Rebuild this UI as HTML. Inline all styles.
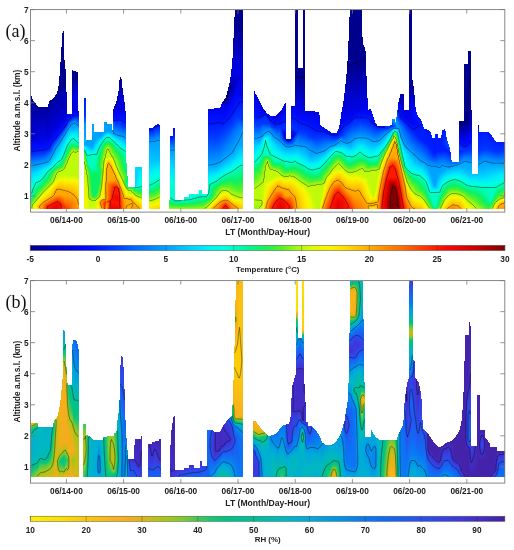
<!DOCTYPE html>
<html><head><meta charset="utf-8"><style>
html,body{margin:0;padding:0;background:#fff}
#w{position:relative;width:514px;height:550px;overflow:hidden;background:#fff}
#w i{position:absolute;width:1px;display:block}
svg{position:absolute;left:0;top:0}
.t{font-family:"Liberation Sans",Arial,sans-serif;font-weight:bold;font-size:8.3px;text-anchor:middle;fill:#222}
.s{font-family:"Liberation Serif","Times New Roman",serif;font-size:18px;fill:#111}
</style></head><body><div id="w">
<i style="left:31px;top:96px;height:113px;background:linear-gradient(#00009c 0.5px,#0002dd 43.5px,#000eff 53.5px,#0031ff 58.5px,#007bff 65.5px,#00bfff 74.5px,#00eef7 86.5px,#00fedf 93.5px,#00fbb1 99.5px,#0ef061 103.5px,#54f027 107.5px,#a1f712 110.5px,#acf80f 112.5px)"></i>
<i style="left:32px;top:99px;height:110px;background:linear-gradient(#00009c 0.5px,#0001da 39.5px,#000fff 50.5px,#0032ff 55.5px,#007dff 62.5px,#00dcff 75.5px,#00ffe6 86.5px,#01f9a0 95.5px,#08f272 98.5px,#26f04c 100.5px,#4ff029 102.5px,#b0f90e 105.5px,#c2fa09 106.5px,#c7fa08 109.5px)"></i>
<i style="left:33px;top:101px;height:108px;background:linear-gradient(#00009c 0.5px,#0001db 37.5px,#0010ff 48.5px,#0034ff 53.5px,#007eff 60.5px,#00e7fb 74.5px,#00fedf 82.5px,#04f691 92.5px,#09f16b 95.5px,#29f049 97.5px,#54f027 99.5px,#b6f90c 102.5px,#cafa08 103.5px,#dafa05 107.5px)"></i>
<i style="left:34px;top:102px;height:107px;background:linear-gradient(#00009c 0.5px,#0001db 36.5px,#0010ff 47.5px,#0036ff 52.5px,#0080ff 59.5px,#00e3fe 72.5px,#00fee1 78.5px,#00fcc0 83.5px,#00fbb9 85.5px,#03f797 88.5px,#0ef060 93.5px,#41f035 96.5px,#9bf714 99.5px,#d0fa07 101.5px,#e4fa03 102.5px,#eafa02 106.5px)"></i>
<i style="left:35px;top:103px;height:106px;background:linear-gradient(#00009b 0.5px,#0002e0 36.5px,#0011ff 46.5px,#0038ff 51.5px,#0082ff 58.5px,#00e5fc 71.5px,#00ffe9 76.5px,#00fcc0 80.5px,#00fbbd 83.5px,#04f68b 86.5px,#0ff05f 90.5px,#48f02f 94.5px,#7ff41b 96.5px,#bffa0a 98.5px,#f6f700 101.5px,#f7f500 105.5px)"></i>
<i style="left:36px;top:105px;height:104px;background:linear-gradient(#00009c 0.5px,#0003e4 35.5px,#0012ff 44.5px,#003aff 49.5px,#0083ff 56.5px,#00e2fe 68.5px,#00fee3 74.5px,#00fcc0 77.5px,#00fcc0 80.5px,#09f16c 85.5px,#25f04d 88.5px,#4ff029 91.5px,#c3fa09 95.5px,#f7f600 98.5px,#fee400 100.5px,#fde700 103.5px)"></i>
<i style="left:37px;top:106px;height:103px;background:linear-gradient(#00009c 0.5px,#0003e5 34.5px,#0012ff 43.5px,#003cff 48.5px,#0085ff 55.5px,#00e0ff 66.5px,#00ffe9 72.5px,#00fcc0 76.5px,#00fcc0 78.5px,#0af067 83.5px,#59f126 89.5px,#c6fa09 93.5px,#f7f500 96.5px,#ffd000 100.5px,#ffdb00 102.5px)"></i>
<i style="left:38px;top:107px;height:102px;background:linear-gradient(#00009d 0.5px,#0004e5 33.5px,#0013ff 42.5px,#003eff 47.5px,#0087ff 54.5px,#00e4fd 65.5px,#00fee4 71.5px,#00fcc1 74.5px,#00fcc0 76.5px,#09f16b 81.5px,#42f034 85.5px,#66f222 87.5px,#dbfa05 92.5px,#f7f400 94.5px,#ffd300 97.5px,#ffb800 99.5px,#ffcb00 101.5px)"></i>
<i style="left:39px;top:107px;height:102px;background:linear-gradient(#00009d 0.5px,#0004e6 33.5px,#0013ff 42.5px,#0040ff 47.5px,#0088ff 54.5px,#00e2fe 64.5px,#00ffea 70.5px,#00fcc0 74.5px,#00fcc0 75.5px,#09f16e 80.5px,#48f02f 84.5px,#9ef713 88.5px,#f0fa01 92.5px,#ffd200 96.5px,#ffaa00 99.5px,#ffb700 101.5px)"></i>
<i style="left:40px;top:107px;height:102px;background:linear-gradient(#00009e 0.5px,#0004e7 33.5px,#0014ff 42.5px,#0042ff 47.5px,#008aff 54.5px,#00e6fc 64.5px,#00fee2 70.5px,#00faaf 75.5px,#11f05e 80.5px,#5ff124 84.5px,#cefa07 89.5px,#f3fa00 91.5px,#ffd200 95.5px,#ffa900 98.5px,#ffa900 101.5px)"></i>
<i style="left:41px;top:107px;height:102px;background:linear-gradient(#00009e 0.5px,#0003e3 32.5px,#0010ff 41.5px,#002cff 45.5px,#0083ff 53.5px,#00e5fd 63.5px,#00fee3 69.5px,#00faad 74.5px,#12f05d 79.5px,#5bf125 83.5px,#c1fa0a 87.5px,#f4fa00 90.5px,#ffd100 94.5px,#ffa700 97.5px,#ff9900 101.5px)"></i>
<i style="left:42px;top:107px;height:102px;background:linear-gradient(#00009e 0.5px,#0004e8 33.5px,#0011ff 41.5px,#002eff 45.5px,#0085ff 53.5px,#00e9fa 63.5px,#00fee1 68.5px,#00faaa 73.5px,#09f16b 77.5px,#5df125 82.5px,#c3fa09 86.5px,#f2fa01 89.5px,#ffd300 93.5px,#ff9900 97.5px,#ff8700 101.5px)"></i>
<i style="left:43px;top:107px;height:102px;background:linear-gradient(#00009e 0.5px,#0004e8 33.5px,#0012ff 41.5px,#002fff 45.5px,#007dff 52.5px,#00b1ff 57.5px,#00e7fb 62.5px,#00fee0 67.5px,#00faa8 72.5px,#09f169 76.5px,#5ef124 81.5px,#c5fa09 85.5px,#f3fa00 88.5px,#ffd600 92.5px,#ff8300 97.5px,#ff7400 101.5px)"></i>
<i style="left:44px;top:107px;height:102px;background:linear-gradient(#00009e 0.5px,#0003e3 31.5px,#0012ff 41.5px,#003eff 46.5px,#0080ff 52.5px,#00b5ff 57.5px,#00e6fc 61.5px,#00ffea 65.5px,#05f587 73.5px,#0af067 75.5px,#5ef124 80.5px,#c5fa09 84.5px,#f3fa00 87.5px,#ffda00 91.5px,#ff6800 98.5px,#ff5b00 101.5px)"></i>
<i style="left:45px;top:107px;height:102px;background:linear-gradient(#00009e 0.5px,#0003e1 30.5px,#000fff 40.5px,#0022ff 43.5px,#0079ff 51.5px,#00b8ff 57.5px,#00ebf8 61.5px,#00fedb 65.5px,#0af066 74.5px,#60f124 79.5px,#c5fa09 83.5px,#f1fa01 86.5px,#ffd000 91.5px,#ff7800 96.5px,#ff4d00 98.5px,#ff3f00 101.5px)"></i>
<i style="left:46px;top:107px;height:102px;background:linear-gradient(#00009e 0.5px,#0000d7 26.5px,#0003e3 30.5px,#0012ff 40.5px,#0019ff 42.5px,#0067ff 48.5px,#00a1ff 55.5px,#00e6fc 60.5px,#00ffe7 63.5px,#0af064 73.5px,#61f223 78.5px,#c5fa09 82.5px,#f7f600 86.5px,#ffd300 90.5px,#ff9500 94.5px,#ff3a00 98.5px,#fd2800 100.5px,#fd2700 101.5px)"></i>
<i style="left:47px;top:107px;height:102px;background:linear-gradient(#00009f 0.5px,#0000d7 26.5px,#0002dd 29.5px,#000dff 38.5px,#001bff 42.5px,#0065ff 47.5px,#00a7ff 55.5px,#00ecf8 60.5px,#00ffeb 62.5px,#04f691 68.5px,#0ef061 72.5px,#62f223 77.5px,#c5fa09 81.5px,#f6f700 85.5px,#ffca00 90.5px,#ff8a00 94.5px,#fc1900 99.5px,#fb1700 101.5px)"></i>
<i style="left:48px;top:104px;height:105px;background:linear-gradient(#00009c 0.5px,#0000d7 29.5px,#0002de 32.5px,#000afe 39.5px,#0020ff 45.5px,#006eff 50.5px,#00adff 58.5px,#00e8fa 62.5px,#00fdec 64.5px,#05f589 70.5px,#0af066 73.5px,#4cf02c 78.5px,#c6fa09 83.5px,#f6f700 87.5px,#ffcd00 92.5px,#ff9200 96.5px,#ff3900 100.5px,#fd2200 101.5px,#fb1300 104.5px)"></i>
<i style="left:49px;top:101px;height:108px;background:linear-gradient(#00009b 0.5px,#0000d7 32.5px,#000dff 42.5px,#0027ff 48.5px,#006dff 52.5px,#00b4ff 61.5px,#00eff6 65.5px,#00fee1 67.5px,#04f68e 71.5px,#13f05c 75.5px,#4df02a 80.5px,#c6fa08 85.5px,#f2fa01 88.5px,#ffd200 94.5px,#ff9a00 98.5px,#fc1800 104.5px,#fa0e00 107.5px)"></i>
<i style="left:50px;top:100px;height:109px;background:linear-gradient(#00009b 0.5px,#0003e4 36.5px,#000dff 42.5px,#0028ff 47.5px,#005aff 51.5px,#0082ff 54.5px,#00cfff 63.5px,#00f5f2 66.5px,#00fdd0 68.5px,#09f169 73.5px,#52f027 80.5px,#d8fa05 86.5px,#f5fa00 88.5px,#ffd400 94.5px,#ffa200 98.5px,#ff5100 102.5px,#fd2200 104.5px,#f90a00 108.5px)"></i>
<i style="left:51px;top:100px;height:109px;background:linear-gradient(#00009d 0.5px,#0003e4 34.5px,#000dff 41.5px,#0031ff 46.5px,#008eff 54.5px,#00e7fb 64.5px,#00fdec 66.5px,#0af064 72.5px,#49f02e 77.5px,#72f31f 80.5px,#eafa02 86.5px,#f8f200 88.5px,#ffbf00 95.5px,#ff9700 98.5px,#fc1800 104.5px,#f70900 108.5px)"></i>
<i style="left:52px;top:99px;height:110px;background:linear-gradient(#00009d 0.5px,#0001dd 31.5px,#000eff 41.5px,#0030ff 45.5px,#0077ff 51.5px,#00eaf9 64.5px,#00fced 66.5px,#04f68e 70.5px,#10f05f 72.5px,#4cf02b 76.5px,#b3f90d 83.5px,#f7f600 87.5px,#ffab00 97.5px,#ff6800 101.5px,#fd2200 104.5px,#fa0a00 107.5px,#f40800 109.5px)"></i>
<i style="left:53px;top:98px;height:111px;background:linear-gradient(#00009d 0.5px,#0001dd 31.5px,#000fff 41.5px,#002aff 44.5px,#006eff 49.5px,#00e5fc 63.5px,#00feec 66.5px,#03f794 70.5px,#11f05e 72.5px,#3df039 74.5px,#47f030 75.5px,#7df41c 78.5px,#d8fa05 85.5px,#f7f600 87.5px,#ffaa00 97.5px,#ff9400 99.5px,#fc1800 105.5px,#f70900 108.5px,#f10700 110.5px)"></i>
<i style="left:54px;top:97px;height:112px;background:linear-gradient(#00009e 0.5px,#0001db 31.5px,#0011ff 41.5px,#002dff 44.5px,#006aff 48.5px,#00a9ff 55.5px,#00c6ff 59.5px,#00f1f5 64.5px,#00ffe6 66.5px,#06f47f 71.5px,#0bf063 72.5px,#42f034 74.5px,#84f51a 77.5px,#bdfa0a 81.5px,#cafa08 83.5px,#f6f700 87.5px,#ffaa00 96.5px,#ffaa00 98.5px,#ff4e00 103.5px,#fb1300 106.5px,#ef0700 110.5px,#ec0600 111.5px)"></i>
<i style="left:55px;top:95px;height:114px;background:linear-gradient(#00009c 0.5px,#0002de 33.5px,#000dff 41.5px,#0023ff 44.5px,#007aff 50.5px,#00a9ff 55.5px,#00ceff 61.5px,#00fbed 66.5px,#00faac 70.5px,#0af067 73.5px,#5df125 76.5px,#88f519 77.5px,#befa0a 80.5px,#c5fa09 84.5px,#f4fa00 87.5px,#ffdf00 91.5px,#ffb700 94.5px,#ffaa00 97.5px,#ffa700 100.5px,#fc1800 107.5px,#f10700 110.5px,#ea0500 113.5px)"></i>
<i style="left:56px;top:94px;height:115px;background:linear-gradient(#00009d 0.5px,#0001dc 33.5px,#000fff 41.5px,#0026ff 44.5px,#007eff 50.5px,#00afff 55.5px,#00e2ff 63.5px,#00feec 66.5px,#00fcc0 69.5px,#00fcbf 70.5px,#0af066 73.5px,#51f028 76.5px,#aaf810 78.5px,#befa0a 79.5px,#c0fa0a 84.5px,#f7f600 88.5px,#ffda00 92.5px,#ffaa00 95.5px,#ffa300 101.5px,#fd2100 107.5px,#f90a00 109.5px,#ea0500 113.5px,#ed0600 114.5px)"></i>
<i style="left:57px;top:91px;height:118px;background:linear-gradient(#000097 0.5px,#0002df 36.5px,#0010ff 43.5px,#0029ff 46.5px,#0076ff 51.5px,#00b4ff 57.5px,#00e8fb 66.5px,#00fee0 69.5px,#00fcc0 71.5px,#00fbb6 73.5px,#11f05e 76.5px,#4ef02a 78.5px,#befa0a 81.5px,#befa0a 86.5px,#f6f800 90.5px,#ffc300 96.5px,#ffaa00 98.5px,#ffaa00 103.5px,#ff8b00 105.5px,#fc1900 110.5px,#ed0600 114.5px,#f10700 117.5px)"></i>
<i style="left:58px;top:86px;height:123px;background:linear-gradient(#00008e 0.5px,#0000aa 13.5px,#0002e0 40.5px,#0011ff 47.5px,#002dff 50.5px,#006fff 54.5px,#00b8ff 61.5px,#00eaf9 70.5px,#00ffe7 73.5px,#00fcc0 75.5px,#00fcc0 77.5px,#04f68f 79.5px,#08f271 80.5px,#39f03c 82.5px,#5cf125 83.5px,#bbfa0b 85.5px,#c5fa09 91.5px,#f4fa00 94.5px,#ffc400 100.5px,#ffaa00 103.5px,#ffaa00 108.5px,#fd2400 115.5px,#f60900 118.5px,#f60900 122.5px)"></i>
<i style="left:59px;top:76px;height:133px;background:linear-gradient(#00008c 0.5px,#000093 13.5px,#0000a8 18.5px,#0001dd 48.5px,#0011ff 56.5px,#0032ff 59.5px,#0074ff 63.5px,#00c4ff 71.5px,#00f3f3 80.5px,#00fdec 82.5px,#00fcc5 84.5px,#00fcc0 87.5px,#0af066 90.5px,#45f031 92.5px,#9ff712 94.5px,#befa0a 95.5px,#c0fa0a 100.5px,#effa01 103.5px,#ffcc00 109.5px,#ffaa00 113.5px,#ffaa00 118.5px,#fc1e00 126.5px,#fa0a00 129.5px,#fa0d00 132.5px)"></i>
<i style="left:60px;top:62px;height:147px;background:linear-gradient(#00008c 0.5px,#000091 26.5px,#0000ad 32.5px,#0000b3 40.5px,#0002de 61.5px,#0013ff 69.5px,#0027ff 71.5px,#006eff 75.5px,#00b8ff 82.5px,#00ebf8 90.5px,#00fedf 96.5px,#00fcc0 98.5px,#00fcc0 99.5px,#03f793 102.5px,#15f05b 104.5px,#53f027 106.5px,#b4f90d 108.5px,#befa0a 110.5px,#befa0a 113.5px,#f6f800 117.5px,#ffce00 123.5px,#ffaa00 127.5px,#ffa900 132.5px,#fc1b00 141.5px,#fb1400 146.5px)"></i>
<i style="left:61px;top:47px;height:162px;background:linear-gradient(#00008c 0.5px,#00008f 40.5px,#0000b2 47.5px,#0000b3 54.5px,#0002e0 75.5px,#0014ff 83.5px,#002cff 85.5px,#0074ff 89.5px,#00bdff 96.5px,#00f1f5 104.5px,#00fedf 109.5px,#01f9a3 114.5px,#0df061 118.5px,#40f035 120.5px,#befa0a 123.5px,#c4fa09 128.5px,#f5f900 132.5px,#ffc700 139.5px,#ffab00 142.5px,#ffaa00 147.5px,#fc1e00 157.5px,#fc1f00 161.5px)"></i>
<i style="left:62px;top:33px;height:176px;background:linear-gradient(#00008c 0.5px,#000091 54.5px,#0000b7 61.5px,#0000b5 68.5px,#0001db 87.5px,#000fff 95.5px,#0020ff 97.5px,#007bff 102.5px,#00baff 108.5px,#00ecf8 115.5px,#00fede 121.5px,#00fbb4 125.5px,#10f05f 130.5px,#4ef02a 134.5px,#adf80f 136.5px,#befa0a 137.5px,#bffa0a 141.5px,#f7f500 147.5px,#ffc000 154.5px,#ffaa00 157.5px,#ffa400 162.5px,#fd2200 172.5px,#ff3300 175.5px)"></i>
<i style="left:63px;top:31px;height:178px;background:linear-gradient(#00008c 0.5px,#000090 55.5px,#0000bc 63.5px,#0000b9 71.5px,#0001db 88.5px,#0011ff 96.5px,#0025ff 98.5px,#0074ff 102.5px,#00afff 107.5px,#00ecf8 115.5px,#00fee2 120.5px,#00fbb5 125.5px,#12f05d 130.5px,#6cf320 135.5px,#9bf714 137.5px,#befa0a 138.5px,#befa0a 143.5px,#f2fa01 148.5px,#ffcc00 155.5px,#ffaa00 159.5px,#ffa900 164.5px,#ff4a00 172.5px,#fd2900 175.5px,#ff4000 177.5px)"></i>
<i style="left:64px;top:60px;height:149px;background:linear-gradient(#00008c 0.5px,#00008e 25.5px,#0000c1 34.5px,#0000bb 42.5px,#0001db 58.5px,#000dff 65.5px,#0018ff 67.5px,#007bff 72.5px,#00b4ff 77.5px,#00edf7 84.5px,#00fedf 89.5px,#00faaf 94.5px,#09f16c 98.5px,#5bf125 103.5px,#bbfa0b 107.5px,#befa0a 114.5px,#f5fa00 119.5px,#ffd700 125.5px,#ffaa00 130.5px,#ffa600 135.5px,#ff8000 140.5px,#fe3100 146.5px,#fe3100 147.5px,#ff3d00 148.5px)"></i>
<i style="left:65px;top:69px;height:140px;background:linear-gradient(#00008c 0.5px,#000092 16.5px,#0000c5 26.5px,#0000be 34.5px,#0001dc 48.5px,#0011ff 55.5px,#001fff 57.5px,#0074ff 61.5px,#00a9ff 65.5px,#00eaf9 73.5px,#00ffe5 77.5px,#00faa7 83.5px,#09f16d 87.5px,#4af02d 91.5px,#befa0a 96.5px,#befa0a 105.5px,#f4fa00 110.5px,#ffda00 116.5px,#ffab00 121.5px,#ffa700 126.5px,#ff6c00 134.5px,#ff3400 138.5px,#ff3a00 139.5px)"></i>
<i style="left:66px;top:92px;height:117px;background:linear-gradient(#0000be 0.5px,#0000ca 3.5px,#0000c2 12.5px,#0002de 24.5px,#000eff 30.5px,#001aff 32.5px,#009cff 39.5px,#00e8fa 48.5px,#00fee4 52.5px,#06f483 60.5px,#0af065 62.5px,#4bf02c 66.5px,#b4f90d 70.5px,#befa0a 72.5px,#befa0a 82.5px,#f7f600 88.5px,#ffc900 95.5px,#ffaa00 99.5px,#ffa100 104.5px,#ff6000 113.5px,#ff3600 116.5px)"></i>
<i style="left:67px;top:114px;height:95px;background:linear-gradient(#0006ed 0.5px,#0004e6 2.5px,#0012ff 7.5px,#0026ff 9.5px,#0086ff 14.5px,#00aaff 17.5px,#00ecf7 25.5px,#00ffe8 28.5px,#09f16e 37.5px,#1df054 39.5px,#65f222 43.5px,#bbfa0b 46.5px,#c4fa09 61.5px,#f6f700 66.5px,#ffc900 73.5px,#ffaa00 77.5px,#ffa200 82.5px,#ff5000 93.5px,#ff4500 94.5px)"></i>
<i style="left:68px;top:114px;height:95px;background:linear-gradient(#000eff 0.5px,#0006ed 2.5px,#0015ff 6.5px,#0048ff 9.5px,#00a1ff 14.5px,#00eaf9 23.5px,#00feec 26.5px,#08f26f 35.5px,#31f043 38.5px,#51f028 40.5px,#bcfa0b 44.5px,#c3fa09 61.5px,#f6f700 66.5px,#ffca00 73.5px,#ffaa00 77.5px,#ffa300 82.5px,#ff4a00 94.5px)"></i>
<i style="left:69px;top:114px;height:95px;background:linear-gradient(#0019ff 0.5px,#0009fb 3.5px,#0024ff 6.5px,#006bff 9.5px,#009cff 12.5px,#00ecf8 22.5px,#00fee4 25.5px,#00faaf 29.5px,#0af065 34.5px,#55f027 38.5px,#bdfa0a 42.5px,#c2fa09 61.5px,#f6f800 66.5px,#ffcb00 73.5px,#ffaa00 78.5px,#ffa400 82.5px,#ff5100 94.5px)"></i>
<i style="left:70px;top:114px;height:95px;background:linear-gradient(#0019ff 0.5px,#0015ff 4.5px,#0035ff 6.5px,#0086ff 9.5px,#00a0ff 11.5px,#00a0ff 13.5px,#00dcff 19.5px,#00fced 23.5px,#00fcc0 26.5px,#00fcc0 28.5px,#04f691 30.5px,#08f275 31.5px,#17f059 33.5px,#48f02f 36.5px,#befa0a 40.5px,#c1fa09 61.5px,#f6f800 66.5px,#ffc300 74.5px,#ffaa00 79.5px,#ffa500 82.5px,#ff6400 92.5px,#ff6100 94.5px)"></i>
<i style="left:71px;top:114px;height:95px;background:linear-gradient(#0019ff 0.5px,#0019ff 3.5px,#0034ff 5.5px,#0094ff 9.5px,#00a0ff 10.5px,#00a0ff 13.5px,#00ecf8 20.5px,#00fee4 23.5px,#00fcc0 25.5px,#00fcc0 28.5px,#04f690 30.5px,#17f058 32.5px,#3ff036 34.5px,#4cf02b 35.5px,#aff90e 38.5px,#befa0a 39.5px,#c0fa0a 61.5px,#f6f900 66.5px,#ffaa00 79.5px,#ff9f00 83.5px,#ff7400 90.5px,#ff6c00 94.5px)"></i>
<i style="left:72px;top:70px;height:139px;background:linear-gradient(#00008c 0.5px,#000092 10.5px,#0003e2 25.5px,#0000d6 39.5px,#000afd 43.5px,#001dff 47.5px,#009dff 53.5px,#00a1ff 57.5px,#00e7fb 63.5px,#00ffe9 66.5px,#00fcc3 68.5px,#00fcc0 72.5px,#08f272 75.5px,#19f057 76.5px,#54f027 78.5px,#b0f90e 81.5px,#befa0a 82.5px,#bffa0a 105.5px,#f5f900 110.5px,#ffac00 123.5px,#ff9900 128.5px,#ff7f00 133.5px,#ff7900 138.5px)"></i>
<i style="left:73px;top:71px;height:138px;background:linear-gradient(#00008c 0.5px,#000091 8.5px,#0003e5 24.5px,#0000d7 38.5px,#000cff 43.5px,#0026ff 46.5px,#0090ff 51.5px,#00a0ff 52.5px,#00a3ff 56.5px,#00e8fa 62.5px,#00fee0 65.5px,#00fcc0 67.5px,#00fcc0 71.5px,#08f271 74.5px,#37f03e 76.5px,#56f126 77.5px,#b0f90e 79.5px,#befa0a 80.5px,#befa0a 104.5px,#f5fa00 109.5px,#ffb700 121.5px,#ff8900 131.5px,#ff8000 137.5px)"></i>
<i style="left:74px;top:71px;height:138px;background:linear-gradient(#00008c 0.5px,#00008f 7.5px,#0004e8 24.5px,#0000d7 38.5px,#0010ff 44.5px,#002bff 46.5px,#0085ff 50.5px,#00a0ff 52.5px,#00a4ff 56.5px,#00eaf9 62.5px,#00fee1 65.5px,#00fcc0 68.5px,#00fcc0 71.5px,#08f270 74.5px,#38f03d 76.5px,#58f126 77.5px,#b8f90c 80.5px,#befa0a 94.5px,#befa0a 104.5px,#f5fa00 109.5px,#ffbc00 121.5px,#ff8b00 133.5px,#ff8500 137.5px)"></i>
<i style="left:75px;top:71px;height:138px;background:linear-gradient(#00008c 0.5px,#000093 7.5px,#0005eb 24.5px,#0000d9 38.5px,#0011ff 44.5px,#002fff 46.5px,#0076ff 49.5px,#00a0ff 52.5px,#00a6ff 56.5px,#00ebf8 62.5px,#00ffe5 66.5px,#00fcc2 69.5px,#00fcc0 71.5px,#09f16e 74.5px,#57f126 78.5px,#abf80f 80.5px,#befa0a 81.5px,#befa0a 104.5px,#f4fa00 109.5px,#ffcd00 119.5px,#ff9a00 130.5px,#ff8a00 137.5px)"></i>
<i style="left:76px;top:72px;height:137px;background:linear-gradient(#00008c 0.5px,#000092 5.5px,#0005ea 22.5px,#0005eb 28.5px,#0002df 35.5px,#0001db 37.5px,#000aff 42.5px,#001fff 44.5px,#0060ff 47.5px,#00a0ff 52.5px,#00a7ff 55.5px,#00dfff 60.5px,#00ffea 66.5px,#00fcc0 69.5px,#00fcc0 70.5px,#09f16a 74.5px,#5df125 77.5px,#b6f90c 79.5px,#befa0a 83.5px,#befa0a 103.5px,#f7f600 109.5px,#ffa900 126.5px,#ff8e00 136.5px)"></i>
<i style="left:77px;top:72px;height:137px;background:linear-gradient(#00008c 0.5px,#000096 5.5px,#0005ec 22.5px,#0006f0 27.5px,#0003e3 34.5px,#0000d8 36.5px,#000cff 42.5px,#003cff 46.5px,#0087ff 51.5px,#00a0ff 53.5px,#00a9ff 55.5px,#00d5ff 60.5px,#00fdec 67.5px,#00fbb8 71.5px,#0af064 74.5px,#67f222 77.5px,#befa0a 79.5px,#befa0a 103.5px,#f6f600 109.5px,#fee300 115.5px,#ffa700 129.5px,#ff9900 135.5px,#ff9200 136.5px)"></i>
<i style="left:78px;top:111px;height:98px;background:linear-gradient(#0006ee 0.5px,#0010ff 3.5px,#0049ff 8.5px,#00a8ff 16.5px,#00ebf9 26.5px,#00fced 29.5px,#00fbb3 32.5px,#10f05e 35.5px,#49f02e 37.5px,#9ff712 39.5px,#befa0a 40.5px,#c3fa09 65.5px,#f6f700 70.5px,#ffc500 85.5px,#ffad00 92.5px,#ff9800 97.5px)"></i>
<i style="left:84px;top:98px;height:111px;background:linear-gradient(#0019ff 0.5px,#002dff 17.5px,#009fff 27.5px,#00a3ff 37.5px,#00caff 42.5px,#00a0ff 45.5px,#00acff 46.5px,#00dfff 48.5px,#00f3f3 49.5px,#00fcc9 51.5px,#00faae 52.5px,#09f16d 53.5px,#48f02f 56.5px,#7cf41c 59.5px,#8ef617 61.5px,#befa0a 63.5px,#befa0a 78.5px,#ddfa04 81.5px,#f8f200 100.5px,#f9f100 108.5px,#f7f400 110.5px)"></i>
<i style="left:85px;top:98px;height:111px;background:linear-gradient(#001fff 0.5px,#003bff 18.5px,#00a0ff 27.5px,#00a0ff 38.5px,#00bcff 42.5px,#00a0ff 44.5px,#00a6ff 46.5px,#00eef6 49.5px,#00ffe8 51.5px,#00fcc3 54.5px,#09f16e 57.5px,#27f04b 59.5px,#48f02f 62.5px,#befa0a 67.5px,#befa0a 78.5px,#d5fa06 81.5px,#f8f200 104.5px,#f4fa00 110.5px)"></i>
<i style="left:86px;top:140px;height:69px;background:linear-gradient(#00a6ff 0.5px,#00a0ff 4.5px,#00e2ff 7.5px,#00ffe8 11.5px,#00fbbc 15.5px,#07f37c 18.5px,#0af065 20.5px,#54f027 25.5px,#a7f810 28.5px,#b9fa0b 29.5px,#befa0a 36.5px,#ccfa07 40.5px,#ecfa02 59.5px,#f5fa00 63.5px,#ecfa02 68.5px)"></i>
<i style="left:87px;top:140px;height:69px;background:linear-gradient(#00a0ff 0.5px,#00a0ff 4.5px,#00dfff 8.5px,#00ffe6 13.5px,#00fcc9 14.5px,#00fcc0 16.5px,#00fab0 19.5px,#0df062 25.5px,#1df054 26.5px,#50f028 28.5px,#76f31e 29.5px,#befa0a 35.5px,#ddfa04 59.5px,#e5fa03 63.5px,#e1fa04 67.5px,#e4fa03 68.5px)"></i>
<i style="left:88px;top:140px;height:69px;background:linear-gradient(#00a0ff 0.5px,#00a7ff 5.5px,#00ddff 9.5px,#00f5f2 12.5px,#00fee4 13.5px,#00fcc7 14.5px,#00fcc0 19.5px,#00fcc0 23.5px,#00faa8 25.5px,#0af065 27.5px,#3bf03a 29.5px,#81f41b 36.5px,#9df713 40.5px,#bffa0a 51.5px,#cefa07 59.5px,#d4fa06 63.5px,#dcfa05 68.5px)"></i>
<i style="left:89px;top:140px;height:69px;background:linear-gradient(#00a0ff 0.5px,#00a0ff 5.5px,#00e9fa 11.5px,#00fee2 13.5px,#00fcc5 14.5px,#00fbbc 26.5px,#0bf063 29.5px,#1ff052 31.5px,#58f126 41.5px,#a8f810 57.5px,#c3fa09 60.5px,#d3fa06 68.5px)"></i>
<i style="left:90px;top:140px;height:69px;background:linear-gradient(#00a0ff 0.5px,#00a1ff 6.5px,#00eaf9 11.5px,#00fedf 13.5px,#00fcc3 14.5px,#00fcbe 27.5px,#05f587 29.5px,#08f275 32.5px,#0af064 33.5px,#18f058 38.5px,#5cf125 53.5px,#64f223 55.5px,#91f616 58.5px,#befa0a 59.5px,#cbfa08 67.5px,#cffa07 68.5px)"></i>
<i style="left:91px;top:140px;height:69px;background:linear-gradient(#00a0ff 0.5px,#00a0ff 6.5px,#00cbff 9.5px,#00f8f0 12.5px,#00fcc1 14.5px,#00fcbf 28.5px,#0af064 33.5px,#11f05e 45.5px,#38f03d 54.5px,#62f223 57.5px,#83f51a 58.5px,#b5f90c 59.5px,#befa0a 62.5px,#d1fa07 68.5px)"></i>
<i style="left:92px;top:124px;height:85px;background:linear-gradient(#00a0ff 0.5px,#00a0ff 20.5px,#00bcff 24.5px,#00ecf8 27.5px,#00fedb 29.5px,#00fcc0 30.5px,#00fbbc 44.5px,#02f89e 46.5px,#0af064 49.5px,#0ef061 68.5px,#1cf055 70.5px,#4af02d 73.5px,#acf80f 75.5px,#befa0a 76.5px,#c7fa08 81.5px,#d4fa06 84.5px)"></i>
<i style="left:93px;top:124px;height:85px;background:linear-gradient(#00a0ff 0.5px,#00a0ff 18.5px,#00dfff 26.5px,#00faee 28.5px,#00fcc0 30.5px,#00fbba 43.5px,#00faae 45.5px,#0af064 49.5px,#0af064 70.5px,#29f049 72.5px,#44f033 73.5px,#a2f712 75.5px,#befa0a 76.5px,#c9fa08 81.5px,#d7fa06 84.5px)"></i>
<i style="left:94px;top:132px;height:77px;background:linear-gradient(#00a0ff 0.5px,#00a6ff 9.5px,#00e6fc 18.5px,#00fbee 20.5px,#00fcc0 22.5px,#00fcbe 33.5px,#02f89e 38.5px,#0af064 41.5px,#0af064 63.5px,#1df054 64.5px,#65f222 66.5px,#98f714 67.5px,#befa0a 68.5px,#d9fa05 76.5px)"></i>
<i style="left:95px;top:132px;height:77px;background:linear-gradient(#00a0ff 0.5px,#00a0ff 7.5px,#00e9fa 16.5px,#00fced 20.5px,#00fcc0 22.5px,#00fbb8 29.5px,#00faaa 35.5px,#03f798 38.5px,#0af064 41.5px,#0af064 62.5px,#25f04d 64.5px,#61f223 66.5px,#befa0a 68.5px,#ddfa04 76.5px)"></i>
<i style="left:96px;top:132px;height:77px;background:linear-gradient(#00a0ff 0.5px,#00a0ff 6.5px,#00e5fd 13.5px,#00fee1 19.5px,#00fcc0 22.5px,#03f792 33.5px,#01f9a1 35.5px,#05f58a 39.5px,#0af064 41.5px,#0af064 60.5px,#43f033 64.5px,#62f223 65.5px,#befa0a 67.5px,#eafa02 69.5px,#d4fa06 71.5px,#e6fa03 76.5px)"></i>
<i style="left:97px;top:132px;height:77px;background:linear-gradient(#00a0ff 0.5px,#00a0ff 5.5px,#00eaf9 12.5px,#00fedc 17.5px,#03f792 26.5px,#07f378 33.5px,#03f792 36.5px,#08f275 40.5px,#0af064 41.5px,#0df061 58.5px,#4af02d 63.5px,#64f223 64.5px,#d9fa05 67.5px,#f4fa00 68.5px,#f9f000 70.5px,#e5fa03 73.5px,#f0fa01 76.5px)"></i>
<i style="left:98px;top:132px;height:77px;background:linear-gradient(#00a0ff 0.5px,#00a2ff 5.5px,#00deff 9.5px,#00fee3 14.5px,#04f68c 23.5px,#0af065 31.5px,#0ff060 34.5px,#06f480 37.5px,#08f275 40.5px,#0af064 41.5px,#0af064 53.5px,#4bf02c 60.5px,#8bf518 64.5px,#f5fa00 67.5px,#ffdb00 70.5px,#f5fa00 75.5px,#f6f800 76.5px)"></i>
<i style="left:99px;top:132px;height:77px;background:linear-gradient(#00a0ff 0.5px,#00a0ff 4.5px,#00beff 6.5px,#00eaf9 9.5px,#00ffe7 12.5px,#03f793 19.5px,#10f05f 26.5px,#2cf047 34.5px,#09f16c 38.5px,#11f05e 49.5px,#63f223 58.5px,#c7fa08 65.5px,#f0fa01 66.5px,#ffcd00 69.5px,#ffc000 70.5px,#faed00 76.5px)"></i>
<i style="left:100px;top:132px;height:77px;background:linear-gradient(#00a0ff 0.5px,#00a0ff 4.5px,#00eaf9 8.5px,#00fede 11.5px,#04f68c 17.5px,#0ff05f 22.5px,#3df038 31.5px,#41f035 35.5px,#16f05a 39.5px,#51f028 51.5px,#c3fa09 61.5px,#d8fa05 65.5px,#f9ef00 66.5px,#ffb200 69.5px,#ffa600 71.5px,#ffd600 76.5px)"></i>
<i style="left:101px;top:132px;height:77px;background:linear-gradient(#00a0ff 0.5px,#00a0ff 3.5px,#00e5fd 7.5px,#00ffe9 9.5px,#07f379 16.5px,#12f05d 19.5px,#48f02f 27.5px,#68f221 35.5px,#3ff037 38.5px,#78f41d 47.5px,#e5fa03 61.5px,#f4fa00 65.5px,#fde700 66.5px,#ffaf00 68.5px,#ff8800 71.5px,#ffad00 75.5px,#ffc300 76.5px)"></i>
<i style="left:102px;top:132px;height:77px;background:linear-gradient(#00a0ff 0.5px,#00a0ff 2.5px,#00e5fc 6.5px,#00ffe8 8.5px,#00fbba 10.5px,#09f16b 15.5px,#3ff037 21.5px,#72f31f 28.5px,#94f615 35.5px,#7cf41c 37.5px,#d2fa06 50.5px,#f6f800 58.5px,#fde700 66.5px,#ffb200 67.5px,#ff9600 68.5px,#ff7000 71.5px,#ff9200 75.5px,#ffa800 76.5px)"></i>
<i style="left:103px;top:132px;height:77px;background:linear-gradient(#00a0ff 0.5px,#00a0ff 1.5px,#00e8fa 5.5px,#00fee2 7.5px,#00fbb3 9.5px,#0cf063 14.5px,#3af03b 17.5px,#74f31e 23.5px,#b1f90d 32.5px,#f6f700 48.5px,#ffe100 66.5px,#ff7e00 68.5px,#ff5100 71.5px,#ff5100 72.5px,#ff6600 75.5px,#ff9000 76.5px)"></i>
<i style="left:104px;top:122px;height:87px;background:linear-gradient(#00a0ff 0.5px,#00a0ff 10.5px,#00c1ff 12.5px,#00f9ef 15.5px,#00faae 18.5px,#09f168 22.5px,#5cf125 27.5px,#b2f90d 35.5px,#f6f800 45.5px,#ffcb00 69.5px,#ffcb00 76.5px,#ffb200 77.5px,#ff4600 79.5px,#fe2c00 82.5px,#fe2c00 85.5px,#fc1900 86.5px)"></i>
<i style="left:105px;top:122px;height:87px;background:linear-gradient(#00a0ff 0.5px,#00a5ff 10.5px,#00e6fc 13.5px,#00f8f0 14.5px,#00fdd1 15.5px,#00fcc0 16.5px,#00fcc0 17.5px,#0cf062 21.5px,#50f028 25.5px,#89f519 27.5px,#befa0a 32.5px,#befa0a 35.5px,#e7fa03 37.5px,#f9ef00 41.5px,#ffcb00 50.5px,#ffac00 66.5px,#ffb200 77.5px,#ff3f00 79.5px,#fd2500 80.5px,#ff4b00 82.5px,#ff6900 86.5px)"></i>
<i style="left:106px;top:122px;height:87px;background:linear-gradient(#00a0ff 0.5px,#00a1ff 9.5px,#00dbff 12.5px,#00ffe9 14.5px,#00fcc0 15.5px,#00fcc0 17.5px,#08f272 20.5px,#17f059 21.5px,#47f030 23.5px,#b0f90e 27.5px,#befa0a 28.5px,#befa0a 35.5px,#f6f700 37.5px,#ffd400 41.5px,#ffaa00 46.5px,#ffaa00 59.5px,#ff9e00 61.5px,#ff9f00 76.5px,#ff9100 78.5px,#ff6400 79.5px,#ff6f00 80.5px,#ff9a00 81.5px,#ffaa00 86.5px)"></i>
<i style="left:107px;top:124px;height:85px;background:linear-gradient(#00a0ff 0.5px,#00a1ff 7.5px,#00e5fc 10.5px,#00f6f1 11.5px,#00fcc0 13.5px,#00fcbf 15.5px,#08f270 18.5px,#34f040 20.5px,#4ff029 21.5px,#9ff713 23.5px,#bafa0b 24.5px,#befa0a 33.5px,#f7f400 35.5px,#ffce00 37.5px,#ffaa00 40.5px,#ffaa00 57.5px,#ff9000 59.5px,#ff8900 74.5px,#ff7e00 75.5px,#ff6400 76.5px,#fe3100 77.5px,#ff7000 79.5px,#ff8200 80.5px,#ff8000 82.5px,#ff5f00 84.5px)"></i>
<i style="left:108px;top:124px;height:85px;background:linear-gradient(#00a0ff 0.5px,#00a0ff 7.5px,#00e9fa 10.5px,#00fced 11.5px,#00fdcc 12.5px,#00fcc0 13.5px,#00fbbd 15.5px,#09f16e 18.5px,#52f028 21.5px,#9bf714 23.5px,#befa0a 25.5px,#c3fa09 33.5px,#e6fa03 34.5px,#f9f100 35.5px,#ffc700 37.5px,#ffad00 38.5px,#ffa600 57.5px,#ff8200 59.5px,#ff7300 74.5px,#ff6800 75.5px,#ff4b00 76.5px,#fc1f00 77.5px,#ff4600 78.5px,#ff5d00 79.5px,#ff5700 83.5px,#ff3b00 84.5px)"></i>
<i style="left:109px;top:124px;height:85px;background:linear-gradient(#00a0ff 0.5px,#00a0ff 7.5px,#00e6fc 10.5px,#00f8f0 11.5px,#00fcc0 13.5px,#00fbbb 15.5px,#09f16c 18.5px,#47f030 21.5px,#b4f90d 26.5px,#befa0a 28.5px,#befa0a 32.5px,#c9fa08 33.5px,#ecfa02 34.5px,#ffdc00 36.5px,#ffaf00 39.5px,#ffaa00 56.5px,#ff9100 58.5px,#ff7200 60.5px,#ff5a00 74.5px,#ff4b00 75.5px,#fc1c00 77.5px,#fe3000 78.5px,#fd2900 84.5px)"></i>
<i style="left:110px;top:124px;height:85px;background:linear-gradient(#00a0ff 0.5px,#00a0ff 7.5px,#00c3ff 9.5px,#00fbee 12.5px,#00fcc0 14.5px,#00fbb9 15.5px,#08f272 18.5px,#0ff060 19.5px,#56f126 23.5px,#b6f90c 28.5px,#befa0a 31.5px,#befa0a 32.5px,#cffa07 33.5px,#f3fa00 34.5px,#ffc400 39.5px,#ffaa00 41.5px,#ffaa00 56.5px,#ff6100 61.5px,#ff3e00 74.5px,#fc1900 76.5px,#f40800 84.5px)"></i>
<i style="left:111px;top:124px;height:85px;background:linear-gradient(#0093ff 0.5px,#00a0ff 3.5px,#00a0ff 8.5px,#00dfff 11.5px,#00fced 13.5px,#00faab 16.5px,#0ff060 20.5px,#61f223 25.5px,#b7f90c 30.5px,#befa0a 32.5px,#edfa01 34.5px,#ffd900 39.5px,#ffad00 42.5px,#ffaa00 56.5px,#ff4e00 61.5px,#fd2500 74.5px,#fc1900 76.5px,#f10800 84.5px)"></i>
<i style="left:112px;top:130px;height:79px;background:linear-gradient(#00a0ff 0.5px,#00a8ff 3.5px,#00f2f4 7.5px,#00feec 8.5px,#03f797 12.5px,#0df061 15.5px,#54f027 20.5px,#c5fa09 27.5px,#f5f900 31.5px,#ffd500 35.5px,#ffae00 38.5px,#ffaa00 50.5px,#ff3a00 56.5px,#fb1000 70.5px,#fc1900 71.5px,#f50800 76.5px,#f00700 78.5px)"></i>
<i style="left:113px;top:109px;height:100px;background:linear-gradient(#0000c4 0.5px,#0003e4 4.5px,#0010ff 10.5px,#0016ff 11.5px,#005dff 13.5px,#00a0ff 23.5px,#00a0ff 24.5px,#00e8fa 28.5px,#00ffe9 30.5px,#05f585 35.5px,#0af065 37.5px,#5df125 43.5px,#b6f90c 49.5px,#f5fa00 54.5px,#ffd800 58.5px,#ffaf00 61.5px,#ffa700 71.5px,#ff4500 76.5px,#fe2f00 77.5px,#fc1900 83.5px,#f70900 90.5px,#fc1900 92.5px,#f30800 97.5px,#ee0700 99.5px)"></i>
<i style="left:114px;top:106px;height:103px;background:linear-gradient(#000099 0.5px,#0000d8 3.5px,#0011ff 13.5px,#0018ff 14.5px,#0039ff 15.5px,#0085ff 24.5px,#00a9ff 28.5px,#00ebf9 32.5px,#00ffe5 34.5px,#07f378 40.5px,#14f05b 42.5px,#60f124 48.5px,#9ef713 52.5px,#d2fa06 57.5px,#f1fa01 59.5px,#ffda00 63.5px,#ffb000 66.5px,#ffa300 74.5px,#ff4100 79.5px,#fc1900 81.5px,#fb1700 88.5px,#f50800 90.5px,#fa0d00 94.5px,#fc1900 95.5px,#ee0700 102.5px)"></i>
<i style="left:115px;top:104px;height:105px;background:linear-gradient(#00009c 0.5px,#0000d7 3.5px,#000cff 14.5px,#0042ff 20.5px,#0088ff 27.5px,#00a1ff 30.5px,#00eff6 35.5px,#00fee4 37.5px,#07f37a 43.5px,#0ef060 45.5px,#59f126 51.5px,#85f51a 54.5px,#cafa08 61.5px,#f6f700 64.5px,#ffc200 69.5px,#ffaa00 71.5px,#ffaa00 75.5px,#ff6a00 79.5px,#fd2300 82.5px,#fc1900 84.5px,#fc1800 90.5px,#f30800 92.5px,#ed0600 94.5px,#fa0b00 96.5px,#fc1900 98.5px,#f20800 103.5px,#ef0700 104.5px)"></i>
<i style="left:116px;top:101px;height:108px;background:linear-gradient(#00009b 0.5px,#0000b3 2.5px,#0000d6 4.5px,#0003e3 10.5px,#000dff 17.5px,#004eff 24.5px,#00abff 34.5px,#00e6fc 38.5px,#00fedf 41.5px,#0cf062 49.5px,#56f126 55.5px,#c4fa09 66.5px,#f5f900 69.5px,#ffc600 74.5px,#ffac00 76.5px,#ffaa00 78.5px,#ff7000 82.5px,#fc1a00 85.5px,#fc1800 93.5px,#f40800 95.5px,#ec0600 97.5px,#fa0a00 99.5px,#fc1900 101.5px,#ee0700 107.5px)"></i>
<i style="left:117px;top:96px;height:113px;background:linear-gradient(#00009d 0.5px,#0000b7 5.5px,#0000d7 7.5px,#0002e1 14.5px,#000fff 22.5px,#0042ff 28.5px,#007cff 34.5px,#00a4ff 39.5px,#00ecf8 44.5px,#00fdec 46.5px,#0af066 55.5px,#4cf02b 61.5px,#befa0a 73.5px,#f3fa00 76.5px,#ffca00 81.5px,#ff8f00 86.5px,#ff5e00 89.5px,#fc1900 91.5px,#fc1900 98.5px,#f40800 100.5px,#f90a00 104.5px,#fc1900 106.5px,#f20800 112.5px)"></i>
<i style="left:118px;top:91px;height:118px;background:linear-gradient(#00009e 0.5px,#0000d7 11.5px,#0002de 18.5px,#000fff 27.5px,#004dff 34.5px,#009fff 44.5px,#00e5fc 49.5px,#00ffeb 52.5px,#0af065 61.5px,#3df039 66.5px,#73f31f 73.5px,#bafa0b 80.5px,#f7f500 84.5px,#ff9300 93.5px,#ff6600 95.5px,#ff3300 96.5px,#fc1900 97.5px,#fc1900 103.5px,#fa0b00 105.5px,#f90a00 109.5px,#fc1900 112.5px,#f80a00 117.5px)"></i>
<i style="left:119px;top:80px;height:129px;background:linear-gradient(#00008e 0.5px,#000095 4.5px,#0000cf 17.5px,#0002df 29.5px,#0010ff 38.5px,#0052ff 46.5px,#00aaff 56.5px,#00e9fa 61.5px,#00ffe9 64.5px,#0af066 73.5px,#32f042 78.5px,#5bf125 84.5px,#9df713 91.5px,#d9fa05 95.5px,#f7f600 97.5px,#ffaa00 105.5px,#ff7200 107.5px,#fe2e00 108.5px,#fc1900 113.5px,#fb1200 128.5px)"></i>
<i style="left:120px;top:77px;height:132px;background:linear-gradient(#00008c 0.5px,#0000d7 24.5px,#0002e0 32.5px,#0011ff 41.5px,#0042ff 48.5px,#00a6ff 59.5px,#00e3fd 64.5px,#00ffea 68.5px,#08f274 76.5px,#1df054 80.5px,#58f126 90.5px,#8cf518 95.5px,#f6f700 102.5px,#ffb000 110.5px,#ff7000 113.5px,#ff4600 117.5px,#fd2900 125.5px,#fd2600 131.5px)"></i>
<i style="left:121px;top:79px;height:130px;background:linear-gradient(#000093 0.5px,#0000d7 22.5px,#0002de 29.5px,#0010ff 39.5px,#0032ff 45.5px,#00b1ff 58.5px,#00ebf9 64.5px,#00ffe8 67.5px,#04f68d 73.5px,#0af067 77.5px,#57f126 91.5px,#d7fa05 100.5px,#f6f900 102.5px,#ffad00 111.5px,#ff7f00 114.5px,#ff5300 120.5px,#ff4000 128.5px,#ff4500 129.5px)"></i>
<i style="left:122px;top:88px;height:121px;background:linear-gradient(#0000ad 0.5px,#0000d7 16.5px,#0006ef 24.5px,#0014ff 31.5px,#002dff 36.5px,#00ebf9 56.5px,#00fee3 59.5px,#00fbb2 62.5px,#07f377 68.5px,#15f05a 73.5px,#42f034 82.5px,#6ff320 86.5px,#f5fa00 95.5px,#ffb200 104.5px,#ff8100 109.5px,#ff5b00 118.5px,#ff6400 120.5px)"></i>
<i style="left:123px;top:95px;height:114px;background:linear-gradient(#0000c1 0.5px,#0000d7 10.5px,#0013ff 24.5px,#0021ff 28.5px,#0043ff 32.5px,#0095ff 40.5px,#00e4fd 49.5px,#00feec 52.5px,#00fcbf 55.5px,#04f68c 60.5px,#14f05b 70.5px,#37f03d 76.5px,#6ff320 81.5px,#93f616 84.5px,#85f51a 85.5px,#9bf713 86.5px,#c4fa09 87.5px,#f2fa01 90.5px,#ffbf00 98.5px,#ff8100 107.5px,#ff7800 112.5px,#ff7c00 113.5px)"></i>
<i style="left:124px;top:102px;height:107px;background:linear-gradient(#0000d6 0.5px,#0005eb 10.5px,#0011ff 18.5px,#0033ff 24.5px,#0077ff 30.5px,#00e8fb 43.5px,#00ffe6 46.5px,#00fcc2 48.5px,#00faac 51.5px,#07f378 60.5px,#0df061 66.5px,#61f223 75.5px,#6af221 76.5px,#46f030 79.5px,#62f223 80.5px,#c4fa09 82.5px,#f7f600 86.5px,#ffb900 95.5px,#ffaa00 96.5px,#ff8f00 105.5px,#ff9400 106.5px)"></i>
<i style="left:125px;top:111px;height:98px;background:linear-gradient(#0004e7 0.5px,#0012ff 10.5px,#0027ff 14.5px,#0084ff 23.5px,#00c2ff 31.5px,#00ebf8 35.5px,#00fedf 38.5px,#00fcc0 40.5px,#0bf063 59.5px,#46f030 66.5px,#22f04f 70.5px,#1ff052 72.5px,#4cf02c 73.5px,#90f617 74.5px,#c3fa09 75.5px,#f6f700 79.5px,#ffd400 85.5px,#ffaa00 87.5px,#ffa400 97.5px)"></i>
<i style="left:126px;top:163px;height:46px;background:linear-gradient(#02f89a 0.5px,#07f376 7.5px,#13f05c 10.5px,#2cf047 13.5px,#08f26f 18.5px,#06f480 20.5px,#06f47d 21.5px,#1ef053 22.5px,#4bf02d 23.5px,#8ef617 24.5px,#c3fa09 25.5px,#f6f800 29.5px,#fbea00 32.5px,#ffaa00 35.5px,#ffb100 45.5px)"></i>
<i style="left:127px;top:176px;height:33px;background:linear-gradient(#0af065 0.5px,#01f9a2 7.5px,#00fbb5 8.5px,#00faaa 9.5px,#06f47e 10.5px,#34f040 11.5px,#6cf320 12.5px,#befa0a 13.5px,#cffa07 15.5px,#f3fa00 18.5px,#ffdd00 20.5px,#ffaa00 22.5px,#ffae00 31.5px,#ffb400 32.5px)"></i>
<i style="left:128px;top:187px;height:22px;background:linear-gradient(#0af067 0.5px,#4af02d 1.5px,#b2f90d 2.5px,#befa0a 3.5px,#c1fa09 5.5px,#cefa07 6.5px,#f9f000 8.5px,#ffc700 10.5px,#ffae00 11.5px,#ffb100 21.5px)"></i>
<i style="left:129px;top:187px;height:22px;background:linear-gradient(#08f273 0.5px,#3ff036 1.5px,#a1f712 2.5px,#befa0a 3.5px,#c4fa09 6.5px,#e5fa03 7.5px,#f8f200 8.5px,#ffcb00 10.5px,#ffb100 11.5px,#ffaa00 16.5px,#ffb200 21.5px)"></i>
<i style="left:130px;top:187px;height:22px;background:linear-gradient(#06f47f 0.5px,#35f03f 1.5px,#91f616 2.5px,#befa0a 3.5px,#c4fa09 6.5px,#e4fa03 7.5px,#f8f300 8.5px,#ffce00 10.5px,#ffb500 11.5px,#ffaa00 13.5px,#ffb000 21.5px)"></i>
<i style="left:131px;top:187px;height:22px;background:linear-gradient(#04f68e 0.5px,#26f04c 1.5px,#77f41d 2.5px,#b8f90c 3.5px,#c4fa09 6.5px,#e4fa03 7.5px,#f8f300 8.5px,#ffac00 12.5px,#ffaa00 21.5px)"></i>
<i style="left:132px;top:187px;height:22px;background:linear-gradient(#02f89d 0.5px,#0ff060 1.5px,#42f034 2.5px,#aef90e 4.5px,#c4fa09 6.5px,#e4fa03 7.5px,#f8f300 8.5px,#ffb000 13.5px,#ffa500 21.5px)"></i>
<i style="left:133px;top:187px;height:22px;background:linear-gradient(#00faae 0.5px,#06f47d 1.5px,#22f050 2.5px,#47f02f 3.5px,#a6f811 5.5px,#f1fa01 8.5px,#ffd100 12.5px,#ffaa00 15.5px,#ff9e00 21.5px)"></i>
<i style="left:134px;top:187px;height:22px;background:linear-gradient(#00fbbb 0.5px,#0af067 2.5px,#4df02b 4.5px,#a3f811 6.5px,#c4fa09 7.5px,#edfa02 9.5px,#ffdf00 12.5px,#ffaa00 16.5px,#ff9b00 21.5px)"></i>
<i style="left:135px;top:167px;height:42px;background:linear-gradient(#00e3fe 0.5px,#00d4ff 6.5px,#00dbff 17.5px,#00ebf9 19.5px,#00fcc7 20.5px,#08f270 22.5px,#1df054 23.5px,#57f126 25.5px,#a7f810 27.5px,#edfa01 30.5px,#ffdd00 33.5px,#ffaa00 37.5px,#ff9900 41.5px)"></i>
<i style="left:136px;top:167px;height:42px;background:linear-gradient(#00d4ff 0.5px,#00dbff 12.5px,#00f0f5 19.5px,#00fcbe 20.5px,#13f05d 23.5px,#65f222 26.5px,#b1f90d 28.5px,#f6f700 31.5px,#ffaa00 38.5px,#ff9c00 41.5px)"></i>
<i style="left:137px;top:167px;height:42px;background:linear-gradient(#00d4ff 0.5px,#00e2fe 10.5px,#00f5f2 19.5px,#00fbba 20.5px,#09f16a 23.5px,#4cf02b 26.5px,#befa0a 29.5px,#eefa01 31.5px,#ffd700 35.5px,#ffa500 40.5px,#ffa100 41.5px)"></i>
<i style="left:138px;top:167px;height:42px;background:linear-gradient(#00d5ff 0.5px,#00feec 19.5px,#00fbb8 20.5px,#08f26f 23.5px,#49f02e 26.5px,#cefa07 30.5px,#f5f900 32.5px,#ffaa00 40.5px,#ffa600 41.5px)"></i>
<i style="left:139px;top:167px;height:42px;background:linear-gradient(#00d7ff 0.5px,#00ffe9 15.5px,#00fed8 19.5px,#02f89e 21.5px,#09f16e 23.5px,#43f033 26.5px,#c5fa09 30.5px,#edfa01 32.5px,#ffdf00 36.5px,#ffaa00 41.5px)"></i>
<i style="left:140px;top:167px;height:42px;background:linear-gradient(#00d7ff 0.5px,#00fee2 14.5px,#00fcc3 19.5px,#08f270 23.5px,#2bf048 25.5px,#5af125 27.5px,#befa0a 30.5px,#f5f900 33.5px,#ffcb00 39.5px,#ffb700 41.5px)"></i>
<i style="left:141px;top:167px;height:42px;background:linear-gradient(#00d7ff 0.5px,#00ffe8 13.5px,#00fcc1 19.5px,#08f270 23.5px,#27f04b 25.5px,#52f028 27.5px,#b3f90d 30.5px,#e8fa02 33.5px,#f8f400 35.5px,#ffc300 41.5px)"></i>
<i style="left:149px;top:128px;height:81px;background:linear-gradient(#000afe 0.5px,#006aff 7.5px,#00a1ff 14.5px,#00d1ff 36.5px,#00feec 49.5px,#00fbb8 58.5px,#09f16a 63.5px,#54f027 68.5px,#b6f90c 72.5px,#f6f700 77.5px,#fde600 80.5px)"></i>
<i style="left:150px;top:128px;height:81px;background:linear-gradient(#0009fb 0.5px,#0041ff 5.5px,#0095ff 12.5px,#00a9ff 17.5px,#00cdff 35.5px,#00ffeb 49.5px,#00fbb8 58.5px,#09f169 63.5px,#57f126 68.5px,#bafa0b 72.5px,#f1fa01 76.5px,#fee400 80.5px)"></i>
<i style="left:151px;top:128px;height:81px;background:linear-gradient(#0009fb 0.5px,#0051ff 6.5px,#00a0ff 13.5px,#00c9ff 34.5px,#00f3f3 44.5px,#00fedd 51.5px,#00fbb8 58.5px,#09f168 63.5px,#5bf125 68.5px,#befa0a 72.5px,#f4fa00 76.5px,#fee300 80.5px)"></i>
<i style="left:152px;top:128px;height:81px;background:linear-gradient(#000fff 0.5px,#0035ff 4.5px,#0082ff 10.5px,#00a0ff 13.5px,#00caff 34.5px,#00f3f3 44.5px,#00feda 51.5px,#00fcc0 57.5px,#0af064 63.5px,#5ff124 68.5px,#c1fa09 72.5px,#f5f900 76.5px,#ffe100 80.5px)"></i>
<i style="left:153px;top:127px;height:82px;background:linear-gradient(#0016ff 0.5px,#0046ff 6.5px,#009aff 13.5px,#00c7ff 34.5px,#00f0f5 44.5px,#00fee1 50.5px,#00fcc0 57.5px,#0ef060 64.5px,#4ff029 68.5px,#b3f90d 72.5px,#f6f800 77.5px,#ffdf00 81.5px)"></i>
<i style="left:154px;top:126px;height:83px;background:linear-gradient(#0011ff 0.5px,#00a0ff 15.5px,#00c3ff 34.5px,#00f1f4 45.5px,#00fede 51.5px,#00fbb4 58.5px,#0af067 64.5px,#57f126 69.5px,#bbfa0b 73.5px,#f6f700 78.5px,#ffdc00 82.5px)"></i>
<i style="left:155px;top:125px;height:84px;background:linear-gradient(#000afe 0.5px,#0072ff 10.5px,#00a0ff 16.5px,#00c4ff 35.5px,#00eef6 45.5px,#00fee1 51.5px,#00fbb4 58.5px,#10f05e 65.5px,#4df02b 69.5px,#c1fa09 74.5px,#f4fa00 78.5px,#ffda00 83.5px)"></i>
<i style="left:156px;top:125px;height:84px;background:linear-gradient(#000dff 0.5px,#0086ff 12.5px,#00a0ff 16.5px,#00c0ff 34.5px,#00eff6 45.5px,#00fee0 51.5px,#00fbb8 57.5px,#10f05e 64.5px,#58f126 69.5px,#bafa0b 73.5px,#f6f900 78.5px,#ffd700 83.5px)"></i>
<i style="left:157px;top:124px;height:85px;background:linear-gradient(#000afd 0.5px,#0059ff 8.5px,#00a0ff 16.5px,#00bcff 34.5px,#00ecf8 45.5px,#00ffe6 51.5px,#00faaf 58.5px,#0ff05f 64.5px,#4ff029 69.5px,#c1fa09 74.5px,#f7f600 79.5px,#ffd500 84.5px)"></i>
<i style="left:158px;top:124px;height:85px;background:linear-gradient(#000bff 0.5px,#005cff 8.5px,#00a0ff 16.5px,#00bdff 34.5px,#00edf7 45.5px,#00fee4 51.5px,#00fbb5 57.5px,#0bf063 63.5px,#62f223 69.5px,#bbfa0b 73.5px,#f7f600 79.5px,#ffd200 84.5px)"></i>
<i style="left:159px;top:125px;height:84px;background:linear-gradient(#0015ff 0.5px,#0093ff 13.5px,#00a0ff 16.5px,#00b9ff 32.5px,#00edf7 44.5px,#00fee3 50.5px,#00faae 56.5px,#12f05d 62.5px,#5bf125 67.5px,#c1fa09 72.5px,#f7f500 78.5px,#ffdd00 82.5px,#ffd100 83.5px)"></i>
<i style="left:169px;top:200px;height:9px;background:linear-gradient(#05f584 0.5px,#10f05f 2.5px,#5ff124 6.5px,#9ff712 8.5px)"></i>
<i style="left:170px;top:136px;height:73px;background:linear-gradient(#000fff 0.5px,#009bff 13.5px,#00dfff 30.5px,#00ffe6 44.5px,#00fdd0 49.5px,#00fcc2 61.5px,#01f9a6 63.5px,#09f16d 66.5px,#28f04a 68.5px,#50f028 70.5px,#98f714 72.5px)"></i>
<i style="left:171px;top:136px;height:73px;background:linear-gradient(#000eff 0.5px,#0092ff 12.5px,#00bcff 20.5px,#00eff6 37.5px,#00fedf 46.5px,#00fdd3 50.5px,#00fcc5 62.5px,#0af065 67.5px,#4cf02b 70.5px,#97f615 72.5px)"></i>
<i style="left:172px;top:136px;height:73px;background:linear-gradient(#0015ff 0.5px,#0045ff 5.5px,#009bff 13.5px,#00ddff 31.5px,#00fee3 46.5px,#00fdd3 50.5px,#00fcc7 61.5px,#00fdd2 62.5px,#09f16d 67.5px,#48f02f 70.5px,#95f615 72.5px)"></i>
<i style="left:173px;top:128px;height:81px;background:linear-gradient(#0008f9 0.5px,#0013ff 5.5px,#0021ff 8.5px,#00a2ff 22.5px,#00ebf8 45.5px,#00fee1 55.5px,#00fdd6 59.5px,#00fdcb 69.5px,#00fdd6 70.5px,#00fbb7 72.5px,#08f275 75.5px,#13f05c 76.5px,#44f033 78.5px,#93f616 80.5px)"></i>
<i style="left:174px;top:128px;height:81px;background:linear-gradient(#0009f9 0.5px,#001eff 6.5px,#00a2ff 22.5px,#00ecf8 46.5px,#00fee0 56.5px,#00fdd6 59.5px,#00fdcf 69.5px,#00feda 70.5px,#00fed8 71.5px,#0df062 76.5px,#68f222 79.5px,#93f616 80.5px)"></i>
<i style="left:175px;top:200px;height:9px;background:linear-gradient(#00fdcc 0.5px,#0df061 4.5px,#68f221 7.5px,#93f616 8.5px)"></i>
<i style="left:176px;top:200px;height:9px;background:linear-gradient(#00fdcb 0.5px,#0ef060 4.5px,#69f221 7.5px,#93f616 8.5px)"></i>
<i style="left:177px;top:200px;height:9px;background:linear-gradient(#00fcc9 0.5px,#0ff05f 4.5px,#45f031 6.5px,#94f616 8.5px)"></i>
<i style="left:178px;top:200px;height:9px;background:linear-gradient(#00fcc8 0.5px,#10f05f 4.5px,#46f031 6.5px,#94f616 8.5px)"></i>
<i style="left:179px;top:200px;height:9px;background:linear-gradient(#00fcc6 0.5px,#11f05e 4.5px,#46f030 6.5px,#94f615 8.5px)"></i>
<i style="left:180px;top:200px;height:9px;background:linear-gradient(#00fcc4 0.5px,#07f376 3.5px,#12f05d 4.5px,#47f030 6.5px,#94f615 8.5px)"></i>
<i style="left:181px;top:200px;height:9px;background:linear-gradient(#00fcc2 0.5px,#08f275 3.5px,#13f05c 4.5px,#48f02f 6.5px,#95f615 8.5px)"></i>
<i style="left:182px;top:200px;height:9px;background:linear-gradient(#00fcc0 0.5px,#08f274 3.5px,#14f05b 4.5px,#48f02f 6.5px,#95f615 8.5px)"></i>
<i style="left:183px;top:200px;height:9px;background:linear-gradient(#00fcbe 0.5px,#08f272 3.5px,#15f05a 4.5px,#49f02e 6.5px,#95f615 8.5px)"></i>
<i style="left:184px;top:197px;height:12px;background:linear-gradient(#00ffeb 0.5px,#00fdd7 2.5px,#08f271 6.5px,#30f044 8.5px,#6df320 10.5px,#96f615 11.5px)"></i>
<i style="left:185px;top:197px;height:12px;background:linear-gradient(#00fedd 0.5px,#00fbbb 3.5px,#08f270 6.5px,#30f043 8.5px,#6ef320 10.5px,#96f615 11.5px)"></i>
<i style="left:186px;top:197px;height:12px;background:linear-gradient(#00fedd 0.5px,#00fbb9 3.5px,#08f26f 6.5px,#31f042 8.5px,#6ff320 10.5px,#96f615 11.5px)"></i>
<i style="left:187px;top:197px;height:12px;background:linear-gradient(#00fedd 0.5px,#00fbb8 3.5px,#09f16e 6.5px,#4bf02c 9.5px,#96f615 11.5px)"></i>
<i style="left:188px;top:197px;height:12px;background:linear-gradient(#00fedd 0.5px,#00fbb6 3.5px,#09f16d 6.5px,#4bf02c 9.5px,#97f615 11.5px)"></i>
<i style="left:189px;top:194px;height:15px;background:linear-gradient(#00ffeb 0.5px,#00fdd1 4.5px,#00fbb5 6.5px,#09f16c 9.5px,#4cf02b 12.5px,#97f615 14.5px)"></i>
<i style="left:190px;top:194px;height:15px;background:linear-gradient(#00ffea 0.5px,#00fcc3 5.5px,#09f16b 9.5px,#4cf02b 12.5px,#97f615 14.5px)"></i>
<i style="left:191px;top:194px;height:15px;background:linear-gradient(#00fee4 0.5px,#00fcc0 5.5px,#09f168 9.5px,#4ef02a 12.5px,#98f714 14.5px)"></i>
<i style="left:192px;top:194px;height:15px;background:linear-gradient(#00fee2 0.5px,#00fbbb 5.5px,#0af064 9.5px,#4ff029 12.5px,#99f714 14.5px)"></i>
<i style="left:193px;top:194px;height:15px;background:linear-gradient(#00fee1 0.5px,#00fbb5 5.5px,#0ef060 9.5px,#53f027 12.5px,#9af714 14.5px)"></i>
<i style="left:194px;top:194px;height:15px;background:linear-gradient(#00fee1 0.5px,#00fcc1 4.5px,#08f271 8.5px,#27f04b 10.5px,#55f027 12.5px,#9bf714 14.5px)"></i>
<i style="left:195px;top:194px;height:15px;background:linear-gradient(#00fee0 0.5px,#00fbbd 4.5px,#09f16d 8.5px,#40f035 11.5px,#9cf713 14.5px)"></i>
<i style="left:196px;top:194px;height:15px;background:linear-gradient(#00fedf 0.5px,#00fbb7 4.5px,#09f169 8.5px,#5bf125 12.5px,#9df713 14.5px)"></i>
<i style="left:197px;top:194px;height:15px;background:linear-gradient(#00fede 0.5px,#00fbb3 4.5px,#0af066 8.5px,#5ef124 12.5px,#9ef713 14.5px)"></i>
<i style="left:198px;top:194px;height:15px;background:linear-gradient(#00fedc 0.5px,#00faad 4.5px,#0cf062 8.5px,#60f124 12.5px,#9ff713 14.5px)"></i>
<i style="left:199px;top:190px;height:19px;background:linear-gradient(#00ffeb 0.5px,#00ffe8 3.5px,#00faa9 8.5px,#0ff060 12.5px,#63f223 16.5px,#9ff712 18.5px)"></i>
<i style="left:200px;top:190px;height:19px;background:linear-gradient(#00ffeb 0.5px,#00ffe8 3.5px,#01f9a6 8.5px,#13f05c 12.5px,#65f222 16.5px,#a0f712 18.5px)"></i>
<i style="left:201px;top:190px;height:19px;background:linear-gradient(#00ffeb 0.5px,#00ffe8 3.5px,#01f9a5 8.5px,#13f05c 12.5px,#4bf02c 15.5px,#a1f712 18.5px)"></i>
<i style="left:202px;top:194px;height:15px;background:linear-gradient(#00fedc 0.5px,#00fbb3 3.5px,#09f16b 7.5px,#4cf02b 11.5px,#a1f712 14.5px)"></i>
<i style="left:203px;top:194px;height:15px;background:linear-gradient(#00fedc 0.5px,#00fbb3 3.5px,#08f271 6.5px,#21f050 8.5px,#5cf125 11.5px,#b2f90d 14.5px)"></i>
<i style="left:204px;top:194px;height:15px;background:linear-gradient(#00fedc 0.5px,#00fbb3 3.5px,#0af066 6.5px,#53f027 10.5px,#befa0a 14.5px)"></i>
<i style="left:205px;top:194px;height:15px;background:linear-gradient(#00fedc 0.5px,#00fbb2 3.5px,#0af066 6.5px,#4bf02c 9.5px,#bbfa0b 13.5px,#befa0a 14.5px)"></i>
<i style="left:206px;top:194px;height:15px;background:linear-gradient(#00fedc 0.5px,#00fbb1 3.5px,#0ff060 6.5px,#5bf125 9.5px,#b1f90d 12.5px,#befa0a 13.5px,#befa0a 14.5px)"></i>
<i style="left:207px;top:194px;height:15px;background:linear-gradient(#00fcca 0.5px,#00faaa 3.5px,#08f274 5.5px,#49f02e 8.5px,#a7f810 11.5px,#befa0a 12.5px,#c9fa08 14.5px)"></i>
<i style="left:208px;top:109px;height:100px;background:linear-gradient(#0006ee 0.5px,#0015ff 13.5px,#0043ff 29.5px,#0091ff 51.5px,#00b0ff 58.5px,#00edf7 68.5px,#00fede 73.5px,#00fcc1 76.5px,#00fdd4 79.5px,#00fcc1 84.5px,#03f793 88.5px,#0af064 90.5px,#38f03c 92.5px,#5af125 93.5px,#befa0a 96.5px,#eafa02 99.5px)"></i>
<i style="left:209px;top:109px;height:100px;background:linear-gradient(#0006ee 0.5px,#0015ff 13.5px,#0041ff 29.5px,#0091ff 51.5px,#00b1ff 58.5px,#00eaf9 67.5px,#00fee3 72.5px,#00fcc3 75.5px,#00fcbe 79.5px,#00faab 84.5px,#07f37c 88.5px,#0af065 89.5px,#50f028 92.5px,#bdfa0a 95.5px,#ecfa02 97.5px,#f9f000 99.5px)"></i>
<i style="left:210px;top:109px;height:100px;background:linear-gradient(#0006ef 0.5px,#0015ff 13.5px,#0040ff 29.5px,#0097ff 53.5px,#00b8ff 59.5px,#00ecf7 67.5px,#00fede 72.5px,#00fab0 77.5px,#03f794 84.5px,#0af064 88.5px,#4ff029 91.5px,#bdfa0a 94.5px,#f0fa01 96.5px,#ffdf00 99.5px)"></i>
<i style="left:211px;top:109px;height:100px;background:linear-gradient(#0006ef 0.5px,#0015ff 13.5px,#003fff 29.5px,#0094ff 52.5px,#00b2ff 58.5px,#00eef6 67.5px,#00fee3 71.5px,#02f89a 77.5px,#08f273 85.5px,#0bf063 86.5px,#38f03d 89.5px,#4ff029 90.5px,#bcfa0a 93.5px,#effa01 95.5px,#ffd500 98.5px,#ffc300 99.5px)"></i>
<i style="left:212px;top:109px;height:100px;background:linear-gradient(#0006ef 0.5px,#0015ff 13.5px,#0043ff 30.5px,#00abff 57.5px,#00eaf9 66.5px,#00fedf 71.5px,#00faad 75.5px,#06f47f 78.5px,#11f05e 85.5px,#4ff029 89.5px,#bcfa0b 92.5px,#eefa01 94.5px,#ffd600 97.5px,#ffaf00 99.5px)"></i>
<i style="left:213px;top:109px;height:100px;background:linear-gradient(#0006ef 0.5px,#0014ff 12.5px,#0042ff 30.5px,#00abff 57.5px,#00ecf8 66.5px,#00ffe5 70.5px,#01f9a4 75.5px,#0af065 79.5px,#26f04c 85.5px,#5bf125 88.5px,#72f31f 89.5px,#bcfa0b 91.5px,#edfa02 93.5px,#ffd800 96.5px,#ffa400 99.5px)"></i>
<i style="left:214px;top:108px;height:101px;background:linear-gradient(#0005ec 0.5px,#0014ff 13.5px,#0041ff 31.5px,#0090ff 51.5px,#00acff 58.5px,#00eef6 67.5px,#00fee1 71.5px,#00faac 75.5px,#09f16a 79.5px,#2af048 82.5px,#3bf03a 86.5px,#61f223 88.5px,#96f615 90.5px,#bbfa0b 91.5px,#ecfa02 93.5px,#ffda00 96.5px,#ffa500 99.5px,#ff9b00 100.5px)"></i>
<i style="left:215px;top:108px;height:101px;background:linear-gradient(#0005ec 0.5px,#0012ff 12.5px,#0037ff 29.5px,#007cff 45.5px,#00acff 58.5px,#00ecf8 66.5px,#00ffe6 70.5px,#00fbb4 74.5px,#10f05f 79.5px,#46f031 83.5px,#53f027 86.5px,#ebfa02 92.5px,#fce900 94.5px,#ff9c00 99.5px,#ff9200 100.5px)"></i>
<i style="left:216px;top:108px;height:101px;background:linear-gradient(#0005ec 0.5px,#0013ff 12.5px,#003cff 30.5px,#007aff 44.5px,#00adff 58.5px,#00eef6 66.5px,#00fee0 70.5px,#00faaa 74.5px,#0df062 78.5px,#55f027 83.5px,#71f31f 85.5px,#77f41d 86.5px,#eafa02 91.5px,#fce900 93.5px,#ff9d00 98.5px,#ff8800 100.5px)"></i>
<i style="left:217px;top:108px;height:101px;background:linear-gradient(#0005ec 0.5px,#0014ff 12.5px,#003fff 30.5px,#0089ff 48.5px,#00aaff 57.5px,#00eaf9 65.5px,#00fee4 69.5px,#00fab0 73.5px,#0af067 77.5px,#58f126 82.5px,#c3fa09 88.5px,#f7f500 91.5px,#ffcc00 94.5px,#ff9e00 97.5px,#ff7f00 100.5px)"></i>
<i style="left:218px;top:108px;height:101px;background:linear-gradient(#0005ec 0.5px,#0014ff 12.5px,#0042ff 30.5px,#009fff 54.5px,#00d0ff 61.5px,#00faee 67.5px,#00fcc4 71.5px,#09f16c 76.5px,#58f126 81.5px,#ebfa02 89.5px,#fbea00 91.5px,#ff9f00 96.5px,#ff7500 100.5px)"></i>
<i style="left:219px;top:108px;height:101px;background:linear-gradient(#0005ec 0.5px,#0012ff 12.5px,#003dff 28.5px,#0099ff 52.5px,#00bdff 58.5px,#00f1f5 65.5px,#00fee1 68.5px,#03f795 73.5px,#10f05f 76.5px,#56f126 80.5px,#befa0a 85.5px,#f7f600 89.5px,#ffce00 92.5px,#ff8d00 96.5px,#ff6b00 100.5px)"></i>
<i style="left:220px;top:107px;height:102px;background:linear-gradient(#0005ec 0.5px,#0011ff 13.5px,#003dff 28.5px,#0091ff 50.5px,#00abff 56.5px,#00e9fa 64.5px,#00ffe5 68.5px,#02f89a 73.5px,#0cf063 76.5px,#59f126 80.5px,#c2fa09 85.5px,#f6f700 89.5px,#ffd700 92.5px,#ff7100 98.5px,#ff5a00 101.5px)"></i>
<i style="left:221px;top:104px;height:105px;background:linear-gradient(#0005ec 0.5px,#0007f5 10.5px,#0019ff 19.5px,#0041ff 31.5px,#00a9ff 58.5px,#00e7fb 66.5px,#00ffe9 70.5px,#04f68f 76.5px,#0af067 78.5px,#51f028 82.5px,#a2f712 85.5px,#b7f90c 86.5px,#c8fa08 88.5px,#edfa01 90.5px,#ffdd00 94.5px,#ff4f00 102.5px,#ff3d00 104.5px)"></i>
<i style="left:222px;top:102px;height:107px;background:linear-gradient(#0000a6 0.5px,#0002de 1.5px,#0005ec 2.5px,#0007f4 12.5px,#001bff 22.5px,#004aff 34.5px,#00a7ff 59.5px,#00ebf8 68.5px,#00ffeb 71.5px,#07f377 79.5px,#0bf064 80.5px,#58f126 84.5px,#bafa0b 87.5px,#befa0a 89.5px,#f5fa00 92.5px,#ffd500 96.5px,#ffa000 99.5px,#ff3b00 104.5px,#fd2300 106.5px)"></i>
<i style="left:223px;top:101px;height:108px;background:linear-gradient(#00008c 0.5px,#00008f 1.5px,#0000ca 2.5px,#0005ec 3.5px,#0008f5 14.5px,#001fff 24.5px,#0077ff 46.5px,#00adff 60.5px,#00e9fa 68.5px,#00fee3 72.5px,#0df062 81.5px,#54f027 85.5px,#b0f90e 88.5px,#befa0a 89.5px,#c0fa0a 90.5px,#f6f700 93.5px,#ffbf00 98.5px,#ff9600 100.5px,#ff3700 104.5px,#fc1a00 106.5px,#fc1e00 107.5px)"></i>
<i style="left:224px;top:99px;height:110px;background:linear-gradient(#00008c 0.5px,#00008d 2.5px,#000098 3.5px,#0000b4 4.5px,#0004e8 5.5px,#0009fa 17.5px,#003eff 33.5px,#0070ff 45.5px,#00abff 61.5px,#00e6fc 69.5px,#00ffe9 73.5px,#09f169 82.5px,#43f033 86.5px,#8af518 89.5px,#befa0a 91.5px,#dafa05 93.5px,#f7f500 95.5px,#ffc600 99.5px,#ffa900 101.5px,#ff3a00 105.5px,#fb1700 107.5px,#fb1400 109.5px)"></i>
<i style="left:225px;top:98px;height:111px;background:linear-gradient(#00008c 0.5px,#000093 2.5px,#0000b4 5.5px,#0000d8 6.5px,#0005ec 7.5px,#0009fa 17.5px,#003dff 33.5px,#0071ff 45.5px,#00a9ff 61.5px,#00eaf9 70.5px,#00fee1 74.5px,#0af064 83.5px,#53f027 88.5px,#bbfa0b 92.5px,#f3fa00 95.5px,#ffd100 99.5px,#ffa500 102.5px,#ff4900 105.5px,#fd2600 106.5px,#fa0a00 109.5px,#fa0b00 110.5px)"></i>
<i style="left:226px;top:95px;height:114px;background:linear-gradient(#00008c 0.5px,#00008e 3.5px,#0000d0 9.5px,#0005ec 10.5px,#0011ff 23.5px,#0048ff 37.5px,#0075ff 48.5px,#00a7ff 63.5px,#00e8fb 72.5px,#00ffe8 76.5px,#09f16e 85.5px,#29f049 88.5px,#6ff320 92.5px,#f3fa00 98.5px,#ffce00 102.5px,#ffaf00 104.5px,#ffaa00 105.5px,#ff3a00 109.5px,#fc1800 111.5px,#fb1600 113.5px)"></i>
<i style="left:227px;top:91px;height:118px;background:linear-gradient(#00008c 0.5px,#00008d 5.5px,#0004e6 14.5px,#0014ff 27.5px,#0043ff 39.5px,#0078ff 52.5px,#00a5ff 66.5px,#00ebf8 76.5px,#00fee0 80.5px,#09f16b 89.5px,#56f126 95.5px,#eafa02 102.5px,#faed00 104.5px,#ffab00 109.5px,#fe2b00 115.5px,#fc1b00 116.5px,#fc1a00 117.5px)"></i>
<i style="left:228px;top:87px;height:122px;background:linear-gradient(#0000a1 0.5px,#00008c 5.5px,#000097 8.5px,#0005eb 17.5px,#0014ff 30.5px,#0044ff 42.5px,#0076ff 54.5px,#00aaff 70.5px,#00e9fa 79.5px,#00ffe7 83.5px,#0af066 93.5px,#58f126 99.5px,#f2fa01 107.5px,#ffd500 111.5px,#ff9000 115.5px,#fe3000 120.5px,#fd2600 121.5px)"></i>
<i style="left:229px;top:83px;height:126px;background:linear-gradient(#0000b6 0.5px,#00008d 8.5px,#0005ed 20.5px,#0015ff 33.5px,#003eff 44.5px,#0073ff 56.5px,#00a9ff 73.5px,#00ecf7 83.5px,#00feec 86.5px,#09f16c 96.5px,#4ef029 102.5px,#f2fa01 112.5px,#ffd300 116.5px,#ff5800 123.5px,#ff4500 125.5px)"></i>
<i style="left:230px;top:77px;height:132px;background:linear-gradient(#0000d6 0.5px,#000098 13.5px,#0006ee 25.5px,#0013ff 37.5px,#003fff 49.5px,#0071ff 60.5px,#00a7ff 78.5px,#00ebf8 88.5px,#00ffe6 92.5px,#0af066 102.5px,#62f223 110.5px,#e0fa04 118.5px,#f2fa00 119.5px,#ffd000 123.5px,#ff7b00 128.5px,#ff6500 131.5px)"></i>
<i style="left:231px;top:69px;height:140px;background:linear-gradient(#0002e0 0.5px,#0003e1 5.5px,#00009e 19.5px,#0006ed 31.5px,#0015ff 44.5px,#0039ff 55.5px,#0070ff 66.5px,#00acff 86.5px,#00e9f9 95.5px,#00ffea 99.5px,#09f168 110.5px,#56f126 118.5px,#e0fa04 127.5px,#f4fa00 128.5px,#ffcd00 132.5px,#ff9b00 135.5px,#ff7400 139.5px)"></i>
<i style="left:232px;top:58px;height:151px;background:linear-gradient(#0000ce 0.5px,#0003e2 16.5px,#0000a7 29.5px,#0006ed 40.5px,#0013ff 53.5px,#0039ff 65.5px,#006dff 75.5px,#00aaff 96.5px,#00eef7 106.5px,#00fee2 110.5px,#0af064 122.5px,#60f124 130.5px,#befa0a 136.5px,#befa0a 137.5px,#f5fa00 140.5px,#ffc900 144.5px,#ff9200 148.5px,#ff7d00 150.5px)"></i>
<i style="left:233px;top:38px;height:171px;background:linear-gradient(#0000a7 0.5px,#0004e6 35.5px,#0000af 47.5px,#0006ee 58.5px,#0014ff 72.5px,#003fff 85.5px,#006fff 94.5px,#00afff 116.5px,#00ecf8 125.5px,#00ffe5 129.5px,#00fbba 133.5px,#09f168 142.5px,#59f125 150.5px,#b8f90c 156.5px,#befa0a 158.5px,#f5f900 161.5px,#ffd300 164.5px,#ff9000 169.5px,#ff8600 170.5px)"></i>
<i style="left:234px;top:17px;height:192px;background:linear-gradient(#00008c 0.5px,#000096 12.5px,#0004e6 56.5px,#0000b6 67.5px,#0006ee 77.5px,#0013ff 91.5px,#003bff 104.5px,#0074ff 115.5px,#00b2ff 136.5px,#00ebf8 145.5px,#00ffe7 149.5px,#00fbb5 154.5px,#07f377 162.5px,#16f05a 165.5px,#63f223 172.5px,#befa0a 178.5px,#befa0a 180.5px,#edfa01 182.5px,#ffdc00 185.5px,#ff9800 190.5px,#ff8e00 191.5px)"></i>
<i style="left:235px;top:10px;height:199px;background:linear-gradient(#00008c 0.5px,#000093 17.5px,#0004e7 62.5px,#0000c0 73.5px,#0005ec 81.5px,#0014ff 97.5px,#003cff 110.5px,#0075ff 121.5px,#00b9ff 143.5px,#00e9f9 151.5px,#00ffea 155.5px,#00fbb7 160.5px,#0af067 171.5px,#5cf125 179.5px,#bbfa0b 185.5px,#befa0a 187.5px,#f7f500 190.5px,#ffb800 195.5px,#ff9700 198.5px)"></i>
<i style="left:236px;top:10px;height:199px;background:linear-gradient(#00008c 0.5px,#000093 17.5px,#0004e7 62.5px,#0000c5 71.5px,#0005ec 79.5px,#0007f1 84.5px,#0013ff 95.5px,#003eff 109.5px,#007aff 121.5px,#00afff 139.5px,#00e8fa 150.5px,#00fee2 155.5px,#00fbb8 159.5px,#0ff05f 172.5px,#56f126 179.5px,#befa0a 186.5px,#befa0a 187.5px,#f6f700 190.5px,#ff9f00 198.5px)"></i>
<i style="left:237px;top:10px;height:199px;background:linear-gradient(#00008c 0.5px,#000092 16.5px,#0004e8 62.5px,#0000cf 70.5px,#0005eb 77.5px,#0006f0 84.5px,#000dff 90.5px,#0035ff 107.5px,#0079ff 119.5px,#00b7ff 140.5px,#00ecf8 150.5px,#00fee4 154.5px,#00fbba 158.5px,#0bf063 171.5px,#50f028 179.5px,#befa0a 186.5px,#befa0a 187.5px,#f5f900 190.5px,#ffbc00 196.5px,#ffa700 198.5px)"></i>
<i style="left:238px;top:10px;height:199px;background:linear-gradient(#00008c 0.5px,#000092 16.5px,#0004e9 62.5px,#0001d9 69.5px,#0005eb 75.5px,#0006ef 84.5px,#0012ff 90.5px,#0032ff 107.5px,#0064ff 113.5px,#009fff 130.5px,#00adff 136.5px,#00c6ff 142.5px,#00eff6 150.5px,#00fedc 154.5px,#00faaf 159.5px,#11f05e 171.5px,#59f126 180.5px,#b8f90c 186.5px,#ccfa07 188.5px,#f3fa00 190.5px,#ffc200 196.5px,#ffae00 198.5px)"></i>
<i style="left:239px;top:10px;height:199px;background:linear-gradient(#00008c 0.5px,#000092 16.5px,#0004e8 61.5px,#0002e1 68.5px,#0005eb 73.5px,#0006ee 84.5px,#0013ff 90.5px,#0032ff 106.5px,#0042ff 109.5px,#0072ff 115.5px,#00a0ff 129.5px,#00a4ff 134.5px,#00d5ff 144.5px,#00feec 152.5px,#00fcc0 156.5px,#0ff060 170.5px,#59f126 180.5px,#effa01 190.5px,#ffd500 195.5px,#ffb600 198.5px)"></i>
<i style="left:240px;top:10px;height:199px;background:linear-gradient(#00008c 0.5px,#000092 16.5px,#0004e7 60.5px,#0004e8 67.5px,#0005ec 84.5px,#0016ff 91.5px,#0032ff 104.5px,#0036ff 108.5px,#007aff 116.5px,#00a0ff 127.5px,#00a6ff 134.5px,#00ddff 145.5px,#00ffe9 152.5px,#00fcc0 155.5px,#0df061 169.5px,#5df124 180.5px,#cbfa08 188.5px,#f6f700 191.5px,#ffc800 197.5px,#ffbe00 198.5px)"></i>
<i style="left:241px;top:10px;height:199px;background:linear-gradient(#00008c 0.5px,#000092 16.5px,#0004e8 60.5px,#0005eb 84.5px,#0015ff 91.5px,#0031ff 100.5px,#0032ff 108.5px,#007fff 117.5px,#009fff 124.5px,#00a2ff 133.5px,#00eaf9 147.5px,#00fee4 152.5px,#00fbb9 156.5px,#0cf063 168.5px,#5bf125 179.5px,#c7fa08 188.5px,#f7f600 192.5px,#ffc600 198.5px)"></i>
<i style="left:242px;top:10px;height:199px;background:linear-gradient(#00008c 0.5px,#000093 17.5px,#0005eb 62.5px,#0005ea 84.5px,#0013ff 91.5px,#0032ff 99.5px,#0032ff 108.5px,#008aff 119.5px,#00a0ff 123.5px,#00a4ff 133.5px,#00ebf9 147.5px,#00ffe9 151.5px,#03f793 160.5px,#11f05e 168.5px,#63f223 179.5px,#f6f800 192.5px,#ffcc00 198.5px)"></i>
<i style="left:254px;top:91px;height:118px;background:linear-gradient(#0000d9 0.5px,#0012ff 22.5px,#0038ff 32.5px,#0085ff 43.5px,#00dfff 58.5px,#00ffe9 66.5px,#02f89e 74.5px,#0af066 78.5px,#2ef045 81.5px,#3bf03a 84.5px,#6ff320 90.5px,#befa0a 98.5px,#b9fa0b 109.5px,#9ff712 116.5px,#7ef41b 117.5px)"></i>
<i style="left:255px;top:94px;height:115px;background:linear-gradient(#0001d9 0.5px,#0011ff 20.5px,#0028ff 26.5px,#004eff 32.5px,#00acff 46.5px,#00d4ff 52.5px,#00ffe9 62.5px,#00fcc0 67.5px,#00fcbe 68.5px,#02f899 70.5px,#06f480 73.5px,#0af064 75.5px,#3af03b 79.5px,#48f02f 82.5px,#befa0a 94.5px,#b9fa0b 106.5px,#a3f811 112.5px,#85f51a 113.5px,#8cf518 114.5px)"></i>
<i style="left:256px;top:95px;height:114px;background:linear-gradient(#0000d8 0.5px,#0010ff 20.5px,#002bff 25.5px,#003bff 29.5px,#00a0ff 43.5px,#00aaff 45.5px,#00d4ff 50.5px,#00ffe8 60.5px,#00fcc0 65.5px,#00fbb7 67.5px,#06f483 70.5px,#06f47d 72.5px,#0df062 74.5px,#44f032 78.5px,#4df02b 81.5px,#befa0a 92.5px,#bafa0b 105.5px,#a8f810 110.5px,#8cf518 111.5px,#9cf713 113.5px)"></i>
<i style="left:257px;top:97px;height:112px;background:linear-gradient(#0000d8 0.5px,#000eff 19.5px,#0032ff 24.5px,#0038ff 27.5px,#00a0ff 41.5px,#00a6ff 43.5px,#00e0ff 49.5px,#00ffe8 57.5px,#00fcc0 62.5px,#00fcc0 64.5px,#07f378 68.5px,#0ff060 72.5px,#50f028 77.5px,#5ff124 80.5px,#bdfa0a 89.5px,#bafa0b 103.5px,#acf80f 107.5px,#94f615 108.5px,#abf80f 111.5px)"></i>
<i style="left:258px;top:99px;height:110px;background:linear-gradient(#0000d8 0.5px,#000fff 17.5px,#0032ff 22.5px,#003dff 26.5px,#0099ff 37.5px,#00a1ff 41.5px,#00dcff 46.5px,#00ffe7 54.5px,#00fcc0 59.5px,#00fbbd 62.5px,#09f16b 66.5px,#19f057 69.5px,#1ff052 71.5px,#5bf125 75.5px,#67f222 78.5px,#bafa0b 86.5px,#bbfa0b 101.5px,#b0f90e 104.5px,#9df713 105.5px,#bbfa0b 109.5px)"></i>
<i style="left:259px;top:101px;height:108px;background:linear-gradient(#0000d8 0.5px,#000aff 14.5px,#0032ff 19.5px,#0035ff 23.5px,#0085ff 32.5px,#00a0ff 36.5px,#00a1ff 39.5px,#00dfff 44.5px,#00ffe7 51.5px,#00fcc0 56.5px,#00fcc0 59.5px,#00fbb2 60.5px,#08f271 63.5px,#2af049 66.5px,#34f040 70.5px,#5ff124 73.5px,#73f31e 74.5px,#7bf41c 77.5px,#befa0a 84.5px,#b7f90c 100.5px,#a5f811 102.5px,#c3fa09 107.5px)"></i>
<i style="left:260px;top:103px;height:106px;background:linear-gradient(#0000d8 0.5px,#0007f3 10.5px,#001dff 14.5px,#0032ff 17.5px,#0037ff 20.5px,#00a0ff 34.5px,#00a6ff 36.5px,#00eaf9 43.5px,#00fee2 48.5px,#00fcc0 53.5px,#00faad 56.5px,#05f589 59.5px,#0cf062 61.5px,#3ff036 65.5px,#4ef02a 70.5px,#86f519 73.5px,#98f714 77.5px,#befa0a 81.5px,#b8f90c 98.5px,#adf80f 99.5px,#c9fa08 105.5px)"></i>
<i style="left:261px;top:105px;height:104px;background:linear-gradient(#0000d8 0.5px,#0006ef 7.5px,#0018ff 11.5px,#0032ff 15.5px,#0038ff 18.5px,#0063ff 22.5px,#00a0ff 31.5px,#00a0ff 32.5px,#00d4ff 36.5px,#00f2f4 41.5px,#00fedb 45.5px,#04f690 54.5px,#0ff060 58.5px,#4ff029 63.5px,#6cf320 69.5px,#92f616 71.5px,#a8f810 76.5px,#befa0a 78.5px,#bcfa0b 95.5px,#b8f90c 98.5px,#c9fa08 103.5px)"></i>
<i style="left:262px;top:107px;height:102px;background:linear-gradient(#0000d9 0.5px,#0008f8 6.5px,#0032ff 13.5px,#0037ff 16.5px,#0061ff 19.5px,#00a1ff 29.5px,#00ddff 33.5px,#00ffe5 40.5px,#00fcc0 44.5px,#00fcc0 47.5px,#04f691 49.5px,#11f05e 54.5px,#5bf125 60.5px,#7bf41c 63.5px,#96f615 69.5px,#a8f810 70.5px,#befa0a 78.5px,#c4fa09 99.5px,#cdfa07 101.5px)"></i>
<i style="left:263px;top:109px;height:100px;background:linear-gradient(#0002de 0.5px,#000dff 5.5px,#0032ff 10.5px,#0035ff 14.5px,#0067ff 17.5px,#00a7ff 26.5px,#00eaf9 30.5px,#00ffe7 34.5px,#00fcc0 39.5px,#00fcc0 45.5px,#00faa9 46.5px,#09f16a 48.5px,#2ef045 52.5px,#60f124 56.5px,#91f616 60.5px,#befa0a 71.5px,#dafa05 90.5px,#f6f700 98.5px,#f9ef00 99.5px)"></i>
<i style="left:264px;top:110px;height:99px;background:linear-gradient(#0002de 0.5px,#0010ff 4.5px,#0032ff 7.5px,#0034ff 13.5px,#0072ff 17.5px,#00acff 24.5px,#00e1ff 27.5px,#00fced 29.5px,#00fcc2 33.5px,#00fcc0 44.5px,#06f483 46.5px,#0ef060 47.5px,#2af049 48.5px,#5bf125 52.5px,#86f519 54.5px,#b7f90c 60.5px,#befa0a 72.5px,#d2fa06 75.5px,#ecfa02 86.5px,#ffdd00 97.5px,#ffd200 98.5px)"></i>
<i style="left:265px;top:111px;height:98px;background:linear-gradient(#0001dd 0.5px,#0013ff 3.5px,#0032ff 5.5px,#0033ff 12.5px,#007dff 17.5px,#00a0ff 21.5px,#00acff 23.5px,#00eaf9 26.5px,#00faee 27.5px,#00fcc0 29.5px,#00fcc0 43.5px,#11f05e 46.5px,#50f028 48.5px,#b3f90d 53.5px,#befa0a 55.5px,#c3fa09 71.5px,#dffa04 73.5px,#f8f300 85.5px,#ffc700 94.5px,#ffac00 97.5px)"></i>
<i style="left:266px;top:113px;height:96px;background:linear-gradient(#0005e9 0.5px,#0014ff 2.5px,#0032ff 5.5px,#0032ff 10.5px,#007cff 15.5px,#00a0ff 19.5px,#00acff 21.5px,#00eaf9 24.5px,#00faee 25.5px,#00fdd6 27.5px,#00fcc0 31.5px,#00fcc0 41.5px,#06f47e 43.5px,#14f05c 44.5px,#61f223 46.5px,#8cf518 47.5px,#b4f90d 49.5px,#befa0a 51.5px,#befa0a 68.5px,#ebfa02 71.5px,#fce700 83.5px,#ffcf00 87.5px,#ff9f00 94.5px,#ff9b00 95.5px)"></i>
<i style="left:267px;top:114px;height:95px;background:linear-gradient(#0005ec 0.5px,#0010ff 2.5px,#0032ff 6.5px,#0032ff 9.5px,#007bff 14.5px,#00a0ff 17.5px,#00a0ff 19.5px,#00c1ff 21.5px,#00f5f2 24.5px,#00fede 28.5px,#00fcc0 33.5px,#00fcc0 40.5px,#07f37b 42.5px,#17f059 43.5px,#65f222 45.5px,#9df713 46.5px,#befa0a 47.5px,#befa0a 66.5px,#f5fa00 70.5px,#ffdc00 82.5px,#ff9f00 89.5px,#ff8a00 94.5px)"></i>
<i style="left:268px;top:114px;height:95px;background:linear-gradient(#0002df 0.5px,#000dff 3.5px,#0032ff 7.5px,#0032ff 9.5px,#0098ff 16.5px,#00a0ff 19.5px,#00c1ff 21.5px,#00e5fc 23.5px,#00fee0 30.5px,#00fcc0 36.5px,#00fbbd 40.5px,#07f378 42.5px,#19f057 43.5px,#3df038 44.5px,#4ff029 45.5px,#8af518 47.5px,#befa0a 50.5px,#c0fa0a 66.5px,#f7f600 70.5px,#ffd800 80.5px,#ff7a00 92.5px,#ff7900 94.5px)"></i>
<i style="left:269px;top:115px;height:94px;background:linear-gradient(#0002e1 0.5px,#000aff 3.5px,#003fff 9.5px,#009eff 15.5px,#00a0ff 18.5px,#00d9ff 22.5px,#00fee4 31.5px,#00fcc0 37.5px,#00fbbb 39.5px,#07f378 41.5px,#16f059 43.5px,#53f027 46.5px,#a0f712 50.5px,#befa0a 52.5px,#befa0a 64.5px,#f5f900 68.5px,#fee400 73.5px,#ffbb00 81.5px,#ff6500 91.5px,#ff6300 93.5px)"></i>
<i style="left:270px;top:116px;height:93px;background:linear-gradient(#0003e4 0.5px,#000eff 3.5px,#003cff 9.5px,#008fff 14.5px,#00acff 18.5px,#00cdff 21.5px,#00f7f0 29.5px,#00fcca 36.5px,#00fcc0 38.5px,#07f37a 42.5px,#24f04d 44.5px,#55f027 47.5px,#94f615 51.5px,#b4f90d 52.5px,#befa0a 54.5px,#c3fa09 63.5px,#f1fa01 66.5px,#ffd700 73.5px,#ffa200 81.5px,#ff4600 91.5px,#ff4700 92.5px)"></i>
<i style="left:271px;top:116px;height:93px;background:linear-gradient(#0003e3 0.5px,#000afe 3.5px,#0032ff 10.5px,#0067ff 12.5px,#009fff 17.5px,#00e6fc 26.5px,#00fee2 34.5px,#00fcc0 39.5px,#00fcc0 40.5px,#00fbb3 41.5px,#09f16c 44.5px,#40f036 48.5px,#58f126 50.5px,#a6f811 52.5px,#befa0a 53.5px,#befa0a 62.5px,#f6f700 66.5px,#ffbb00 76.5px,#ff6100 86.5px,#fd2500 92.5px)"></i>
<i style="left:272px;top:116px;height:93px;background:linear-gradient(#0003e2 0.5px,#000aff 4.5px,#0032ff 10.5px,#0078ff 14.5px,#00e2fe 27.5px,#00fee3 36.5px,#00fcc0 39.5px,#00fcc0 41.5px,#00fbb3 42.5px,#10f05f 46.5px,#34f040 49.5px,#4df02b 50.5px,#befa0a 53.5px,#befa0a 61.5px,#f5fa00 65.5px,#ffc800 72.5px,#ff8e00 80.5px,#fc1a00 91.5px,#fc2000 92.5px)"></i>
<i style="left:273px;top:116px;height:93px;background:linear-gradient(#0002e1 0.5px,#0012ff 6.5px,#003aff 11.5px,#006eff 14.5px,#00e1ff 28.5px,#00feeb 36.5px,#00fcc0 40.5px,#00fcc0 42.5px,#01f9a0 44.5px,#12f05d 48.5px,#63f223 51.5px,#b1f90e 53.5px,#befa0a 54.5px,#c0fa0a 61.5px,#f7f600 65.5px,#ffb800 73.5px,#ff6b00 82.5px,#fc1900 89.5px,#fc1a00 92.5px)"></i>
<i style="left:274px;top:116px;height:93px;background:linear-gradient(#0002dd 0.5px,#000eff 6.5px,#0032ff 11.5px,#0071ff 15.5px,#00dbff 28.5px,#00ffe6 37.5px,#00fcc0 40.5px,#00fcc0 43.5px,#03f796 46.5px,#0af065 48.5px,#56f126 51.5px,#a3f811 53.5px,#befa0a 54.5px,#befa0a 60.5px,#f6f800 64.5px,#ffce00 69.5px,#ff6800 81.5px,#fc1a00 87.5px,#fb1300 92.5px)"></i>
<i style="left:275px;top:116px;height:93px;background:linear-gradient(#0002de 0.5px,#0014ff 7.5px,#0030ff 11.5px,#0069ff 15.5px,#00daff 29.5px,#00feec 37.5px,#00fcc0 41.5px,#00fcc0 44.5px,#00fbb6 45.5px,#09f16d 48.5px,#4bf02d 51.5px,#bcfa0b 54.5px,#bffa0a 60.5px,#f6f800 63.5px,#ffc700 69.5px,#ffab00 72.5px,#ffa600 74.5px,#ff8100 77.5px,#ff4a00 82.5px,#fb1600 86.5px,#fa0b00 91.5px,#fa0b00 92.5px)"></i>
<i style="left:276px;top:115px;height:94px;background:linear-gradient(#0001db 0.5px,#0014ff 8.5px,#0038ff 13.5px,#007bff 19.5px,#00d2ff 30.5px,#00f5f2 37.5px,#00feda 40.5px,#00fcc0 42.5px,#00fcc0 45.5px,#08f271 49.5px,#12f05d 50.5px,#61f223 53.5px,#aef90e 55.5px,#befa0a 56.5px,#c2fa09 61.5px,#f6f700 64.5px,#ffaa00 72.5px,#ffa600 75.5px,#ff7400 78.5px,#fe2c00 84.5px,#fa0e00 87.5px,#f50900 93.5px)"></i>
<i style="left:277px;top:114px;height:95px;background:linear-gradient(#0001da 0.5px,#000dff 8.5px,#003fff 15.5px,#0082ff 21.5px,#00d0ff 32.5px,#00f2f4 38.5px,#00fee1 41.5px,#00fcc0 44.5px,#00fcbe 46.5px,#09f16a 50.5px,#60f124 54.5px,#befa0a 57.5px,#c5fa09 62.5px,#f7f500 65.5px,#ffc800 69.5px,#ffab00 71.5px,#ffa600 76.5px,#ff5100 81.5px,#fb1400 86.5px,#ee0700 91.5px,#ef0700 94.5px)"></i>
<i style="left:278px;top:113px;height:96px;background:linear-gradient(#0001da 0.5px,#000eff 9.5px,#0043ff 16.5px,#007fff 22.5px,#00cfff 34.5px,#00f4f2 40.5px,#00feda 43.5px,#00fcc0 45.5px,#00fcbe 47.5px,#09f16a 51.5px,#60f124 55.5px,#aef90e 58.5px,#befa0a 59.5px,#befa0a 62.5px,#f0fa01 65.5px,#ffd400 69.5px,#ffaa00 73.5px,#ffa600 77.5px,#ff3600 83.5px,#fb1100 87.5px,#e90500 94.5px,#e90500 95.5px)"></i>
<i style="left:279px;top:112px;height:97px;background:linear-gradient(#0001d9 0.5px,#0010ff 10.5px,#003aff 16.5px,#006bff 21.5px,#0089ff 27.5px,#00a6ff 29.5px,#00ebf8 40.5px,#00fee1 44.5px,#00fcc0 47.5px,#00fcbe 48.5px,#09f16a 52.5px,#54f027 56.5px,#befa0a 61.5px,#befa0a 63.5px,#f3fa00 66.5px,#ffc000 72.5px,#ffaa00 74.5px,#ffa600 78.5px,#ff3300 84.5px,#fc1f00 85.5px,#ed0600 91.5px,#e30300 96.5px)"></i>
<i style="left:280px;top:111px;height:98px;background:linear-gradient(#0000d9 0.5px,#0013ff 11.5px,#0078ff 28.5px,#009eff 30.5px,#00e8fa 41.5px,#00ffe9 45.5px,#00fcc0 48.5px,#00fcbe 49.5px,#09f16a 53.5px,#54f027 58.5px,#befa0a 63.5px,#befa0a 64.5px,#f5fa00 67.5px,#ffc600 73.5px,#ffaa00 76.5px,#ffa600 79.5px,#fc1900 87.5px,#e70500 93.5px,#e20300 97.5px)"></i>
<i style="left:281px;top:110px;height:99px;background:linear-gradient(#0000d8 0.5px,#0011ff 11.5px,#0032ff 17.5px,#0026ff 19.5px,#0069ff 29.5px,#009eff 32.5px,#00eaf9 43.5px,#00fee4 47.5px,#00faaa 51.5px,#0bf063 55.5px,#54f027 60.5px,#bffa0a 65.5px,#f7f600 69.5px,#ffcc00 74.5px,#ffaa00 77.5px,#ffa600 80.5px,#ff6800 84.5px,#ff4e00 86.5px,#fc1f00 88.5px,#f70900 91.5px,#e60400 98.5px)"></i>
<i style="left:282px;top:108px;height:101px;background:linear-gradient(#0000d8 0.5px,#000fff 12.5px,#0032ff 19.5px,#001fff 23.5px,#0048ff 30.5px,#009eff 35.5px,#00ecf8 46.5px,#00ffea 49.5px,#0bf063 58.5px,#54f027 63.5px,#c9fa08 68.5px,#f5fa00 71.5px,#ffc600 77.5px,#ffaa00 80.5px,#ffa600 82.5px,#ff7b00 86.5px,#ff6000 88.5px,#fb1700 91.5px,#f10800 95.5px,#eb0600 100.5px)"></i>
<i style="left:283px;top:106px;height:103px;background:linear-gradient(#0000d8 0.5px,#0007f2 10.5px,#0016ff 15.5px,#0032ff 21.5px,#0012ff 26.5px,#0031ff 32.5px,#009eff 38.5px,#00e8fa 48.5px,#00fee3 52.5px,#0bf063 61.5px,#58f126 66.5px,#c1fa09 70.5px,#f6f600 74.5px,#ffd600 78.5px,#ffaa00 82.5px,#ffa800 85.5px,#ff7300 90.5px,#ff5e00 91.5px,#fc1f00 93.5px,#f80a00 96.5px,#f00700 102.5px)"></i>
<i style="left:284px;top:104px;height:105px;background:linear-gradient(#0000d8 0.5px,#0005ea 9.5px,#0012ff 16.5px,#0032ff 23.5px,#000afe 29.5px,#001fff 34.5px,#00a0ff 41.5px,#00e6fc 50.5px,#00ffe7 54.5px,#0bf063 64.5px,#4af02d 68.5px,#abf80f 71.5px,#f5fa00 76.5px,#ffcd00 81.5px,#ffaa00 84.5px,#ffa800 89.5px,#ff8500 92.5px,#fc1b00 96.5px,#f80900 100.5px,#f40800 104.5px)"></i>
<i style="left:285px;top:103px;height:106px;background:linear-gradient(#0000d8 0.5px,#0004e6 8.5px,#000eff 16.5px,#0032ff 23.5px,#0020ff 27.5px,#0008f9 31.5px,#000dff 35.5px,#005aff 39.5px,#0098ff 42.5px,#00ecf8 52.5px,#00ffe8 55.5px,#00fcc0 58.5px,#00fbb8 60.5px,#0df062 66.5px,#49f02e 69.5px,#abf80f 72.5px,#befa0a 73.5px,#c1fa09 74.5px,#f1fa01 77.5px,#ffd000 82.5px,#ffac00 85.5px,#ffa800 92.5px,#ff4f00 96.5px,#fc1b00 98.5px,#f90a00 104.5px,#f80a00 105.5px)"></i>
<i style="left:286px;top:139px;height:70px;background:linear-gradient(#000bff 0.5px,#0030ff 2.5px,#007bff 5.5px,#00a0ff 7.5px,#00ebf8 16.5px,#00ffea 19.5px,#00fcc0 22.5px,#00fbb8 25.5px,#07f37a 29.5px,#0af065 30.5px,#49f02e 33.5px,#abf80f 36.5px,#befa0a 37.5px,#f6f600 42.5px,#ffc800 47.5px,#ffaa00 50.5px,#ffaa00 56.5px,#ff4700 61.5px,#fc1a00 63.5px,#fa0e00 69.5px)"></i>
<i style="left:287px;top:139px;height:70px;background:linear-gradient(#0007f4 0.5px,#0028ff 2.5px,#0087ff 6.5px,#00a6ff 8.5px,#00eaf9 16.5px,#00ffeb 19.5px,#00fcc0 22.5px,#00fbb8 26.5px,#0af065 30.5px,#49f02e 33.5px,#abf80f 36.5px,#f3fa00 41.5px,#ffd700 46.5px,#ffaa00 50.5px,#ffaa00 56.5px,#fe2f00 62.5px,#fb1700 65.5px,#fb1300 69.5px)"></i>
<i style="left:288px;top:139px;height:70px;background:linear-gradient(#0007f3 0.5px,#0026ff 2.5px,#0086ff 6.5px,#00a6ff 8.5px,#00eaf9 16.5px,#00feec 19.5px,#00fcc2 22.5px,#00fcc0 25.5px,#0ef061 30.5px,#4cf02b 33.5px,#acf80f 36.5px,#f4fa00 41.5px,#ffcb00 47.5px,#ffaa00 50.5px,#ffa900 56.5px,#ff4600 61.5px,#fc1800 66.5px,#fc1900 69.5px)"></i>
<i style="left:289px;top:139px;height:70px;background:linear-gradient(#0007f3 0.5px,#0026ff 2.5px,#0086ff 6.5px,#00a6ff 8.5px,#00e9fa 16.5px,#00fee1 20.5px,#00fcc4 22.5px,#00fbbb 25.5px,#09f16c 29.5px,#5bf125 33.5px,#bcfa0a 36.5px,#cbfa08 38.5px,#f5fa00 41.5px,#ffca00 47.5px,#ffaa00 51.5px,#ffa700 56.5px,#ff5200 61.5px,#fc1900 67.5px,#fc1e00 69.5px)"></i>
<i style="left:290px;top:139px;height:70px;background:linear-gradient(#0009fa 0.5px,#002aff 2.5px,#0087ff 6.5px,#00a6ff 8.5px,#00e8fa 16.5px,#00fee3 20.5px,#00fcc0 23.5px,#00fcc0 24.5px,#09f168 29.5px,#57f126 33.5px,#b9fa0b 36.5px,#dafa05 39.5px,#f5f900 41.5px,#ffb200 51.5px,#ffa500 56.5px,#ff7200 59.5px,#fd2500 67.5px,#fc1a00 68.5px,#fc2000 69.5px)"></i>
<i style="left:291px;top:106px;height:103px;background:linear-gradient(#0003e3 0.5px,#0013ff 10.5px,#0032ff 20.5px,#0029ff 23.5px,#0009fa 28.5px,#0007f4 31.5px,#0015ff 33.5px,#0033ff 35.5px,#008dff 39.5px,#00a0ff 40.5px,#00e8fa 49.5px,#00fee4 53.5px,#00fcc0 56.5px,#00fcc0 57.5px,#0af066 62.5px,#53f027 66.5px,#adf80f 69.5px,#f5fa00 74.5px,#ffae00 86.5px,#ffa400 89.5px,#ff7c00 92.5px,#ff4f00 98.5px,#fc2000 102.5px)"></i>
<i style="left:292px;top:106px;height:103px;background:linear-gradient(#0004e6 0.5px,#0012ff 10.5px,#0032ff 21.5px,#0008f8 29.5px,#000fff 31.5px,#0045ff 35.5px,#00a0ff 40.5px,#00eaf9 49.5px,#00ffe5 53.5px,#00fcc0 56.5px,#00fcc0 57.5px,#0af065 62.5px,#56f126 66.5px,#bffa0a 70.5px,#f7f600 75.5px,#ffa200 89.5px,#ff5c00 99.5px,#ff4100 101.5px,#ff4800 102.5px)"></i>
<i style="left:293px;top:106px;height:103px;background:linear-gradient(#0004e6 0.5px,#0011ff 10.5px,#0030ff 22.5px,#0009fd 29.5px,#004cff 34.5px,#009cff 39.5px,#00ecf8 49.5px,#00ffeb 52.5px,#00fcc0 56.5px,#00fcbe 57.5px,#0bf063 62.5px,#53f027 66.5px,#b6f90c 70.5px,#f5f900 75.5px,#ffb000 88.5px,#ff6700 100.5px,#ff5b00 101.5px,#ff6e00 102.5px)"></i>
<i style="left:294px;top:106px;height:103px;background:linear-gradient(#0003e4 0.5px,#0013ff 11.5px,#0030ff 22.5px,#000eff 28.5px,#0054ff 33.5px,#00a0ff 39.5px,#00b2ff 42.5px,#00ecf7 49.5px,#00ffe7 52.5px,#00fcc0 55.5px,#00fbbc 57.5px,#0df061 62.5px,#63f223 67.5px,#c1fa09 71.5px,#f6f800 76.5px,#ffa000 92.5px,#ff7d00 101.5px,#ff8d00 102.5px)"></i>
<i style="left:295px;top:10px;height:199px;background:linear-gradient(#00008c 0.5px,#000090 68.5px,#0009fc 104.5px,#0030ff 119.5px,#0017ff 123.5px,#004aff 127.5px,#0097ff 133.5px,#00aaff 137.5px,#00e6fb 144.5px,#00ffe5 148.5px,#00fcc0 151.5px,#00fbba 153.5px,#0af066 158.5px,#5af125 163.5px,#b8f90c 167.5px,#f6f700 173.5px,#ffbc00 184.5px,#ff9100 196.5px,#ff9e00 198.5px)"></i>
<i style="left:296px;top:10px;height:199px;background:linear-gradient(#00008c 0.5px,#000091 68.5px,#000afe 105.5px,#0032ff 119.5px,#0020ff 122.5px,#0031ff 124.5px,#007bff 129.5px,#00b4ff 138.5px,#00e7fb 144.5px,#00fedd 149.5px,#00faab 154.5px,#12f05d 159.5px,#51f028 163.5px,#befa0a 168.5px,#f3fa00 173.5px,#ffc900 183.5px,#ffb400 188.5px,#ffa700 198.5px)"></i>
<i style="left:297px;top:10px;height:199px;background:linear-gradient(#00008c 0.5px,#000092 68.5px,#0009fd 105.5px,#002fff 120.5px,#002aff 122.5px,#0067ff 126.5px,#00b5ff 138.5px,#00edf7 145.5px,#00ffe6 149.5px,#00fab0 154.5px,#0cf062 159.5px,#5df125 164.5px,#c1fa0a 169.5px,#f4fa00 174.5px,#ffbd00 187.5px,#ffae00 198.5px)"></i>
<i style="left:298px;top:68px;height:141px;background:linear-gradient(#00008c 0.5px,#000092 10.5px,#0009fc 47.5px,#002fff 63.5px,#005dff 67.5px,#00c6ff 82.5px,#00f4f2 89.5px,#00fee3 92.5px,#03f797 98.5px,#0af067 101.5px,#63f223 107.5px,#c3fa09 112.5px,#f5fa00 117.5px,#ffc500 129.5px,#ffb500 140.5px)"></i>
<i style="left:299px;top:68px;height:141px;background:linear-gradient(#00008c 0.5px,#000091 10.5px,#000afe 48.5px,#0038ff 63.5px,#0082ff 73.5px,#00ecf8 88.5px,#00ffeb 92.5px,#04f68c 99.5px,#10f05f 102.5px,#68f221 108.5px,#c6fa09 113.5px,#f5f900 118.5px,#ffca00 130.5px,#ffbc00 140.5px)"></i>
<i style="left:300px;top:68px;height:141px;background:linear-gradient(#00008c 0.5px,#000093 11.5px,#000afe 49.5px,#0035ff 63.5px,#008eff 75.5px,#00ecf8 89.5px,#00ffe7 93.5px,#0af067 102.5px,#59f125 108.5px,#befa0a 113.5px,#f6f800 119.5px,#ffce00 132.5px,#ffc300 140.5px)"></i>
<i style="left:301px;top:68px;height:141px;background:linear-gradient(#00008c 0.5px,#000092 11.5px,#000afe 50.5px,#003aff 64.5px,#0086ff 74.5px,#00e8fa 89.5px,#00fee3 94.5px,#0bf063 103.5px,#5ff124 109.5px,#c2fa09 114.5px,#f6f700 120.5px,#ffd100 135.5px,#ffca00 140.5px)"></i>
<i style="left:302px;top:68px;height:141px;background:linear-gradient(#00008c 0.5px,#000091 11.5px,#000aff 51.5px,#0037ff 64.5px,#007dff 73.5px,#00e9f9 90.5px,#00ffea 94.5px,#09f16c 103.5px,#51f028 109.5px,#b8f90c 114.5px,#f4fa00 120.5px,#ffd500 137.5px,#ffd100 140.5px)"></i>
<i style="left:303px;top:10px;height:199px;background:linear-gradient(#00008c 0.5px,#000090 69.5px,#000afe 109.5px,#0034ff 122.5px,#00a0ff 136.5px,#00eaf9 149.5px,#00fee1 153.5px,#09f168 162.5px,#57f126 168.5px,#bffa0a 173.5px,#f5fa00 179.5px,#ffdb00 196.5px,#ffd800 198.5px)"></i>
<i style="left:304px;top:10px;height:199px;background:linear-gradient(#00008c 0.5px,#000090 69.5px,#0009fd 109.5px,#0039ff 123.5px,#009fff 136.5px,#00b7ff 141.5px,#00ecf8 150.5px,#00ffe9 153.5px,#0af064 163.5px,#5ff124 169.5px,#c2fa09 174.5px,#f6f800 181.5px,#ffdf00 198.5px)"></i>
<i style="left:305px;top:111px;height:98px;background:linear-gradient(#0004e7 0.5px,#0011ff 11.5px,#003dff 23.5px,#009eff 35.5px,#00acff 39.5px,#00e7fb 49.5px,#00fee4 53.5px,#0ef060 63.5px,#54f027 68.5px,#bafa0b 73.5px,#f6f900 81.5px,#fee400 97.5px)"></i>
<i style="left:306px;top:111px;height:98px;background:linear-gradient(#0004e5 0.5px,#0010ff 11.5px,#0037ff 23.5px,#00a0ff 36.5px,#00a7ff 39.5px,#00ebf9 50.5px,#00feec 53.5px,#09f168 63.5px,#5ef124 69.5px,#befa0a 74.5px,#f6f800 83.5px,#fce900 97.5px)"></i>
<i style="left:307px;top:111px;height:98px;background:linear-gradient(#0004e5 0.5px,#0010ff 11.5px,#003bff 24.5px,#0098ff 35.5px,#00b8ff 43.5px,#00edf7 51.5px,#00ffe8 54.5px,#09f16d 63.5px,#38f03d 67.5px,#67f222 70.5px,#b0f90e 74.5px,#d2fa06 78.5px,#f6f800 85.5px,#faed00 97.5px)"></i>
<i style="left:308px;top:111px;height:98px;background:linear-gradient(#0004e5 0.5px,#0011ff 12.5px,#0035ff 24.5px,#008dff 34.5px,#00c1ff 46.5px,#00eff6 52.5px,#00fee2 55.5px,#0af065 64.5px,#5df125 70.5px,#95f615 73.5px,#b1f90e 74.5px,#befa0a 75.5px,#dcfa05 81.5px,#f5f900 88.5px,#f8f200 97.5px)"></i>
<i style="left:309px;top:111px;height:98px;background:linear-gradient(#0004e5 0.5px,#0012ff 13.5px,#0038ff 25.5px,#007dff 32.5px,#00a0ff 39.5px,#00adff 44.5px,#00ecf8 52.5px,#00ffe8 55.5px,#09f16a 64.5px,#57f126 70.5px,#65f222 71.5px,#b6f90c 74.5px,#cdfa07 80.5px,#eefa01 88.5px,#f6f600 97.5px)"></i>
<i style="left:310px;top:111px;height:98px;background:linear-gradient(#0003e5 0.5px,#0013ff 14.5px,#0032ff 25.5px,#0071ff 31.5px,#00a0ff 40.5px,#00a5ff 44.5px,#00e9fa 52.5px,#00fee0 56.5px,#0bf063 65.5px,#4df02a 70.5px,#bafa0b 74.5px,#c4fa09 80.5px,#e4fa03 88.5px,#f3fa00 97.5px)"></i>
<i style="left:311px;top:111px;height:98px;background:linear-gradient(#0003e3 0.5px,#0011ff 14.5px,#003aff 26.5px,#0067ff 30.5px,#00a0ff 40.5px,#00a6ff 44.5px,#00e9fa 52.5px,#00fee2 56.5px,#0af066 65.5px,#3ff037 69.5px,#6cf320 71.5px,#befa0a 74.5px,#c1fa09 81.5px,#e2fa04 91.5px,#e9fa02 97.5px)"></i>
<i style="left:312px;top:111px;height:98px;background:linear-gradient(#0003e3 0.5px,#0013ff 15.5px,#0038ff 26.5px,#0070ff 32.5px,#00a0ff 41.5px,#00a8ff 44.5px,#00e9fa 52.5px,#00fee2 56.5px,#09f16a 65.5px,#30f043 68.5px,#55f027 70.5px,#befa0a 74.5px,#c3fa09 83.5px,#e0fa04 96.5px,#dffa04 97.5px)"></i>
<i style="left:313px;top:111px;height:98px;background:linear-gradient(#0003e3 0.5px,#0014ff 16.5px,#0036ff 26.5px,#006dff 32.5px,#00a0ff 41.5px,#00aaff 44.5px,#00ebf8 52.5px,#00feeb 55.5px,#00fcc2 58.5px,#00fbb2 60.5px,#10f05f 66.5px,#5af125 70.5px,#acf80f 73.5px,#befa0a 74.5px,#c4fa09 86.5px,#d7fa05 97.5px)"></i>
<i style="left:314px;top:111px;height:98px;background:linear-gradient(#0003e3 0.5px,#0012ff 16.5px,#0034ff 26.5px,#0076ff 34.5px,#00a0ff 42.5px,#00e6fc 51.5px,#00ffe9 55.5px,#00fcc0 58.5px,#00fbb5 60.5px,#09f16d 65.5px,#47f02f 69.5px,#b1f90e 73.5px,#befa0a 74.5px,#c4fa09 89.5px,#d0fa07 97.5px)"></i>
<i style="left:315px;top:112px;height:97px;background:linear-gradient(#0003e4 0.5px,#0013ff 16.5px,#0032ff 25.5px,#0079ff 34.5px,#00b8ff 44.5px,#00e8fa 50.5px,#00ffe5 54.5px,#00fcc0 57.5px,#00fbb9 59.5px,#09f16a 64.5px,#4af02d 68.5px,#b5f90c 72.5px,#befa0a 75.5px,#c6fa09 93.5px,#c9fa08 96.5px)"></i>
<i style="left:316px;top:112px;height:97px;background:linear-gradient(#0003e3 0.5px,#0011ff 16.5px,#0039ff 26.5px,#0082ff 36.5px,#00b2ff 43.5px,#00eaf9 50.5px,#00fee1 54.5px,#00fcc0 57.5px,#00fbbc 59.5px,#0af067 64.5px,#4df02a 68.5px,#bafa0b 72.5px,#c3fa09 96.5px)"></i>
<i style="left:317px;top:112px;height:97px;background:linear-gradient(#0003e3 0.5px,#0012ff 17.5px,#003aff 26.5px,#0083ff 36.5px,#00b5ff 43.5px,#00ebf8 50.5px,#00ffeb 53.5px,#00fcc1 56.5px,#00fcc0 58.5px,#02f899 61.5px,#0af064 64.5px,#50f028 68.5px,#befa0a 72.5px,#bffa0a 96.5px)"></i>
<i style="left:318px;top:112px;height:97px;background:linear-gradient(#0003e3 0.5px,#0011ff 17.5px,#003cff 26.5px,#007eff 35.5px,#00afff 42.5px,#00eff5 50.5px,#00ffe7 53.5px,#00fcc0 56.5px,#00fcc0 57.5px,#08f273 63.5px,#0df062 64.5px,#55f027 68.5px,#befa0a 72.5px,#c0fa0a 96.5px)"></i>
<i style="left:319px;top:115px;height:94px;background:linear-gradient(#0004e7 0.5px,#0010ff 14.5px,#003eff 23.5px,#0086ff 33.5px,#00b2ff 39.5px,#00e7fb 45.5px,#00fee0 50.5px,#08f275 59.5px,#10f05f 61.5px,#59f125 65.5px,#acf80f 68.5px,#befa0a 69.5px,#bffa0a 93.5px)"></i>
<i style="left:320px;top:125px;height:84px;background:linear-gradient(#0008f8 0.5px,#0022ff 8.5px,#0041ff 13.5px,#008eff 24.5px,#00acff 28.5px,#00ebf8 35.5px,#00fee2 39.5px,#07f379 47.5px,#14f05c 50.5px,#24f04d 52.5px,#5ef124 55.5px,#b1f90e 58.5px,#befa0a 59.5px,#c3fa09 78.5px,#f6f700 83.5px)"></i>
<i style="left:321px;top:126px;height:83px;background:linear-gradient(#0009fa 0.5px,#0031ff 10.5px,#0071ff 18.5px,#00a5ff 26.5px,#00eaf9 33.5px,#00fee4 37.5px,#09f16a 46.5px,#29f04a 49.5px,#3bf03a 52.5px,#63f223 54.5px,#b5f90c 57.5px,#befa0a 60.5px,#c2fa09 71.5px,#f6f800 77.5px,#ffd100 82.5px)"></i>
<i style="left:322px;top:127px;height:82px;background:linear-gradient(#0009fb 0.5px,#0032ff 9.5px,#006fff 16.5px,#00aaff 25.5px,#00e8fb 31.5px,#00ffe5 35.5px,#09f169 44.5px,#44f032 49.5px,#67f222 53.5px,#bafa0b 56.5px,#c6fa08 65.5px,#f7f500 72.5px,#ffd300 77.5px,#ffa400 81.5px)"></i>
<i style="left:323px;top:127px;height:82px;background:linear-gradient(#0008f9 0.5px,#0034ff 9.5px,#0078ff 17.5px,#00a1ff 24.5px,#00e6fc 30.5px,#00ffe8 34.5px,#09f168 43.5px,#5ef124 49.5px,#8ff617 54.5px,#befa0a 56.5px,#c8fa08 60.5px,#f7f500 68.5px,#ffcd00 74.5px,#ffa400 78.5px,#ff9200 81.5px)"></i>
<i style="left:324px;top:128px;height:81px;background:linear-gradient(#0009fb 0.5px,#0034ff 8.5px,#006eff 14.5px,#00a6ff 23.5px,#00e4fd 28.5px,#00ffe8 32.5px,#0af067 41.5px,#4ff029 46.5px,#88f519 49.5px,#f1fa01 61.5px,#ffdd00 68.5px,#ffa500 74.5px,#ff7f00 80.5px)"></i>
<i style="left:325px;top:129px;height:80px;background:linear-gradient(#000afd 0.5px,#003fff 8.5px,#0071ff 13.5px,#00a0ff 21.5px,#00eaf9 27.5px,#00fed9 31.5px,#0af065 39.5px,#51f028 44.5px,#a7f810 48.5px,#f5fa00 57.5px,#ffd400 65.5px,#ff9900 72.5px,#ff6f00 79.5px)"></i>
<i style="left:326px;top:129px;height:80px;background:linear-gradient(#0009fa 0.5px,#0033ff 7.5px,#007bff 14.5px,#00abff 21.5px,#00e8fa 26.5px,#00ffe7 29.5px,#0cf062 38.5px,#53f027 43.5px,#bffa0a 48.5px,#f6f700 55.5px,#ffcd00 63.5px,#ff8e00 71.5px,#ff5e00 79.5px)"></i>
<i style="left:327px;top:130px;height:79px;background:linear-gradient(#0009fb 0.5px,#003cff 7.5px,#0084ff 14.5px,#00a9ff 19.5px,#00e6fc 24.5px,#00ffe9 27.5px,#08f26f 35.5px,#1df054 37.5px,#56f126 41.5px,#c2fa09 46.5px,#eefa01 50.5px,#ffd500 58.5px,#ff7300 72.5px,#ff4900 78.5px)"></i>
<i style="left:328px;top:131px;height:78px;background:linear-gradient(#000afe 0.5px,#0039ff 6.5px,#0074ff 11.5px,#00b4ff 18.5px,#00eff6 23.5px,#00ffe7 25.5px,#09f16a 33.5px,#5df124 39.5px,#c4fa09 44.5px,#f6f800 48.5px,#ffd900 54.5px,#ff6000 71.5px,#ff3800 77.5px)"></i>
<i style="left:329px;top:131px;height:78px;background:linear-gradient(#0009fa 0.5px,#0035ff 6.5px,#0080ff 12.5px,#00bfff 18.5px,#00eef6 22.5px,#00ffe7 24.5px,#0af066 32.5px,#63f223 38.5px,#c6fa08 43.5px,#f1fa01 46.5px,#ffd200 53.5px,#ff7b00 64.5px,#fe2a00 76.5px,#fe2c00 77.5px)"></i>
<i style="left:330px;top:132px;height:77px;background:linear-gradient(#0009fc 0.5px,#0040ff 6.5px,#008aff 12.5px,#00e4fd 19.5px,#00ffe8 22.5px,#01f9a2 26.5px,#0af064 30.5px,#55f027 35.5px,#bdfa0a 40.5px,#f2fa01 44.5px,#ffcc00 51.5px,#ff6200 64.5px,#fc1900 75.5px,#fc1b00 76.5px)"></i>
<i style="left:331px;top:133px;height:76px;background:linear-gradient(#000bff 0.5px,#003dff 5.5px,#0081ff 10.5px,#00b6ff 14.5px,#00edf7 18.5px,#00ffe8 20.5px,#04f690 25.5px,#0cf063 28.5px,#5ff124 33.5px,#c2fa09 38.5px,#f7f500 43.5px,#ff9000 55.5px,#fd2900 68.5px,#fb1700 73.5px,#fc1900 75.5px)"></i>
<i style="left:332px;top:133px;height:76px;background:linear-gradient(#000bff 0.5px,#003aff 5.5px,#0077ff 9.5px,#00aaff 13.5px,#00ebf8 17.5px,#00ffe9 19.5px,#04f690 24.5px,#0ef061 27.5px,#4df02a 31.5px,#bcfa0a 36.5px,#f7f600 42.5px,#ff9d00 52.5px,#ff6100 59.5px,#ff3500 63.5px,#fb1100 70.5px,#fb1400 75.5px)"></i>
<i style="left:333px;top:133px;height:76px;background:linear-gradient(#000aff 0.5px,#0038ff 5.5px,#0086ff 10.5px,#00b2ff 13.5px,#00e8fa 16.5px,#00feeb 18.5px,#00fab0 21.5px,#0ff060 26.5px,#4ff029 30.5px,#b2f90d 34.5px,#f5fa00 40.5px,#ffd700 45.5px,#ffaa00 49.5px,#ffa900 50.5px,#ff4200 60.5px,#fc2000 63.5px,#f80900 71.5px,#fa0b00 75.5px)"></i>
<i style="left:334px;top:133px;height:76px;background:linear-gradient(#000aff 0.5px,#0036ff 5.5px,#0088ff 10.5px,#00b9ff 13.5px,#00eff6 16.5px,#00fdec 17.5px,#00fcc0 19.5px,#00fbbc 20.5px,#0ff05f 25.5px,#50f028 29.5px,#b6f90c 33.5px,#c6fa08 36.5px,#f6f800 39.5px,#ffdb00 44.5px,#ffaa00 48.5px,#ffa600 50.5px,#ff7500 54.5px,#fc1900 62.5px,#f50800 69.5px,#f50900 75.5px)"></i>
<i style="left:335px;top:133px;height:76px;background:linear-gradient(#000aff 0.5px,#0035ff 5.5px,#0065ff 7.5px,#00abff 12.5px,#00e8fa 15.5px,#00feda 17.5px,#00fcc0 18.5px,#00fbb7 20.5px,#0df061 24.5px,#51f028 28.5px,#b7f90c 32.5px,#befa0a 35.5px,#f6f700 39.5px,#ffd200 44.5px,#ffae00 47.5px,#ffa400 50.5px,#ff3a00 58.5px,#fc1900 61.5px,#fb1100 64.5px,#ee0600 71.5px,#f00700 75.5px)"></i>
<i style="left:336px;top:133px;height:76px;background:linear-gradient(#000bff 0.5px,#0032ff 5.5px,#006dff 7.5px,#00c1ff 13.5px,#00faee 16.5px,#00fcc0 18.5px,#00fcc0 19.5px,#08f271 23.5px,#29f04a 25.5px,#52f028 27.5px,#b8f90c 31.5px,#befa0a 35.5px,#f7f600 39.5px,#ffaa00 47.5px,#ffa100 50.5px,#ff3a00 57.5px,#fc1900 60.5px,#fb0f00 64.5px,#e80500 71.5px,#ea0500 75.5px)"></i>
<i style="left:337px;top:131px;height:78px;background:linear-gradient(#0009fa 0.5px,#0025ff 5.5px,#0032ff 7.5px,#005bff 8.5px,#0098ff 11.5px,#00d9ff 16.5px,#00f4f2 18.5px,#00fedf 19.5px,#00fcc0 20.5px,#00fcc0 21.5px,#09f16b 25.5px,#44f032 28.5px,#b9fa0b 32.5px,#befa0a 37.5px,#effa01 40.5px,#ffd000 45.5px,#ffad00 48.5px,#ffaa00 51.5px,#ff5100 57.5px,#fd2100 60.5px,#fc1900 63.5px,#f20800 68.5px,#e30300 73.5px,#e30300 77.5px)"></i>
<i style="left:338px;top:129px;height:80px;background:linear-gradient(#0009fa 0.5px,#0021ff 6.5px,#003bff 9.5px,#0062ff 10.5px,#009aff 12.5px,#00a2ff 14.5px,#00e9fa 19.5px,#00ffe6 21.5px,#00fcc7 22.5px,#00faa7 24.5px,#0af066 27.5px,#67f222 31.5px,#befa0a 34.5px,#bffa0a 39.5px,#f1fa01 42.5px,#ffce00 47.5px,#ffad00 50.5px,#ffaa00 53.5px,#fc2000 62.5px,#fb1300 67.5px,#e30300 73.5px,#e20300 79.5px)"></i>
<i style="left:339px;top:125px;height:84px;background:linear-gradient(#0007f3 0.5px,#001bff 8.5px,#003bff 12.5px,#0065ff 13.5px,#009eff 15.5px,#00a3ff 18.5px,#00eaf9 23.5px,#00ffe6 25.5px,#09f168 31.5px,#57f126 35.5px,#befa0a 39.5px,#c1fa09 43.5px,#f3fa00 46.5px,#ffbd00 53.5px,#ffaa00 56.5px,#ffa800 57.5px,#fc2000 67.5px,#fb1100 71.5px,#e60400 79.5px,#e60400 83.5px)"></i>
<i style="left:340px;top:119px;height:90px;background:linear-gradient(#0005eb 0.5px,#0012ff 10.5px,#002dff 16.5px,#0038ff 17.5px,#0092ff 20.5px,#00a0ff 21.5px,#00a5ff 24.5px,#00ecf8 29.5px,#00ffe6 31.5px,#08f271 37.5px,#23f04f 39.5px,#57f126 42.5px,#befa0a 46.5px,#c3fa09 49.5px,#f5fa00 52.5px,#ffac00 62.5px,#ff4a00 71.5px,#fc1900 75.5px,#f20800 80.5px,#eb0600 89.5px)"></i>
<i style="left:341px;top:112px;height:97px;background:linear-gradient(#0004e8 0.5px,#0008f6 11.5px,#0020ff 19.5px,#0037ff 23.5px,#0078ff 26.5px,#009cff 28.5px,#00a6ff 31.5px,#00ecf8 36.5px,#00feeb 38.5px,#09f16c 45.5px,#57f126 50.5px,#befa0a 54.5px,#c5fa09 56.5px,#f5f900 59.5px,#ffce00 66.5px,#ff5b00 78.5px,#fb1600 83.5px,#f10700 89.5px,#ef0700 96.5px)"></i>
<i style="left:342px;top:107px;height:102px;background:linear-gradient(#0002e0 0.5px,#0007f4 14.5px,#001aff 21.5px,#0035ff 27.5px,#00a0ff 34.5px,#00a8ff 36.5px,#00e9fa 41.5px,#00fedf 44.5px,#09f16c 51.5px,#57f126 56.5px,#befa0a 60.5px,#f5f900 65.5px,#ffcd00 72.5px,#ff6b00 83.5px,#fb1700 89.5px,#f20800 95.5px,#f30800 101.5px)"></i>
<i style="left:343px;top:101px;height:108px;background:linear-gradient(#0000d5 0.5px,#0006f1 19.5px,#0014ff 24.5px,#003dff 33.5px,#00a0ff 41.5px,#00e6fb 47.5px,#00ffe8 50.5px,#09f16c 58.5px,#57f126 63.5px,#befa0a 67.5px,#f5f900 72.5px,#ffa900 84.5px,#ff5f00 91.5px,#fd2500 95.5px,#f90a00 100.5px,#f70900 107.5px)"></i>
<i style="left:344px;top:93px;height:116px;background:linear-gradient(#0000c4 0.5px,#0005eb 23.5px,#0008f8 28.5px,#0046ff 41.5px,#0092ff 48.5px,#00edf7 56.5px,#00ffe5 59.5px,#09f16c 67.5px,#57f126 72.5px,#befa0a 76.5px,#f6f800 81.5px,#ffa500 94.5px,#ff6e00 99.5px,#fc1f00 105.5px,#fa0a00 110.5px,#fa0c00 115.5px)"></i>
<i style="left:345px;top:84px;height:125px;background:linear-gradient(#0000b2 0.5px,#0005ea 31.5px,#0007f4 36.5px,#0017ff 40.5px,#005eff 52.5px,#00b3ff 60.5px,#00e8fb 65.5px,#00fee3 69.5px,#07f37c 76.5px,#13f05d 78.5px,#57f126 82.5px,#befa0a 86.5px,#f6f700 91.5px,#ffa900 104.5px,#fd2300 115.5px,#fb1100 119.5px,#fb1300 124.5px)"></i>
<i style="left:346px;top:74px;height:135px;background:linear-gradient(#00009d 0.5px,#0005ea 40.5px,#0008f6 46.5px,#0020ff 51.5px,#007dff 65.5px,#00ebf8 76.5px,#00ffe9 79.5px,#00fcc7 81.5px,#00fbbd 83.5px,#09f16c 88.5px,#44f032 92.5px,#bffa0a 97.5px,#f4fa00 101.5px,#ffc900 110.5px,#ffaa00 114.5px,#ff9f00 116.5px,#fd2700 126.5px,#fb1700 129.5px,#fc1800 134.5px)"></i>
<i style="left:347px;top:61px;height:148px;background:linear-gradient(#00008c 0.5px,#00009e 13.5px,#0005ea 53.5px,#0007f2 58.5px,#001cff 63.5px,#008aff 79.5px,#00e7fb 89.5px,#00ffeb 92.5px,#00fcc0 95.5px,#00fbbd 97.5px,#09f16b 102.5px,#49f02e 106.5px,#b4f90d 110.5px,#f6f800 115.5px,#ffd400 122.5px,#ffaa00 127.5px,#ffa900 129.5px,#ff3400 139.5px,#fc1800 143.5px,#fc1d00 147.5px)"></i>
<i style="left:348px;top:41px;height:168px;background:linear-gradient(#00008c 0.5px,#000092 27.5px,#0005ea 72.5px,#0007f5 78.5px,#0018ff 82.5px,#006cff 94.5px,#0096ff 100.5px,#00b6ff 104.5px,#00eef7 110.5px,#00fdec 112.5px,#00fcc0 115.5px,#00fbb9 118.5px,#0ff060 123.5px,#5bf125 127.5px,#b0f90e 130.5px,#effa01 135.5px,#ffd700 142.5px,#ffaa00 148.5px,#ffa400 150.5px,#ff3b00 160.5px,#fc1a00 165.5px,#fd2200 167.5px)"></i>
<i style="left:349px;top:17px;height:192px;background:linear-gradient(#00008c 0.5px,#000090 50.5px,#0005ea 96.5px,#0006ef 101.5px,#0012ff 104.5px,#0041ff 111.5px,#006eff 117.5px,#0099ff 124.5px,#00a9ff 127.5px,#00edf7 134.5px,#00fee0 137.5px,#00fcc0 139.5px,#00fcc0 141.5px,#0ef060 147.5px,#5bf125 151.5px,#b0f90e 154.5px,#f6f700 161.5px,#ffc900 168.5px,#ffaa00 172.5px,#ffaa00 174.5px,#ff4a00 184.5px,#fc1900 190.5px,#fc1f00 191.5px)"></i>
<i style="left:350px;top:10px;height:199px;background:linear-gradient(#00008c 0.5px,#000091 57.5px,#0005eb 103.5px,#0007f3 108.5px,#001dff 112.5px,#0046ff 118.5px,#0074ff 124.5px,#00a7ff 134.5px,#00ebf8 141.5px,#00fee3 144.5px,#00fcc1 146.5px,#00fbba 148.5px,#0ef060 154.5px,#5af125 158.5px,#b0f90e 161.5px,#f6f800 168.5px,#ffc300 176.5px,#ffaa00 179.5px,#ffa900 182.5px,#ff7900 187.5px,#fd2300 198.5px)"></i>
<i style="left:351px;top:10px;height:199px;background:linear-gradient(#00008c 0.5px,#000092 57.5px,#0005eb 102.5px,#0007f1 107.5px,#0015ff 110.5px,#0054ff 119.5px,#0088ff 127.5px,#00bdff 136.5px,#00eaf9 141.5px,#00ffe5 144.5px,#00fcc3 146.5px,#00fbb3 148.5px,#09f168 153.5px,#44f032 157.5px,#b0f90e 161.5px,#f5fa00 168.5px,#ffcf00 175.5px,#ffaa00 180.5px,#ffa500 183.5px,#ff3400 198.5px)"></i>
<i style="left:352px;top:10px;height:199px;background:linear-gradient(#00008c 0.5px,#000090 56.5px,#0005eb 102.5px,#0006ef 106.5px,#0015ff 109.5px,#0060ff 120.5px,#0098ff 129.5px,#00ecf8 141.5px,#00ffe8 144.5px,#0df062 153.5px,#5ef124 158.5px,#aff90e 161.5px,#f5f900 168.5px,#ffd200 175.5px,#ffaa00 180.5px,#ffa600 184.5px,#ff4400 198.5px)"></i>
<i style="left:353px;top:10px;height:199px;background:linear-gradient(#00008c 0.5px,#000091 56.5px,#0005eb 102.5px,#0006ed 105.5px,#0015ff 108.5px,#0032ff 112.5px,#003bff 115.5px,#0095ff 127.5px,#00d3ff 137.5px,#00fdec 143.5px,#09f16a 152.5px,#50f028 157.5px,#c2fa09 162.5px,#f6f800 168.5px,#ffcc00 176.5px,#ffaa00 180.5px,#ff9f00 186.5px,#ff4f00 198.5px)"></i>
<i style="left:354px;top:10px;height:199px;background:linear-gradient(#00008c 0.5px,#000092 56.5px,#0005eb 102.5px,#0007f4 105.5px,#001eff 108.5px,#0032ff 111.5px,#003eff 115.5px,#009fff 128.5px,#00b7ff 132.5px,#00e8fb 139.5px,#00ffe7 143.5px,#0bf063 152.5px,#5bf125 157.5px,#bbfa0b 161.5px,#f6f600 168.5px,#ffcc00 176.5px,#ffaa00 181.5px,#ffa000 186.5px,#ff6600 197.5px,#ff5d00 198.5px)"></i>
<i style="left:355px;top:10px;height:199px;background:linear-gradient(#00008c 0.5px,#000090 55.5px,#0005eb 101.5px,#0008f8 105.5px,#0032ff 110.5px,#0038ff 114.5px,#0084ff 124.5px,#00a0ff 128.5px,#00bcff 132.5px,#00edf7 139.5px,#00ffea 142.5px,#09f16b 151.5px,#4ef029 156.5px,#befa0a 161.5px,#f5f900 167.5px,#ffca00 176.5px,#ffaa00 181.5px,#ffa100 186.5px,#ff6b00 198.5px)"></i>
<i style="left:356px;top:10px;height:199px;background:linear-gradient(#00008c 0.5px,#000091 55.5px,#0005eb 101.5px,#000dff 106.5px,#0032ff 110.5px,#0032ff 113.5px,#0080ff 123.5px,#00c9ff 133.5px,#00f8f0 140.5px,#00fdd1 143.5px,#00faae 146.5px,#0af064 151.5px,#58f126 156.5px,#b8f90c 160.5px,#cbfa08 163.5px,#f5f900 167.5px,#ffc800 176.5px,#ffaa00 181.5px,#ff9e00 187.5px,#ff6e00 198.5px)"></i>
<i style="left:357px;top:10px;height:199px;background:linear-gradient(#00008c 0.5px,#000092 55.5px,#0005eb 101.5px,#000fff 106.5px,#0032ff 111.5px,#003eff 114.5px,#008eff 125.5px,#00e6fc 136.5px,#00fee2 141.5px,#00fcc0 144.5px,#00fcc0 145.5px,#11f05e 151.5px,#63f223 156.5px,#befa0a 160.5px,#c6fa09 163.5px,#f7f600 168.5px,#ffaa00 181.5px,#ff9f00 187.5px,#ff7400 198.5px)"></i>
<i style="left:358px;top:10px;height:199px;background:linear-gradient(#00008c 0.5px,#000090 54.5px,#0005ea 100.5px,#0013ff 106.5px,#0032ff 111.5px,#004aff 115.5px,#00c8ff 132.5px,#00f0f5 137.5px,#00fee4 140.5px,#00fcc0 143.5px,#00fcc0 145.5px,#0af064 150.5px,#56f126 155.5px,#b5f90c 159.5px,#c1fa0a 163.5px,#f6f900 168.5px,#ffc500 176.5px,#ffaa00 180.5px,#ffa500 186.5px,#ff7d00 196.5px,#ff7a00 198.5px)"></i>
<i style="left:359px;top:10px;height:199px;background:linear-gradient(#00008c 0.5px,#000091 54.5px,#0004e9 99.5px,#0013ff 106.5px,#0044ff 114.5px,#008bff 124.5px,#00caff 132.5px,#00faef 138.5px,#00fcc0 142.5px,#00fcc0 145.5px,#0af064 150.5px,#61f223 155.5px,#befa0a 159.5px,#befa0a 163.5px,#f7f600 169.5px,#ffc900 176.5px,#ffaa00 181.5px,#ffa200 187.5px,#ff8300 196.5px,#ff7e00 198.5px)"></i>
<i style="left:360px;top:10px;height:199px;background:linear-gradient(#00008c 0.5px,#000092 54.5px,#0007f2 102.5px,#0018ff 107.5px,#004fff 115.5px,#00b7ff 130.5px,#00ecf8 136.5px,#00ffe6 139.5px,#00fcc0 142.5px,#00fcc0 145.5px,#0af064 150.5px,#55f027 154.5px,#b3f90d 158.5px,#befa0a 160.5px,#c1fa09 164.5px,#f6f800 169.5px,#ffaa00 182.5px,#ff9f00 188.5px,#ff8100 198.5px)"></i>
<i style="left:361px;top:10px;height:199px;background:linear-gradient(#00008c 0.5px,#000090 53.5px,#0005ea 99.5px,#0012ff 106.5px,#0056ff 116.5px,#00b7ff 130.5px,#00ecf8 136.5px,#00fedd 140.5px,#00fcc0 143.5px,#00fcc0 145.5px,#0af064 150.5px,#57f126 154.5px,#befa0a 158.5px,#befa0a 164.5px,#f4fa00 169.5px,#ffc500 179.5px,#ffaa00 185.5px,#ff8500 198.5px)"></i>
<i style="left:362px;top:37px;height:172px;background:linear-gradient(#00008c 0.5px,#000091 26.5px,#0005ea 72.5px,#0012ff 79.5px,#004cff 88.5px,#00b7ff 103.5px,#00eaf9 109.5px,#00ffe5 113.5px,#00fcc0 117.5px,#00fcc0 118.5px,#0af064 123.5px,#57f126 127.5px,#aff90e 130.5px,#befa0a 131.5px,#c2fa09 138.5px,#f6f800 143.5px,#ffb400 157.5px,#ff8800 171.5px)"></i>
<i style="left:363px;top:45px;height:164px;background:linear-gradient(#00008c 0.5px,#000092 18.5px,#0008f9 68.5px,#0039ff 78.5px,#0083ff 88.5px,#00d9ff 99.5px,#00fee3 106.5px,#00fcc0 110.5px,#0af064 115.5px,#50f028 119.5px,#9ef713 122.5px,#befa0a 124.5px,#befa0a 130.5px,#f4fa00 135.5px,#ffc500 148.5px,#ffa500 154.5px,#ff8c00 163.5px)"></i>
<i style="left:364px;top:47px;height:162px;background:linear-gradient(#00008c 0.5px,#000093 16.5px,#0005eb 60.5px,#0009f9 66.5px,#0040ff 77.5px,#0090ff 88.5px,#00ebf9 100.5px,#00fee1 105.5px,#01f9a1 110.5px,#12f05d 114.5px,#5ef124 118.5px,#b6f90c 123.5px,#befa0a 127.5px,#cefa07 130.5px,#f6f800 134.5px,#ffd500 145.5px,#ffa400 154.5px,#ff9000 161.5px)"></i>
<i style="left:365px;top:51px;height:158px;background:linear-gradient(#00008c 0.5px,#000096 12.5px,#0005eb 55.5px,#0008f5 61.5px,#0025ff 69.5px,#0058ff 76.5px,#00c4ff 91.5px,#00f1f4 98.5px,#00fede 102.5px,#00faab 106.5px,#0af065 110.5px,#4cf02c 114.5px,#9ff712 119.5px,#befa0a 120.5px,#befa0a 125.5px,#f2fa01 130.5px,#ffd600 143.5px,#ffa600 151.5px,#ff9400 157.5px)"></i>
<i style="left:366px;top:76px;height:133px;background:linear-gradient(#0000b5 0.5px,#0007f1 33.5px,#0008f9 37.5px,#003bff 48.5px,#009cff 61.5px,#00e8fa 72.5px,#00ffe6 77.5px,#01f9a2 82.5px,#12f05d 86.5px,#58f126 91.5px,#82f51a 93.5px,#befa0a 95.5px,#c3fa09 101.5px,#dffa04 104.5px,#f7f500 111.5px,#ffd600 120.5px,#ffa800 127.5px,#ff9800 132.5px)"></i>
<i style="left:367px;top:98px;height:111px;background:linear-gradient(#0003e3 0.5px,#0008f8 15.5px,#0038ff 26.5px,#00a0ff 40.5px,#00e9f9 51.5px,#00fee1 56.5px,#02f89a 61.5px,#0af065 64.5px,#49f02e 69.5px,#aaf810 72.5px,#befa0a 73.5px,#befa0a 79.5px,#f6f700 91.5px,#ffd700 100.5px,#ffaa00 106.5px,#ff9f00 110.5px)"></i>
<i style="left:368px;top:110px;height:99px;background:linear-gradient(#0006f1 0.5px,#0015ff 7.5px,#003cff 15.5px,#0090ff 26.5px,#00ebf8 40.5px,#00ffe7 44.5px,#04f691 50.5px,#0af064 53.5px,#4af02d 57.5px,#aff90e 60.5px,#befa0a 61.5px,#c2fa09 70.5px,#f7f600 82.5px,#ffd400 90.5px,#ffbd00 92.5px,#ffaa00 93.5px,#ffac00 97.5px,#ffa800 98.5px)"></i>
<i style="left:369px;top:109px;height:100px;background:linear-gradient(#0007f5 0.5px,#0009fb 5.5px,#0037ff 16.5px,#007fff 25.5px,#00e8fa 41.5px,#00ffeb 45.5px,#00fcc0 48.5px,#00fbbc 49.5px,#0ff060 55.5px,#4ef02a 58.5px,#b4f90d 61.5px,#befa0a 63.5px,#c2fa09 74.5px,#f7f500 86.5px,#ffe100 91.5px,#ffaa00 94.5px,#ffb200 97.5px,#ffc200 98.5px,#ffbf00 99.5px)"></i>
<i style="left:370px;top:109px;height:100px;background:linear-gradient(#0008f7 0.5px,#0009fa 5.5px,#002cff 15.5px,#0089ff 27.5px,#00e5fc 41.5px,#00ffe8 45.5px,#00fcc0 48.5px,#00fcc0 49.5px,#0ff060 55.5px,#52f028 58.5px,#b9fa0b 61.5px,#c5fa09 78.5px,#f6f600 88.5px,#ffe000 91.5px,#ffaa00 94.5px,#ffaa00 96.5px,#ffd300 99.5px)"></i>
<i style="left:371px;top:111px;height:98px;background:linear-gradient(#0008f6 0.5px,#0016ff 10.5px,#0048ff 17.5px,#008bff 26.5px,#00e7fb 39.5px,#00ffe5 43.5px,#00fcc0 46.5px,#00fbb9 48.5px,#08f272 52.5px,#28f04a 54.5px,#57f126 56.5px,#befa0a 59.5px,#c3fa09 79.5px,#ecfa02 86.5px,#fbeb00 88.5px,#ffaa00 92.5px,#ffaa00 94.5px,#ffe000 97.5px)"></i>
<i style="left:372px;top:114px;height:95px;background:linear-gradient(#0008f8 0.5px,#0013ff 7.5px,#0039ff 13.5px,#007bff 21.5px,#00c7ff 32.5px,#00eff6 37.5px,#00fee2 40.5px,#00fcc5 42.5px,#00fbbd 45.5px,#09f16e 49.5px,#42f034 52.5px,#befa0a 56.5px,#c0fa0a 79.5px,#d1fa07 82.5px,#f7f600 84.5px,#ffc600 87.5px,#ffb100 88.5px,#ffaa00 91.5px,#ffe200 94.5px)"></i>
<i style="left:373px;top:117px;height:92px;background:linear-gradient(#0008f9 0.5px,#0014ff 6.5px,#0078ff 18.5px,#00c8ff 29.5px,#00f0f5 34.5px,#00fedf 37.5px,#00fcc2 39.5px,#00fcc0 42.5px,#09f16b 46.5px,#45f031 49.5px,#a7f810 52.5px,#befa0a 53.5px,#bffa0a 78.5px,#ccfa07 79.5px,#f7f400 81.5px,#ffc300 84.5px,#ffae00 85.5px,#ffaa00 88.5px,#fee400 91.5px)"></i>
<i style="left:374px;top:120px;height:89px;background:linear-gradient(#0009fa 0.5px,#0015ff 4.5px,#007dff 16.5px,#00ebf9 30.5px,#00ffeb 33.5px,#00fcc0 36.5px,#00fcc0 39.5px,#09f168 43.5px,#48f02e 46.5px,#acf80f 49.5px,#befa0a 50.5px,#befa0a 72.5px,#ebfa02 77.5px,#fde600 79.5px,#ffac00 82.5px,#ffad00 85.5px,#ffe000 88.5px)"></i>
<i style="left:375px;top:123px;height:86px;background:linear-gradient(#000afd 0.5px,#007cff 13.5px,#00b4ff 20.5px,#00ecf8 27.5px,#00ffe8 30.5px,#00fcc0 33.5px,#00fcc0 36.5px,#00fbb1 37.5px,#0af064 40.5px,#4cf02c 43.5px,#b1f90d 46.5px,#befa0a 47.5px,#bffa0a 66.5px,#f5fa00 71.5px,#fee400 76.5px,#ffaa00 79.5px,#ffb000 82.5px,#ffcf00 84.5px,#ffd000 85.5px)"></i>
<i style="left:376px;top:124px;height:85px;background:linear-gradient(#0009fd 0.5px,#0074ff 11.5px,#00b7ff 19.5px,#00e3fe 24.5px,#00ffe6 29.5px,#00fcc0 32.5px,#00fcc0 34.5px,#10f05f 39.5px,#4ff029 42.5px,#b6f90c 45.5px,#befa0a 49.5px,#c1fa0a 59.5px,#f6f600 67.5px,#ffdb00 75.5px,#ffaa00 78.5px,#ffaa00 80.5px,#ffbf00 83.5px,#ffbd00 84.5px)"></i>
<i style="left:377px;top:126px;height:83px;background:linear-gradient(#0016ff 0.5px,#0065ff 7.5px,#00afff 16.5px,#00e8fb 22.5px,#00fee3 27.5px,#00fcc0 30.5px,#00fbbd 31.5px,#09f169 35.5px,#19f057 37.5px,#54f027 40.5px,#bcfa0b 43.5px,#c2fa09 51.5px,#f7f600 60.5px,#ffb700 75.5px,#ffaa00 76.5px,#ffa900 82.5px)"></i>
<i style="left:378px;top:126px;height:83px;background:linear-gradient(#0012ff 0.5px,#0067ff 7.5px,#00b2ff 16.5px,#00ebf8 22.5px,#00ffe5 26.5px,#00fbb6 30.5px,#11f05e 34.5px,#3ef038 37.5px,#50f028 39.5px,#7bf41c 41.5px,#befa0a 43.5px,#c2fa09 47.5px,#f5fa00 53.5px,#ffce00 64.5px,#ff9000 81.5px,#ff9000 82.5px)"></i>
<i style="left:379px;top:126px;height:83px;background:linear-gradient(#0010ff 0.5px,#006bff 7.5px,#00b5ff 16.5px,#00eaf9 21.5px,#00fee3 25.5px,#00fcc3 28.5px,#0cf063 32.5px,#54f027 36.5px,#b6f90c 42.5px,#f6f700 49.5px,#ffc600 60.5px,#ff9900 69.5px,#ff6f00 81.5px,#ff7200 82.5px)"></i>
<i style="left:380px;top:126px;height:83px;background:linear-gradient(#000eff 0.5px,#0067ff 6.5px,#00bcff 16.5px,#00f0f5 21.5px,#00fee3 24.5px,#00fcc0 27.5px,#09f16d 30.5px,#54f027 34.5px,#b0f90e 38.5px,#f4fa00 44.5px,#ffb400 58.5px,#ff7d00 68.5px,#ff4600 81.5px,#ff4a00 82.5px)"></i>
<i style="left:381px;top:126px;height:83px;background:linear-gradient(#000dff 0.5px,#006dff 6.5px,#00dbff 18.5px,#00fdec 22.5px,#00fbb5 26.5px,#10f05f 29.5px,#58f126 32.5px,#bbfa0b 36.5px,#f0fa01 40.5px,#ffcc00 49.5px,#ff5000 70.5px,#fc1d00 82.5px)"></i>
<i style="left:382px;top:126px;height:83px;background:linear-gradient(#000bff 0.5px,#0071ff 6.5px,#00e6fc 18.5px,#00fee0 22.5px,#00fcc4 24.5px,#0af067 27.5px,#59f126 30.5px,#aff90e 33.5px,#effa01 37.5px,#ffcf00 44.5px,#ff5000 63.5px,#fd2900 70.5px,#fb1000 78.5px,#fc1a00 82.5px)"></i>
<i style="left:383px;top:126px;height:83px;background:linear-gradient(#000afe 0.5px,#0069ff 5.5px,#00e8fa 17.5px,#00feec 20.5px,#00fcbf 23.5px,#08f275 25.5px,#3af03b 27.5px,#7ef41b 29.5px,#bdfa0a 31.5px,#f6f900 35.5px,#ffbb00 43.5px,#ff4200 60.5px,#fb1700 66.5px,#f20800 78.5px,#fb0f00 82.5px)"></i>
<i style="left:384px;top:126px;height:83px;background:linear-gradient(#000cff 0.5px,#0046ff 3.5px,#007dff 6.5px,#00ebf9 16.5px,#00ffe8 19.5px,#00fcca 21.5px,#00fbb1 22.5px,#0cf063 24.5px,#50f028 26.5px,#a9f810 28.5px,#c6fa09 29.5px,#f3fa00 32.5px,#ffce00 38.5px,#ff7b00 48.5px,#fb1300 62.5px,#f00700 70.5px,#e90500 79.5px,#f60900 82.5px)"></i>
<i style="left:385px;top:126px;height:83px;background:linear-gradient(#002dff 0.5px,#0030ff 2.5px,#0064ff 4.5px,#00d0ff 12.5px,#00fced 17.5px,#00fcc4 20.5px,#08f274 22.5px,#47f030 24.5px,#a6f811 26.5px,#c7fa08 27.5px,#f6f700 30.5px,#ffa900 39.5px,#fc1900 56.5px,#f10700 63.5px,#dd0200 79.5px,#ed0600 82.5px)"></i>
<i style="left:386px;top:126px;height:83px;background:linear-gradient(#0032ff 0.5px,#0032ff 2.5px,#0069ff 4.5px,#00c7ff 10.5px,#00f7f0 15.5px,#00fedb 17.5px,#00fbb7 19.5px,#11f05e 21.5px,#6af221 23.5px,#a1f712 24.5px,#c7fa08 25.5px,#eefa01 27.5px,#ffd100 32.5px,#fb1600 52.5px,#f00700 59.5px,#cd0000 79.5px,#e10300 82.5px)"></i>
<i style="left:387px;top:126px;height:83px;background:linear-gradient(#0032ff 0.5px,#0032ff 2.5px,#0057ff 3.5px,#00a9ff 7.5px,#00e2fe 11.5px,#00ffe5 15.5px,#00fcc5 17.5px,#09f16a 19.5px,#62f223 21.5px,#9bf713 22.5px,#c7fa08 23.5px,#effa01 25.5px,#ffcb00 30.5px,#ffa300 34.5px,#fc1900 48.5px,#fc1900 51.5px,#f10700 54.5px,#b90000 76.5px,#b50000 79.5px,#d50000 82.5px)"></i>
<i style="left:388px;top:126px;height:83px;background:linear-gradient(#0032ff 0.5px,#003eff 2.5px,#007bff 4.5px,#00daff 9.5px,#00feec 13.5px,#00fbb6 16.5px,#06f47d 17.5px,#26f04c 18.5px,#58f126 19.5px,#9af714 20.5px,#c7fa08 21.5px,#f1fa01 23.5px,#ffc700 28.5px,#ff9800 33.5px,#ff6c00 38.5px,#ff3a00 41.5px,#fc1900 45.5px,#fc1900 51.5px,#f20800 53.5px,#e40400 55.5px,#c70000 63.5px,#ad0000 70.5px,#9e0000 79.5px,#bc0000 82.5px)"></i>
<i style="left:389px;top:126px;height:83px;background:linear-gradient(#0032ff 0.5px,#0032ff 1.5px,#00a3ff 5.5px,#00dcff 8.5px,#00fee3 12.5px,#00fcc5 14.5px,#03f795 15.5px,#16f05a 16.5px,#4df02b 17.5px,#98f714 18.5px,#c9fa08 19.5px,#f4fa00 21.5px,#ffb500 27.5px,#ffaa00 29.5px,#ffaa00 31.5px,#ff7900 35.5px,#ff5800 38.5px,#fc1900 41.5px,#fc1900 51.5px,#f20800 53.5px,#d50000 56.5px,#990000 68.5px,#8a0000 81.5px,#8c0000 82.5px)"></i>
<i style="left:390px;top:125px;height:84px;background:linear-gradient(#0032ff 0.5px,#0032ff 2.5px,#005fff 3.5px,#00b7ff 6.5px,#00ebf8 9.5px,#00ffe9 11.5px,#00fcc7 13.5px,#01f9a1 14.5px,#0af067 15.5px,#40f036 16.5px,#93f616 17.5px,#cbfa08 18.5px,#f6f800 20.5px,#ffaf00 26.5px,#ffaa00 32.5px,#ff5e00 37.5px,#ff4600 39.5px,#fc1c00 41.5px,#fc1900 52.5px,#f20800 54.5px,#ba0000 58.5px,#810000 69.5px,#860000 82.5px,#900000 83.5px)"></i>
<i style="left:391px;top:125px;height:84px;background:linear-gradient(#0032ff 0.5px,#0032ff 1.5px,#0042ff 2.5px,#0070ff 3.5px,#00ceff 6.5px,#00fbed 9.5px,#00fcc8 11.5px,#02f89f 12.5px,#09f16a 13.5px,#3ef038 14.5px,#8df617 15.5px,#cbfa08 16.5px,#f7f500 18.5px,#ffaa00 24.5px,#ffaa00 32.5px,#ff6a00 36.5px,#ff3f00 38.5px,#fc1900 41.5px,#fc1900 52.5px,#f20800 54.5px,#c60000 57.5px,#9f0000 59.5px,#800000 66.5px,#830000 82.5px,#8e0000 83.5px)"></i>
<i style="left:392px;top:119px;height:90px;background:linear-gradient(#0093ff 0.5px,#0032ff 6.5px,#0032ff 7.5px,#00ceff 11.5px,#00f7f0 13.5px,#00fcca 15.5px,#04f68e 16.5px,#2df046 17.5px,#62f223 18.5px,#8ff617 19.5px,#cbfa08 20.5px,#e8fa02 21.5px,#fce700 23.5px,#ffad00 27.5px,#ffaa00 38.5px,#ff7d00 41.5px,#fc1900 46.5px,#fc1900 58.5px,#f20800 60.5px,#c60000 63.5px,#840000 66.5px,#840000 89.5px)"></i>
<i style="left:393px;top:119px;height:90px;background:linear-gradient(#0094ff 0.5px,#0069ff 4.5px,#0032ff 7.5px,#006dff 8.5px,#00ceff 10.5px,#00eef6 11.5px,#00fee4 12.5px,#00fcc4 13.5px,#05f58a 14.5px,#83f51a 15.5px,#befa0a 16.5px,#befa0a 19.5px,#f8f200 20.5px,#ffb100 24.5px,#ffaa00 29.5px,#ffaa00 38.5px,#ff9000 40.5px,#fe2b00 45.5px,#fc1900 47.5px,#fc1900 58.5px,#f20800 60.5px,#c60000 63.5px,#9a0000 65.5px,#800000 67.5px,#850000 89.5px)"></i>
<i style="left:394px;top:119px;height:90px;background:linear-gradient(#00a0ff 0.5px,#0088ff 3.5px,#004eff 7.5px,#0070ff 8.5px,#00d6ff 10.5px,#00fcc9 11.5px,#00faad 13.5px,#17f059 14.5px,#73f31f 15.5px,#b1f90e 16.5px,#befa0a 17.5px,#befa0a 19.5px,#f8f200 20.5px,#ffb800 21.5px,#ffaa00 22.5px,#ffaa00 38.5px,#ff9100 40.5px,#ff4400 44.5px,#fc1a00 48.5px,#fc1900 58.5px,#f20800 60.5px,#b80000 64.5px,#b20000 65.5px,#870000 67.5px,#800000 74.5px,#870000 89.5px)"></i>
<i style="left:395px;top:122px;height:87px;background:linear-gradient(#009bff 0.5px,#006dff 4.5px,#0070ff 5.5px,#00d6ff 7.5px,#00ffe5 8.5px,#03f794 10.5px,#17f059 11.5px,#67f222 13.5px,#aef90e 14.5px,#befa0a 15.5px,#befa0a 16.5px,#f6f700 17.5px,#faed00 18.5px,#ffd400 19.5px,#ffaa00 20.5px,#ffa400 36.5px,#ff5d00 40.5px,#ff3900 44.5px,#fc1900 47.5px,#fc1900 55.5px,#f20800 57.5px,#d70000 60.5px,#b50000 63.5px,#800000 65.5px,#860000 83.5px,#930000 86.5px)"></i>
<i style="left:396px;top:117px;height:92px;background:linear-gradient(#0076ff 0.5px,#009dff 7.5px,#007aff 10.5px,#00a0ff 11.5px,#00d6ff 12.5px,#00f1f4 13.5px,#00fed9 14.5px,#01f9a6 15.5px,#09f169 17.5px,#41f035 19.5px,#b0f90e 24.5px,#ccfa07 25.5px,#f9f100 26.5px,#ffaa00 27.5px,#ffa500 41.5px,#ff7400 44.5px,#ff5b00 48.5px,#fe2c00 52.5px,#fc1900 56.5px,#fc1900 60.5px,#ea0500 63.5px,#d80000 67.5px,#a20000 70.5px,#800000 74.5px,#830000 88.5px,#900000 91.5px)"></i>
<i style="left:397px;top:110px;height:99px;background:linear-gradient(#0026ff 0.5px,#0041ff 4.5px,#005bff 6.5px,#007eff 11.5px,#009eff 16.5px,#0093ff 17.5px,#00a0ff 18.5px,#00c8ff 19.5px,#00eff6 21.5px,#00fcc8 22.5px,#10f05f 28.5px,#64f223 33.5px,#bdfa0a 37.5px,#ffdb00 38.5px,#ffaa00 39.5px,#ffa600 48.5px,#ff8800 50.5px,#ff6600 56.5px,#ff3a00 61.5px,#f60900 70.5px,#dd0200 75.5px,#800000 86.5px,#840000 96.5px,#950000 98.5px)"></i>
<i style="left:398px;top:102px;height:107px;background:linear-gradient(#0003e2 0.5px,#0010ff 7.5px,#0053ff 17.5px,#0078ff 20.5px,#00b5ff 28.5px,#00dfff 30.5px,#00ffe8 33.5px,#02f89d 37.5px,#10f05f 41.5px,#5ef124 46.5px,#b4f90d 50.5px,#f6f700 51.5px,#ffc700 52.5px,#ffaa00 53.5px,#ffa700 56.5px,#ff5100 70.5px,#f90a00 81.5px,#cb0000 90.5px,#970000 97.5px,#810000 104.5px,#8b0000 106.5px)"></i>
<i style="left:399px;top:98px;height:111px;background:linear-gradient(#0000b7 0.5px,#000aff 13.5px,#0030ff 20.5px,#0062ff 23.5px,#009aff 32.5px,#00a0ff 34.5px,#00e7fb 39.5px,#00feec 41.5px,#09f16d 49.5px,#39f03b 53.5px,#5df124 55.5px,#c0fa0a 58.5px,#f6f800 59.5px,#ffc200 61.5px,#ffa900 62.5px,#ff5200 78.5px,#fa0b00 89.5px,#c60000 100.5px,#9e0000 109.5px,#b20000 110.5px)"></i>
<i style="left:400px;top:94px;height:115px;background:linear-gradient(#0000aa 0.5px,#0000c1 7.5px,#000eff 21.5px,#0020ff 24.5px,#0058ff 28.5px,#0088ff 34.5px,#00a0ff 42.5px,#00e5fc 46.5px,#00ffeb 49.5px,#08f26f 58.5px,#21f050 60.5px,#48f02f 62.5px,#adf80f 65.5px,#f7f400 67.5px,#ffa800 71.5px,#ff5300 86.5px,#f40800 100.5px,#c50000 113.5px,#da0100 114.5px)"></i>
<i style="left:401px;top:94px;height:115px;background:linear-gradient(#0000aa 0.5px,#000afe 22.5px,#0022ff 25.5px,#0071ff 32.5px,#009eff 44.5px,#00ecf8 50.5px,#00ffeb 53.5px,#00faa8 59.5px,#0cf063 63.5px,#4bf02c 66.5px,#e7fa03 70.5px,#fee400 72.5px,#ffb000 75.5px,#f90a00 104.5px,#e20300 113.5px,#ed0600 114.5px)"></i>
<i style="left:402px;top:94px;height:115px;background:linear-gradient(#0000aa 0.5px,#0005eb 19.5px,#000eff 24.5px,#006dff 33.5px,#00a4ff 47.5px,#00e3fe 52.5px,#00fee3 57.5px,#00fbb4 63.5px,#0af067 67.5px,#4ff029 70.5px,#d2fa06 73.5px,#effa01 74.5px,#ffd800 77.5px,#ffa900 80.5px,#f80a00 110.5px,#f60900 113.5px,#fa0c00 114.5px)"></i>
<i style="left:403px;top:94px;height:115px;background:linear-gradient(#0000ac 0.5px,#0004e8 18.5px,#0008f5 23.5px,#0017ff 26.5px,#0063ff 33.5px,#00a0ff 49.5px,#00e9f9 55.5px,#00fee4 60.5px,#00fcc0 67.5px,#09f16e 71.5px,#19f057 72.5px,#37f03d 73.5px,#70f31f 74.5px,#a0f712 75.5px,#f5fa00 78.5px,#ffa600 85.5px,#ff4b00 104.5px,#fc1a00 112.5px,#fc1900 114.5px)"></i>
<i style="left:404px;top:110px;height:99px;background:linear-gradient(#0003e4 0.5px,#0007f3 8.5px,#0022ff 12.5px,#0064ff 19.5px,#00a0ff 35.5px,#00d7ff 39.5px,#00f8f0 44.5px,#00fcc1 55.5px,#00fcc0 56.5px,#01f9a2 57.5px,#0bf063 58.5px,#59f126 60.5px,#9ef713 62.5px,#f6f700 66.5px,#ffa300 74.5px,#ff6300 89.5px,#fe3000 96.5px,#fe2f00 98.5px)"></i>
<i style="left:405px;top:110px;height:99px;background:linear-gradient(#0003e3 0.5px,#0006ee 8.5px,#0011ff 11.5px,#0065ff 21.5px,#009fff 36.5px,#00dcff 41.5px,#00ffeb 49.5px,#00fcc1 57.5px,#01f9a6 58.5px,#07f378 59.5px,#1ff052 60.5px,#4ef02a 62.5px,#87f519 64.5px,#ecfa02 69.5px,#fee300 72.5px,#ffb700 76.5px,#ff7c00 89.5px,#ff4800 96.5px,#ff4300 98.5px)"></i>
<i style="left:406px;top:110px;height:99px;background:linear-gradient(#0003e3 0.5px,#0006f0 9.5px,#0011ff 12.5px,#0065ff 23.5px,#009eff 37.5px,#00dfff 43.5px,#00ffe6 53.5px,#00fcc6 58.5px,#00faae 59.5px,#0af065 61.5px,#4ef02a 64.5px,#adf80f 69.5px,#ccfa07 71.5px,#f7f500 73.5px,#ffc100 80.5px,#ff9d00 88.5px,#ff6000 96.5px,#ff5b00 98.5px)"></i>
<i style="left:407px;top:110px;height:99px;background:linear-gradient(#0003e3 0.5px,#0007f3 10.5px,#0012ff 13.5px,#0067ff 25.5px,#009fff 38.5px,#00d9ff 44.5px,#00ffe7 55.5px,#00fcc6 59.5px,#00fbb1 60.5px,#08f270 62.5px,#12f05d 63.5px,#60f124 67.5px,#c8fa08 73.5px,#f5fa00 75.5px,#ffbb00 86.5px,#ff7600 96.5px,#ff7000 98.5px)"></i>
<i style="left:408px;top:110px;height:99px;background:linear-gradient(#0003e3 0.5px,#0006ee 10.5px,#0012ff 14.5px,#006dff 28.5px,#009fff 39.5px,#00d4ff 45.5px,#00feec 56.5px,#00fcc6 60.5px,#03f796 62.5px,#0af064 64.5px,#2ef045 66.5px,#4ff028 68.5px,#ecfa02 77.5px,#faed00 80.5px,#ff9800 93.5px,#ff7b00 98.5px)"></i>
<i style="left:409px;top:10px;height:199px;background:linear-gradient(#00008c 0.5px,#000093 55.5px,#0000a6 81.5px,#0002de 92.5px,#0006f0 111.5px,#0018ff 116.5px,#006cff 129.5px,#00a9ff 141.5px,#00e2fe 149.5px,#00fee3 158.5px,#00fbb5 162.5px,#09f16c 165.5px,#2df046 167.5px,#68f221 171.5px,#f1fa01 180.5px,#ffca00 188.5px,#ff8600 198.5px)"></i>
<i style="left:410px;top:10px;height:199px;background:linear-gradient(#00008c 0.5px,#000094 56.5px,#0000a8 81.5px,#0003e4 93.5px,#0007f1 109.5px,#0007f2 112.5px,#0018ff 117.5px,#006dff 131.5px,#00a9ff 142.5px,#00e0ff 150.5px,#00fee4 159.5px,#00fbb7 163.5px,#0af066 166.5px,#62f223 172.5px,#adf80f 177.5px,#c3fa09 179.5px,#f6f700 182.5px,#ffa200 196.5px,#ff9000 198.5px)"></i>
<i style="left:411px;top:10px;height:199px;background:linear-gradient(#00008c 0.5px,#000094 57.5px,#0000a4 80.5px,#0005ea 94.5px,#0007f3 109.5px,#0007f4 113.5px,#001fff 119.5px,#0086ff 137.5px,#00b2ff 144.5px,#00e4fd 153.5px,#00fee2 160.5px,#00fcc0 163.5px,#04f68c 165.5px,#09f16a 167.5px,#49f02e 172.5px,#53f027 173.5px,#83f51a 175.5px,#c0fa0a 180.5px,#f2fa01 183.5px,#ffc900 192.5px,#ff9a00 198.5px)"></i>
<i style="left:412px;top:80px;height:129px;background:linear-gradient(#00009b 0.5px,#0000a6 10.5px,#0006ef 25.5px,#0008f8 38.5px,#0007f2 43.5px,#0018ff 49.5px,#0096ff 71.5px,#00d9ff 82.5px,#00ffeb 90.5px,#00fcc6 93.5px,#0af066 98.5px,#4af02d 103.5px,#7af41c 106.5px,#c0fa0a 111.5px,#ebfa02 114.5px,#faee00 117.5px,#ffbd00 125.5px,#ffa400 128.5px)"></i>
<i style="left:413px;top:86px;height:123px;background:linear-gradient(#00009f 0.5px,#0000ad 5.5px,#0007f4 20.5px,#0009fc 31.5px,#0007f4 37.5px,#0019ff 43.5px,#0055ff 54.5px,#00e2fe 79.5px,#00ffe7 85.5px,#01f9a6 89.5px,#0bf063 93.5px,#50f028 98.5px,#aff90e 105.5px,#f5fa00 110.5px,#ffd600 117.5px,#ffaa00 122.5px)"></i>
<i style="left:414px;top:95px;height:114px;background:linear-gradient(#0000c5 0.5px,#000bff 15.5px,#0008f7 28.5px,#001eff 37.5px,#00e7fb 72.5px,#00ffeb 76.5px,#02f89c 81.5px,#0df061 85.5px,#44f032 89.5px,#72f31f 93.5px,#e7fa03 101.5px,#f6f700 103.5px,#ffd200 109.5px,#ffaa00 113.5px)"></i>
<i style="left:415px;top:107px;height:102px;background:linear-gradient(#0009fa 0.5px,#0011ff 8.5px,#0009f9 16.5px,#0019ff 23.5px,#0023ff 27.5px,#00c0ff 54.5px,#00e9fa 61.5px,#00fee2 65.5px,#09f168 73.5px,#37f03d 77.5px,#62f223 81.5px,#dafa05 89.5px,#f8f200 93.5px,#ffcc00 98.5px,#ffad00 101.5px)"></i>
<i style="left:416px;top:112px;height:97px;background:linear-gradient(#0018ff 0.5px,#0009fc 11.5px,#0019ff 17.5px,#001eff 22.5px,#00aaff 46.5px,#00e7fb 56.5px,#00ffe6 60.5px,#08f26f 68.5px,#24f04e 71.5px,#5cf125 77.5px,#8bf518 80.5px,#befa0a 82.5px,#cafa08 84.5px,#f4fa00 87.5px,#ffcf00 93.5px,#ffb000 96.5px)"></i>
<i style="left:417px;top:115px;height:94px;background:linear-gradient(#0016ff 0.5px,#000aff 8.5px,#0019ff 14.5px,#001dff 20.5px,#0095ff 40.5px,#00d5ff 51.5px,#00ffe9 57.5px,#0af067 66.5px,#5af125 75.5px,#7ff41b 77.5px,#b8f90c 79.5px,#f6f700 85.5px,#ffc900 91.5px,#ffb400 93.5px)"></i>
<i style="left:418px;top:117px;height:92px;background:linear-gradient(#0015ff 0.5px,#000dff 6.5px,#0019ff 11.5px,#001eff 19.5px,#0090ff 38.5px,#00c1ff 47.5px,#00f1f4 53.5px,#00ffeb 55.5px,#00fcc0 58.5px,#00faac 60.5px,#08f272 64.5px,#16f05a 67.5px,#58f126 74.5px,#adf80f 77.5px,#befa0a 78.5px,#dcfa05 81.5px,#f5fa00 83.5px,#ffcc00 89.5px,#ffb600 91.5px)"></i>
<i style="left:419px;top:118px;height:91px;background:linear-gradient(#0016ff 0.5px,#0014ff 6.5px,#001eff 19.5px,#0087ff 36.5px,#00adff 44.5px,#00e9fa 51.5px,#00feec 54.5px,#00fcc0 57.5px,#00fcc0 58.5px,#06f47e 63.5px,#15f05b 67.5px,#3df038 72.5px,#69f221 74.5px,#befa0a 77.5px,#c9fa08 79.5px,#f7f600 83.5px,#ffcf00 88.5px,#ffb700 90.5px)"></i>
<i style="left:420px;top:119px;height:90px;background:linear-gradient(#0018ff 0.5px,#0019ff 18.5px,#0081ff 35.5px,#00abff 43.5px,#00e8fa 50.5px,#00feec 53.5px,#00fcc0 57.5px,#00faab 59.5px,#0af065 66.5px,#35f03f 71.5px,#7bf41c 74.5px,#befa0a 77.5px,#f6f800 82.5px,#ffd200 87.5px,#ffbc00 89.5px)"></i>
<i style="left:421px;top:121px;height:88px;background:linear-gradient(#0018ff 0.5px,#001eff 18.5px,#0078ff 32.5px,#00a8ff 41.5px,#00edf7 49.5px,#00fee2 53.5px,#03f794 60.5px,#13f05c 67.5px,#40f035 70.5px,#70f31f 72.5px,#cbfa08 77.5px,#f7f600 81.5px,#ffc500 87.5px)"></i>
<i style="left:422px;top:124px;height:85px;background:linear-gradient(#0019ff 0.5px,#0020ff 16.5px,#006eff 28.5px,#009eff 37.5px,#00e7fb 46.5px,#00fee2 51.5px,#00faa8 56.5px,#09f169 64.5px,#49f02e 68.5px,#60f124 70.5px,#c1fa09 74.5px,#f5fa00 78.5px,#ffd000 84.5px)"></i>
<i style="left:423px;top:127px;height:82px;background:linear-gradient(#0019ff 0.5px,#001bff 13.5px,#006cff 26.5px,#00b2ff 37.5px,#00ebf9 45.5px,#00ffe6 49.5px,#00fbb1 53.5px,#08f271 61.5px,#2df046 64.5px,#49f02e 67.5px,#8df617 70.5px,#c1fa09 72.5px,#f7f500 77.5px,#ffdb00 81.5px)"></i>
<i style="left:424px;top:129px;height:80px;background:linear-gradient(#0019ff 0.5px,#001dff 12.5px,#00aaff 35.5px,#00e8fa 44.5px,#00ffea 48.5px,#00fbba 51.5px,#05f58a 58.5px,#0af066 60.5px,#34f040 65.5px,#6af221 68.5px,#bffa0a 71.5px,#f6f700 76.5px,#fee400 79.5px)"></i>
<i style="left:425px;top:129px;height:80px;background:linear-gradient(#0019ff 0.5px,#001eff 13.5px,#0093ff 32.5px,#00ebf9 46.5px,#00ffeb 49.5px,#00fcbf 52.5px,#01f9a0 57.5px,#07f37b 60.5px,#0af064 63.5px,#4cf02b 68.5px,#c5fa09 73.5px,#f6f900 77.5px,#fbec00 79.5px)"></i>
<i style="left:426px;top:129px;height:80px;background:linear-gradient(#0019ff 0.5px,#0020ff 14.5px,#0080ff 30.5px,#00a0ff 35.5px,#00e7fb 47.5px,#00fced 50.5px,#00fcc2 53.5px,#00faaa 57.5px,#0df062 65.5px,#52f027 70.5px,#befa0a 74.5px,#f5fa00 78.5px,#f8f300 79.5px)"></i>
<i style="left:427px;top:130px;height:79px;background:linear-gradient(#0019ff 0.5px,#001bff 13.5px,#0057ff 24.5px,#0095ff 33.5px,#00ebf8 48.5px,#00ffea 51.5px,#00faad 58.5px,#07f378 64.5px,#0ff060 66.5px,#57f126 71.5px,#c5fa09 75.5px,#f4fa00 78.5px)"></i>
<i style="left:428px;top:130px;height:79px;background:linear-gradient(#0019ff 0.5px,#001cff 14.5px,#0047ff 23.5px,#00a0ff 35.5px,#00aeff 40.5px,#00e7fb 49.5px,#00fedf 55.5px,#09f16e 67.5px,#18f058 69.5px,#59f126 73.5px,#befa0a 76.5px,#dffa04 78.5px)"></i>
<i style="left:429px;top:131px;height:78px;background:linear-gradient(#0019ff 0.5px,#001fff 15.5px,#0041ff 22.5px,#0096ff 33.5px,#00a0ff 35.5px,#00a8ff 40.5px,#00e8fa 51.5px,#00ffe6 56.5px,#08f274 68.5px,#15f05a 70.5px,#45f031 73.5px,#5ff124 74.5px,#acf80f 76.5px,#c9fa08 77.5px)"></i>
<i style="left:430px;top:132px;height:77px;background:linear-gradient(#0019ff 0.5px,#001eff 15.5px,#0040ff 22.5px,#009eff 33.5px,#00a5ff 41.5px,#00eaf9 53.5px,#00ffe6 58.5px,#00feda 59.5px,#00fcc0 60.5px,#00fbb9 63.5px,#09f16e 70.5px,#22f050 72.5px,#4df02b 74.5px,#71f31f 75.5px,#a8f810 76.5px)"></i>
<i style="left:431px;top:135px;height:74px;background:linear-gradient(#0019ff 0.5px,#001eff 14.5px,#0046ff 21.5px,#00a0ff 31.5px,#00a4ff 41.5px,#00ecf8 53.5px,#00f8f0 55.5px,#00fcc0 57.5px,#00fbbc 63.5px,#08f274 69.5px,#10f05f 70.5px,#40f036 72.5px,#7ef41c 73.5px)"></i>
<i style="left:432px;top:138px;height:71px;background:linear-gradient(#0019ff 0.5px,#001fff 13.5px,#003bff 18.5px,#007fff 24.5px,#00a0ff 28.5px,#00a2ff 41.5px,#00e9f9 51.5px,#00feda 53.5px,#00fcc0 54.5px,#00fcc0 63.5px,#02f89a 66.5px,#09f16e 68.5px,#25f04d 69.5px,#53f027 70.5px)"></i>
<i style="left:433px;top:138px;height:71px;background:linear-gradient(#0019ff 0.5px,#001cff 14.5px,#0039ff 18.5px,#0087ff 25.5px,#00a0ff 28.5px,#00a4ff 44.5px,#00c9ff 49.5px,#00f8f0 52.5px,#00fcc0 54.5px,#00fcbf 66.5px,#03f792 68.5px,#0af065 69.5px,#2ff044 70.5px)"></i>
<i style="left:434px;top:138px;height:71px;background:linear-gradient(#0019ff 0.5px,#001aff 15.5px,#0099ff 27.5px,#00a0ff 32.5px,#00a4ff 46.5px,#00b3ff 48.5px,#00eaf9 51.5px,#00feda 53.5px,#00fcc0 54.5px,#00fbbc 68.5px,#08f273 70.5px)"></i>
<i style="left:435px;top:134px;height:75px;background:linear-gradient(#0019ff 0.5px,#0019ff 18.5px,#0042ff 23.5px,#0097ff 31.5px,#00a0ff 34.5px,#00a4ff 51.5px,#00eaf9 55.5px,#00feda 57.5px,#00fcc0 58.5px,#00fcc0 72.5px,#00fbb5 73.5px,#05f584 74.5px)"></i>
<i style="left:436px;top:134px;height:75px;background:linear-gradient(#0019ff 0.5px,#001fff 18.5px,#005bff 25.5px,#009fff 32.5px,#00a5ff 46.5px,#00c6ff 53.5px,#00f8ef 56.5px,#00fcc0 58.5px,#00fbbb 69.5px,#00faa9 71.5px,#07f376 73.5px,#1ff052 74.5px)"></i>
<i style="left:437px;top:134px;height:75px;background:linear-gradient(#0019ff 0.5px,#001cff 17.5px,#00a0ff 33.5px,#00a9ff 43.5px,#00d7ff 53.5px,#00f8ef 56.5px,#00fcc0 58.5px,#00fbbb 65.5px,#08f273 72.5px,#49f02e 74.5px)"></i>
<i style="left:438px;top:138px;height:71px;background:linear-gradient(#0019ff 0.5px,#001dff 13.5px,#0072ff 23.5px,#00a0ff 29.5px,#00a7ff 35.5px,#00e7fb 49.5px,#00f9ef 52.5px,#00fcc0 54.5px,#00fbbc 57.5px,#0af066 66.5px,#21f050 68.5px,#44f032 69.5px,#81f41b 70.5px)"></i>
<i style="left:439px;top:138px;height:71px;background:linear-gradient(#0019ff 0.5px,#001dff 13.5px,#006bff 21.5px,#00a0ff 29.5px,#00a4ff 34.5px,#00bcff 38.5px,#00f0f5 48.5px,#00fedb 52.5px,#07f379 61.5px,#16f05a 64.5px,#49f02e 68.5px,#6cf320 69.5px,#b0f90e 70.5px)"></i>
<i style="left:440px;top:138px;height:71px;background:linear-gradient(#0019ff 0.5px,#001dff 13.5px,#0077ff 22.5px,#00a0ff 29.5px,#00a0ff 33.5px,#00c5ff 38.5px,#00e7fb 44.5px,#00fee1 49.5px,#05f586 57.5px,#0bf063 60.5px,#55f027 66.5px,#9cf713 69.5px,#c1fa09 70.5px)"></i>
<i style="left:441px;top:135px;height:74px;background:linear-gradient(#0019ff 0.5px,#001eff 16.5px,#0089ff 27.5px,#00a0ff 32.5px,#00a6ff 36.5px,#00d9ff 43.5px,#00f8f0 48.5px,#00fdcf 51.5px,#07f37b 59.5px,#11f05e 61.5px,#4ff029 66.5px,#e6fa03 73.5px)"></i>
<i style="left:442px;top:130px;height:79px;background:linear-gradient(#0019ff 0.5px,#0021ff 11.5px,#0019ff 20.5px,#0052ff 26.5px,#00a0ff 35.5px,#00a2ff 40.5px,#00e1ff 48.5px,#00ffe9 53.5px,#00fcc0 55.5px,#0af065 64.5px,#4df02b 68.5px,#d0fa07 75.5px,#f3fa00 77.5px,#f8f300 78.5px)"></i>
<i style="left:443px;top:130px;height:79px;background:linear-gradient(#0019ff 0.5px,#0028ff 11.5px,#0019ff 20.5px,#0053ff 26.5px,#00a0ff 35.5px,#00a8ff 40.5px,#00e7fb 48.5px,#00ffeb 52.5px,#00faac 56.5px,#09f168 62.5px,#40f036 66.5px,#a0f712 70.5px,#cffa07 73.5px,#f6f700 76.5px,#fde500 78.5px)"></i>
<i style="left:444px;top:129px;height:80px;background:linear-gradient(#001aff 0.5px,#002eff 13.5px,#001dff 19.5px,#001fff 22.5px,#006fff 30.5px,#00a0ff 37.5px,#00a4ff 40.5px,#00e8fa 48.5px,#00feeb 52.5px,#06f480 59.5px,#10f05f 62.5px,#45f031 66.5px,#96f615 69.5px,#b7f90c 70.5px,#f4fa00 75.5px,#ffd500 79.5px)"></i>
<i style="left:445px;top:131px;height:78px;background:linear-gradient(#0020ff 0.5px,#0037ff 11.5px,#0023ff 17.5px,#0019ff 19.5px,#0099ff 34.5px,#00aaff 38.5px,#00ecf8 46.5px,#00fee0 50.5px,#0cf063 58.5px,#4bf02c 63.5px,#97f615 66.5px,#b7f90c 67.5px,#f6f700 72.5px,#ffd500 76.5px,#ffc300 77.5px)"></i>
<i style="left:446px;top:137px;height:72px;background:linear-gradient(#0034ff 0.5px,#0040ff 6.5px,#0023ff 12.5px,#001aff 13.5px,#0054ff 20.5px,#00a0ff 29.5px,#00b8ff 33.5px,#00e9f9 39.5px,#00fee3 43.5px,#08f270 50.5px,#4ef02a 56.5px,#b8f90c 60.5px,#f4fa00 64.5px,#ffd300 69.5px,#ffb400 71.5px)"></i>
<i style="left:447px;top:141px;height:68px;background:linear-gradient(#0045ff 0.5px,#0048ff 3.5px,#001aff 10.5px,#00e7fb 34.5px,#00ffe6 38.5px,#0af065 46.5px,#55f027 51.5px,#b8f90c 55.5px,#f4fa00 59.5px,#ffd400 64.5px,#ffa900 67.5px)"></i>
<i style="left:448px;top:144px;height:65px;background:linear-gradient(#0051ff 0.5px,#003aff 4.5px,#001dff 7.5px,#002cff 10.5px,#00e9fa 31.5px,#00feec 34.5px,#09f16d 42.5px,#5cf125 47.5px,#c9fa08 52.5px,#f2fa00 55.5px,#ffc900 61.5px,#ffa400 64.5px)"></i>
<i style="left:449px;top:147px;height:62px;background:linear-gradient(#004eff 0.5px,#0019ff 5.5px,#008fff 18.5px,#00ebf8 28.5px,#00ffe8 31.5px,#0af064 39.5px,#55f027 43.5px,#b9fa0b 47.5px,#f2fa00 51.5px,#ffd500 56.5px,#ff9e00 61.5px)"></i>
<i style="left:450px;top:152px;height:57px;background:linear-gradient(#001dff 0.5px,#0031ff 4.5px,#008eff 13.5px,#00e7fb 22.5px,#00fee3 26.5px,#08f26f 33.5px,#22f050 35.5px,#5df124 38.5px,#b8f90c 41.5px,#cefa07 43.5px,#f7f500 46.5px,#ffcc00 51.5px,#ff9900 56.5px)"></i>
<i style="left:451px;top:160px;height:49px;background:linear-gradient(#0052ff 0.5px,#00b3ff 8.5px,#00e9fa 14.5px,#00feeb 17.5px,#09f16c 25.5px,#49f02e 29.5px,#b8f90c 33.5px,#f5fa00 37.5px,#ffb800 44.5px,#ff9600 47.5px,#ff9100 48.5px)"></i>
<i style="left:452px;top:162px;height:47px;background:linear-gradient(#0068ff 0.5px,#00acff 5.5px,#00ebf8 12.5px,#00ffe8 15.5px,#09f168 23.5px,#4bf02c 27.5px,#b8f90c 31.5px,#f6f700 35.5px,#ffc800 40.5px,#ff8800 45.5px,#ff8600 46.5px)"></i>
<i style="left:453px;top:162px;height:47px;background:linear-gradient(#0067ff 0.5px,#00a5ff 4.5px,#00e6fc 11.5px,#00fee3 15.5px,#0af065 23.5px,#4df02b 27.5px,#b8f90c 31.5px,#f6f700 35.5px,#ffc900 40.5px,#ff8700 45.5px,#ff8500 46.5px)"></i>
<i style="left:454px;top:162px;height:47px;background:linear-gradient(#0068ff 0.5px,#00a7ff 4.5px,#00e8fb 11.5px,#00feec 14.5px,#00fcc0 17.5px,#00faa9 19.5px,#0af065 23.5px,#4ef02a 27.5px,#b9fa0b 31.5px,#f6f700 35.5px,#ffca00 40.5px,#ff9400 45.5px,#ff8f00 46.5px)"></i>
<i style="left:455px;top:162px;height:47px;background:linear-gradient(#0068ff 0.5px,#00a0ff 3.5px,#00e8fa 11.5px,#00fee1 15.5px,#05f587 21.5px,#0af065 23.5px,#4df02b 27.5px,#b8f90c 31.5px,#f6f800 35.5px,#ffcc00 40.5px,#ffa300 44.5px,#ff9600 46.5px)"></i>
<i style="left:456px;top:162px;height:47px;background:linear-gradient(#006aff 0.5px,#00a2ff 3.5px,#00e7fb 11.5px,#00ffe5 15.5px,#0af067 23.5px,#4bf02c 27.5px,#b8f90c 31.5px,#f6f900 35.5px,#ffce00 40.5px,#ffa400 44.5px,#ff9900 46.5px)"></i>
<i style="left:457px;top:162px;height:47px;background:linear-gradient(#006eff 0.5px,#009aff 2.5px,#00ecf8 12.5px,#00ffea 15.5px,#09f16b 23.5px,#49f02e 27.5px,#c6fa09 32.5px,#f4fa00 35.5px,#ffc500 41.5px,#ffa700 44.5px,#ff9e00 46.5px)"></i>
<i style="left:458px;top:162px;height:47px;background:linear-gradient(#0077ff 0.5px,#00a2ff 2.5px,#00ecf8 12.5px,#00ffeb 15.5px,#06f481 22.5px,#10f05f 24.5px,#52f028 28.5px,#c1fa09 32.5px,#f0fa01 35.5px,#ffd300 40.5px,#ffa800 44.5px,#ffa100 46.5px)"></i>
<i style="left:459px;top:121px;height:88px;background:linear-gradient(#00008c 0.5px,#000093 3.5px,#0004e7 15.5px,#0013ff 21.5px,#003bff 27.5px,#001fff 30.5px,#0045ff 35.5px,#0070ff 40.5px,#009aff 42.5px,#00ebf8 53.5px,#00fee1 57.5px,#0af066 65.5px,#4bf02c 69.5px,#bafa0b 73.5px,#f6f700 77.5px,#ffca00 82.5px,#ffa800 86.5px,#ffa500 87.5px)"></i>
<i style="left:460px;top:121px;height:88px;background:linear-gradient(#00008c 0.5px,#000096 4.5px,#0004e9 16.5px,#000fff 21.5px,#0036ff 28.5px,#0022ff 30.5px,#004cff 34.5px,#007eff 40.5px,#00a0ff 42.5px,#00b4ff 46.5px,#00eff6 54.5px,#00ffe6 57.5px,#08f271 65.5px,#20f051 67.5px,#58f126 70.5px,#c7fa08 74.5px,#f5f900 77.5px,#ffaa00 87.5px)"></i>
<i style="left:461px;top:121px;height:88px;background:linear-gradient(#00008c 0.5px,#000091 4.5px,#0005eb 17.5px,#0011ff 22.5px,#0039ff 28.5px,#0024ff 30.5px,#007dff 38.5px,#00a1ff 42.5px,#00b1ff 46.5px,#00edf7 54.5px,#00ffeb 57.5px,#05f58a 64.5px,#09f168 66.5px,#4ef02a 70.5px,#c1fa09 74.5px,#f7f600 78.5px,#ffb800 87.5px)"></i>
<i style="left:462px;top:121px;height:88px;background:linear-gradient(#00008c 0.5px,#000095 5.5px,#0005ed 18.5px,#0013ff 23.5px,#0033ff 28.5px,#0028ff 30.5px,#008eff 39.5px,#00a2ff 42.5px,#00aeff 46.5px,#00eaf9 54.5px,#00fee4 58.5px,#01f9a4 63.5px,#0ef060 67.5px,#5df124 71.5px,#bbfa0b 74.5px,#f3fa00 78.5px,#ffc600 87.5px)"></i>
<i style="left:463px;top:121px;height:88px;background:linear-gradient(#00008c 0.5px,#000096 5.5px,#0007f4 20.5px,#0016ff 24.5px,#0033ff 29.5px,#002eff 30.5px,#0080ff 37.5px,#00a0ff 41.5px,#00b3ff 47.5px,#00eef7 55.5px,#00fede 59.5px,#00faae 63.5px,#09f169 67.5px,#51f028 71.5px,#a9f810 74.5px,#ccfa07 76.5px,#f3fa00 79.5px,#ffd200 87.5px)"></i>
<i style="left:464px;top:64px;height:145px;background:linear-gradient(#00008c 0.5px,#000091 60.5px,#0009fc 79.5px,#0035ff 87.5px,#0085ff 94.5px,#00a0ff 97.5px,#00b0ff 104.5px,#00ebf8 112.5px,#00ffe5 116.5px,#00faa8 121.5px,#0ef061 125.5px,#63f223 129.5px,#bffa0a 133.5px,#f3fa00 137.5px,#ffdf00 144.5px)"></i>
<i style="left:465px;top:64px;height:145px;background:linear-gradient(#00008c 0.5px,#000092 59.5px,#0009fd 79.5px,#003aff 87.5px,#007dff 93.5px,#00a0ff 97.5px,#00b4ff 105.5px,#00eff6 113.5px,#00fee1 117.5px,#00fbb2 121.5px,#0af067 125.5px,#50f028 129.5px,#bffa0a 134.5px,#f5f900 139.5px,#fde700 144.5px)"></i>
<i style="left:466px;top:64px;height:145px;background:linear-gradient(#00008c 0.5px,#00008c 58.5px,#0000bc 65.5px,#000afe 79.5px,#003bff 87.5px,#0086ff 94.5px,#00a1ff 98.5px,#00b9ff 106.5px,#00ecf7 113.5px,#00fede 118.5px,#00faab 122.5px,#13f05d 126.5px,#55f027 130.5px,#bffa0a 135.5px,#f0fa01 140.5px,#fbec00 144.5px)"></i>
<i style="left:467px;top:64px;height:145px;background:linear-gradient(#00008c 0.5px,#000091 58.5px,#0000bd 64.5px,#000aff 78.5px,#0032ff 86.5px,#007cff 93.5px,#00a2ff 98.5px,#00b6ff 106.5px,#00eef6 114.5px,#00ffe5 118.5px,#00faaf 122.5px,#0af065 126.5px,#57f126 131.5px,#bffa0a 136.5px,#f5f900 142.5px,#f9f100 144.5px)"></i>
<i style="left:468px;top:51px;height:158px;background:linear-gradient(#00008c 0.5px,#000094 63.5px,#00009c 72.5px,#0000b3 74.5px,#0008f7 88.5px,#0028ff 96.5px,#0033ff 99.5px,#007cff 106.5px,#00a4ff 112.5px,#00baff 120.5px,#00ebf8 127.5px,#00ffe9 131.5px,#00fbb4 135.5px,#11f05e 140.5px,#57f126 145.5px,#a1f712 148.5px,#d2fa06 152.5px,#f7f500 157.5px)"></i>
<i style="left:469px;top:51px;height:158px;background:linear-gradient(#00008c 0.5px,#000095 51.5px,#0000a0 72.5px,#0000c0 75.5px,#000cff 89.5px,#0035ff 99.5px,#007bff 106.5px,#00a3ff 112.5px,#00bfff 121.5px,#00edf7 128.5px,#00fee1 132.5px,#03f796 137.5px,#11f05e 141.5px,#54f027 145.5px,#92f616 148.5px,#cafa08 152.5px,#f5fa00 157.5px)"></i>
<i style="left:470px;top:51px;height:158px;background:linear-gradient(#00008c 0.5px,#000095 37.5px,#0000a7 72.5px,#0000cd 76.5px,#0011ff 89.5px,#0030ff 97.5px,#0041ff 100.5px,#008aff 108.5px,#00a5ff 113.5px,#00bcff 121.5px,#00ebf8 128.5px,#00fee4 132.5px,#08f26f 140.5px,#20f051 142.5px,#53f027 145.5px,#c2fa09 152.5px,#ebfa02 157.5px)"></i>
<i style="left:471px;top:110px;height:99px;background:linear-gradient(#0000a7 0.5px,#0000ae 14.5px,#0000ce 16.5px,#000eff 28.5px,#002dff 36.5px,#0036ff 40.5px,#0080ff 48.5px,#00a2ff 53.5px,#00c1ff 63.5px,#00eff5 70.5px,#00ffe6 73.5px,#06f480 80.5px,#0ff060 82.5px,#49f02e 86.5px,#c3fa09 94.5px,#e2fa04 98.5px)"></i>
<i style="left:472px;top:174px;height:35px;background:linear-gradient(#00c5ff 0.5px,#00eff6 6.5px,#00feda 10.5px,#0ef061 18.5px,#4af02d 23.5px,#bcfa0b 30.5px,#d8fa05 34.5px)"></i>
<i style="left:473px;top:174px;height:35px;background:linear-gradient(#00c5ff 0.5px,#00eff6 6.5px,#00ffe8 9.5px,#06f483 16.5px,#18f058 19.5px,#5df124 25.5px,#befa0a 31.5px,#cefa07 34.5px)"></i>
<i style="left:474px;top:174px;height:35px;background:linear-gradient(#00c5ff 0.5px,#00eef6 6.5px,#00ffe9 9.5px,#05f584 16.5px,#0ff060 19.5px,#65f222 26.5px,#bcfa0a 32.5px,#c2fa09 34.5px)"></i>
<i style="left:475px;top:174px;height:35px;background:linear-gradient(#00c4ff 0.5px,#00eef6 6.5px,#00ffea 9.5px,#08f272 18.5px,#1ff052 21.5px,#5bf125 26.5px,#b6f90c 32.5px,#c1fa0a 34.5px)"></i>
<i style="left:476px;top:174px;height:35px;background:linear-gradient(#00c4ff 0.5px,#00eef7 6.5px,#00ffeb 9.5px,#09f16b 19.5px,#5df124 27.5px,#96f615 31.5px,#b7f90c 33.5px,#bdfa0a 34.5px)"></i>
<i style="left:477px;top:174px;height:35px;background:linear-gradient(#00c4ff 0.5px,#00edf7 6.5px,#00ffeb 9.5px,#0af065 20.5px,#5af125 28.5px,#88f519 31.5px,#b7f90c 34.5px)"></i>
<i style="left:478px;top:125px;height:84px;background:linear-gradient(#0002dd 0.5px,#0002df 2.5px,#0010ff 5.5px,#0026ff 15.5px,#0032ff 26.5px,#009dff 38.5px,#00cbff 50.5px,#00f2f3 56.5px,#00fee0 59.5px,#0ff060 70.5px,#56f126 78.5px,#aff90e 83.5px)"></i>
<i style="left:479px;top:132px;height:77px;background:linear-gradient(#001bff 0.5px,#0038ff 19.5px,#0085ff 28.5px,#00a9ff 34.5px,#00cbff 43.5px,#00f2f4 49.5px,#00fee2 52.5px,#0af065 63.5px,#4bf02c 71.5px,#a3f811 76.5px)"></i>
<i style="left:480px;top:132px;height:77px;background:linear-gradient(#001bff 0.5px,#0035ff 18.5px,#0083ff 27.5px,#00a6ff 33.5px,#00ccff 43.5px,#00f1f4 49.5px,#00fee4 52.5px,#0af065 64.5px,#4ef02a 72.5px,#95f615 76.5px)"></i>
<i style="left:481px;top:132px;height:77px;background:linear-gradient(#001bff 0.5px,#0032ff 17.5px,#0080ff 26.5px,#00a4ff 32.5px,#00c9ff 42.5px,#00ecf8 48.5px,#00ffe5 52.5px,#00fcc0 55.5px,#00faa8 58.5px,#12f05e 66.5px,#2ff045 70.5px,#64f223 74.5px,#88f519 76.5px)"></i>
<i style="left:482px;top:132px;height:77px;background:linear-gradient(#001bff 0.5px,#0034ff 17.5px,#0077ff 24.5px,#00a1ff 31.5px,#00c0ff 40.5px,#00ecf8 48.5px,#00ffe5 52.5px,#00fcc1 55.5px,#00faad 58.5px,#0df061 67.5px,#3df038 72.5px,#6af221 75.5px,#7ef41b 76.5px)"></i>
<i style="left:483px;top:132px;height:77px;background:linear-gradient(#001bff 0.5px,#0035ff 17.5px,#007bff 24.5px,#00a0ff 30.5px,#00bdff 39.5px,#00ecf8 48.5px,#00ffe5 52.5px,#00fcc1 55.5px,#00fbb3 58.5px,#09f16c 67.5px,#12f05d 69.5px,#5ef124 75.5px,#72f31f 76.5px)"></i>
<i style="left:484px;top:132px;height:77px;background:linear-gradient(#001bff 0.5px,#0037ff 17.5px,#007cff 24.5px,#00a0ff 29.5px,#00b9ff 38.5px,#00ecf8 48.5px,#00ffe5 52.5px,#00fcc1 55.5px,#00fbb3 59.5px,#0af065 69.5px,#50f028 75.5px,#68f222 76.5px)"></i>
<i style="left:485px;top:132px;height:77px;background:linear-gradient(#001aff 0.5px,#0038ff 17.5px,#007dff 24.5px,#00a0ff 29.5px,#00b6ff 37.5px,#00ecf8 48.5px,#00ffe5 52.5px,#00fcc1 55.5px,#00fbbb 59.5px,#07f379 68.5px,#0cf062 70.5px,#48f02f 75.5px,#5cf125 76.5px)"></i>
<i style="left:486px;top:132px;height:77px;background:linear-gradient(#001aff 0.5px,#0039ff 17.5px,#0074ff 23.5px,#00a0ff 30.5px,#00c2ff 39.5px,#00ecf8 48.5px,#00ffe5 52.5px,#00fcc1 55.5px,#00fbbb 60.5px,#06f482 68.5px,#15f05a 72.5px,#52f027 76.5px)"></i>
<i style="left:487px;top:132px;height:77px;background:linear-gradient(#0019ff 0.5px,#0032ff 16.5px,#0087ff 26.5px,#00a3ff 31.5px,#00c8ff 40.5px,#00f1f4 49.5px,#00ffe5 52.5px,#00fcc1 55.5px,#00fbbc 61.5px,#03f796 67.5px,#0af065 72.5px,#49f02e 76.5px)"></i>
<i style="left:488px;top:132px;height:77px;background:linear-gradient(#0019ff 0.5px,#0037ff 17.5px,#008dff 27.5px,#00a5ff 32.5px,#00ebf9 47.5px,#00ffe5 52.5px,#00fcc1 55.5px,#00fbba 63.5px,#04f690 69.5px,#0ff060 73.5px,#40f036 76.5px)"></i>
<i style="left:489px;top:133px;height:76px;background:linear-gradient(#0019ff 0.5px,#0033ff 16.5px,#0083ff 25.5px,#00a2ff 30.5px,#00ecf8 46.5px,#00ffe5 51.5px,#00fcc1 54.5px,#00fbbb 64.5px,#03f797 69.5px,#09f168 72.5px,#18f058 73.5px,#50f028 75.5px)"></i>
<i style="left:490px;top:134px;height:75px;background:linear-gradient(#0019ff 0.5px,#0031ff 15.5px,#0089ff 25.5px,#00a2ff 29.5px,#00e9fa 44.5px,#00ffe5 50.5px,#00fcc1 53.5px,#00fbb9 66.5px,#01f9a3 68.5px,#09f16d 70.5px,#38f03c 72.5px,#56f126 73.5px,#79f41d 74.5px)"></i>
<i style="left:491px;top:135px;height:74px;background:linear-gradient(#001aff 0.5px,#0036ff 15.5px,#0087ff 24.5px,#00b5ff 32.5px,#00eef6 44.5px,#00ffe5 49.5px,#00fcc1 52.5px,#00fcbf 64.5px,#05f585 67.5px,#09f169 68.5px,#5df124 71.5px,#89f519 72.5px,#92f616 73.5px)"></i>
<i style="left:492px;top:137px;height:72px;background:linear-gradient(#001aff 0.5px,#0033ff 13.5px,#0085ff 22.5px,#00cbff 34.5px,#00f7f0 44.5px,#00fee2 47.5px,#00fcc1 50.5px,#00fcbf 59.5px,#05f584 63.5px,#17f059 65.5px,#63f223 68.5px,#aff90e 70.5px,#bbfa0b 71.5px)"></i>
<i style="left:493px;top:138px;height:71px;background:linear-gradient(#001aff 0.5px,#0031ff 12.5px,#008bff 22.5px,#00e1ff 37.5px,#00ffe8 45.5px,#00fcc1 49.5px,#00fcc0 55.5px,#05f584 60.5px,#16f05a 62.5px,#45f031 64.5px,#acf80f 67.5px,#c5fa09 68.5px,#cdfa07 70.5px)"></i>
<i style="left:494px;top:140px;height:69px;background:linear-gradient(#001bff 0.5px,#0037ff 11.5px,#0092ff 21.5px,#00e6fb 36.5px,#00ffe5 43.5px,#00fcc1 47.5px,#00fbb8 51.5px,#05f586 56.5px,#0bf063 58.5px,#56f126 61.5px,#acf80f 63.5px,#ebfa02 66.5px,#f1fa01 67.5px,#e9fa02 68.5px)"></i>
<i style="left:495px;top:141px;height:68px;background:linear-gradient(#001bff 0.5px,#0033ff 10.5px,#0092ff 20.5px,#00e8fb 35.5px,#00fee2 42.5px,#00fcc0 47.5px,#09f16b 55.5px,#3cf039 58.5px,#57f126 59.5px,#b8f90c 61.5px,#eafa02 63.5px,#faee00 65.5px,#fce800 67.5px)"></i>
<i style="left:496px;top:142px;height:67px;background:linear-gradient(#001cff 0.5px,#003bff 10.5px,#009aff 20.5px,#00eaf9 34.5px,#00ffe6 40.5px,#00faac 47.5px,#09f16b 52.5px,#2df046 55.5px,#57f126 57.5px,#d5fa06 60.5px,#f2fa01 61.5px,#ffc900 66.5px)"></i>
<i style="left:497px;top:142px;height:67px;background:linear-gradient(#001cff 0.5px,#0037ff 10.5px,#0080ff 17.5px,#00c6ff 27.5px,#00f4f3 36.5px,#00fee2 40.5px,#00faa8 46.5px,#0af066 51.5px,#42f034 55.5px,#5af125 56.5px,#f2fa01 60.5px,#ffd200 63.5px,#ffaa00 66.5px)"></i>
<i style="left:498px;top:142px;height:67px;background:linear-gradient(#001cff 0.5px,#0039ff 10.5px,#009aff 20.5px,#00ecf8 34.5px,#00ffe6 39.5px,#00fbb8 44.5px,#0af066 50.5px,#49f02e 54.5px,#7ef41c 56.5px,#eefa01 59.5px,#ffde00 61.5px,#ffaa00 64.5px,#ffa800 66.5px)"></i>
<i style="left:499px;top:142px;height:67px;background:linear-gradient(#001cff 0.5px,#0032ff 9.5px,#0091ff 19.5px,#00e9fa 33.5px,#00fee3 39.5px,#00fbb1 44.5px,#0cf062 49.5px,#42f034 53.5px,#58f126 54.5px,#e1fa04 58.5px,#f8f200 59.5px,#ffb000 62.5px,#ffa700 66.5px)"></i>
<i style="left:500px;top:142px;height:67px;background:linear-gradient(#001cff 0.5px,#0036ff 9.5px,#009aff 20.5px,#00ebf9 33.5px,#00fedf 39.5px,#00faa9 44.5px,#09f169 48.5px,#4ff029 53.5px,#89f519 55.5px,#f4fa00 58.5px,#ffd600 60.5px,#ffb600 61.5px,#ffa800 63.5px,#ffa500 66.5px)"></i>
<i style="left:501px;top:142px;height:67px;background:linear-gradient(#001cff 0.5px,#0039ff 9.5px,#008aff 18.5px,#00ecf8 33.5px,#00fee4 38.5px,#00fab0 43.5px,#0cf062 48.5px,#4df02a 52.5px,#95f615 55.5px,#defa04 57.5px,#f8f400 58.5px,#ffca00 60.5px,#ffae00 61.5px,#ffa300 66.5px)"></i>
<i style="left:502px;top:142px;height:67px;background:linear-gradient(#001cff 0.5px,#0033ff 8.5px,#008bff 18.5px,#00e8fa 32.5px,#00fee0 38.5px,#00faa8 43.5px,#09f16a 47.5px,#54f027 52.5px,#c3fa09 56.5px,#e7fa02 57.5px,#f9f000 58.5px,#ffaa00 61.5px,#ffa200 66.5px)"></i>
<i style="left:503px;top:142px;height:67px;background:linear-gradient(#001cff 0.5px,#0036ff 8.5px,#0084ff 17.5px,#00e8fa 32.5px,#00ffe7 37.5px,#00faaf 42.5px,#0df062 47.5px,#61f223 52.5px,#ccfa07 56.5px,#f0fa01 57.5px,#ffd700 59.5px,#ffa900 61.5px,#ffa000 66.5px)"></i>
<i style="left:504px;top:142px;height:67px;background:linear-gradient(#0019ff 0.5px,#0019ff 3.5px,#0032ff 4.5px,#0032ff 14.5px,#00a0ff 15.5px,#00a0ff 30.5px,#00fcc0 31.5px,#00fcc0 48.5px,#befa0a 49.5px,#befa0a 58.5px,#ffaa00 59.5px,#ffaa00 63.5px,#ff9f00 65.5px,#ff9f00 66.5px)"></i>
<i style="left:31px;top:423px;height:54px;background:linear-gradient(#f6ae1d 0.5px,#ddb515 1.5px,#b7c214 2.5px,#9ac621 3.5px,#68c83f 4.5px,#23c868 5.5px,#05c47e 6.5px,#00bab3 13.5px,#00b0d0 17.5px,#00b5c5 37.5px,#00c08c 44.5px,#08c57c 47.5px,#20c86a 50.5px,#45c855 52.5px,#4ec850 53.5px)"></i>
<i style="left:32px;top:423px;height:54px;background:linear-gradient(#f4ac1e 0.5px,#cdbb14 1.5px,#8ec827 3.5px,#47c855 4.5px,#10c675 5.5px,#00c286 6.5px,#00b0d0 17.5px,#00b6c3 37.5px,#00c08e 43.5px,#07c47d 46.5px,#21c86a 49.5px,#56c84b 52.5px,#5dc846 53.5px)"></i>
<i style="left:33px;top:423px;height:54px;background:linear-gradient(#e8b119 0.5px,#bec014 1.5px,#9ec61f 2.5px,#6ec83b 3.5px,#26c867 4.5px,#04c47f 5.5px,#00bbaf 11.5px,#00b0d0 17.5px,#00b7c1 37.5px,#00bf91 42.5px,#03c47f 45.5px,#43c856 50.5px,#65c841 52.5px,#6dc83c 53.5px)"></i>
<i style="left:34px;top:423px;height:54px;background:linear-gradient(#d2b914 0.5px,#8dc827 2.5px,#47c854 3.5px,#10c675 4.5px,#00c287 5.5px,#00bca6 8.5px,#00b1cf 17.5px,#00b9bf 37.5px,#00c08e 42.5px,#00c383 44.5px,#37c85d 48.5px,#80c830 53.5px)"></i>
<i style="left:35px;top:423px;height:54px;background:linear-gradient(#b3c314 0.5px,#95c724 1.5px,#1dc86c 3.5px,#00c382 4.5px,#00bbad 7.5px,#00b2cd 18.5px,#00b9bc 37.5px,#00c08c 42.5px,#03c480 44.5px,#8dc828 52.5px,#91c726 53.5px)"></i>
<i style="left:36px;top:423px;height:54px;background:linear-gradient(#9cc620 0.5px,#6fc83a 1.5px,#2ec863 2.5px,#09c57b 3.5px,#00be96 5.5px,#00baba 7.5px,#00b1ce 23.5px,#00bab9 37.5px,#00c090 41.5px,#08c57c 44.5px,#14c772 45.5px,#5ac848 48.5px,#8ec827 51.5px,#9bc621 53.5px)"></i>
<i style="left:37px;top:423px;height:54px;background:linear-gradient(#7fc830 0.5px,#36c85e 1.5px,#0cc578 2.5px,#00bf93 4.5px,#00b8bf 7.5px,#00b2cc 24.5px,#00bab7 36.5px,#00c18a 41.5px,#06c47d 43.5px,#21c869 45.5px,#5bc848 47.5px,#8fc826 50.5px,#a3c51c 53.5px)"></i>
<i style="left:38px;top:427px;height:50px;background:linear-gradient(#00bca4 0.5px,#00bca7 1.5px,#00b9bd 2.5px,#00b3c9 19.5px,#00b8bf 28.5px,#04c47f 37.5px,#16c770 39.5px,#41c858 41.5px,#73c838 43.5px,#97c722 46.5px,#aac419 49.5px)"></i>
<i style="left:39px;top:427px;height:50px;background:linear-gradient(#00bab6 0.5px,#00b6c5 7.5px,#00b7c3 23.5px,#00b9bb 28.5px,#00c08e 33.5px,#00c382 35.5px,#19c86e 37.5px,#34c85f 38.5px,#8bc828 43.5px,#b1c316 49.5px)"></i>
<i style="left:40px;top:427px;height:50px;background:linear-gradient(#00b8bf 0.5px,#00b5c6 18.5px,#00bab8 28.5px,#00c090 32.5px,#00c384 34.5px,#16c770 36.5px,#4ec850 38.5px,#92c725 43.5px,#b5c314 49.5px)"></i>
<i style="left:41px;top:427px;height:50px;background:linear-gradient(#00b7c2 0.5px,#00b5c6 19.5px,#00bab9 28.5px,#07c47c 35.5px,#15c771 36.5px,#4ec850 38.5px,#8cc828 42.5px,#b8c214 49.5px)"></i>
<i style="left:42px;top:427px;height:50px;background:linear-gradient(#00b6c4 0.5px,#00b6c5 21.5px,#00bab9 28.5px,#06c47d 35.5px,#14c772 36.5px,#4ec850 38.5px,#8dc828 42.5px,#bbc114 49.5px)"></i>
<i style="left:43px;top:427px;height:50px;background:linear-gradient(#00b5c6 0.5px,#00b7c3 24.5px,#00bab7 29.5px,#04c47e 35.5px,#13c773 36.5px,#4ec850 38.5px,#8ec827 42.5px,#bdc014 49.5px)"></i>
<i style="left:44px;top:427px;height:50px;background:linear-gradient(#00b4c9 0.5px,#00b7c1 26.5px,#00bab4 30.5px,#00c08f 33.5px,#03c47f 35.5px,#12c773 36.5px,#4ec850 38.5px,#8ec827 42.5px,#c0bf14 49.5px)"></i>
<i style="left:45px;top:427px;height:50px;background:linear-gradient(#00b3ca 0.5px,#00b8c0 24.5px,#00bbaf 30.5px,#00c08d 33.5px,#07c47c 35.5px,#15c771 36.5px,#53c84c 38.5px,#91c726 42.5px,#c4be14 49.5px)"></i>
<i style="left:46px;top:427px;height:50px;background:linear-gradient(#00b3ca 0.5px,#00b7c1 20.5px,#00bda1 30.5px,#01c381 34.5px,#1dc86c 36.5px,#47c854 37.5px,#8ec827 41.5px,#c5be14 48.5px,#c9bc14 49.5px)"></i>
<i style="left:47px;top:427px;height:50px;background:linear-gradient(#00b3ca 0.5px,#00b6c4 17.5px,#00bbad 25.5px,#02c380 33.5px,#2cc864 36.5px,#57c84a 37.5px,#92c725 41.5px,#cabc14 48.5px,#cfba14 49.5px)"></i>
<i style="left:48px;top:427px;height:50px;background:linear-gradient(#00b3ca 0.5px,#00b7c2 16.5px,#00bca2 25.5px,#00c382 32.5px,#15c771 34.5px,#40c858 36.5px,#61c844 37.5px,#8fc827 40.5px,#c6bd14 47.5px,#d4b914 49.5px)"></i>
<i style="left:49px;top:427px;height:50px;background:linear-gradient(#00b3ca 0.5px,#00b6c3 15.5px,#00bd9e 24.5px,#06c47e 31.5px,#18c86f 33.5px,#8cc828 39.5px,#cbbc14 47.5px,#d9b714 49.5px)"></i>
<i style="left:50px;top:427px;height:50px;background:linear-gradient(#00b6c3 0.5px,#00bab4 14.5px,#00c382 28.5px,#15c771 31.5px,#8dc828 38.5px,#c6bd14 46.5px,#dcb614 49.5px)"></i>
<i style="left:51px;top:427px;height:50px;background:linear-gradient(#00bab2 0.5px,#00c08d 17.5px,#07c47d 25.5px,#22c869 29.5px,#37c85d 30.5px,#41c858 31.5px,#81c82f 35.5px,#a3c51c 40.5px,#dcb614 49.5px)"></i>
<i style="left:52px;top:427px;height:50px;background:linear-gradient(#00bd9f 0.5px,#06c47d 13.5px,#22c869 22.5px,#61c843 29.5px,#8dc827 33.5px,#ccbb14 46.5px,#dcb614 49.5px)"></i>
<i style="left:53px;top:423px;height:54px;background:linear-gradient(#08c57c 0.5px,#00c18a 4.5px,#06c47e 9.5px,#23c869 14.5px,#40c858 17.5px,#94c724 33.5px,#cdbb14 48.5px,#e0b416 53.5px)"></i>
<i style="left:54px;top:420px;height:57px;background:linear-gradient(#95c724 0.5px,#4dc851 1.5px,#36c85e 3.5px,#16c770 4.5px,#1bc86d 7.5px,#8ac829 19.5px,#bfbf14 43.5px,#e9b119 56.5px)"></i>
<i style="left:55px;top:419px;height:58px;background:linear-gradient(#a4c51c 0.5px,#90c726 1.5px,#8cc828 5.5px,#c2be14 34.5px,#f1ae1c 57.5px)"></i>
<i style="left:56px;top:418px;height:59px;background:linear-gradient(#abc419 0.5px,#ceba14 31.5px,#cebb14 41.5px,#c3be14 42.5px,#f2ad1d 58.5px)"></i>
<i style="left:57px;top:416px;height:61px;background:linear-gradient(#bdc014 0.5px,#dab714 29.5px,#bcc014 41.5px,#afc417 43.5px,#9ec61f 44.5px,#afc416 51.5px,#b9c214 53.5px,#dcb614 57.5px,#ecb01a 60.5px)"></i>
<i style="left:58px;top:412px;height:65px;background:linear-gradient(#e1b416 0.5px,#d5b814 2.5px,#e5b218 29.5px,#e4b317 33.5px,#b2c315 44.5px,#91c725 47.5px,#55c84b 49.5px,#8cc828 53.5px,#abc418 58.5px,#cebb14 61.5px,#cfba14 62.5px,#e5b218 64.5px)"></i>
<i style="left:59px;top:407px;height:70px;background:linear-gradient(#f4ad1d 0.5px,#eeaf1b 9.5px,#f1ae1c 36.5px,#dfb515 40.5px,#a2c51d 49.5px,#7bc833 51.5px,#2fc862 53.5px,#13c773 54.5px,#1ec86b 56.5px,#a2c51d 64.5px,#d6b814 68.5px,#dfb515 69.5px)"></i>
<i style="left:60px;top:400px;height:77px;background:linear-gradient(#f6ad1d 0.5px,#efaf1b 45.5px,#c0bf14 51.5px,#8ec827 56.5px,#20c86a 59.5px,#00c382 61.5px,#26c867 65.5px,#8fc827 70.5px,#c1bf14 74.5px,#dcb614 76.5px)"></i>
<i style="left:61px;top:390px;height:87px;background:linear-gradient(#f6ad1d 0.5px,#efaf1b 51.5px,#dab714 59.5px,#d3b914 60.5px,#99c622 64.5px,#86c82c 65.5px,#1dc86c 68.5px,#00c382 70.5px,#17c86f 73.5px,#8fc826 79.5px,#c7bd14 84.5px,#dcb614 86.5px)"></i>
<i style="left:62px;top:379px;height:98px;background:linear-gradient(#eeaf1b 0.5px,#f7af1c 17.5px,#efaf1b 62.5px,#e8b119 66.5px,#c4be14 71.5px,#7ec831 75.5px,#19c86e 78.5px,#00c382 80.5px,#1ac86d 85.5px,#8ec827 90.5px,#c9bc14 95.5px,#dcb614 97.5px)"></i>
<i style="left:63px;top:330px;height:147px;background:linear-gradient(#00a1e2 0.5px,#00bab7 16.5px,#00bf91 20.5px,#02c381 23.5px,#18c86f 25.5px,#8ec827 29.5px,#b0c416 33.5px,#e4b317 41.5px,#f8b01b 49.5px,#f2ad1d 114.5px,#d2b914 117.5px,#a9c419 120.5px,#8ec827 122.5px,#17c86f 126.5px,#00c382 128.5px,#0fc676 135.5px,#1bc86d 136.5px,#8dc827 140.5px,#c4be14 144.5px,#dcb614 146.5px)"></i>
<i style="left:64px;top:331px;height:146px;background:linear-gradient(#00a1e2 0.5px,#00b0cf 9.5px,#00bab6 12.5px,#00bca3 15.5px,#04c47f 21.5px,#17c870 23.5px,#3bc85b 25.5px,#8dc828 28.5px,#c5be14 37.5px,#f5ad1e 45.5px,#f6ad1d 108.5px,#efae1c 113.5px,#b6c214 117.5px,#80c830 121.5px,#17c86f 125.5px,#06c47d 128.5px,#14c772 134.5px,#93c724 139.5px,#cbbc14 143.5px,#ddb614 144.5px,#e2b416 145.5px)"></i>
<i style="left:65px;top:344px;height:133px;background:linear-gradient(#00be96 0.5px,#00c382 7.5px,#25c867 12.5px,#74c837 17.5px,#91c726 20.5px,#ccbb14 31.5px,#f5ac1e 42.5px,#f3ad1d 97.5px,#d6b814 101.5px,#98c722 107.5px,#7dc832 109.5px,#2ac865 113.5px,#13c773 115.5px,#2cc863 118.5px,#5dc846 121.5px,#8cc828 123.5px,#c4be14 128.5px,#efaf1b 132.5px)"></i>
<i style="left:66px;top:367px;height:110px;background:linear-gradient(#6fc83a 0.5px,#92c725 4.5px,#bbc114 16.5px,#acc418 17.5px,#dbb614 32.5px,#f3ad1d 45.5px,#f0ae1c 75.5px,#b2c315 83.5px,#87c82b 87.5px,#52c84d 90.5px,#32c860 91.5px,#21c869 92.5px,#1dc86c 93.5px,#89c82a 99.5px,#ccbb14 105.5px,#f5ac1e 109.5px)"></i>
<i style="left:67px;top:383px;height:94px;background:linear-gradient(#88c82b 0.5px,#8dc828 1.5px,#2ac865 2.5px,#8ec827 14.5px,#c7bd14 31.5px,#f5ad1e 47.5px,#efae1c 62.5px,#dcb614 67.5px,#9dc61f 71.5px,#82c82e 73.5px,#21c869 76.5px,#1dc86c 77.5px,#24c868 78.5px,#38c85d 79.5px,#63c842 83.5px,#92c725 85.5px,#c3be14 89.5px,#f5ac1e 93.5px)"></i>
<i style="left:68px;top:385px;height:92px;background:linear-gradient(#0ec677 0.5px,#00c284 1.5px,#21c869 11.5px,#92c725 24.5px,#c9bc14 37.5px,#efae1c 45.5px,#f5ac1e 65.5px,#bfc014 69.5px,#92c725 72.5px,#92c725 73.5px,#79c834 74.5px,#6dc83c 75.5px,#98c622 82.5px,#c7bd14 86.5px,#dfb515 88.5px,#dfb515 89.5px,#f5ac1e 91.5px)"></i>
<i style="left:69px;top:385px;height:92px;background:linear-gradient(#00c285 0.5px,#06c47d 9.5px,#1ec86b 16.5px,#94c724 30.5px,#cdbb14 41.5px,#e4b317 46.5px,#f5ac1e 66.5px,#e4b317 70.5px,#d1b914 71.5px,#cfba14 80.5px,#cfba14 82.5px,#deb515 83.5px,#edaf1b 89.5px,#f5ac1e 91.5px)"></i>
<i style="left:70px;top:385px;height:92px;background:linear-gradient(#00bf94 0.5px,#06c47e 13.5px,#21c86a 21.5px,#59c849 27.5px,#91c726 32.5px,#cabc14 42.5px,#dfb515 47.5px,#f3ad1d 66.5px,#e2b416 78.5px,#f5ac1e 91.5px)"></i>
<i style="left:71px;top:385px;height:92px;background:linear-gradient(#00bd9b 0.5px,#06c47e 16.5px,#21c86a 24.5px,#8fc826 33.5px,#c9bc14 42.5px,#e0b416 47.5px,#f6ad1d 64.5px,#dbb614 69.5px,#b4c314 75.5px,#f2ad1d 90.5px,#f5ac1e 91.5px)"></i>
<i style="left:72px;top:344px;height:133px;background:linear-gradient(#038aee 0.5px,#00b1cf 26.5px,#00bab8 37.5px,#00b9bd 39.5px,#00bca3 42.5px,#06c47e 62.5px,#1cc86c 68.5px,#91c725 77.5px,#cebb14 86.5px,#f6ad1d 104.5px,#efae1c 107.5px,#b4c314 113.5px,#a2c51d 116.5px,#dcb614 127.5px,#f5ac1e 132.5px)"></i>
<i style="left:73px;top:340px;height:137px;background:linear-gradient(#0d72f5 0.5px,#00abd9 35.5px,#00b9bd 47.5px,#00bf91 60.5px,#08c57c 73.5px,#1cc86d 77.5px,#8fc826 85.5px,#b8c214 93.5px,#f5ac1e 109.5px,#c5be14 115.5px,#a2c51d 120.5px,#dcb614 131.5px,#f5ac1e 136.5px)"></i>
<i style="left:74px;top:340px;height:137px;background:linear-gradient(#0f6ef5 0.5px,#00a7de 37.5px,#00bab6 52.5px,#00bf92 62.5px,#04c47f 75.5px,#19c86e 79.5px,#8dc828 87.5px,#c2be14 99.5px,#e8b119 110.5px,#aac419 119.5px,#c7bd14 127.5px,#f1ae1c 136.5px)"></i>
<i style="left:75px;top:340px;height:137px;background:linear-gradient(#116af5 0.5px,#009be6 32.5px,#00b6c5 48.5px,#00bf92 62.5px,#06c47d 75.5px,#18c86f 79.5px,#8bc828 88.5px,#c3be14 101.5px,#d6b814 110.5px,#b5c314 120.5px,#e9b119 136.5px)"></i>
<i style="left:76px;top:341px;height:136px;background:linear-gradient(#1367f5 0.5px,#0192ec 28.5px,#00b2cb 45.5px,#00bf92 61.5px,#05c47e 73.5px,#20c86a 79.5px,#8dc827 89.5px,#bbc114 101.5px,#c5bd14 112.5px,#cebb14 125.5px,#e0b416 135.5px)"></i>
<i style="left:77px;top:344px;height:133px;background:linear-gradient(#1267f5 0.5px,#028fed 25.5px,#00b2cd 42.5px,#00bf91 59.5px,#07c47d 70.5px,#1ec86b 76.5px,#91c725 88.5px,#b4c314 97.5px,#d2b914 132.5px)"></i>
<i style="left:78px;top:349px;height:128px;background:linear-gradient(#106cf5 0.5px,#028fed 21.5px,#00b2cd 38.5px,#00bf92 54.5px,#07c47d 65.5px,#1ec86b 71.5px,#90c826 83.5px,#b2c315 93.5px,#c6bd14 114.5px,#bfbf14 127.5px)"></i>
<i style="left:83px;top:424px;height:53px;background:linear-gradient(#41c858 0.5px,#8fc827 10.5px,#a6c51b 20.5px,#b3c314 36.5px,#8ac82a 46.5px,#57c84a 52.5px)"></i>
<i style="left:84px;top:424px;height:53px;background:linear-gradient(#3dc85a 0.5px,#56c84b 3.5px,#75c837 5.5px,#93c725 10.5px,#adc417 24.5px,#a8c51a 36.5px,#83c82e 43.5px,#2ac865 52.5px)"></i>
<i style="left:85px;top:424px;height:53px;background:linear-gradient(#34c85f 0.5px,#46c855 1.5px,#4ac852 3.5px,#8fc827 7.5px,#afc417 19.5px,#b7c214 26.5px,#87c82b 38.5px,#19c86e 48.5px,#0ac57a 52.5px)"></i>
<i style="left:86px;top:435px;height:42px;background:linear-gradient(#71c83a 0.5px,#91c726 10.5px,#91c726 16.5px,#50c84f 23.5px,#19c86e 29.5px,#00c286 38.5px,#00c18a 41.5px)"></i>
<i style="left:87px;top:435px;height:42px;background:linear-gradient(#18c86f 0.5px,#01c381 1.5px,#07c47c 16.5px,#00be96 37.5px,#00bd9e 41.5px)"></i>
<i style="left:88px;top:436px;height:41px;background:linear-gradient(#00c189 0.5px,#00bca3 1.5px,#00bbae 25.5px,#00b9be 40.5px)"></i>
<i style="left:89px;top:436px;height:41px;background:linear-gradient(#00c285 0.5px,#00b8c0 2.5px,#00b3cb 40.5px)"></i>
<i style="left:90px;top:437px;height:40px;background:linear-gradient(#00be9a 0.5px,#00b7c3 1.5px,#00b2cc 39.5px)"></i>
<i style="left:91px;top:438px;height:39px;background:linear-gradient(#00b8bf 0.5px,#00b3ca 2.5px,#00b1ce 38.5px)"></i>
<i style="left:92px;top:439px;height:38px;background:linear-gradient(#00b2cc 0.5px,#00b0cf 37.5px)"></i>
<i style="left:93px;top:440px;height:37px;background:linear-gradient(#00b0d0 0.5px,#00b0d0 36.5px)"></i>
<i style="left:94px;top:440px;height:37px;background:linear-gradient(#00b0d0 0.5px,#00aed4 30.5px,#00b0d0 36.5px)"></i>
<i style="left:95px;top:440px;height:37px;background:linear-gradient(#00b0d0 0.5px,#00abda 28.5px,#00b0d0 36.5px)"></i>
<i style="left:96px;top:440px;height:37px;background:linear-gradient(#00b0d0 0.5px,#00a8dd 28.5px,#00b0d0 36.5px)"></i>
<i style="left:97px;top:440px;height:37px;background:linear-gradient(#00afd2 0.5px,#009be6 28.5px,#00aed3 36.5px)"></i>
<i style="left:98px;top:440px;height:37px;background:linear-gradient(#00afd2 0.5px,#077ff2 25.5px,#077ff2 30.5px,#00abd9 36.5px)"></i>
<i style="left:99px;top:440px;height:37px;background:linear-gradient(#00b1cf 0.5px,#0585f0 21.5px,#0781f2 30.5px,#00abdb 35.5px,#00abd9 36.5px)"></i>
<i style="left:100px;top:440px;height:37px;background:linear-gradient(#00b3ca 0.5px,#009be6 23.5px,#009be6 30.5px,#00aed3 36.5px)"></i>
<i style="left:101px;top:440px;height:37px;background:linear-gradient(#00b5c6 0.5px,#00aed5 33.5px,#00b2cd 36.5px)"></i>
<i style="left:102px;top:440px;height:37px;background:linear-gradient(#00bab8 0.5px,#00b6c5 36.5px)"></i>
<i style="left:103px;top:437px;height:40px;background:linear-gradient(#00c18b 0.5px,#00be9a 1.5px,#00baba 39.5px)"></i>
<i style="left:104px;top:437px;height:40px;background:linear-gradient(#00c189 0.5px,#00bbad 39.5px)"></i>
<i style="left:105px;top:437px;height:40px;background:linear-gradient(#09c57b 0.5px,#00c18b 21.5px,#00bd9d 39.5px)"></i>
<i style="left:106px;top:437px;height:40px;background:linear-gradient(#24c868 0.5px,#00c286 30.5px,#00c090 39.5px)"></i>
<i style="left:107px;top:436px;height:41px;background:linear-gradient(#59c849 0.5px,#49c853 15.5px,#16c771 28.5px,#00c287 40.5px)"></i>
<i style="left:108px;top:436px;height:41px;background:linear-gradient(#81c82f 0.5px,#80c830 15.5px,#51c84e 26.5px,#10c675 36.5px,#00c382 40.5px)"></i>
<i style="left:109px;top:436px;height:41px;background:linear-gradient(#92c725 0.5px,#92c725 23.5px,#74c837 27.5px,#58c84a 29.5px,#48c854 31.5px,#18c86f 35.5px,#00c382 40.5px)"></i>
<i style="left:110px;top:436px;height:41px;background:linear-gradient(#9cc620 0.5px,#a5c51c 24.5px,#88c82b 28.5px,#1ec86b 35.5px,#00c382 40.5px)"></i>
<i style="left:111px;top:436px;height:41px;background:linear-gradient(#9dc61f 0.5px,#b2c315 24.5px,#8cc828 30.5px,#3ac85c 35.5px,#1dc86c 36.5px,#00c382 39.5px,#00c284 40.5px)"></i>
<i style="left:112px;top:436px;height:41px;background:linear-gradient(#97c723 0.5px,#b8c214 21.5px,#acc418 26.5px,#8dc827 33.5px,#7dc831 34.5px,#17c870 37.5px,#03c47f 38.5px,#00c288 40.5px)"></i>
<i style="left:113px;top:436px;height:41px;background:linear-gradient(#8fc826 0.5px,#bcc014 20.5px,#a2c51d 33.5px,#99c622 34.5px,#49c853 36.5px,#17c86f 37.5px,#04c47f 38.5px,#00c08c 40.5px)"></i>
<i style="left:114px;top:433px;height:44px;background:linear-gradient(#54c84c 0.5px,#90c826 10.5px,#adc417 23.5px,#98c722 36.5px,#90c826 37.5px,#29c865 39.5px,#0bc579 40.5px,#00c08d 42.5px,#00c08f 43.5px)"></i>
<i style="left:115px;top:433px;height:44px;background:linear-gradient(#15c771 0.5px,#91c726 22.5px,#8dc828 28.5px,#3cc85a 37.5px,#1bc86d 38.5px,#06c47d 39.5px,#00bf92 43.5px)"></i>
<i style="left:116px;top:431px;height:46px;background:linear-gradient(#00c287 0.5px,#10c676 10.5px,#27c866 17.5px,#61c844 28.5px,#4fc84f 30.5px,#17c86f 35.5px,#00c18a 41.5px,#00be95 45.5px)"></i>
<i style="left:117px;top:420px;height:57px;background:linear-gradient(#00bab4 0.5px,#00bca2 5.5px,#00c383 31.5px,#0ac57a 40.5px,#00c188 45.5px,#00bda0 54.5px,#00bca6 56.5px)"></i>
<i style="left:118px;top:413px;height:64px;background:linear-gradient(#00b0d0 0.5px,#00bbae 25.5px,#00bca2 48.5px,#00b6c4 63.5px)"></i>
<i style="left:119px;top:400px;height:77px;background:linear-gradient(#009be6 0.5px,#00b3ca 42.5px,#00b2cc 66.5px,#00add6 76.5px)"></i>
<i style="left:120px;top:365px;height:112px;background:linear-gradient(#3245e8 0.5px,#1e5af2 25.5px,#0f6ff5 30.5px,#00a8dd 65.5px,#00abd9 100.5px,#00a6df 111.5px)"></i>
<i style="left:121px;top:356px;height:121px;background:linear-gradient(#393ce1 0.5px,#1e5af2 36.5px,#028fed 67.5px,#009ee4 91.5px,#0098e8 120.5px)"></i>
<i style="left:122px;top:357px;height:120px;background:linear-gradient(#3c38db 0.5px,#2058f2 36.5px,#087ff3 66.5px,#038bee 91.5px,#0683f1 119.5px)"></i>
<i style="left:123px;top:367px;height:110px;background:linear-gradient(#3b39dd 0.5px,#2058f2 31.5px,#0c73f5 56.5px,#0780f2 85.5px,#087ff3 109.5px)"></i>
<i style="left:124px;top:389px;height:88px;background:linear-gradient(#3343e7 0.5px,#0f6ff5 38.5px,#028dee 87.5px)"></i>
<i style="left:125px;top:420px;height:57px;background:linear-gradient(#1761f4 0.5px,#0c74f5 21.5px,#0488ef 23.5px,#009ee4 56.5px)"></i>
<i style="left:126px;top:438px;height:39px;background:linear-gradient(#116af5 0.5px,#116af5 4.5px,#0097e9 6.5px,#00a2e1 8.5px,#00b0d0 38.5px)"></i>
<i style="left:127px;top:450px;height:27px;background:linear-gradient(#0192ec 0.5px,#0093eb 5.5px,#087df3 6.5px,#0099e7 25.5px,#009ae7 26.5px)"></i>
<i style="left:128px;top:459px;height:18px;background:linear-gradient(#1b5df3 0.5px,#0d73f5 9.5px,#097bf4 17.5px)"></i>
<i style="left:129px;top:459px;height:18px;background:linear-gradient(#373ee3 0.5px,#2058f2 8.5px,#1563f5 17.5px)"></i>
<i style="left:130px;top:459px;height:18px;background:linear-gradient(#4130ce 0.5px,#2e48eb 6.5px,#2058f2 17.5px)"></i>
<i style="left:131px;top:459px;height:18px;background:linear-gradient(#412fcc 0.5px,#3046ea 6.5px,#2058f2 17.5px)"></i>
<i style="left:132px;top:459px;height:18px;background:linear-gradient(#422fca 0.5px,#3146e9 7.5px,#2058f2 17.5px)"></i>
<i style="left:133px;top:459px;height:18px;background:linear-gradient(#422fca 0.5px,#2f48ea 8.5px,#2058f2 17.5px)"></i>
<i style="left:134px;top:445px;height:32px;background:linear-gradient(#4329bb 0.5px,#4130cc 15.5px,#294eef 25.5px,#2256f2 31.5px)"></i>
<i style="left:135px;top:439px;height:38px;background:linear-gradient(#4132d3 0.5px,#4327b7 4.5px,#422ec7 21.5px,#2d4aec 31.5px,#2553f1 37.5px)"></i>
<i style="left:136px;top:439px;height:38px;background:linear-gradient(#422ec7 0.5px,#4326b4 3.5px,#422cc2 21.5px,#3046ea 32.5px,#2850f0 37.5px)"></i>
<i style="left:137px;top:439px;height:38px;background:linear-gradient(#4329bb 0.5px,#4325b3 4.5px,#422cc4 23.5px,#2f48eb 34.5px,#2a4dee 37.5px)"></i>
<i style="left:138px;top:439px;height:38px;background:linear-gradient(#4324af 0.5px,#422dc4 26.5px,#3145e9 34.5px,#2d4aec 37.5px)"></i>
<i style="left:139px;top:439px;height:38px;background:linear-gradient(#4324b0 0.5px,#422dc5 26.5px,#3146e9 35.5px,#3047ea 37.5px)"></i>
<i style="left:140px;top:439px;height:38px;background:linear-gradient(#4327b7 0.5px,#3f34d6 28.5px,#3343e8 37.5px)"></i>
<i style="left:141px;top:436px;height:41px;background:linear-gradient(#4328b9 0.5px,#3640e5 40.5px)"></i>
<i style="left:148px;top:444px;height:33px;background:linear-gradient(#412fcb 0.5px,#3145e8 22.5px,#1860f4 31.5px,#1761f4 32.5px)"></i>
<i style="left:149px;top:444px;height:33px;background:linear-gradient(#422ec9 0.5px,#3540e6 21.5px,#1860f4 30.5px,#1563f5 32.5px)"></i>
<i style="left:150px;top:444px;height:33px;background:linear-gradient(#422cc4 0.5px,#383ce2 20.5px,#1a5ef4 30.5px,#1662f4 32.5px)"></i>
<i style="left:151px;top:444px;height:33px;background:linear-gradient(#422abf 0.5px,#3e35d7 17.5px,#2058f2 28.5px,#1761f4 32.5px)"></i>
<i style="left:152px;top:442px;height:35px;background:linear-gradient(#4229bc 0.5px,#3e36d8 19.5px,#1e5af2 31.5px,#1860f4 34.5px)"></i>
<i style="left:153px;top:442px;height:35px;background:linear-gradient(#4229bc 0.5px,#383ce2 20.5px,#1860f4 34.5px)"></i>
<i style="left:154px;top:442px;height:35px;background:linear-gradient(#4229bc 0.5px,#3441e6 20.5px,#1860f4 34.5px)"></i>
<i style="left:155px;top:441px;height:36px;background:linear-gradient(#4328b9 0.5px,#3540e5 20.5px,#1860f4 35.5px)"></i>
<i style="left:156px;top:441px;height:36px;background:linear-gradient(#4327b7 0.5px,#383de3 20.5px,#1b5df3 33.5px,#1860f4 35.5px)"></i>
<i style="left:157px;top:441px;height:36px;background:linear-gradient(#4326b4 0.5px,#3a3adf 20.5px,#2454f1 28.5px,#1860f4 35.5px)"></i>
<i style="left:158px;top:441px;height:36px;background:linear-gradient(#4325b1 0.5px,#4033d3 19.5px,#2850f0 25.5px,#1860f4 35.5px)"></i>
<i style="left:159px;top:439px;height:38px;background:linear-gradient(#4324ae 0.5px,#4131d0 21.5px,#294fef 27.5px,#1a5ef3 37.5px)"></i>
<i style="left:160px;top:439px;height:38px;background:linear-gradient(#4324af 0.5px,#4131d0 21.5px,#2c4ced 27.5px,#1f59f2 37.5px)"></i>
<i style="left:170px;top:445px;height:32px;background:linear-gradient(#422abd 0.5px,#4131cf 31.5px)"></i>
<i style="left:171px;top:430px;height:47px;background:linear-gradient(#4422a9 0.5px,#4324af 6.5px,#422cc2 29.5px,#4132d2 46.5px)"></i>
<i style="left:172px;top:423px;height:54px;background:linear-gradient(#4422ab 0.5px,#4423ac 12.5px,#4130ce 48.5px,#3c38db 53.5px)"></i>
<i style="left:173px;top:417px;height:60px;background:linear-gradient(#4423ac 0.5px,#4422ab 27.5px,#4130ce 53.5px,#373ee4 59.5px)"></i>
<i style="left:174px;top:416px;height:61px;background:linear-gradient(#4325b1 0.5px,#422fca 53.5px,#373ee4 60.5px)"></i>
<i style="left:175px;top:470px;height:7px;background:linear-gradient(#4131cf 0.5px,#3541e6 6.5px)"></i>
<i style="left:176px;top:470px;height:7px;background:linear-gradient(#4132d2 0.5px,#3146e9 6.5px)"></i>
<i style="left:177px;top:470px;height:7px;background:linear-gradient(#4132d2 0.5px,#2c4bec 6.5px)"></i>
<i style="left:178px;top:470px;height:7px;background:linear-gradient(#4132d2 0.5px,#2850f0 6.5px)"></i>
<i style="left:179px;top:470px;height:7px;background:linear-gradient(#4132d2 0.5px,#2652f1 5.5px,#2355f1 6.5px)"></i>
<i style="left:180px;top:470px;height:7px;background:linear-gradient(#4033d3 0.5px,#2454f1 5.5px,#2058f2 6.5px)"></i>
<i style="left:181px;top:470px;height:7px;background:linear-gradient(#3f34d6 0.5px,#2355f1 5.5px,#1f59f2 6.5px)"></i>
<i style="left:182px;top:470px;height:7px;background:linear-gradient(#3e36d8 0.5px,#1e5af2 6.5px)"></i>
<i style="left:183px;top:470px;height:7px;background:linear-gradient(#3c38da 0.5px,#1d5bf3 6.5px)"></i>
<i style="left:184px;top:468px;height:9px;background:linear-gradient(#4130ce 0.5px,#2751f0 6.5px,#1c5cf3 8.5px)"></i>
<i style="left:185px;top:468px;height:9px;background:linear-gradient(#4132d2 0.5px,#2652f0 6.5px,#1c5cf3 8.5px)"></i>
<i style="left:186px;top:468px;height:9px;background:linear-gradient(#4034d5 0.5px,#1f59f2 7.5px,#1b5df3 8.5px)"></i>
<i style="left:187px;top:468px;height:9px;background:linear-gradient(#3e35d7 0.5px,#1e5af2 7.5px,#1a5ef4 8.5px)"></i>
<i style="left:188px;top:468px;height:9px;background:linear-gradient(#3d37da 0.5px,#1d5bf3 7.5px,#195ff4 8.5px)"></i>
<i style="left:189px;top:465px;height:12px;background:linear-gradient(#422fca 0.5px,#2652f0 8.5px,#1860f4 11.5px)"></i>
<i style="left:190px;top:465px;height:12px;background:linear-gradient(#422fca 0.5px,#2a4eee 7.5px,#1860f4 11.5px)"></i>
<i style="left:191px;top:465px;height:12px;background:linear-gradient(#4130cc 0.5px,#2a4eef 7.5px,#1860f4 11.5px)"></i>
<i style="left:192px;top:465px;height:12px;background:linear-gradient(#4131d0 0.5px,#2553f1 8.5px,#1860f4 11.5px)"></i>
<i style="left:193px;top:465px;height:12px;background:linear-gradient(#4132d3 0.5px,#1f59f2 9.5px,#1860f4 11.5px)"></i>
<i style="left:194px;top:468px;height:9px;background:linear-gradient(#373ee4 0.5px,#1860f4 8.5px)"></i>
<i style="left:195px;top:468px;height:9px;background:linear-gradient(#363fe5 0.5px,#1860f4 8.5px)"></i>
<i style="left:196px;top:468px;height:9px;background:linear-gradient(#3540e6 0.5px,#1860f4 8.5px)"></i>
<i style="left:197px;top:468px;height:9px;background:linear-gradient(#3442e6 0.5px,#1860f4 8.5px)"></i>
<i style="left:198px;top:468px;height:9px;background:linear-gradient(#3343e7 0.5px,#1860f4 8.5px)"></i>
<i style="left:199px;top:468px;height:9px;background:linear-gradient(#3244e8 0.5px,#1860f4 8.5px)"></i>
<i style="left:200px;top:461px;height:16px;background:linear-gradient(#4033d4 0.5px,#1761f4 15.5px)"></i>
<i style="left:201px;top:461px;height:16px;background:linear-gradient(#3b39dc 0.5px,#3146e9 7.5px,#1464f5 15.5px)"></i>
<i style="left:202px;top:466px;height:11px;background:linear-gradient(#363fe4 0.5px,#1367f5 10.5px)"></i>
<i style="left:203px;top:466px;height:11px;background:linear-gradient(#363fe5 0.5px,#1169f5 10.5px)"></i>
<i style="left:204px;top:466px;height:11px;background:linear-gradient(#363fe5 0.5px,#106cf5 10.5px)"></i>
<i style="left:205px;top:466px;height:11px;background:linear-gradient(#3540e5 0.5px,#0f6ff5 10.5px)"></i>
<i style="left:206px;top:466px;height:11px;background:linear-gradient(#2f47ea 0.5px,#116af5 9.5px,#1268f5 10.5px)"></i>
<i style="left:207px;top:430px;height:47px;background:linear-gradient(#0f6ff5 0.5px,#1365f5 31.5px,#1b5df3 39.5px,#2058f2 46.5px)"></i>
<i style="left:208px;top:430px;height:47px;background:linear-gradient(#106cf5 0.5px,#1464f5 42.5px,#1e5af2 46.5px)"></i>
<i style="left:209px;top:430px;height:47px;background:linear-gradient(#1464f5 0.5px,#1f59f2 17.5px,#0e70f5 43.5px,#0f6ef5 46.5px)"></i>
<i style="left:210px;top:430px;height:47px;background:linear-gradient(#1d5bf3 0.5px,#2e49eb 16.5px,#0b75f5 38.5px,#0586f0 46.5px)"></i>
<i style="left:211px;top:430px;height:47px;background:linear-gradient(#2652f0 0.5px,#363fe5 16.5px,#0a77f5 37.5px,#0096ea 46.5px)"></i>
<i style="left:212px;top:430px;height:47px;background:linear-gradient(#2d4aec 0.5px,#393be0 17.5px,#294ff0 27.5px,#0c75f5 36.5px,#0099e8 46.5px)"></i>
<i style="left:213px;top:431px;height:46px;background:linear-gradient(#393ce1 0.5px,#3d37d9 17.5px,#3244e8 25.5px,#0d72f5 34.5px,#009ce5 45.5px)"></i>
<i style="left:214px;top:432px;height:45px;background:linear-gradient(#4033d4 0.5px,#4033d4 22.5px,#1860f4 30.5px,#0096ea 41.5px,#00a0e3 44.5px)"></i>
<i style="left:215px;top:432px;height:45px;background:linear-gradient(#422ec9 0.5px,#4131cf 22.5px,#2553f1 28.5px,#0a79f5 34.5px,#00a7de 44.5px)"></i>
<i style="left:216px;top:432px;height:45px;background:linear-gradient(#422dc5 0.5px,#422dc5 18.5px,#363fe5 24.5px,#0b76f5 32.5px,#00a7de 41.5px,#00afd2 44.5px)"></i>
<i style="left:217px;top:432px;height:45px;background:linear-gradient(#422bc1 0.5px,#422cc4 18.5px,#3c38db 21.5px,#1267f5 29.5px,#00a0e3 37.5px,#00b7c3 44.5px)"></i>
<i style="left:218px;top:432px;height:45px;background:linear-gradient(#422abd 0.5px,#422cc3 18.5px,#3145e9 23.5px,#0c75f5 30.5px,#00aed4 38.5px,#00bbb0 44.5px)"></i>
<i style="left:219px;top:432px;height:45px;background:linear-gradient(#4229bd 0.5px,#422cc2 17.5px,#2b4cee 23.5px,#087cf3 30.5px,#00afd3 37.5px,#00bca4 44.5px)"></i>
<i style="left:220px;top:431px;height:46px;background:linear-gradient(#422abf 0.5px,#4229bc 14.5px,#393be0 20.5px,#1268f5 27.5px,#00a2e2 35.5px,#00bbac 43.5px,#00bda0 45.5px)"></i>
<i style="left:221px;top:429px;height:48px;background:linear-gradient(#422cc4 0.5px,#422abe 16.5px,#3e36d8 19.5px,#1464f5 27.5px,#0097e9 34.5px,#00b9be 42.5px,#00bd9c 47.5px)"></i>
<i style="left:222px;top:427px;height:50px;background:linear-gradient(#422ec8 0.5px,#422bc1 18.5px,#3244e8 23.5px,#0d72f5 30.5px,#00acd8 39.5px,#00be98 49.5px)"></i>
<i style="left:223px;top:425px;height:52px;background:linear-gradient(#4130ce 0.5px,#422bc0 19.5px,#2e49eb 25.5px,#0c75f5 32.5px,#00abdb 40.5px,#00be98 51.5px)"></i>
<i style="left:224px;top:424px;height:53px;background:linear-gradient(#4033d3 0.5px,#422abe 16.5px,#4131ce 21.5px,#294fef 27.5px,#0781f2 35.5px,#00acd8 42.5px,#00bd9c 52.5px)"></i>
<i style="left:225px;top:423px;height:54px;background:linear-gradient(#3e35d7 0.5px,#422abe 17.5px,#3442e6 25.5px,#0b77f5 35.5px,#00aadb 43.5px,#00bda0 53.5px)"></i>
<i style="left:226px;top:421px;height:56px;background:linear-gradient(#3b39dc 0.5px,#422abf 19.5px,#2e48eb 28.5px,#097bf4 38.5px,#00acd9 46.5px,#00bca4 55.5px)"></i>
<i style="left:227px;top:420px;height:57px;background:linear-gradient(#3640e5 0.5px,#422bc1 20.5px,#3046ea 28.5px,#097af4 39.5px,#00aadc 47.5px,#00bbac 56.5px)"></i>
<i style="left:228px;top:419px;height:58px;background:linear-gradient(#2652f1 0.5px,#3b39dc 7.5px,#422dc5 21.5px,#2f48eb 29.5px,#097af4 40.5px,#00abdb 49.5px,#00bab8 57.5px)"></i>
<i style="left:229px;top:418px;height:59px;background:linear-gradient(#116af5 0.5px,#383de2 7.5px,#422ec9 22.5px,#2d4aec 30.5px,#0780f2 42.5px,#00aed4 52.5px,#00b7c3 58.5px)"></i>
<i style="left:230px;top:417px;height:60px;background:linear-gradient(#0586f0 0.5px,#2553f1 5.5px,#373ee4 9.5px,#4130cd 23.5px,#2850f0 32.5px,#087ff3 43.5px,#00add6 54.5px,#00b2cc 59.5px)"></i>
<i style="left:231px;top:416px;height:61px;background:linear-gradient(#00aed4 0.5px,#087ef3 4.5px,#2d4bec 9.5px,#3f34d6 24.5px,#1f59f2 35.5px,#038bee 47.5px,#00abda 57.5px,#00add5 60.5px)"></i>
<i style="left:232px;top:405px;height:72px;background:linear-gradient(#63c842 0.5px,#18c86f 1.5px,#0bc579 4.5px,#00c18c 6.5px,#00be94 11.5px,#00a7de 15.5px,#028eed 17.5px,#0a78f5 18.5px,#195ff4 20.5px,#1a5ef3 21.5px,#2850f0 22.5px,#393ce1 35.5px,#1267f5 50.5px,#00a1e2 67.5px,#00a7de 71.5px)"></i>
<i style="left:233px;top:380px;height:97px;background:linear-gradient(#fab618 0.5px,#f9b21a 21.5px,#edaf1b 22.5px,#b5c314 23.5px,#a4c51c 25.5px,#98c622 27.5px,#7dc832 28.5px,#36c85e 36.5px,#11c674 37.5px,#00c287 38.5px,#00bca8 40.5px,#00aed3 42.5px,#028fed 44.5px,#0b77f5 45.5px,#0d72f5 46.5px,#1860f4 47.5px,#3244e8 60.5px,#0a78f5 82.5px,#009fe4 95.5px,#00a0e3 96.5px)"></i>
<i style="left:234px;top:346px;height:131px;background:linear-gradient(#fac10f 0.5px,#facd08 16.5px,#fabb14 43.5px,#fab915 54.5px,#f7ae1c 57.5px,#e0b416 63.5px,#c0bf14 70.5px,#a9c41a 71.5px,#80c830 72.5px,#35c85e 73.5px,#08c57c 74.5px,#00bd9e 76.5px,#00acd9 78.5px,#0e71f5 81.5px,#2b4dee 94.5px,#0585f0 122.5px,#0098e8 130.5px)"></i>
<i style="left:235px;top:300px;height:177px;background:linear-gradient(#fabd12 0.5px,#f0ae1c 8.5px,#b4c314 14.5px,#8bc829 19.5px,#a5c51b 22.5px,#dcb614 25.5px,#f5ad1e 27.5px,#fad007 62.5px,#fabf11 90.5px,#f6ad1d 116.5px,#dfb515 117.5px,#b3c315 118.5px,#91c725 119.5px,#10c675 121.5px,#00c18a 122.5px,#00a8dd 125.5px,#097cf4 127.5px,#2454f1 140.5px,#0781f2 169.5px,#0190ec 176.5px)"></i>
<i style="left:236px;top:281px;height:196px;background:linear-gradient(#fab518 0.5px,#fabb14 21.5px,#f3ad1d 31.5px,#c1bf14 38.5px,#d4b814 41.5px,#f5ac1e 43.5px,#fac010 57.5px,#facf07 82.5px,#f7af1c 134.5px,#f6ad1d 135.5px,#dcb614 136.5px,#b2c315 137.5px,#92c725 138.5px,#13c773 140.5px,#00c188 141.5px,#00abda 144.5px,#0684f1 146.5px,#195ff4 156.5px,#1464f5 172.5px,#048aef 195.5px)"></i>
<i style="left:237px;top:281px;height:196px;background:linear-gradient(#fab916 0.5px,#fabc13 22.5px,#f8b01b 42.5px,#fac30e 53.5px,#face07 84.5px,#f7b01c 134.5px,#f5ac1e 135.5px,#b2c315 137.5px,#93c725 138.5px,#60c844 139.5px,#16c770 140.5px,#00c288 141.5px,#00bd9b 142.5px,#00add5 144.5px,#0191ec 146.5px,#1268f5 154.5px,#1465f5 172.5px,#0682f1 195.5px)"></i>
<i style="left:238px;top:281px;height:196px;background:linear-gradient(#fabc13 0.5px,#fabd12 36.5px,#facf07 84.5px,#f8b01c 134.5px,#efae1c 135.5px,#afc416 137.5px,#93c724 138.5px,#62c843 139.5px,#18c86f 140.5px,#00c286 141.5px,#00be98 142.5px,#00afd2 144.5px,#00a2e2 145.5px,#0f6df5 154.5px,#1367f5 173.5px,#097cf4 195.5px)"></i>
<i style="left:239px;top:281px;height:196px;background:linear-gradient(#fabe11 0.5px,#facc08 88.5px,#f8b01c 134.5px,#efae1c 135.5px,#aec417 137.5px,#95c724 138.5px,#66c840 139.5px,#21c86a 140.5px,#00c285 141.5px,#00be94 142.5px,#00b2cd 144.5px,#00a8de 145.5px,#0d72f5 154.5px,#116af5 174.5px,#0a78f5 195.5px)"></i>
<i style="left:240px;top:281px;height:196px;background:linear-gradient(#fabe11 0.5px,#fac90a 90.5px,#f8b11b 134.5px,#f5ac1e 135.5px,#b2c315 137.5px,#98c722 138.5px,#6dc83c 139.5px,#30c862 140.5px,#00c382 141.5px,#00bca9 143.5px,#00acd8 145.5px,#097bf4 153.5px,#106cf5 165.5px,#0a78f5 195.5px)"></i>
<i style="left:241px;top:281px;height:196px;background:linear-gradient(#fabe11 0.5px,#fac50c 95.5px,#f8b11b 134.5px,#f6ad1d 135.5px,#b6c214 137.5px,#9bc620 138.5px,#72c839 139.5px,#34c85f 140.5px,#07c47c 141.5px,#00bd9f 143.5px,#00a5df 146.5px,#0e71f5 158.5px,#0a78f5 195.5px)"></i>
<i style="left:242px;top:281px;height:196px;background:linear-gradient(#fabe11 0.5px,#fac010 99.5px,#f9b21a 130.5px,#f7af1c 135.5px,#e4b317 136.5px,#a3c51c 138.5px,#84c82d 139.5px,#12c773 141.5px,#00c286 142.5px,#00bbaa 144.5px,#00add6 146.5px,#038dee 153.5px,#0c73f5 160.5px,#0b76f5 195.5px)"></i>
<i style="left:253px;top:421px;height:56px;background:linear-gradient(#f8b11b 0.5px,#f2ad1d 4.5px,#cdbb14 8.5px,#a0c61e 10.5px,#80c830 11.5px,#17c870 13.5px,#02c380 14.5px,#00bab6 18.5px,#00a1e2 22.5px,#0e70f5 26.5px,#3640e5 31.5px,#3a3ade 47.5px,#3540e6 55.5px)"></i>
<i style="left:254px;top:421px;height:56px;background:linear-gradient(#f8b11b 0.5px,#f3ad1d 6.5px,#e3b317 8.5px,#afc417 10.5px,#99c621 11.5px,#12c773 14.5px,#00c384 15.5px,#00bbaa 18.5px,#00a5df 22.5px,#0b76f5 26.5px,#3145e9 31.5px,#3c38db 46.5px,#373ee4 55.5px)"></i>
<i style="left:255px;top:421px;height:56px;background:linear-gradient(#f8b01b 0.5px,#f0ae1c 7.5px,#d4b914 9.5px,#b3c314 10.5px,#8bc828 12.5px,#6ac83e 13.5px,#31c861 14.5px,#0ac57a 15.5px,#00bf92 17.5px,#00afd1 21.5px,#028fed 25.5px,#1c5cf3 30.5px,#3b39dd 42.5px,#373ee4 55.5px)"></i>
<i style="left:256px;top:422px;height:55px;background:linear-gradient(#fab319 0.5px,#f5ac1e 6.5px,#dab714 8.5px,#bfc014 9.5px,#8fc827 12.5px,#5bc848 13.5px,#1ac86e 14.5px,#03c47f 15.5px,#00bcaa 18.5px,#00b3cb 20.5px,#0095ea 25.5px,#116af5 30.5px,#393be0 40.5px,#373ee4 54.5px)"></i>
<i style="left:257px;top:424px;height:53px;background:linear-gradient(#fab915 0.5px,#edaf1b 5.5px,#aac419 9.5px,#9ec61f 10.5px,#84c82d 11.5px,#42c857 12.5px,#11c674 13.5px,#00c285 14.5px,#00bda0 16.5px,#00b6c4 18.5px,#0096e9 25.5px,#1662f4 32.5px,#383de3 38.5px,#373ee4 52.5px)"></i>
<i style="left:258px;top:425px;height:52px;background:linear-gradient(#fab717 0.5px,#f3ad1d 4.5px,#b0c416 8.5px,#8ec827 10.5px,#16c770 12.5px,#00c383 13.5px,#00be9a 15.5px,#00b9bc 17.5px,#00a2e2 24.5px,#0682f1 29.5px,#2e49eb 37.5px,#3047ea 51.5px)"></i>
<i style="left:259px;top:426px;height:51px;background:linear-gradient(#fab518 0.5px,#f6ad1d 3.5px,#c0bf14 6.5px,#9fc61f 8.5px,#80c830 9.5px,#3ec859 10.5px,#13c773 11.5px,#00c284 12.5px,#00be96 14.5px,#00bbb1 16.5px,#00a5df 24.5px,#0684f1 30.5px,#1860f4 36.5px,#1e5af2 50.5px)"></i>
<i style="left:260px;top:428px;height:49px;background:linear-gradient(#f8b11b 0.5px,#ebb01a 2.5px,#bcc014 4.5px,#96c723 6.5px,#70c83a 7.5px,#30c861 8.5px,#0fc676 9.5px,#00c286 10.5px,#00afd2 20.5px,#0094eb 29.5px,#0a78f5 34.5px,#0f6ef5 48.5px)"></i>
<i style="left:261px;top:429px;height:48px;background:linear-gradient(#f7af1c 0.5px,#efae1c 1.5px,#b9c114 3.5px,#8ec827 5.5px,#26c867 7.5px,#0bc579 8.5px,#00c189 10.5px,#00b3ca 19.5px,#0095ea 36.5px,#0586f0 47.5px)"></i>
<i style="left:262px;top:430px;height:47px;background:linear-gradient(#efae1c 0.5px,#b5c314 2.5px,#84c82d 4.5px,#1ec86b 6.5px,#08c57b 7.5px,#00c08e 10.5px,#00b5c7 18.5px,#009ee4 41.5px,#0099e8 46.5px)"></i>
<i style="left:263px;top:431px;height:46px;background:linear-gradient(#cfba14 0.5px,#9cc620 2.5px,#7fc831 3.5px,#1ac86d 5.5px,#07c47c 6.5px,#00bbac 13.5px,#00b2cc 18.5px,#00a3e1 45.5px)"></i>
<i style="left:264px;top:432px;height:45px;background:linear-gradient(#afc416 0.5px,#79c834 2.5px,#18c86f 4.5px,#05c47e 5.5px,#00b0d0 17.5px,#00acd8 44.5px)"></i>
<i style="left:265px;top:433px;height:44px;background:linear-gradient(#97c723 0.5px,#73c838 1.5px,#16c771 3.5px,#04c47f 4.5px,#00afd2 16.5px,#00b0d0 35.5px,#00b3cb 43.5px)"></i>
<i style="left:266px;top:434px;height:43px;background:linear-gradient(#2cc864 0.5px,#0ec677 1.5px,#00c384 2.5px,#00bab9 9.5px,#00add5 16.5px,#00b5c6 42.5px)"></i>
<i style="left:267px;top:435px;height:42px;background:linear-gradient(#00bf93 0.5px,#00b9bf 4.5px,#00aed4 16.5px,#00b4c8 41.5px)"></i>
<i style="left:268px;top:436px;height:41px;background:linear-gradient(#00b2cb 0.5px,#00b0d0 10.5px,#00b2cc 40.5px)"></i>
<i style="left:269px;top:436px;height:41px;background:linear-gradient(#00a0e3 0.5px,#00b5c6 28.5px,#00b1ce 40.5px)"></i>
<i style="left:270px;top:436px;height:41px;background:linear-gradient(#0191ec 0.5px,#00b1ce 17.5px,#00b5c6 32.5px,#00b1ce 40.5px)"></i>
<i style="left:271px;top:435px;height:42px;background:linear-gradient(#0489ef 0.5px,#00b0cf 18.5px,#00b7c2 33.5px,#00b3c9 41.5px)"></i>
<i style="left:272px;top:435px;height:42px;background:linear-gradient(#097cf4 0.5px,#00add5 16.5px,#00b9be 31.5px,#00b6c5 41.5px)"></i>
<i style="left:273px;top:435px;height:42px;background:linear-gradient(#0c75f5 0.5px,#00acd7 16.5px,#00bab9 31.5px,#00b8c0 41.5px)"></i>
<i style="left:274px;top:434px;height:43px;background:linear-gradient(#0e70f5 0.5px,#00abdb 17.5px,#00bab5 33.5px,#00bab4 42.5px)"></i>
<i style="left:275px;top:434px;height:43px;background:linear-gradient(#0d71f5 0.5px,#00aadc 18.5px,#00bbaf 33.5px,#00bda0 42.5px)"></i>
<i style="left:276px;top:433px;height:44px;background:linear-gradient(#0d72f5 0.5px,#009ae7 15.5px,#00bab3 31.5px,#00bf91 43.5px)"></i>
<i style="left:277px;top:432px;height:45px;background:linear-gradient(#0d72f5 0.5px,#038dee 14.5px,#00b3cb 26.5px,#00c287 44.5px)"></i>
<i style="left:278px;top:431px;height:46px;background:linear-gradient(#0c74f5 0.5px,#0192ec 16.5px,#00b2cb 27.5px,#02c380 44.5px,#05c47e 45.5px)"></i>
<i style="left:279px;top:429px;height:48px;background:linear-gradient(#0b75f5 0.5px,#00a4e0 22.5px,#00bbb2 36.5px,#00bf91 40.5px,#07c47c 45.5px,#10c676 47.5px)"></i>
<i style="left:280px;top:428px;height:49px;background:linear-gradient(#0a78f5 0.5px,#00add7 26.5px,#00bab4 37.5px,#00c08e 41.5px,#13c773 46.5px,#1cc86c 48.5px)"></i>
<i style="left:281px;top:427px;height:50px;background:linear-gradient(#097bf4 0.5px,#00b0d0 28.5px,#00bab6 38.5px,#00c18a 42.5px,#00c383 43.5px,#38c85d 49.5px)"></i>
<i style="left:282px;top:426px;height:51px;background:linear-gradient(#097af4 0.5px,#00aed4 28.5px,#00b9bc 38.5px,#00c08f 42.5px,#03c480 44.5px,#12c773 45.5px,#26c867 48.5px,#33c85f 50.5px)"></i>
<i style="left:283px;top:425px;height:52px;background:linear-gradient(#0b76f5 0.5px,#00abd9 29.5px,#00b8c1 37.5px,#00bbab 40.5px,#05c47e 45.5px,#15c771 51.5px)"></i>
<i style="left:284px;top:425px;height:52px;background:linear-gradient(#0c74f5 0.5px,#009ee4 24.5px,#00b2cc 35.5px,#00c18a 43.5px,#04c47f 47.5px,#07c47c 51.5px)"></i>
<i style="left:285px;top:425px;height:52px;background:linear-gradient(#1169f5 0.5px,#077ff2 18.5px,#00b0d0 34.5px,#00bbac 39.5px,#00c18a 45.5px,#00c18b 51.5px)"></i>
<i style="left:286px;top:424px;height:53px;background:linear-gradient(#2454f1 0.5px,#1662f4 15.5px,#0b77f5 23.5px,#00afd2 34.5px,#00bda0 46.5px,#00bca2 52.5px)"></i>
<i style="left:287px;top:424px;height:53px;background:linear-gradient(#3442e6 0.5px,#3145e9 10.5px,#1563f5 22.5px,#0191ec 29.5px,#00b5c6 36.5px,#00b7c2 50.5px,#00b6c3 52.5px)"></i>
<i style="left:288px;top:424px;height:53px;background:linear-gradient(#3b39dd 0.5px,#3a3bdf 9.5px,#2256f2 21.5px,#0488ef 28.5px,#00afd2 34.5px,#00b5c6 37.5px,#00b2cc 52.5px)"></i>
<i style="left:289px;top:422px;height:55px;background:linear-gradient(#3b39dc 0.5px,#363fe5 15.5px,#1c5cf3 23.5px,#0489ef 29.5px,#00aadc 34.5px,#00b5c7 38.5px,#00b6c4 54.5px)"></i>
<i style="left:290px;top:417px;height:60px;background:linear-gradient(#3d37d9 0.5px,#3442e7 23.5px,#0b76f5 31.5px,#00aed4 38.5px,#00b9bb 59.5px)"></i>
<i style="left:291px;top:398px;height:79px;background:linear-gradient(#3e36d8 0.5px,#3e36d8 8.5px,#3c38dc 22.5px,#2e49eb 42.5px,#0780f2 50.5px,#00b1cf 57.5px,#00b9bb 78.5px)"></i>
<i style="left:292px;top:385px;height:92px;background:linear-gradient(#4132d2 0.5px,#4131cf 20.5px,#4034d4 29.5px,#2652f0 50.5px,#1366f5 57.5px,#009ee4 66.5px,#00b4c8 72.5px,#00b7c3 84.5px,#00b6c4 91.5px)"></i>
<i style="left:293px;top:382px;height:95px;background:linear-gradient(#4130cd 0.5px,#422fc9 29.5px,#2f48ea 41.5px,#097cf4 61.5px,#00afd2 72.5px,#00b9ba 78.5px,#00b2cc 94.5px)"></i>
<i style="left:294px;top:378px;height:99px;background:linear-gradient(#4130cc 0.5px,#422cc3 13.5px,#422dc6 32.5px,#2f48eb 44.5px,#087ff3 63.5px,#00afd2 76.5px,#00bab7 82.5px,#00b0d0 98.5px)"></i>
<i style="left:295px;top:375px;height:102px;background:linear-gradient(#422fc9 0.5px,#422cc3 34.5px,#2f48eb 47.5px,#087ff3 66.5px,#00afd2 79.5px,#00bab7 85.5px,#00b0d0 101.5px)"></i>
<i style="left:296px;top:281px;height:196px;background:linear-gradient(#fae100 0.5px,#fae100 28.5px,#f8b11b 32.5px,#efae1c 33.5px,#c8bc14 34.5px,#a5c51c 35.5px,#80c830 36.5px,#3bc85b 37.5px,#0cc578 38.5px,#00c383 39.5px,#00bca6 49.5px,#00a8de 59.5px,#0f6ef5 71.5px,#383de3 83.5px,#422cc3 90.5px,#422dc6 129.5px,#2f48eb 141.5px,#087ff3 160.5px,#00afd2 173.5px,#00bab7 179.5px,#00b0d0 195.5px)"></i>
<i style="left:297px;top:281px;height:196px;background:linear-gradient(#fae100 0.5px,#fadc02 29.5px,#fab419 32.5px,#f8b01c 33.5px,#cfba14 35.5px,#aac419 36.5px,#96c723 37.5px,#5dc846 38.5px,#3ac85c 39.5px,#12c774 43.5px,#00c285 48.5px,#00bf93 51.5px,#00b8c0 55.5px,#00a2e2 57.5px,#1169f5 70.5px,#373ee4 82.5px,#422cc3 90.5px,#422ec8 129.5px,#3047ea 138.5px,#0d73f5 152.5px,#00abda 171.5px,#00b8c0 180.5px,#00b0d0 195.5px)"></i>
<i style="left:298px;top:338px;height:139px;background:linear-gradient(#0098e8 0.5px,#0b76f5 6.5px,#3541e6 23.5px,#422cc3 33.5px,#422ec8 72.5px,#2b4dee 81.5px,#087cf3 93.5px,#00abda 111.5px,#00b4c7 124.5px,#00b0d0 138.5px)"></i>
<i style="left:299px;top:338px;height:139px;background:linear-gradient(#0099e8 0.5px,#097cf4 1.5px,#3343e7 21.5px,#422cc3 34.5px,#422ec8 72.5px,#2d4aec 79.5px,#077ff2 90.5px,#009be6 98.5px,#00aed3 112.5px,#00b0d0 138.5px)"></i>
<i style="left:300px;top:338px;height:139px;background:linear-gradient(#009ae7 0.5px,#087df3 1.5px,#3146e9 20.5px,#422cc3 34.5px,#422cc4 72.5px,#383de2 77.5px,#1563f5 85.5px,#0683f1 89.5px,#009ae7 91.5px,#00b2cc 100.5px,#00b2cc 138.5px)"></i>
<i style="left:301px;top:338px;height:139px;background:linear-gradient(#009ce6 0.5px,#106cf5 10.5px,#393ce1 25.5px,#422cc3 33.5px,#422dc6 73.5px,#4132d2 76.5px,#3442e6 82.5px,#0b77f5 87.5px,#028eed 89.5px,#00abda 91.5px,#00bab9 95.5px,#00bf94 98.5px,#00be97 100.5px,#00bab6 103.5px,#00b1ce 125.5px,#00b5c5 138.5px)"></i>
<i style="left:302px;top:281px;height:196px;background:linear-gradient(#fae100 0.5px,#fad206 48.5px,#f8b01b 50.5px,#cdbb14 51.5px,#92c725 52.5px,#21c869 53.5px,#00c18a 54.5px,#00b2cc 56.5px,#00a8dd 57.5px,#106cf5 70.5px,#393ce1 83.5px,#422cc3 90.5px,#422cc3 138.5px,#2e49eb 141.5px,#0c73f5 144.5px,#00a8dd 147.5px,#00bca4 150.5px,#00c383 153.5px,#0fc676 154.5px,#2ec862 155.5px,#30c862 156.5px,#11c675 157.5px,#00c382 158.5px,#00bca2 164.5px,#00b0cf 179.5px,#00b9be 195.5px)"></i>
<i style="left:303px;top:281px;height:196px;background:linear-gradient(#fadd02 0.5px,#face08 48.5px,#f7ae1c 50.5px,#c3be14 51.5px,#89c82a 52.5px,#17c870 53.5px,#00c08c 54.5px,#00b1cf 56.5px,#00a6df 57.5px,#0f6ef5 69.5px,#383de2 83.5px,#422ec7 90.5px,#422ec8 125.5px,#422ec9 139.5px,#2a4dee 142.5px,#0a78f5 145.5px,#038cee 146.5px,#0190ec 147.5px,#00b1cf 150.5px,#00bf91 155.5px,#00be9a 157.5px,#00b8c1 160.5px,#00b2cc 182.5px,#00b9bc 195.5px)"></i>
<i style="left:304px;top:384px;height:93px;background:linear-gradient(#4130cd 0.5px,#422fca 22.5px,#3f34d6 28.5px,#4131cf 37.5px,#2652f0 40.5px,#0a78f5 43.5px,#0587f0 45.5px,#00afd3 51.5px,#00b6c4 53.5px,#00a7de 57.5px,#00b2cb 72.5px,#00b6c5 84.5px,#00b9ba 92.5px)"></i>
<i style="left:305px;top:402px;height:75px;background:linear-gradient(#412fcb 0.5px,#3e36d7 7.5px,#3e36d8 18.5px,#3f34d5 20.5px,#2157f2 23.5px,#1269f5 25.5px,#0099e8 35.5px,#0290ed 39.5px,#00add6 51.5px,#00bab9 74.5px)"></i>
<i style="left:306px;top:422px;height:55px;background:linear-gradient(#3e36d7 0.5px,#2058f2 4.5px,#0a77f5 20.5px,#00aed4 33.5px,#00bab7 54.5px)"></i>
<i style="left:307px;top:422px;height:55px;background:linear-gradient(#393be0 0.5px,#3c38db 1.5px,#294fef 5.5px,#0e70f5 20.5px,#00abda 32.5px,#00b9bb 54.5px)"></i>
<i style="left:308px;top:426px;height:51px;background:linear-gradient(#2f48ea 0.5px,#1268f5 14.5px,#00a5e0 26.5px,#00b5c5 41.5px,#00b6c4 50.5px)"></i>
<i style="left:309px;top:426px;height:51px;background:linear-gradient(#3442e7 0.5px,#1c5cf3 11.5px,#038cee 20.5px,#00a7de 27.5px,#00b5c6 41.5px,#00b2cc 50.5px)"></i>
<i style="left:310px;top:426px;height:51px;background:linear-gradient(#3343e8 0.5px,#1a5ef4 11.5px,#0094eb 21.5px,#00acd7 30.5px,#00b6c5 41.5px,#00b0d0 50.5px)"></i>
<i style="left:311px;top:426px;height:51px;background:linear-gradient(#2b4ced 0.5px,#0f6df5 14.5px,#00a3e1 25.5px,#00b8c1 41.5px,#00b0d0 50.5px)"></i>
<i style="left:312px;top:427px;height:50px;background:linear-gradient(#2157f2 0.5px,#0c73f5 14.5px,#00a8de 25.5px,#00b9be 41.5px,#00b0d0 49.5px)"></i>
<i style="left:313px;top:428px;height:49px;background:linear-gradient(#1662f4 0.5px,#0a79f5 14.5px,#00aed4 26.5px,#00b9ba 40.5px,#00b0d0 48.5px)"></i>
<i style="left:314px;top:429px;height:48px;background:linear-gradient(#1268f5 0.5px,#097af4 13.5px,#00b0d0 26.5px,#00b9bb 39.5px,#00b0d0 47.5px)"></i>
<i style="left:315px;top:430px;height:47px;background:linear-gradient(#116bf5 0.5px,#097bf4 12.5px,#00b0d1 26.5px,#00b9be 37.5px,#00b0d0 46.5px)"></i>
<i style="left:316px;top:431px;height:46px;background:linear-gradient(#0f6df5 0.5px,#0683f1 13.5px,#00b1ce 26.5px,#00b6c3 34.5px,#00b0d0 45.5px)"></i>
<i style="left:317px;top:433px;height:44px;background:linear-gradient(#0e71f5 0.5px,#038bee 13.5px,#00b2cb 25.5px,#00b5c7 33.5px,#00b0d0 43.5px)"></i>
<i style="left:318px;top:434px;height:43px;background:linear-gradient(#0c74f5 0.5px,#0190ec 13.5px,#00b2cc 24.5px,#00b4c7 33.5px,#00b3ca 42.5px)"></i>
<i style="left:319px;top:436px;height:41px;background:linear-gradient(#097af4 0.5px,#00aadc 18.5px,#00b6c5 26.5px,#00b9be 40.5px)"></i>
<i style="left:320px;top:438px;height:39px;background:linear-gradient(#0782f2 0.5px,#00aed4 18.5px,#00bbae 38.5px)"></i>
<i style="left:321px;top:441px;height:36px;background:linear-gradient(#038bee 0.5px,#00b5c6 20.5px,#00bd9e 35.5px)"></i>
<i style="left:322px;top:443px;height:34px;background:linear-gradient(#0093eb 0.5px,#00b9bc 21.5px,#00bf94 33.5px)"></i>
<i style="left:323px;top:443px;height:34px;background:linear-gradient(#0094eb 0.5px,#00b7c2 17.5px,#00c090 32.5px,#00c08e 33.5px)"></i>
<i style="left:324px;top:444px;height:33px;background:linear-gradient(#0097e9 0.5px,#00b6c4 14.5px,#00bf90 28.5px,#00c18a 32.5px)"></i>
<i style="left:325px;top:445px;height:32px;background:linear-gradient(#009ae7 0.5px,#00b8c0 13.5px,#00c08f 25.5px,#00c284 31.5px)"></i>
<i style="left:326px;top:445px;height:32px;background:linear-gradient(#009de5 0.5px,#00b9bd 13.5px,#00c08d 24.5px,#07c47c 31.5px)"></i>
<i style="left:327px;top:445px;height:32px;background:linear-gradient(#00a2e1 0.5px,#00bbb2 15.5px,#00c08f 22.5px,#04c47f 27.5px,#16c770 31.5px)"></i>
<i style="left:328px;top:445px;height:32px;background:linear-gradient(#00a7de 0.5px,#00bbb2 15.5px,#00c08f 21.5px,#08c57b 26.5px,#1dc86c 29.5px,#38c85d 31.5px)"></i>
<i style="left:329px;top:445px;height:32px;background:linear-gradient(#00abd9 0.5px,#00bbb2 15.5px,#00c18b 21.5px,#07c47d 24.5px,#1fc86b 27.5px,#56c84b 30.5px,#60c844 31.5px)"></i>
<i style="left:330px;top:445px;height:32px;background:linear-gradient(#00acd7 0.5px,#00bab8 14.5px,#00c18a 20.5px,#0fc676 23.5px,#26c867 25.5px,#8ec827 30.5px,#92c725 31.5px)"></i>
<i style="left:331px;top:445px;height:32px;background:linear-gradient(#00abd9 0.5px,#00bab5 14.5px,#00be94 17.5px,#00c384 20.5px,#17c86f 22.5px,#52c84d 24.5px,#96c723 27.5px,#b3c315 31.5px)"></i>
<i style="left:332px;top:444px;height:33px;background:linear-gradient(#00a8dd 0.5px,#00b9bc 14.5px,#00be95 17.5px,#00c383 20.5px,#1fc86a 22.5px,#8fc826 25.5px,#c3be14 29.5px,#deb515 32.5px)"></i>
<i style="left:333px;top:444px;height:33px;background:linear-gradient(#00a7de 0.5px,#00bab9 14.5px,#00bf91 17.5px,#00c384 19.5px,#1dc86c 21.5px,#77c836 23.5px,#a9c41a 25.5px,#e5b218 28.5px,#f6ae1d 31.5px,#f7af1c 32.5px)"></i>
<i style="left:334px;top:443px;height:34px;background:linear-gradient(#00a5df 0.5px,#00b8bf 14.5px,#00c189 19.5px,#01c382 20.5px,#28c866 22.5px,#4bc852 23.5px,#79c834 24.5px,#b9c114 27.5px,#e3b317 29.5px,#f6ae1d 32.5px,#f6ae1d 33.5px)"></i>
<i style="left:335px;top:442px;height:35px;background:linear-gradient(#00a4e0 0.5px,#00b8bf 15.5px,#00c18b 20.5px,#08c57b 22.5px,#27c866 24.5px,#54c84c 25.5px,#66c841 26.5px,#8fc826 27.5px,#bec014 31.5px,#d4b914 34.5px)"></i>
<i style="left:336px;top:441px;height:36px;background:linear-gradient(#00a3e1 0.5px,#00b3ca 14.5px,#00bab4 17.5px,#00c08d 21.5px,#03c480 23.5px,#14c772 25.5px,#30c861 26.5px,#3ac85c 27.5px,#5ac848 28.5px,#6ac83e 29.5px,#86c82c 30.5px,#a6c51b 35.5px)"></i>
<i style="left:337px;top:439px;height:38px;background:linear-gradient(#009fe3 0.5px,#00b2cb 16.5px,#00c189 24.5px,#15c771 29.5px,#72c839 37.5px)"></i>
<i style="left:338px;top:438px;height:39px;background:linear-gradient(#009de5 0.5px,#00b1ce 17.5px,#00c18b 26.5px,#0ac57a 33.5px,#1cc86c 38.5px)"></i>
<i style="left:339px;top:436px;height:41px;background:linear-gradient(#0098e8 0.5px,#00afd1 19.5px,#00bf93 30.5px,#00c284 40.5px)"></i>
<i style="left:340px;top:434px;height:43px;background:linear-gradient(#0192ec 0.5px,#00afd3 20.5px,#00bf94 42.5px)"></i>
<i style="left:341px;top:431px;height:46px;background:linear-gradient(#0488ef 0.5px,#00aed5 21.5px,#00bab5 42.5px,#00bbaf 45.5px)"></i>
<i style="left:342px;top:428px;height:49px;background:linear-gradient(#0a78f5 0.5px,#00a7de 24.5px,#00b2cd 42.5px,#00b7c2 48.5px)"></i>
<i style="left:343px;top:424px;height:53px;background:linear-gradient(#1662f4 0.5px,#0b76f5 11.5px,#0098e9 28.5px,#00add6 47.5px,#00b3c9 52.5px)"></i>
<i style="left:344px;top:421px;height:56px;background:linear-gradient(#2751f0 0.5px,#2256f1 3.5px,#2454f1 7.5px,#0a78f5 21.5px,#0095ea 43.5px,#00b0d1 55.5px)"></i>
<i style="left:345px;top:414px;height:63px;background:linear-gradient(#2553f1 0.5px,#2f47ea 5.5px,#363fe5 12.5px,#116bf5 27.5px,#0780f2 48.5px,#00acd8 62.5px)"></i>
<i style="left:346px;top:408px;height:69px;background:linear-gradient(#1366f5 0.5px,#3a3ade 17.5px,#1465f5 32.5px,#0a78f5 54.5px,#00aadc 68.5px)"></i>
<i style="left:347px;top:402px;height:75px;background:linear-gradient(#0c75f5 0.5px,#3442e7 23.5px,#1267f5 40.5px,#0a78f5 60.5px,#00aadc 74.5px)"></i>
<i style="left:348px;top:383px;height:94px;background:linear-gradient(#00add6 0.5px,#0b77f5 19.5px,#2a4eee 39.5px,#2256f1 48.5px,#116af5 62.5px,#087df3 82.5px,#00aadc 93.5px)"></i>
<i style="left:349px;top:333px;height:144px;background:linear-gradient(#0b76f5 0.5px,#2454f1 6.5px,#4132d2 17.5px,#2355f1 25.5px,#0488ef 35.5px,#00b1cd 45.5px,#00b3ca 48.5px,#0191ec 61.5px,#1860f4 80.5px,#2157f2 94.5px,#0f6ef5 116.5px,#087ff3 133.5px,#00aadc 143.5px)"></i>
<i style="left:350px;top:281px;height:196px;background:linear-gradient(#00bbb0 0.5px,#00c08e 2.5px,#00c383 3.5px,#15c771 4.5px,#8bc829 6.5px,#c6bd14 8.5px,#e9b119 9.5px,#f7b01c 10.5px,#faba15 29.5px,#f3ad1d 32.5px,#c5be14 34.5px,#8ac829 37.5px,#32c860 39.5px,#0fc676 40.5px,#00c284 41.5px,#00be97 43.5px,#00acd8 47.5px,#0c73f5 52.5px,#294fef 59.5px,#4131d1 69.5px,#2850f0 76.5px,#077ff2 85.5px,#00b1cf 96.5px,#00b7c2 99.5px,#0097e9 112.5px,#1563f5 129.5px,#1365f5 154.5px,#087cf4 185.5px,#00aadc 195.5px)"></i>
<i style="left:351px;top:281px;height:196px;background:linear-gradient(#00bbae 0.5px,#00c08d 2.5px,#01c382 3.5px,#17c86f 4.5px,#8ec827 6.5px,#cabc14 8.5px,#ecb01a 9.5px,#f9b31a 11.5px,#fab716 29.5px,#f1ae1c 32.5px,#adc417 35.5px,#7dc831 37.5px,#1ec86b 39.5px,#07c47c 40.5px,#00bca2 43.5px,#00a7de 47.5px,#0e70f5 52.5px,#2c4bec 59.5px,#4132d2 69.5px,#1d5bf3 78.5px,#028eed 87.5px,#00b2cc 96.5px,#00b8c1 99.5px,#009de5 113.5px,#1268f5 128.5px,#0f6ef5 165.5px,#0a79f4 185.5px,#00aadc 195.5px)"></i>
<i style="left:352px;top:281px;height:196px;background:linear-gradient(#00bca4 0.5px,#00c188 2.5px,#09c57b 3.5px,#2cc863 4.5px,#6bc83d 5.5px,#98c722 6.5px,#b3c315 7.5px,#f5ac1e 9.5px,#fab518 15.5px,#f7af1c 31.5px,#e9b119 33.5px,#d2b914 34.5px,#aec417 35.5px,#9cc620 36.5px,#11c675 39.5px,#00c383 40.5px,#00bd9b 42.5px,#00b0d0 45.5px,#087ff3 50.5px,#2751f0 56.5px,#3d37d9 66.5px,#3f35d6 69.5px,#1e5af3 78.5px,#028ded 86.5px,#00afd1 95.5px,#00b7c2 99.5px,#00b2cc 104.5px,#00b9bf 108.5px,#0095ea 118.5px,#106bf5 130.5px,#0c74f5 180.5px,#087cf3 186.5px,#00aadc 195.5px)"></i>
<i style="left:353px;top:281px;height:196px;background:linear-gradient(#00bd9a 0.5px,#00c383 2.5px,#12c773 3.5px,#44c856 4.5px,#82c82e 5.5px,#bfbf14 7.5px,#e1b416 8.5px,#f6ae1d 9.5px,#fab816 12.5px,#f3ad1d 32.5px,#f0ae1c 33.5px,#d9b714 34.5px,#b0c316 35.5px,#9bc621 36.5px,#32c860 38.5px,#07c47c 39.5px,#00bca8 42.5px,#00b0d0 44.5px,#0a77f5 50.5px,#3541e6 58.5px,#3d37d9 69.5px,#2a4eef 76.5px,#0682f1 84.5px,#00a6df 90.5px,#00b5c6 100.5px,#00b4c8 104.5px,#00bd9d 108.5px,#00a9dd 116.5px,#0e70f5 129.5px,#0d73f5 184.5px,#00aadc 195.5px)"></i>
<i style="left:354px;top:281px;height:196px;background:linear-gradient(#00bf93 0.5px,#07c47d 2.5px,#21c86a 3.5px,#91c725 5.5px,#cabc14 7.5px,#ebb01a 8.5px,#fab618 10.5px,#fab916 14.5px,#f4ac1e 33.5px,#dfb515 34.5px,#b4c314 35.5px,#98c722 36.5px,#1bc86d 38.5px,#00c382 39.5px,#00bab8 42.5px,#00aadc 44.5px,#0d72f5 50.5px,#3541e6 57.5px,#3c38db 61.5px,#3442e6 74.5px,#0c74f5 82.5px,#00a9dd 89.5px,#00b9bd 104.5px,#00c08c 108.5px,#00bd9a 111.5px,#00a8dd 118.5px,#0b75f5 129.5px,#0e71f5 184.5px,#00aadc 195.5px)"></i>
<i style="left:355px;top:281px;height:196px;background:linear-gradient(#00bf93 0.5px,#01c381 2.5px,#17c870 3.5px,#79c834 5.5px,#9dc61f 6.5px,#b1c316 7.5px,#ebb01a 9.5px,#f9b21a 11.5px,#efae1c 25.5px,#d4b914 33.5px,#bdc014 34.5px,#9bc621 35.5px,#6dc83c 36.5px,#23c868 37.5px,#06c47e 38.5px,#00be99 40.5px,#00abd9 43.5px,#0c74f5 49.5px,#373fe4 57.5px,#3d37d9 61.5px,#3145e9 74.5px,#0a77f5 82.5px,#00abd9 89.5px,#00bab3 104.5px,#00c08e 107.5px,#00c286 109.5px,#00bbb1 115.5px,#00abda 120.5px,#0682f2 130.5px,#0c75f5 180.5px,#087ef3 186.5px,#00abdb 195.5px)"></i>
<i style="left:356px;top:281px;height:196px;background:linear-gradient(#00be95 0.5px,#02c380 3.5px,#26c867 5.5px,#60c844 6.5px,#71c839 7.5px,#9ac621 8.5px,#a1c51d 9.5px,#bdc014 10.5px,#cbbc14 11.5px,#b9c114 21.5px,#95c724 33.5px,#78c835 34.5px,#37c85d 35.5px,#11c675 36.5px,#00c286 37.5px,#00bbb1 40.5px,#00a3e1 43.5px,#0f6ef5 49.5px,#3441e6 57.5px,#3d37da 64.5px,#2553f1 75.5px,#0586f0 83.5px,#00add5 89.5px,#00bbad 104.5px,#00be97 106.5px,#00c188 109.5px,#00bca7 116.5px,#00b6c3 120.5px,#0099e8 128.5px,#0682f1 180.5px,#038bee 186.5px,#00acd8 195.5px)"></i>
<i style="left:357px;top:281px;height:196px;background:linear-gradient(#00be95 0.5px,#02c381 5.5px,#14c772 6.5px,#16c771 7.5px,#3dc85a 8.5px,#47c855 9.5px,#6dc83c 10.5px,#7fc830 11.5px,#8bc828 18.5px,#22c869 33.5px,#00c384 35.5px,#00bca6 38.5px,#00a7de 42.5px,#0e70f5 48.5px,#373fe4 58.5px,#3d36d9 64.5px,#1d5bf3 75.5px,#028dee 83.5px,#00b1ce 90.5px,#00bab4 96.5px,#00bca7 104.5px,#00be99 105.5px,#00c08e 110.5px,#00bf94 116.5px,#00bbaf 121.5px,#00a7de 129.5px,#0093eb 182.5px,#00aed4 195.5px)"></i>
<i style="left:358px;top:281px;height:196px;background:linear-gradient(#00be95 0.5px,#05c47e 10.5px,#14c772 19.5px,#00c286 30.5px,#00c090 34.5px,#00acd9 40.5px,#0a78f5 46.5px,#3046ea 57.5px,#3d37d9 64.5px,#1563f5 75.5px,#0093eb 83.5px,#00b4c8 90.5px,#00bbaa 95.5px,#00c18a 118.5px,#00bda1 123.5px,#00b3c9 129.5px,#00add6 147.5px,#009ee4 181.5px,#00afd2 195.5px)"></i>
<i style="left:359px;top:281px;height:196px;background:linear-gradient(#00bd9c 0.5px,#00c08c 21.5px,#00bca5 33.5px,#00a3e1 40.5px,#0f6ef5 47.5px,#383de2 61.5px,#3c38db 64.5px,#1563f5 74.5px,#0095ea 83.5px,#00b3c9 90.5px,#00bbac 95.5px,#01c381 114.5px,#1bc86d 118.5px,#00c285 123.5px,#00bda0 133.5px,#00a8dd 164.5px,#00aadb 186.5px,#00b0d0 195.5px)"></i>
<i style="left:360px;top:281px;height:196px;background:linear-gradient(#00bcaa 0.5px,#00be98 19.5px,#00b4c7 34.5px,#009fe3 39.5px,#116af5 48.5px,#383de3 62.5px,#3046ea 67.5px,#097bf4 79.5px,#00acd8 89.5px,#00bbae 99.5px,#00bd9e 104.5px,#01c381 110.5px,#15c771 112.5px,#92c725 117.5px,#9ec61f 118.5px,#8ac82a 122.5px,#63c842 124.5px,#4dc851 126.5px,#28c866 128.5px,#00c384 136.5px,#00bab4 150.5px,#00a9dd 164.5px,#00aed4 191.5px,#00b0d0 195.5px)"></i>
<i style="left:361px;top:281px;height:196px;background:linear-gradient(#00bab7 0.5px,#00bab3 19.5px,#009de5 37.5px,#1169f5 49.5px,#373ee4 64.5px,#0d72f5 77.5px,#00a4e0 88.5px,#00bca6 103.5px,#00c382 108.5px,#1cc86c 110.5px,#8dc828 113.5px,#c2bf14 116.5px,#ebb01a 118.5px,#cbbc14 126.5px,#a4c51c 131.5px,#7ec831 134.5px,#27c866 138.5px,#0ec677 140.5px,#00c288 143.5px,#00bcaa 152.5px,#00aadc 164.5px,#00b0d0 195.5px)"></i>
<i style="left:362px;top:281px;height:196px;background:linear-gradient(#00b8c0 0.5px,#00b6c4 20.5px,#0098e8 37.5px,#1563f5 52.5px,#3441e6 64.5px,#0b76f5 78.5px,#00a1e2 88.5px,#00b9bc 100.5px,#00bca4 104.5px,#04c47f 108.5px,#13c773 109.5px,#5ac848 111.5px,#84c82d 112.5px,#c2be14 115.5px,#f0ae1c 117.5px,#f7af1c 119.5px,#f2ad1d 120.5px,#dcb614 121.5px,#bbc114 129.5px,#80c830 134.5px,#26c867 138.5px,#0dc677 140.5px,#00c288 143.5px,#00bbab 152.5px,#00a8dd 164.5px,#00b0d0 195.5px)"></i>
<i style="left:363px;top:319px;height:158px;background:linear-gradient(#0097e9 0.5px,#1563f5 15.5px,#3244e8 26.5px,#0a77f5 40.5px,#009ee4 49.5px,#00b0d1 58.5px,#00bbae 66.5px,#00c285 70.5px,#17c86f 72.5px,#8ec827 75.5px,#c8bc14 78.5px,#f5ac1e 80.5px,#f5ac1e 81.5px,#b3c314 84.5px,#91c726 86.5px,#46c855 88.5px,#24c868 92.5px,#0bc579 95.5px,#00c287 99.5px,#00bab8 112.5px,#00a4e0 126.5px,#00b0d0 157.5px)"></i>
<i style="left:364px;top:382px;height:95px;background:linear-gradient(#00b7c2 0.5px,#00bab7 3.5px,#00c18a 7.5px,#00c383 8.5px,#21c869 10.5px,#74c838 12.5px,#94c724 13.5px,#cdbb14 16.5px,#e4b317 17.5px,#e6b218 18.5px,#b8c214 20.5px,#95c724 22.5px,#4fc84f 24.5px,#28c866 25.5px,#02c381 27.5px,#00bca6 41.5px,#00a5e0 60.5px,#00a5df 74.5px,#00b0d0 94.5px)"></i>
<i style="left:365px;top:437px;height:40px;background:linear-gradient(#00add7 0.5px,#0096ea 13.5px,#00aed4 35.5px,#00b0d0 39.5px)"></i>
<i style="left:366px;top:437px;height:40px;background:linear-gradient(#00abda 0.5px,#038bee 13.5px,#00a8dd 27.5px,#00b0d0 39.5px)"></i>
<i style="left:367px;top:437px;height:40px;background:linear-gradient(#00aadc 0.5px,#0780f2 13.5px,#00a5e0 25.5px,#00b0d0 39.5px)"></i>
<i style="left:368px;top:437px;height:40px;background:linear-gradient(#00a9dd 0.5px,#087ef3 13.5px,#00a3e1 27.5px,#00afd2 39.5px)"></i>
<i style="left:369px;top:437px;height:40px;background:linear-gradient(#00aadc 0.5px,#038bee 14.5px,#00add6 39.5px)"></i>
<i style="left:370px;top:437px;height:40px;background:linear-gradient(#00aadc 0.5px,#048aef 23.5px,#00abda 39.5px)"></i>
<i style="left:371px;top:430px;height:47px;background:linear-gradient(#00b1ce 0.5px,#0684f1 30.5px,#00aadc 46.5px)"></i>
<i style="left:372px;top:432px;height:45px;background:linear-gradient(#00b0d0 0.5px,#0586f0 25.5px,#028ded 33.5px,#00aadc 44.5px)"></i>
<i style="left:373px;top:434px;height:43px;background:linear-gradient(#00afd1 0.5px,#0489ef 19.5px,#0487f0 30.5px,#00aadc 42.5px)"></i>
<i style="left:374px;top:435px;height:42px;background:linear-gradient(#00b0d0 0.5px,#0586f0 16.5px,#038bee 31.5px,#00aadc 41.5px)"></i>
<i style="left:375px;top:437px;height:40px;background:linear-gradient(#00aed4 0.5px,#038bee 14.5px,#0192ec 29.5px,#00acd8 39.5px)"></i>
<i style="left:376px;top:438px;height:39px;background:linear-gradient(#00aed4 0.5px,#009be7 14.5px,#00a5df 31.5px,#00b0d1 38.5px)"></i>
<i style="left:377px;top:438px;height:39px;background:linear-gradient(#00b0d0 0.5px,#00a7de 12.5px,#00aed4 31.5px,#00b3c9 38.5px)"></i>
<i style="left:378px;top:439px;height:38px;background:linear-gradient(#00b0d0 0.5px,#00b7c2 37.5px)"></i>
<i style="left:379px;top:440px;height:37px;background:linear-gradient(#00b3c9 0.5px,#00bab2 29.5px,#00bbb1 36.5px)"></i>
<i style="left:380px;top:440px;height:37px;background:linear-gradient(#00b9bd 0.5px,#00bd9a 29.5px,#00be97 36.5px)"></i>
<i style="left:381px;top:440px;height:37px;background:linear-gradient(#00bbad 0.5px,#00c08f 23.5px,#00c18a 36.5px)"></i>
<i style="left:382px;top:440px;height:37px;background:linear-gradient(#00bd9d 0.5px,#07c47d 32.5px,#0bc579 36.5px)"></i>
<i style="left:383px;top:440px;height:37px;background:linear-gradient(#00bf92 0.5px,#07c47c 19.5px,#26c867 34.5px,#2dc863 36.5px)"></i>
<i style="left:384px;top:440px;height:37px;background:linear-gradient(#00c18a 0.5px,#0ac57a 12.5px,#28c866 23.5px,#55c84c 36.5px)"></i>
<i style="left:385px;top:440px;height:37px;background:linear-gradient(#01c381 0.5px,#1fc86b 12.5px,#79c834 32.5px,#7dc831 36.5px)"></i>
<i style="left:386px;top:440px;height:37px;background:linear-gradient(#12c774 0.5px,#2fc862 7.5px,#8ac82a 24.5px,#97c722 36.5px)"></i>
<i style="left:387px;top:440px;height:37px;background:linear-gradient(#29c865 0.5px,#8dc827 15.5px,#afc416 34.5px,#b0c316 36.5px)"></i>
<i style="left:388px;top:440px;height:37px;background:linear-gradient(#41c858 0.5px,#90c826 10.5px,#c7bd14 28.5px,#dab714 36.5px)"></i>
<i style="left:389px;top:440px;height:37px;background:linear-gradient(#58c84a 0.5px,#8cc828 5.5px,#c1bf14 18.5px,#f6ad1d 33.5px,#f6ae1d 36.5px)"></i>
<i style="left:390px;top:440px;height:37px;background:linear-gradient(#6fc83b 0.5px,#94c724 4.5px,#ccbb14 14.5px,#f6ad1d 26.5px,#fab618 36.5px)"></i>
<i style="left:391px;top:440px;height:37px;background:linear-gradient(#75c837 0.5px,#92c725 3.5px,#cebb14 13.5px,#f5ac1e 22.5px,#fabc13 36.5px)"></i>
<i style="left:392px;top:440px;height:37px;background:linear-gradient(#69c83e 0.5px,#93c725 4.5px,#ceba14 14.5px,#f6ad1d 24.5px,#fab816 36.5px)"></i>
<i style="left:393px;top:440px;height:37px;background:linear-gradient(#5ec846 0.5px,#93c725 5.5px,#c8bd14 14.5px,#f6ad1d 26.5px,#fab519 36.5px)"></i>
<i style="left:394px;top:440px;height:37px;background:linear-gradient(#52c84d 0.5px,#8ec827 5.5px,#c7bd14 15.5px,#f6ad1d 27.5px,#f9b31a 36.5px)"></i>
<i style="left:395px;top:440px;height:37px;background:linear-gradient(#17c870 0.5px,#90c726 12.5px,#c9bc14 28.5px,#e6b218 36.5px)"></i>
<i style="left:396px;top:440px;height:37px;background:linear-gradient(#00c18b 0.5px,#06c47d 9.5px,#29c865 19.5px,#80c830 36.5px)"></i>
<i style="left:397px;top:437px;height:40px;background:linear-gradient(#00bca9 0.5px,#00c189 32.5px,#00c285 39.5px)"></i>
<i style="left:398px;top:434px;height:43px;background:linear-gradient(#00b1cf 0.5px,#00bbae 42.5px)"></i>
<i style="left:399px;top:432px;height:45px;background:linear-gradient(#009fe4 0.5px,#00add6 44.5px)"></i>
<i style="left:400px;top:430px;height:47px;background:linear-gradient(#0585f0 0.5px,#0684f1 26.5px,#0094eb 46.5px)"></i>
<i style="left:401px;top:428px;height:49px;background:linear-gradient(#0b76f5 0.5px,#0b76f5 32.5px,#0682f2 48.5px)"></i>
<i style="left:402px;top:426px;height:51px;background:linear-gradient(#0d71f5 0.5px,#0a79f5 41.5px,#087ff3 50.5px)"></i>
<i style="left:403px;top:420px;height:57px;background:linear-gradient(#1366f5 0.5px,#087cf4 56.5px)"></i>
<i style="left:404px;top:403px;height:74px;background:linear-gradient(#3145e8 0.5px,#1268f5 22.5px,#0a79f4 73.5px)"></i>
<i style="left:405px;top:394px;height:83px;background:linear-gradient(#4033d3 0.5px,#1f59f2 28.5px,#097bf4 82.5px)"></i>
<i style="left:406px;top:387px;height:90px;background:linear-gradient(#4130ce 0.5px,#422fc9 13.5px,#2751f0 47.5px,#0e70f5 73.5px,#0780f2 89.5px)"></i>
<i style="left:407px;top:382px;height:95px;background:linear-gradient(#393be0 0.5px,#4131d0 2.5px,#4033d4 24.5px,#3046ea 48.5px,#0d73f5 78.5px,#048aee 94.5px)"></i>
<i style="left:408px;top:379px;height:98px;background:linear-gradient(#2b4ced 0.5px,#3e35d7 4.5px,#3441e6 30.5px,#3244e8 45.5px,#097bf4 81.5px,#0097e9 97.5px)"></i>
<i style="left:409px;top:281px;height:196px;background:linear-gradient(#3342e7 0.5px,#0a77f5 20.5px,#00aed3 33.5px,#00c18a 40.5px,#00c383 41.5px,#1fc86b 43.5px,#8fc827 47.5px,#c2bf14 51.5px,#bfbf14 52.5px,#89c82a 55.5px,#18c86e 58.5px,#00c383 60.5px,#00bbb1 68.5px,#00add7 75.5px,#028fed 89.5px,#195ff4 95.5px,#3b3add 101.5px,#2454f1 124.5px,#2f48eb 141.5px,#097cf4 176.5px,#009fe4 192.5px,#00a2e1 195.5px)"></i>
<i style="left:410px;top:281px;height:196px;background:linear-gradient(#3540e6 0.5px,#097bf4 21.5px,#00afd3 33.5px,#00c08f 39.5px,#02c380 41.5px,#11c674 42.5px,#86c82c 46.5px,#bdc014 50.5px,#cebb14 51.5px,#cbbc14 52.5px,#93c724 55.5px,#50c84f 57.5px,#2ac865 58.5px,#04c47f 60.5px,#00bca4 67.5px,#00add5 75.5px,#028fed 89.5px,#1e5af3 95.5px,#383de2 99.5px,#1464f5 121.5px,#2652f0 135.5px,#2454f1 145.5px,#097af4 173.5px,#00a3e1 188.5px,#00acd8 195.5px)"></i>
<i style="left:411px;top:281px;height:196px;background:linear-gradient(#373ee4 0.5px,#0a78f5 21.5px,#00add5 33.5px,#00bf90 39.5px,#00c383 41.5px,#22c869 43.5px,#80c830 46.5px,#bbc114 50.5px,#cbbb14 51.5px,#cabc14 52.5px,#92c725 55.5px,#28c866 58.5px,#03c480 60.5px,#00bca5 67.5px,#00add6 72.5px,#028eed 84.5px,#0780f2 89.5px,#2b4cee 96.5px,#373de3 99.5px,#1269f5 122.5px,#2454f1 141.5px,#097af4 172.5px,#00a8dd 188.5px,#00b0d0 195.5px)"></i>
<i style="left:412px;top:281px;height:196px;background:linear-gradient(#373ee4 0.5px,#0a79f5 22.5px,#00afd2 34.5px,#00bf94 39.5px,#02c380 42.5px,#29c865 44.5px,#80c830 47.5px,#bac114 51.5px,#bbc114 52.5px,#81c82f 55.5px,#16c771 58.5px,#00c285 60.5px,#00bbac 67.5px,#00aed5 71.5px,#0683f1 76.5px,#195ff4 91.5px,#3a3bdf 99.5px,#1860f4 124.5px,#2355f1 141.5px,#097af4 172.5px,#00a8dd 188.5px,#00b0d0 195.5px)"></i>
<i style="left:413px;top:360px;height:117px;background:linear-gradient(#1860f4 0.5px,#3442e7 16.5px,#3a3ade 22.5px,#2355f1 49.5px,#1563f5 75.5px,#097af4 93.5px,#00a8dd 109.5px,#00b0d0 116.5px)"></i>
<i style="left:414px;top:361px;height:116px;background:linear-gradient(#2850f0 0.5px,#373ee4 4.5px,#3c38db 26.5px,#1e5af2 62.5px,#0b77f5 91.5px,#00a8dd 108.5px,#00b0d0 115.5px)"></i>
<i style="left:415px;top:378px;height:99px;background:linear-gradient(#4033d3 0.5px,#3a3ade 19.5px,#1761f4 57.5px,#0a78f5 75.5px,#00a6df 91.5px,#00afd2 98.5px)"></i>
<i style="left:416px;top:379px;height:98px;background:linear-gradient(#422fca 0.5px,#3a3ade 24.5px,#1169f5 68.5px,#009be6 87.5px,#00add6 97.5px)"></i>
<i style="left:417px;top:381px;height:96px;background:linear-gradient(#422cc4 0.5px,#4131d0 18.5px,#2454f1 54.5px,#0781f2 78.5px,#00abda 95.5px)"></i>
<i style="left:418px;top:382px;height:95px;background:linear-gradient(#422bc1 0.5px,#422cc3 4.5px,#2a4eef 49.5px,#097bf4 76.5px,#00aadc 94.5px)"></i>
<i style="left:419px;top:386px;height:91px;background:linear-gradient(#422dc5 0.5px,#4034d4 5.5px,#1f59f2 50.5px,#0e70f5 68.5px,#00a5e0 87.5px,#00aadc 90.5px)"></i>
<i style="left:420px;top:391px;height:86px;background:linear-gradient(#3e36d8 0.5px,#2058f2 42.5px,#0f6df5 62.5px,#00a2e1 81.5px,#00a9dd 85.5px)"></i>
<i style="left:421px;top:399px;height:78px;background:linear-gradient(#393be0 0.5px,#106df5 54.5px,#00a4e0 75.5px,#00a7de 77.5px)"></i>
<i style="left:422px;top:420px;height:57px;background:linear-gradient(#2d4aec 0.5px,#0f6ef5 34.5px,#00a6df 56.5px)"></i>
<i style="left:423px;top:429px;height:48px;background:linear-gradient(#2b4cee 0.5px,#0b76f5 29.5px,#00a4e0 47.5px)"></i>
<i style="left:424px;top:430px;height:47px;background:linear-gradient(#2c4bec 0.5px,#087ef3 32.5px,#00a2e1 46.5px)"></i>
<i style="left:425px;top:431px;height:46px;background:linear-gradient(#3244e8 0.5px,#116bf5 26.5px,#009de5 45.5px)"></i>
<i style="left:426px;top:432px;height:45px;background:linear-gradient(#3b3add 0.5px,#2850f0 21.5px,#0d73f5 32.5px,#0094eb 44.5px)"></i>
<i style="left:427px;top:433px;height:44px;background:linear-gradient(#4130cd 0.5px,#3b39dd 17.5px,#1365f5 29.5px,#0489ef 43.5px)"></i>
<i style="left:428px;top:434px;height:43px;background:linear-gradient(#4326b5 0.5px,#422bc0 16.5px,#3244e8 23.5px,#116af5 32.5px,#087ef3 42.5px)"></i>
<i style="left:429px;top:436px;height:41px;background:linear-gradient(#4422a9 0.5px,#4323ad 14.5px,#383de2 21.5px,#1367f5 31.5px,#0a77f5 40.5px)"></i>
<i style="left:430px;top:437px;height:40px;background:linear-gradient(#4422a9 0.5px,#4423ac 13.5px,#383de2 21.5px,#1365f5 31.5px,#0b76f5 39.5px)"></i>
<i style="left:431px;top:439px;height:38px;background:linear-gradient(#4422a9 0.5px,#4422aa 11.5px,#383de2 20.5px,#1464f5 30.5px,#0c74f5 37.5px)"></i>
<i style="left:432px;top:440px;height:37px;background:linear-gradient(#4422a9 0.5px,#4324af 12.5px,#422dc6 16.5px,#3145e9 22.5px,#106cf5 33.5px,#0d72f5 36.5px)"></i>
<i style="left:433px;top:442px;height:35px;background:linear-gradient(#4422a9 0.5px,#4325b2 13.5px,#383ce1 19.5px,#1464f5 29.5px,#0e71f5 34.5px)"></i>
<i style="left:434px;top:443px;height:34px;background:linear-gradient(#4422a9 0.5px,#4323ad 12.5px,#3541e6 20.5px,#106bf5 31.5px,#0e70f5 33.5px)"></i>
<i style="left:435px;top:444px;height:33px;background:linear-gradient(#4422a9 0.5px,#4423ac 11.5px,#383de3 19.5px,#1465f5 28.5px,#0e70f5 32.5px)"></i>
<i style="left:436px;top:445px;height:32px;background:linear-gradient(#4422a9 0.5px,#4422aa 10.5px,#422dc5 15.5px,#3244e8 20.5px,#0f6ef5 30.5px,#0e70f5 31.5px)"></i>
<i style="left:437px;top:446px;height:31px;background:linear-gradient(#4422a9 0.5px,#4324af 11.5px,#4229bc 14.5px,#3541e6 19.5px,#116af5 28.5px,#0e70f5 30.5px)"></i>
<i style="left:438px;top:447px;height:30px;background:linear-gradient(#4422a9 0.5px,#4323ad 12.5px,#373ee4 18.5px,#1366f5 26.5px,#0e70f5 29.5px)"></i>
<i style="left:439px;top:447px;height:30px;background:linear-gradient(#4423ab 0.5px,#4328b8 13.5px,#3a3bdf 17.5px,#1860f4 24.5px,#0c74f5 29.5px)"></i>
<i style="left:440px;top:447px;height:30px;background:linear-gradient(#4325b1 0.5px,#412fcc 13.5px,#3541e6 17.5px,#0e6ff5 26.5px,#087ef3 29.5px)"></i>
<i style="left:441px;top:446px;height:31px;background:linear-gradient(#4324af 0.5px,#393ce1 15.5px,#1366f5 24.5px,#0489ef 30.5px)"></i>
<i style="left:442px;top:446px;height:31px;background:linear-gradient(#4326b3 0.5px,#3a3bdf 11.5px,#116bf5 24.5px,#0094eb 30.5px)"></i>
<i style="left:443px;top:445px;height:32px;background:linear-gradient(#4325b1 0.5px,#383de3 10.5px,#0a77f5 26.5px,#009de5 31.5px)"></i>
<i style="left:444px;top:444px;height:33px;background:linear-gradient(#4323ae 0.5px,#373ee4 10.5px,#0d73f5 26.5px,#00a0e3 32.5px)"></i>
<i style="left:445px;top:443px;height:34px;background:linear-gradient(#4422ab 0.5px,#393ce0 10.5px,#1268f5 24.5px,#0682f1 29.5px,#009de5 33.5px)"></i>
<i style="left:446px;top:443px;height:34px;background:linear-gradient(#4324ae 0.5px,#393ce1 10.5px,#106bf5 25.5px,#009be6 33.5px)"></i>
<i style="left:447px;top:442px;height:35px;background:linear-gradient(#4423ac 0.5px,#383ce2 11.5px,#106bf5 26.5px,#0098e8 34.5px)"></i>
<i style="left:448px;top:442px;height:35px;background:linear-gradient(#4324af 0.5px,#383de2 11.5px,#0f6ef5 27.5px,#0095ea 34.5px)"></i>
<i style="left:449px;top:442px;height:35px;background:linear-gradient(#4325b0 0.5px,#383ce2 12.5px,#0e71f5 28.5px,#0191ec 34.5px)"></i>
<i style="left:450px;top:441px;height:36px;background:linear-gradient(#4422aa 0.5px,#373ee4 17.5px,#0b76f5 31.5px,#038cee 35.5px)"></i>
<i style="left:451px;top:441px;height:36px;background:linear-gradient(#4422a9 0.5px,#3a3ade 18.5px,#1465f5 28.5px,#0586f0 35.5px)"></i>
<i style="left:452px;top:440px;height:37px;background:linear-gradient(#4422a9 0.5px,#412fcb 18.5px,#2e49eb 24.5px,#0a78f5 34.5px,#0780f2 36.5px)"></i>
<i style="left:453px;top:439px;height:38px;background:linear-gradient(#4422a9 0.5px,#4328b8 19.5px,#373de3 24.5px,#106cf5 33.5px,#097bf4 37.5px)"></i>
<i style="left:454px;top:438px;height:39px;background:linear-gradient(#4422a9 0.5px,#4423ac 20.5px,#3b3add 25.5px,#1860f4 32.5px,#0b76f5 38.5px)"></i>
<i style="left:455px;top:437px;height:40px;background:linear-gradient(#4422a9 0.5px,#4422a9 21.5px,#393ce1 27.5px,#1464f5 35.5px,#0e70f5 39.5px)"></i>
<i style="left:456px;top:435px;height:42px;background:linear-gradient(#4422a9 0.5px,#4423ac 24.5px,#373ee3 30.5px,#1366f5 39.5px,#106cf5 41.5px)"></i>
<i style="left:457px;top:434px;height:43px;background:linear-gradient(#4422a9 0.5px,#4422a9 25.5px,#3a3bdf 31.5px,#1d5bf3 38.5px,#1366f5 42.5px)"></i>
<i style="left:458px;top:432px;height:45px;background:linear-gradient(#4422a9 0.5px,#4423ab 28.5px,#3d37da 33.5px,#1c5cf3 42.5px,#1662f4 44.5px)"></i>
<i style="left:459px;top:430px;height:47px;background:linear-gradient(#4422a9 0.5px,#4422a9 30.5px,#4132d2 35.5px,#2256f1 44.5px,#1c5cf3 46.5px)"></i>
<i style="left:460px;top:426px;height:51px;background:linear-gradient(#4422a9 0.5px,#4423ab 35.5px,#422bc1 40.5px,#373ee4 46.5px,#2058f2 50.5px)"></i>
<i style="left:461px;top:421px;height:56px;background:linear-gradient(#4422a9 0.5px,#4423ab 42.5px,#4327b6 48.5px,#373ee4 52.5px,#2652f1 55.5px)"></i>
<i style="left:462px;top:410px;height:67px;background:linear-gradient(#4422a9 0.5px,#4422a9 59.5px,#383de3 64.5px,#2f47ea 66.5px)"></i>
<i style="left:463px;top:392px;height:85px;background:linear-gradient(#4422ab 0.5px,#4422a9 77.5px,#4329bb 79.5px,#422cc4 81.5px,#3d37da 83.5px,#3d37da 84.5px)"></i>
<i style="left:464px;top:361px;height:116px;background:linear-gradient(#4422a9 0.5px,#4324af 112.5px,#4329bb 113.5px,#4329bb 115.5px)"></i>
<i style="left:465px;top:335px;height:142px;background:linear-gradient(#4422a9 0.5px,#4325b1 64.5px,#4329bb 106.5px,#4422a9 116.5px,#4422a9 141.5px)"></i>
<i style="left:466px;top:335px;height:142px;background:linear-gradient(#4422a9 0.5px,#4423ac 48.5px,#3c37da 85.5px,#3e36d8 106.5px,#422fca 109.5px,#4326b4 112.5px,#4422a9 118.5px,#4422a9 141.5px)"></i>
<i style="left:467px;top:335px;height:142px;background:linear-gradient(#4422a9 0.5px,#4323ad 47.5px,#3b39dd 70.5px,#2f48ea 95.5px,#3342e7 106.5px,#4033d4 110.5px,#4329bb 112.5px,#4324b0 114.5px,#4422a9 119.5px,#4422a9 141.5px)"></i>
<i style="left:468px;top:335px;height:142px;background:linear-gradient(#4422a9 0.5px,#4324ae 46.5px,#383de3 66.5px,#1e5af3 89.5px,#2058f2 105.5px,#3b39dc 110.5px,#4422a9 115.5px,#4422a9 141.5px)"></i>
<i style="left:469px;top:322px;height:155px;background:linear-gradient(#4422a9 0.5px,#4329bb 59.5px,#373de3 76.5px,#1860f4 103.5px,#1e5af2 118.5px,#3c38db 124.5px,#4328b9 128.5px,#4422a9 154.5px)"></i>
<i style="left:470px;top:326px;height:151px;background:linear-gradient(#4422a9 0.5px,#4326b3 24.5px,#373ee4 69.5px,#1f59f2 106.5px,#383de2 120.5px,#4422a9 150.5px)"></i>
<i style="left:471px;top:446px;height:31px;background:linear-gradient(#363fe5 0.5px,#4328b9 23.5px,#4422a9 30.5px)"></i>
<i style="left:472px;top:446px;height:31px;background:linear-gradient(#393be0 0.5px,#4422a9 30.5px)"></i>
<i style="left:473px;top:446px;height:31px;background:linear-gradient(#3d37da 0.5px,#4422a9 30.5px)"></i>
<i style="left:474px;top:446px;height:31px;background:linear-gradient(#4033d3 0.5px,#4422a9 30.5px)"></i>
<i style="left:475px;top:446px;height:31px;background:linear-gradient(#422ec9 0.5px,#4422a9 30.5px)"></i>
<i style="left:476px;top:446px;height:31px;background:linear-gradient(#422abe 0.5px,#4422a9 30.5px)"></i>
<i style="left:477px;top:395px;height:82px;background:linear-gradient(#4325b2 0.5px,#4326b4 52.5px,#4422a9 81.5px)"></i>
<i style="left:478px;top:395px;height:82px;background:linear-gradient(#4422a9 0.5px,#4422a9 81.5px)"></i>
<i style="left:479px;top:395px;height:82px;background:linear-gradient(#4422a9 0.5px,#4323ad 38.5px,#422ec8 50.5px,#4422a9 66.5px,#4422a9 81.5px)"></i>
<i style="left:480px;top:430px;height:47px;background:linear-gradient(#4422a9 0.5px,#3a3ade 14.5px,#4329bb 25.5px,#4422a9 31.5px,#4422a9 46.5px)"></i>
<i style="left:481px;top:430px;height:47px;background:linear-gradient(#4422aa 0.5px,#393ce1 10.5px,#2f47ea 15.5px,#422fca 24.5px,#4422a9 30.5px,#4422a9 46.5px)"></i>
<i style="left:482px;top:430px;height:47px;background:linear-gradient(#4422a9 0.5px,#3b3ade 9.5px,#2f48eb 15.5px,#412fcb 24.5px,#4422a9 30.5px,#4422a9 46.5px)"></i>
<i style="left:483px;top:430px;height:47px;background:linear-gradient(#4422a9 0.5px,#4324af 3.5px,#4033d4 9.5px,#393ce0 15.5px,#4327b7 26.5px,#4422a9 31.5px,#4422a9 46.5px)"></i>
<i style="left:484px;top:430px;height:47px;background:linear-gradient(#4422a9 0.5px,#4325b1 5.5px,#422dc4 9.5px,#4131d0 15.5px,#4422a9 31.5px,#4422a9 46.5px)"></i>
<i style="left:485px;top:438px;height:39px;background:linear-gradient(#4325b1 0.5px,#4325b1 13.5px,#4422a9 38.5px)"></i>
<i style="left:486px;top:439px;height:38px;background:linear-gradient(#4422a9 0.5px,#4422a9 37.5px)"></i>
<i style="left:487px;top:440px;height:37px;background:linear-gradient(#4422a9 0.5px,#4422a9 36.5px)"></i>
<i style="left:488px;top:442px;height:35px;background:linear-gradient(#4422a9 0.5px,#4422a9 34.5px)"></i>
<i style="left:489px;top:443px;height:34px;background:linear-gradient(#4422a9 0.5px,#4421a9 33.5px)"></i>
<i style="left:490px;top:447px;height:30px;background:linear-gradient(#4421a9 0.5px,#4423ac 26.5px,#4326b4 29.5px)"></i>
<i style="left:491px;top:447px;height:30px;background:linear-gradient(#4422a9 0.5px,#4422a9 23.5px,#422fc9 29.5px)"></i>
<i style="left:492px;top:447px;height:30px;background:linear-gradient(#4422a9 0.5px,#4422a9 23.5px,#3d37da 29.5px)"></i>
<i style="left:493px;top:447px;height:30px;background:linear-gradient(#4422a9 0.5px,#4422a9 23.5px,#4033d3 26.5px,#3540e6 29.5px)"></i>
<i style="left:494px;top:447px;height:30px;background:linear-gradient(#4422a9 0.5px,#4324af 23.5px,#373ee4 27.5px,#2c4bed 29.5px)"></i>
<i style="left:495px;top:447px;height:30px;background:linear-gradient(#4422a9 0.5px,#422bc1 23.5px,#3640e5 26.5px,#2454f1 29.5px)"></i>
<i style="left:496px;top:447px;height:30px;background:linear-gradient(#4422a9 0.5px,#4327b7 8.5px,#3e35d7 19.5px,#3c38db 23.5px,#1c5cf3 29.5px)"></i>
<i style="left:497px;top:451px;height:26px;background:linear-gradient(#4423ac 0.5px,#3d37da 9.5px,#2751f0 21.5px,#1464f5 25.5px)"></i>
<i style="left:498px;top:451px;height:26px;background:linear-gradient(#4323ad 0.5px,#3b39dc 7.5px,#2157f2 17.5px,#106cf5 25.5px)"></i>
<i style="left:499px;top:451px;height:26px;background:linear-gradient(#4323ad 0.5px,#383de2 7.5px,#1761f4 17.5px,#0e70f5 25.5px)"></i>
<i style="left:500px;top:451px;height:26px;background:linear-gradient(#4323ad 0.5px,#3a3ade 6.5px,#1860f4 15.5px,#0e70f5 25.5px)"></i>
<i style="left:501px;top:451px;height:26px;background:linear-gradient(#4323ad 0.5px,#393be0 6.5px,#1662f5 15.5px,#0e70f5 25.5px)"></i>
<i style="left:502px;top:451px;height:26px;background:linear-gradient(#4323ae 0.5px,#393ce1 6.5px,#1464f5 15.5px,#0e70f5 25.5px)"></i>
<i style="left:503px;top:451px;height:26px;background:linear-gradient(#4422a9 0.5px,#422abe 1.5px,#422abe 2.5px,#4132d2 3.5px,#4132d2 4.5px,#3a3bdf 5.5px,#2a4eef 10.5px,#1464f5 14.5px,#0e70f5 25.5px)"></i>
<i style="left:504px;top:451px;height:26px;background:linear-gradient(#4422a9 0.5px,#422abe 1.5px,#422abe 2.5px,#4132d2 3.5px,#4132d2 4.5px,#3a3bdf 5.5px,#2a4eef 10.5px,#1464f5 14.5px,#0e70f5 25.5px)"></i>
<svg width="514" height="550" viewBox="0 0 514 550">
<path d="M234.5 24.3 235.5 23.8 236.2 23.5 236.5 23.4 237.5 23.1 238.5 23.1 239.5 23.1 240.5 23.1 241.5 23.1 242.0 23.5 242.5 23.8 M347.5 65.7 348.0 65.5 348.5 65.3 349.5 65.0 350.5 64.7 351.0 64.5 351.5 64.3 352.5 64.0 353.5 63.7 354.0 63.5 354.5 63.3 355.5 63.0 356.5 62.7 357.0 62.5 357.5 62.3 358.5 62.0 359.5 61.7 360.0 61.5 360.5 61.4 361.5 61.0 362.5 60.7 363.1 60.5 363.5 60.4 364.5 59.8 364.7 59.5 365.4 58.5 365.5 58.4 M295.5 77.0 296.5 76.7 297.2 76.5 297.5 76.4 298.5 76.4 299.5 76.4 299.8 76.5 300.5 76.7 301.5 77.1 302.5 77.4 302.9 77.5 303.5 77.6 304.5 77.7 M72.5 79.2 73.5 78.5 73.5 78.5 74.5 77.8 74.9 77.5 75.5 77.1 76.3 76.5 76.5 76.3 77.5 75.6 M59.5 85.0 60.5 85.1 61.5 85.1 62.5 85.2 63.4 85.5 63.5 85.5 63.5 85.5 64.5 84.9 65.1 84.5 65.5 84.3 M223.1 101.9 223.5 102.3 224.4 101.5 224.5 101.3 225.0 100.5 225.5 99.8 225.7 99.5 226.3 98.5 226.5 98.3 227.0 97.5 227.4 96.5 227.5 96.3 227.8 95.5 228.3 94.5 228.5 93.9 228.6 93.5 228.8 92.5 228.5 91.8 227.5 91.7 M459.5 123.7 460.5 124.0 461.2 124.5 461.5 124.7 462.5 125.1 463.5 124.8 463.7 124.5 464.5 123.6 464.6 123.5 465.5 122.6 466.5 122.6 466.6 122.5 466.7 121.5 466.8 120.5 466.9 119.5 466.9 118.5 467.0 117.5 467.1 116.5 467.1 115.5 467.2 114.5 467.3 113.5 467.3 112.5 467.4 111.5 467.5 110.5 467.5 110.3 467.6 109.5 467.6 108.5 467.7 107.5 467.8 106.5 467.8 105.5 467.9 104.5 468.0 103.5 468.0 102.5 468.1 101.5 468.2 100.5 468.3 99.5 468.3 98.5 468.4 97.5 468.5 96.5 468.5 96.0 468.5 95.5 468.6 94.5 468.7 93.5 468.7 92.5 468.8 91.5 468.9 90.5 469.0 89.5 469.0 88.5 469.1 87.5 469.2 86.5 469.2 85.5 469.3 84.5 469.4 83.5 469.4 82.5 469.5 81.7 469.5 81.5 469.6 80.5 469.7 79.5 469.7 78.5 469.8 77.5 469.9 76.5 470.1 75.5 470.5 74.9 M398.1 109.9 398.3 110.5 398.5 111.0 398.7 111.5 399.0 112.5 399.5 113.4 399.5 113.5 399.8 114.5 400.0 115.5 400.2 116.5 400.4 117.5 400.5 117.7 401.3 118.5 401.5 118.7 402.3 119.5 402.5 119.6 403.4 120.5 403.5 120.6 404.5 121.5 404.5 121.5 405.5 122.5 405.5 122.5 406.5 123.5 406.5 123.5 407.5 124.5 407.5 124.5 408.5 125.5 408.5 125.5 409.5 126.5 409.5 126.5 410.5 127.5 410.5 127.5 411.5 128.5 411.5 128.5 412.5 129.5 412.5 129.6 412.9 129.5 413.5 129.4 414.5 129.1 415.1 128.5 415.5 128.3 416.3 127.5 416.5 127.4 417.5 127.0 418.0 126.5 418.5 126.3 419.3 125.5 419.5 125.4 420.5 125.0 421.0 124.5 421.5 124.3 422.3 124.3 M71.5 114.5 71.6 114.5 72.5 115.4 73.0 115.5 73.5 116.0 74.5 116.4 75.5 116.2 76.5 115.9 77.5 115.8 78.4 115.5 78.5 115.5 M254.5 115.5 254.5 115.5 255.2 116.5 255.5 116.9 256.0 117.5 256.5 118.1 257.5 117.9 258.5 117.6 258.8 117.5 259.5 117.3 260.5 116.9 261.5 116.6 261.7 116.5 262.5 116.2 263.5 115.8 264.0 115.5 264.5 115.3 265.5 114.8 266.2 115.5 266.5 115.9 267.0 116.5 267.5 117.2 267.7 117.5 268.4 118.5 268.5 118.7 269.2 119.5 269.5 119.8 270.5 120.5 270.5 120.5 271.4 121.5 271.5 121.7 272.4 122.5 272.5 122.6 273.5 123.4 273.6 123.5 274.5 123.9 275.5 124.1 276.5 124.2 277.5 124.2 278.5 124.1 279.5 123.8 280.4 123.5 280.5 123.5 281.5 123.0 282.1 122.5 282.5 122.2 283.5 121.9 284.5 121.6 284.8 121.5 285.5 121.3 M291.5 117.8 292.5 118.1 293.5 118.5 293.6 118.5 294.5 118.9 295.5 119.2 296.1 119.5 296.5 119.8 297.2 120.5 297.5 120.8 298.2 121.5 298.5 121.8 299.5 122.5 299.5 122.5 300.5 123.1 301.3 123.5 301.5 123.6 302.5 123.9 303.5 124.3 304.2 124.5 304.5 124.6 305.5 124.9 306.5 124.9 307.5 125.4 307.6 125.5 308.5 126.0 309.3 126.5 309.5 126.7 310.5 127.3 310.9 127.5 311.5 127.9 312.5 128.5 312.5 128.5 313.5 129.1 314.1 129.5 314.5 129.8 315.5 130.5 315.6 130.5 316.5 130.9 317.5 131.2 318.5 131.4 319.5 131.4 320.5 131.2 321.5 131.5 321.6 131.5 322.5 131.7 323.5 131.9 324.5 132.1 325.5 132.2 326.0 132.5 326.5 132.8 327.5 133.3 328.0 133.5 328.5 133.7 329.5 134.2 330.1 134.5 330.5 134.7 331.5 135.0 332.5 135.1 333.5 135.1 334.5 135.2 335.5 135.3 336.5 135.2 337.5 134.9 338.0 134.5 338.5 134.1 339.1 133.5 339.5 132.9 339.7 132.5 340.4 131.5 340.5 131.3 340.9 130.5 341.5 129.6 341.6 129.5 342.2 128.5 342.5 128.1 342.9 127.5 343.5 126.6 343.5 126.5 344.2 125.5 344.5 125.1 345.5 124.7 346.0 124.5 346.5 124.3 347.5 123.9 348.5 123.5 348.5 123.5 349.5 122.6 349.6 122.5 350.5 121.8 350.8 121.5 351.5 121.0 351.9 120.5 352.5 119.9 352.9 119.5 353.5 118.8 353.8 118.5 354.5 118.0 355.5 117.7 356.5 117.8 357.5 117.7 358.1 117.5 358.5 117.3 359.5 117.3 360.5 117.5 360.7 117.5 361.5 117.6 362.5 117.6 363.5 117.7 364.5 117.7 365.5 117.8 366.5 117.9 367.5 118.1 368.5 118.2 369.0 118.5 369.5 119.1 369.7 119.5 370.5 120.1 370.8 120.5 371.2 121.5 371.5 121.8 372.5 122.4 372.6 122.5 372.9 123.5 373.5 124.0 374.0 124.5 374.5 125.0 375.4 125.5 375.5 125.5 376.5 126.3 376.9 126.5 377.5 126.7 378.5 126.9 379.5 127.1 380.5 127.2 381.5 127.2 382.5 127.3 383.5 127.3 384.5 127.2 384.9 126.5 M113.5 120.6 114.5 120.5 115.0 120.5 115.5 120.4 116.5 120.2 117.5 120.0 118.5 120.0 119.5 120.0 120.5 120.3 121.5 120.4 121.8 120.5 122.5 120.9 123.5 121.1 123.7 121.5 124.5 122.3 124.7 122.5 125.5 123.3 M208.5 123.8 209.5 123.8 210.5 124.0 211.5 123.9 212.5 123.7 213.4 123.5 213.5 123.5 214.5 123.3 215.5 123.0 216.5 122.8 217.5 122.6 217.7 122.5 218.5 122.2 219.5 122.4 219.7 122.5 220.5 122.8 221.5 123.2 222.3 123.5 222.5 123.6 223.1 123.5 223.5 123.4 224.5 122.6 224.6 122.5 225.5 121.6 225.6 121.5 226.5 120.6 226.6 120.5 227.5 119.7 227.7 119.5 228.5 118.7 228.7 118.5 229.5 117.6 229.5 117.5 230.3 116.5 230.5 116.3 231.1 115.5 231.5 114.9 231.8 114.5 232.5 113.5 232.5 113.5 233.2 112.5 233.5 112.1 233.9 111.5 234.5 110.7 234.6 110.5 235.4 109.5 235.5 109.3 236.0 108.5 236.5 107.7 236.6 107.5 237.2 106.5 237.5 105.9 237.7 105.5 238.3 104.5 238.5 104.2 238.8 103.5 239.2 102.5 239.5 101.9 240.5 102.0 241.5 102.3 242.3 102.5 242.5 102.5 M149.5 129.7 150.5 130.2 151.5 130.1 152.5 129.8 152.7 129.5 153.2 128.5 153.5 127.9 153.8 127.5 154.5 127.0 155.5 126.8 156.5 126.5 156.5 126.5 157.5 126.3 158.5 126.1 159.5 125.9 M285.5 131.5 285.4 131.5 284.5 131.4 283.5 131.2 283.3 131.5 283.1 132.5 283.4 133.5 283.5 133.7 283.7 134.5 284.0 135.5 284.3 136.5 284.5 137.2 284.6 137.5 284.9 138.5 285.5 139.2 285.7 139.5 286.5 140.3 286.9 140.5 287.5 140.8 288.5 140.8 289.5 140.8 290.5 140.6 290.7 140.5 291.5 139.7 291.7 139.5 292.4 138.5 292.5 138.3 293.0 137.5 293.5 136.8 293.7 136.5 294.4 135.5 294.5 135.4 295.1 134.5 295.5 133.7 295.6 133.5 295.5 133.3 294.5 132.9 293.8 132.5 293.5 132.3 292.5 131.8 291.5 131.8 M459.5 143.3 459.8 143.5 460.5 143.9 461.3 144.5 461.5 144.6 462.5 145.3 462.9 145.5 463.5 145.9 464.4 146.5 464.5 146.6 465.0 146.5 465.5 146.4 466.5 146.3 467.5 145.5 467.5 145.5 468.3 144.5 468.5 144.3 469.2 143.5 469.5 143.1 470.0 142.5 470.5 141.9 470.8 141.5 471.5 140.7 M31.5 151.6 32.5 151.5 33.0 151.5 33.5 151.4 34.5 151.3 35.5 151.0 36.5 150.9 37.5 150.7 38.5 150.6 39.5 150.6 40.2 150.5 40.5 150.5 41.5 150.3 42.5 150.1 43.5 149.9 44.5 149.7 45.5 149.6 46.0 149.5 46.5 149.2 47.2 148.5 47.5 148.3 48.5 147.6 48.6 147.5 49.5 147.1 49.7 146.5 50.5 145.6 50.5 145.5 50.9 144.5 51.5 143.6 51.6 143.5 52.2 142.5 52.5 142.2 53.0 141.5 53.5 140.9 53.8 140.5 54.5 139.7 54.7 139.5 55.5 138.6 55.6 138.5 56.5 137.5 56.5 137.5 57.1 136.5 57.5 136.1 57.8 135.5 58.5 134.8 58.7 134.5 59.5 133.6 59.6 133.5 60.5 132.5 60.5 132.5 61.2 131.5 61.5 131.1 61.9 130.5 62.5 129.8 62.7 129.5 63.5 128.6 63.6 128.5 64.5 127.5 64.5 127.5 65.0 126.5 65.5 125.8 65.6 125.5 66.3 124.5 66.5 124.2 66.7 123.5 67.5 122.5 67.5 122.5 67.9 121.5 68.5 120.8 68.7 120.5 69.5 119.7 69.7 119.5 70.5 118.7 70.7 118.5 71.3 117.5 70.5 116.7 70.4 116.5 69.6 115.5 69.5 115.4 69.4 114.5 M112.5 130.5 112.6 130.5 113.2 131.5 113.5 131.8 113.6 132.5 113.7 133.5 114.5 133.8 115.5 134.3 115.9 134.5 116.5 134.7 117.5 135.1 118.5 135.5 118.5 135.5 119.5 135.7 120.5 135.9 121.5 136.1 122.5 136.4 122.9 136.5 123.5 136.7 124.5 137.4 124.9 137.5 125.5 138.1 M254.5 138.8 255.2 138.5 255.5 138.4 256.5 138.4 257.5 138.2 258.2 137.5 258.5 137.4 259.5 137.3 260.5 137.2 261.2 136.5 261.5 136.4 262.5 136.2 262.9 135.5 263.5 134.8 263.7 134.5 264.5 133.6 265.1 133.5 265.5 132.5 265.5 132.5 266.5 132.3 267.3 131.5 267.5 131.4 268.5 131.4 269.5 131.1 269.6 131.5 270.5 132.4 270.6 132.5 271.0 133.5 271.5 133.6 272.1 134.5 272.5 135.1 272.8 135.5 273.5 136.4 273.6 136.5 274.5 137.3 274.9 137.5 275.5 137.9 276.4 138.5 276.5 138.6 277.5 139.2 277.8 139.5 278.5 140.0 279.2 140.5 279.5 140.8 280.4 141.5 280.5 141.6 281.4 142.5 281.5 142.6 282.4 143.5 282.5 143.6 283.4 144.5 283.5 144.6 284.5 145.5 284.6 145.5 285.5 146.4 286.5 146.5 286.7 146.5 287.5 146.8 288.5 146.9 289.5 147.0 290.5 146.9 291.4 146.5 291.5 146.5 292.5 146.4 293.5 146.3 294.3 145.5 294.5 145.4 295.5 145.3 296.5 145.4 297.2 145.5 297.5 145.6 298.5 145.8 299.5 146.0 300.5 146.1 301.5 146.2 302.5 146.4 303.5 146.4 304.5 146.5 304.5 146.5 305.5 147.0 306.5 147.2 306.7 147.5 307.5 148.3 307.7 148.5 308.5 149.3 308.9 149.5 309.5 150.1 310.5 150.3 310.9 150.5 311.5 151.1 312.5 151.4 312.9 151.5 313.5 152.1 314.5 152.4 314.9 152.5 315.5 153.1 316.5 153.4 317.5 153.2 318.5 152.9 319.5 152.6 319.9 152.5 320.5 152.3 321.5 151.9 322.5 151.6 322.8 151.5 323.5 151.2 324.5 150.7 325.1 150.5 325.5 150.3 326.5 149.5 326.5 149.5 327.5 148.6 327.7 148.5 328.5 147.8 328.9 147.5 329.5 147.0 330.5 146.5 330.6 146.5 331.5 146.2 332.5 145.8 333.5 145.6 333.7 145.5 334.5 145.2 335.5 144.8 336.1 144.5 336.5 144.2 337.4 143.5 337.5 143.4 338.4 142.5 338.5 142.4 339.4 141.5 339.5 141.1 340.1 140.5 340.5 140.4 340.7 140.5 341.5 141.3 342.5 141.4 342.6 141.5 343.5 142.4 344.5 142.4 344.6 142.5 345.5 143.0 346.5 143.1 347.5 143.1 348.5 143.0 349.1 142.5 349.5 142.4 350.5 142.3 351.5 141.5 351.5 141.5 352.5 141.0 353.0 140.5 353.5 139.8 354.1 139.5 354.5 138.5 354.5 138.5 355.5 138.3 356.5 138.3 357.5 138.2 358.5 137.8 359.5 137.8 360.5 137.8 361.5 137.8 362.5 137.8 363.5 137.8 364.5 137.9 365.5 138.1 366.5 138.3 367.5 138.4 367.7 138.5 368.5 138.9 369.4 139.5 369.5 139.5 370.5 140.2 371.1 140.5 371.5 140.7 372.5 141.3 373.5 141.4 374.5 141.4 375.5 141.5 376.5 141.3 377.5 141.1 378.5 140.6 379.0 140.5 379.5 140.4 380.4 139.5 380.5 139.4 381.5 138.7 381.6 138.5 382.5 137.6 382.6 137.5 383.5 136.6 383.6 136.5 384.5 135.6 384.6 135.5 385.5 134.5 385.6 134.5 386.5 133.7 386.8 133.5 387.5 133.0 388.0 132.5 388.5 132.2 389.3 131.5 389.5 131.4 390.5 130.6 390.6 130.5 391.5 129.9 392.1 129.5 392.5 129.2 393.5 128.6 394.4 128.5 394.5 128.5 395.5 128.5 396.5 128.5 397.5 128.4 398.5 128.4 398.6 128.5 399.0 129.5 399.3 130.5 399.4 131.5 399.5 132.3 399.5 132.5 400.2 133.5 400.4 134.5 400.5 135.5 400.5 136.2 400.6 136.5 401.3 137.5 401.5 138.5 401.5 138.6 402.2 139.5 402.4 140.5 402.5 140.8 403.0 141.5 403.4 142.5 403.5 143.3 403.6 143.5 404.3 144.5 404.5 145.3 404.6 145.5 405.5 146.5 405.5 146.5 406.4 147.5 406.5 147.6 407.5 148.5 407.5 148.5 408.5 149.5 408.5 149.5 409.5 150.5 409.5 150.5 410.5 151.4 410.6 151.5 411.5 152.4 411.6 152.5 412.5 153.2 412.8 153.5 413.5 154.0 414.0 154.5 414.5 154.9 415.2 155.5 415.5 155.7 416.4 156.5 416.5 156.6 417.3 157.5 417.5 157.7 418.1 158.5 418.5 159.0 419.1 159.5 419.5 160.1 420.5 160.4 420.7 160.5 421.5 161.3 421.8 161.5 422.5 161.7 423.5 162.2 424.5 162.5 424.5 162.5 425.5 163.3 425.9 163.5 426.5 164.1 426.6 164.5 427.5 165.4 428.5 165.4 429.5 165.4 429.9 165.5 430.5 166.1 431.5 166.3 432.5 166.3 433.5 166.4 434.5 166.4 435.5 166.4 436.2 166.5 436.5 166.8 437.5 167.2 438.5 167.3 439.5 167.4 440.5 167.3 441.3 166.5 441.5 166.3 442.3 165.5 442.5 165.4 443.5 165.5 443.6 165.5 444.5 166.3 445.5 166.4 446.5 166.5 446.6 166.5 447.5 167.0 448.5 167.0 449.5 166.9 450.5 166.7 451.2 166.5 451.5 166.4 452.5 166.3 453.5 166.1 454.5 165.8 455.3 165.5 455.5 165.5 456.5 165.3 457.5 165.0 458.2 164.5 458.5 164.4 459.5 164.3 460.3 163.5 460.5 163.4 461.5 163.3 462.4 162.5 462.5 162.4 463.5 162.1 464.2 161.5 464.5 161.4 465.5 161.4 466.5 161.4 466.9 161.5 467.5 161.8 468.5 162.1 469.5 162.3 470.5 162.4 471.5 162.5 471.5 162.5 M149.5 142.0 150.5 141.7 150.9 141.5 151.5 141.4 152.5 141.4 153.5 141.4 154.5 141.3 155.5 141.2 156.5 140.5 156.5 140.5 157.5 140.4 158.5 140.4 159.5 140.3 M170.5 150.1 171.5 150.1 172.5 150.1 173.5 150.1 174.5 150.1 M478.5 164.3 479.5 164.2 480.4 163.5 480.5 163.5 481.5 163.1 482.3 162.5 482.5 162.4 483.5 161.5 483.5 161.5 484.5 161.3 485.5 161.4 486.5 161.4 486.8 161.5 487.5 162.0 488.5 162.2 489.5 162.3 490.5 162.4 490.8 162.5 491.5 162.9 492.5 163.0 493.5 163.2 494.5 163.2 495.5 163.2 496.5 163.2 497.5 163.2 498.5 163.2 499.5 163.2 500.5 163.2 501.5 163.2 502.5 163.2 503.5 163.1 504.4 162.5 504.4 161.5 504.5 160.5 504.5 159.5 504.5 158.5 504.5 157.5 504.5 157.5 M208.5 164.9 209.5 164.9 210.5 164.9 211.5 164.9 212.5 164.6 212.9 164.5 213.5 164.3 214.5 164.2 215.5 163.9 215.9 163.5 216.5 163.3 217.5 163.2 218.5 162.8 218.8 162.5 219.5 162.3 220.5 161.7 220.8 161.5 221.5 161.0 222.3 160.5 222.5 160.3 223.5 159.5 223.6 159.5 224.5 158.7 224.8 158.5 225.5 158.0 226.3 157.5 226.5 157.3 227.5 156.5 227.6 156.5 228.5 155.7 228.9 155.5 229.5 155.0 230.3 154.5 230.5 154.3 231.3 153.5 231.5 153.2 232.2 152.5 232.5 152.0 232.8 151.5 233.5 150.6 233.5 150.5 234.1 149.5 234.5 148.8 234.6 148.5 235.1 147.5 235.5 146.8 235.7 146.5 236.2 145.5 236.5 144.8 237.0 144.5 237.3 143.5 237.5 143.0 238.0 142.5 238.3 141.5 238.5 141.0 239.0 140.5 239.3 139.5 239.5 138.9 239.9 138.5 240.3 137.5 240.5 136.7 240.7 136.5 241.3 135.5 241.5 134.5 241.5 134.5 242.3 133.5 242.5 132.5 242.5 132.5 M31.5 165.8 32.5 165.5 32.6 165.5 33.5 165.3 34.5 165.1 35.5 164.9 36.5 164.7 37.4 164.5 37.5 164.5 38.5 164.3 39.5 164.0 40.5 163.8 41.5 163.6 42.2 163.5 42.5 163.4 43.5 163.2 44.5 162.9 45.5 162.7 46.0 162.5 46.5 162.3 47.5 161.7 48.2 161.5 48.5 161.3 49.3 160.5 49.5 160.3 49.8 159.5 50.5 158.6 50.6 158.5 51.1 157.5 51.5 156.8 51.7 156.5 52.2 155.5 52.5 154.9 52.8 154.5 53.3 153.5 53.5 153.0 53.8 152.5 54.3 151.5 54.5 151.0 54.8 150.5 55.3 149.5 55.5 148.9 55.8 148.5 56.4 147.5 56.5 147.3 57.2 146.5 57.5 146.0 57.9 145.5 58.5 144.7 58.6 144.5 59.4 143.5 59.5 143.3 60.0 142.5 60.5 141.7 60.6 141.5 61.3 140.5 61.5 140.1 61.9 139.5 62.4 138.5 62.5 138.4 63.1 137.5 63.5 136.8 63.7 136.5 64.3 135.5 64.5 135.2 65.0 134.5 65.4 133.5 65.5 133.4 66.2 132.5 66.5 131.8 66.7 131.5 67.3 130.5 67.5 130.2 68.0 129.5 68.5 128.5 68.5 128.4 69.5 127.5 69.5 127.3 70.3 126.5 70.5 125.5 70.5 125.4 71.4 124.5 71.5 124.4 72.5 124.3 73.3 123.5 73.5 123.5 74.5 123.4 75.5 123.4 75.6 123.5 76.5 124.4 76.6 124.5 77.5 125.4 77.6 125.5 78.5 126.4 M84.5 149.8 84.9 150.5 85.4 151.5 85.5 152.5 85.5 152.6 86.1 153.5 86.4 154.5 86.5 155.1 87.5 155.4 88.5 155.3 89.5 155.3 90.5 155.1 91.3 154.5 91.5 154.5 92.5 154.5 93.5 154.4 94.5 154.4 95.5 154.4 96.5 154.4 97.1 153.5 97.4 152.5 97.5 152.1 97.7 151.5 98.1 150.5 98.5 149.6 98.5 149.5 98.9 148.5 99.3 147.5 99.5 147.2 99.8 146.5 100.4 145.5 100.5 145.4 101.0 144.5 101.5 143.7 101.6 143.5 102.3 142.5 102.5 142.2 103.0 141.5 103.5 140.8 103.7 140.5 104.5 139.5 104.5 139.5 105.5 138.5 105.5 138.4 106.4 137.5 106.5 137.5 107.5 137.4 108.5 137.4 109.5 137.4 109.6 137.5 110.5 138.4 110.6 138.5 111.5 139.3 111.7 139.5 112.5 140.3 112.7 140.5 113.5 141.2 113.8 141.5 114.5 142.2 114.8 142.5 115.5 143.2 115.9 143.5 116.5 144.1 116.9 144.5 117.5 145.2 117.9 145.5 118.5 146.2 118.8 146.5 119.5 147.2 119.8 147.5 120.5 148.1 121.1 148.5 121.5 148.8 122.5 149.4 122.7 149.5 123.5 150.3 124.3 150.5 124.5 150.8 125.5 151.4 M254.5 162.3 255.3 161.5 255.5 161.3 256.3 160.5 256.5 160.2 257.2 159.5 257.5 159.2 258.2 158.5 258.5 158.2 259.2 157.5 259.5 157.1 260.1 156.5 260.5 156.1 260.6 155.5 261.4 154.5 261.5 154.2 262.2 153.5 262.4 152.5 262.4 151.5 262.5 151.3 263.3 150.5 263.4 149.5 263.4 148.5 263.5 148.2 264.2 147.5 264.4 146.5 264.4 145.5 264.5 144.5 264.5 144.0 265.0 143.5 265.4 142.5 265.4 141.5 265.5 140.5 265.5 140.4 265.6 140.5 265.6 141.5 265.7 142.5 266.4 143.5 266.5 143.6 266.6 144.5 266.6 145.5 266.9 146.5 267.5 147.1 267.6 147.5 267.7 148.5 268.5 149.3 268.6 149.5 268.7 150.5 269.0 151.5 269.5 152.0 269.6 152.5 269.8 153.5 270.5 154.2 270.8 154.5 271.5 155.2 272.5 155.4 272.7 155.5 273.5 156.3 274.5 156.4 274.7 156.5 275.5 157.3 276.5 157.4 276.7 157.5 277.5 158.3 278.5 158.4 278.6 158.5 279.5 159.3 280.5 159.4 280.6 159.5 281.5 160.2 282.5 160.4 282.7 160.5 283.5 161.0 284.5 161.4 285.5 161.4 286.5 161.4 287.5 161.5 287.8 161.5 288.5 162.0 289.5 162.2 290.5 162.3 291.5 162.3 292.5 162.4 293.5 162.3 294.3 161.5 294.5 161.4 295.5 161.4 295.7 161.5 296.5 162.3 296.8 162.5 297.5 163.1 298.5 163.4 298.6 163.5 299.5 164.0 300.5 164.4 300.8 164.5 301.5 164.8 302.5 165.2 303.1 165.5 303.5 165.7 304.5 166.4 304.7 166.5 305.5 167.0 306.2 167.5 306.5 167.7 307.5 168.3 307.9 168.5 308.5 168.9 309.5 169.3 310.2 169.5 310.5 169.6 311.5 169.8 312.5 170.0 313.5 169.9 314.0 169.5 314.5 169.4 315.5 169.4 316.5 169.2 317.5 168.5 317.5 168.5 318.5 168.4 319.5 168.3 320.4 167.5 320.5 167.4 321.4 166.5 321.5 166.4 322.4 165.5 322.5 165.4 323.4 164.5 323.5 164.4 324.4 163.5 324.5 163.4 325.3 162.5 325.5 162.3 326.1 161.5 326.5 161.1 327.0 160.5 327.5 159.9 327.8 159.5 328.5 158.7 328.7 158.5 329.5 157.5 329.5 157.5 330.4 156.5 330.5 156.4 331.4 155.5 331.5 155.4 332.4 154.5 332.5 154.4 333.4 153.5 333.5 153.4 334.4 152.5 334.5 152.4 335.4 151.5 335.5 151.4 336.5 151.4 337.5 151.5 337.7 151.5 338.5 152.0 339.5 152.1 340.5 152.4 340.9 152.5 341.5 152.7 342.5 153.3 342.7 153.5 343.5 154.2 343.8 154.5 344.5 155.2 345.0 155.5 345.5 156.0 346.5 156.3 347.5 156.4 348.5 156.4 349.5 156.4 350.5 156.5 350.6 156.5 351.5 157.1 352.5 156.9 353.5 156.6 353.7 156.5 354.5 156.1 355.5 155.5 355.5 155.5 356.5 155.2 357.2 154.5 357.5 154.3 358.3 153.5 358.5 153.4 359.4 152.5 359.5 152.4 360.5 152.4 360.7 152.5 361.5 153.3 361.7 153.5 362.5 154.3 362.9 154.5 363.5 155.1 364.5 155.5 364.6 155.5 365.5 156.1 366.3 156.5 366.5 156.6 367.5 157.1 368.4 157.5 368.5 157.5 368.8 157.5 369.5 157.4 370.5 157.4 371.5 157.3 372.5 157.3 373.5 157.0 374.0 156.5 374.5 156.4 375.5 156.4 376.5 156.3 377.5 156.3 378.5 155.6 378.6 155.5 379.5 154.6 379.6 154.5 380.4 153.5 380.5 153.4 380.9 152.5 381.5 151.9 381.7 151.5 382.5 150.6 382.6 150.5 383.4 149.5 383.5 149.4 384.0 148.5 384.5 147.9 384.7 147.5 385.5 146.6 385.6 146.5 386.1 145.5 386.5 145.0 386.7 144.5 387.5 143.6 387.6 143.5 388.1 142.5 388.5 142.0 388.7 141.5 389.5 140.6 389.5 140.5 389.9 139.5 390.5 138.7 390.6 138.5 390.9 137.5 391.5 136.7 391.6 136.5 391.9 135.5 392.5 134.7 392.5 134.5 392.9 133.5 393.5 132.6 393.6 132.5 394.5 131.5 394.5 131.4 395.5 131.5 395.6 131.5 396.5 132.0 397.3 132.5 397.5 132.9 397.6 133.5 397.8 134.5 398.1 135.5 398.3 136.5 398.5 137.3 398.5 137.5 398.7 138.5 398.9 139.5 399.2 140.5 399.4 141.5 399.5 142.0 399.6 142.5 399.9 143.5 400.1 144.5 400.3 145.5 400.5 146.5 400.5 146.7 400.7 147.5 401.0 148.5 401.2 149.5 401.4 150.5 401.5 151.5 401.5 151.6 401.8 152.5 402.1 153.5 402.3 154.5 402.4 155.5 402.5 156.5 402.5 156.5 402.9 157.5 403.2 158.5 403.4 159.5 403.5 160.5 403.5 161.4 403.5 161.5 404.1 162.5 404.3 163.5 404.4 164.5 404.5 165.5 404.5 165.7 404.7 166.5 405.5 167.5 405.5 167.5 406.4 168.5 406.5 168.7 407.3 169.5 407.5 169.7 408.3 170.5 408.5 170.8 409.2 171.5 409.5 171.8 410.4 172.5 410.5 172.6 411.5 173.4 411.7 173.5 412.5 173.7 413.5 174.1 414.5 174.5 414.5 174.5 415.5 174.8 416.5 175.1 417.5 175.4 418.5 175.4 419.5 175.4 419.7 175.5 420.5 176.3 420.7 176.5 421.5 177.3 421.7 177.5 422.5 177.9 423.1 178.5 423.5 179.0 424.0 179.5 424.5 180.0 425.0 180.5 425.5 181.3 425.7 181.5 426.4 182.5 426.5 182.6 426.7 183.5 427.0 184.5 427.5 185.5 427.5 185.5 427.8 186.5 428.1 187.5 428.5 188.5 428.5 188.5 428.8 189.5 429.1 190.5 429.5 191.5 429.5 191.5 430.5 192.5 431.5 192.5 432.5 192.5 433.5 192.5 434.5 192.5 435.5 192.5 436.5 192.4 437.5 192.4 438.5 192.4 439.5 192.4 440.0 191.5 440.4 190.5 440.5 190.2 440.8 189.5 441.2 188.5 441.5 187.7 441.6 187.5 442.2 186.5 442.5 185.5 442.5 185.4 443.5 184.9 443.9 184.5 444.5 184.1 445.4 183.5 445.5 183.4 446.5 182.7 446.9 182.5 447.5 182.1 448.4 181.5 448.5 181.4 449.5 181.1 450.5 180.7 451.2 180.5 451.5 180.4 452.5 180.0 453.5 179.8 454.2 179.5 454.5 179.4 454.9 179.5 455.5 179.7 456.5 180.0 457.5 180.3 458.1 180.5 458.5 180.6 459.5 180.9 460.5 181.4 460.7 181.5 461.5 181.8 462.4 182.5 462.5 182.5 463.5 183.2 464.0 183.5 464.5 183.8 465.5 184.5 465.5 184.5 466.5 185.1 467.5 185.5 467.6 185.5 468.5 185.7 469.5 186.0 470.5 186.2 471.5 186.4 472.4 186.5 472.5 186.5 473.5 186.6 474.5 186.6 475.5 186.7 476.5 186.8 477.5 186.8 478.5 187.0 479.5 187.2 480.5 187.4 481.5 187.4 482.5 187.5 483.5 187.5 484.5 187.5 485.5 187.5 486.5 187.5 487.5 187.5 488.5 187.5 489.5 187.5 490.5 187.5 491.5 187.5 492.5 187.5 493.5 187.5 494.5 187.5 495.5 187.4 496.5 187.2 497.3 186.5 497.5 186.4 498.5 185.8 499.2 185.5 499.5 185.3 500.5 184.7 501.0 184.5 501.5 184.2 502.5 183.7 502.9 183.5 503.5 183.2 504.3 182.5 504.4 181.5 504.5 180.5 504.5 179.5 504.5 178.5 504.5 177.5 504.5 176.5 504.5 175.5 504.5 174.5 504.5 173.5 504.5 173.5 M149.5 185.3 150.5 185.1 151.2 184.5 151.5 184.3 152.5 184.1 153.2 183.5 153.5 183.3 154.5 183.1 155.1 182.5 155.5 182.2 156.5 181.5 156.5 181.5 157.5 180.8 158.3 180.5 158.5 180.4 159.5 179.8 M134.6 187.4 135.0 187.5 135.5 187.6 136.1 187.5 136.5 187.5 137.5 187.4 138.5 187.3 139.5 187.2 140.5 186.6 141.5 186.5 M208.5 193.5 208.7 192.5 208.9 191.5 209.0 190.5 209.2 189.5 209.4 188.5 209.5 187.8 209.6 187.5 209.7 186.5 209.7 185.5 209.8 184.5 210.5 184.2 211.5 183.7 211.9 183.5 212.5 183.2 213.5 182.7 213.9 182.5 214.5 182.2 215.5 181.7 216.0 181.5 216.5 181.2 217.5 180.5 217.5 180.5 218.5 179.7 218.7 179.5 219.5 178.9 220.1 178.5 220.5 178.2 221.5 177.5 221.5 177.5 222.5 176.7 222.8 176.5 223.5 176.0 224.2 175.5 224.5 175.3 225.5 174.8 226.1 174.5 226.5 174.3 227.5 173.8 228.0 173.5 228.5 173.3 229.5 172.8 230.0 172.5 230.5 172.3 231.5 171.8 232.0 171.5 232.5 171.2 233.5 170.5 233.5 170.5 234.5 169.9 235.0 169.5 235.5 169.1 236.2 168.5 236.5 168.3 237.5 167.5 237.5 167.5 238.5 166.9 239.2 166.5 239.5 166.3 240.3 165.5 240.5 165.4 241.5 165.4 242.5 165.2 M31.5 193.7 31.6 193.5 31.9 192.5 32.2 191.5 32.5 190.7 32.6 190.5 32.9 189.5 33.3 188.5 33.5 187.8 33.7 187.5 34.4 186.5 34.4 185.5 34.5 185.1 35.1 184.5 35.4 183.5 35.5 183.3 36.4 182.5 36.5 182.4 37.5 182.3 38.5 181.5 38.5 181.5 39.5 181.3 40.5 180.7 40.6 180.5 41.5 180.0 41.9 179.5 42.5 178.8 42.8 178.5 43.5 177.6 43.6 177.5 44.3 176.5 44.5 176.2 45.0 175.5 45.5 174.8 45.7 174.5 46.4 173.5 46.5 173.4 47.1 172.5 47.5 172.0 47.9 171.5 48.5 170.8 48.9 170.5 49.5 170.0 50.1 169.5 50.5 169.2 51.4 168.5 51.5 168.4 52.5 167.6 52.6 167.5 53.5 166.7 53.7 166.5 54.5 165.5 54.5 165.4 55.4 164.5 55.5 164.4 56.4 163.5 56.5 163.4 57.4 162.5 57.5 162.4 58.4 161.5 58.5 161.4 59.5 161.3 60.3 160.5 60.5 160.4 61.4 159.5 61.5 159.4 62.0 158.5 62.5 157.6 62.6 157.5 63.0 156.5 63.5 155.6 63.5 155.5 63.8 154.5 64.3 153.5 64.5 153.0 64.6 152.5 65.0 151.5 65.5 150.5 65.5 150.4 65.8 149.5 66.2 148.5 66.5 147.7 66.6 147.5 66.9 146.5 67.4 145.5 67.5 145.4 68.0 144.5 68.5 143.6 68.6 143.5 69.4 142.5 69.5 142.3 70.3 141.5 70.4 140.5 70.5 140.4 71.4 139.5 71.5 139.4 72.5 139.1 73.1 138.5 73.5 138.4 73.6 138.5 74.5 139.4 74.6 139.5 75.2 140.5 75.5 140.8 76.5 141.4 76.6 141.5 77.5 142.4 77.7 142.5 78.5 142.8 M170.5 197.6 171.2 198.5 171.5 198.7 172.5 199.3 172.7 199.5 173.5 200.0 174.3 200.5 174.5 200.6 175.5 200.9 176.5 200.9 177.5 200.8 178.5 200.8 179.5 200.7 180.5 200.6 181.5 200.5 181.9 200.5 M183.6 200.4 184.5 200.3 185.5 200.0 186.5 200.0 187.5 199.9 188.5 199.8 189.5 199.8 190.5 199.6 191.2 199.5 191.5 199.4 192.5 198.9 193.5 198.6 194.4 198.5 194.5 198.5 195.5 198.1 196.5 197.8 197.5 197.6 197.8 197.5 198.5 197.3 199.5 196.9 200.5 196.8 201.5 196.8 202.5 196.7 203.5 196.7 204.5 196.7 205.5 196.7 206.5 196.7 206.8 196.5 207.5 195.5 207.5 195.5 207.9 194.5 208.5 193.5 M84.5 161.4 84.5 161.5 84.5 162.5 84.5 163.5 84.6 164.5 85.5 165.4 85.5 165.5 85.5 166.5 85.5 167.5 85.6 168.5 86.0 169.5 86.5 170.0 86.5 170.5 86.5 171.5 86.6 172.5 86.6 173.5 86.7 174.5 87.5 175.3 87.5 175.5 87.5 176.5 87.7 177.5 87.7 178.5 87.7 179.5 87.8 180.5 87.8 181.5 87.9 182.5 88.0 183.5 88.1 184.5 88.2 185.5 88.3 186.5 88.4 187.5 88.5 188.5 88.5 188.7 88.5 189.5 88.6 190.5 88.6 191.5 88.6 192.5 88.7 193.5 88.7 194.5 88.8 195.5 88.8 196.5 89.0 197.5 89.3 198.5 89.5 199.2 90.5 199.5 90.8 199.5 91.5 200.2 92.5 200.4 93.5 200.4 94.5 200.4 95.5 200.5 96.5 199.5 96.5 199.4 97.5 198.6 97.6 198.5 98.5 197.8 98.9 197.5 99.5 196.8 99.6 196.5 99.9 195.5 100.1 194.5 100.3 193.5 100.5 192.6 100.5 192.5 100.7 191.5 100.9 190.5 101.1 189.5 101.3 188.5 101.5 187.7 101.5 187.5 101.6 186.5 101.7 185.5 101.8 184.5 101.9 183.5 102.0 182.5 102.1 181.5 102.2 180.5 102.3 179.5 102.5 178.5 102.5 178.3 102.6 177.5 102.6 176.5 102.7 175.5 102.8 174.5 102.9 173.5 103.0 172.5 103.0 171.5 103.1 170.5 103.3 169.5 103.3 168.5 103.5 167.5 103.5 167.3 103.5 166.5 103.6 165.5 103.6 164.5 103.7 163.5 103.8 162.5 104.0 161.5 104.2 160.5 104.5 159.5 104.5 159.2 104.6 158.5 105.3 157.5 105.4 156.5 105.4 155.5 105.4 154.5 105.5 154.2 106.2 153.5 106.4 152.5 106.4 151.5 106.4 150.5 106.5 150.3 107.3 149.5 107.5 148.9 108.5 149.3 108.6 149.5 108.7 150.5 109.5 151.3 109.6 151.5 109.8 152.5 110.5 153.2 110.6 153.5 110.8 154.5 111.5 155.2 111.6 155.5 111.8 156.5 112.5 156.7 113.0 157.5 113.4 158.5 113.5 159.0 113.7 159.5 114.2 160.5 114.5 161.5 114.5 161.6 115.0 162.5 115.3 163.5 115.5 164.4 115.5 164.5 116.1 165.5 116.4 166.5 116.5 166.8 116.9 167.5 117.4 168.5 117.5 169.3 117.6 169.5 118.2 170.5 118.5 171.5 118.5 171.6 119.1 172.5 119.4 173.5 119.5 173.8 120.0 174.5 120.4 175.5 120.5 175.8 121.0 176.5 121.4 177.5 121.5 177.8 122.0 178.5 122.4 179.5 122.5 179.8 122.7 180.5 123.1 181.5 123.5 182.2 123.6 182.5 124.0 183.5 124.5 184.3 124.6 184.5 125.0 185.5 125.5 186.3 125.6 186.5 126.0 187.5 126.5 188.3 126.6 188.5 127.5 189.5 127.7 189.5 128.5 190.3 129.5 190.4 130.5 190.5 130.8 190.5 131.5 191.2 131.6 191.5 132.5 192.4 132.6 192.5 133.5 193.1 133.8 193.5 134.5 194.1 134.9 194.5 135.5 195.3 135.9 195.5 136.5 195.8 137.5 196.4 137.7 196.5 138.5 196.7 139.5 197.1 140.5 197.4 140.7 197.5 141.5 197.7 M254.5 189.0 255.0 188.5 255.5 188.2 256.2 187.5 256.5 187.3 257.3 186.5 257.5 186.4 258.5 185.9 258.9 185.5 259.5 185.1 260.1 184.5 260.5 184.2 261.3 183.5 261.5 183.3 262.5 182.8 262.8 182.5 263.3 181.5 263.4 180.5 263.4 179.5 263.5 178.9 263.8 178.5 264.3 177.5 264.3 176.5 264.4 175.5 264.4 174.5 264.4 173.5 264.4 172.5 264.5 171.7 264.7 171.5 265.2 170.5 265.3 169.5 265.4 168.5 265.4 167.5 265.4 166.5 265.5 165.5 265.5 165.3 266.3 164.5 266.4 163.5 266.5 163.3 267.3 162.5 267.4 161.5 267.5 161.4 267.5 161.5 267.6 162.5 267.6 163.5 268.5 164.4 268.5 164.5 268.6 165.5 268.6 166.5 269.5 167.4 269.6 167.5 269.7 168.5 270.5 169.3 271.5 169.4 272.5 169.4 272.7 169.5 273.5 170.3 274.5 170.4 275.5 170.5 275.5 170.5 276.5 171.4 277.5 171.4 277.6 171.5 278.5 172.4 278.6 172.5 279.5 173.4 279.6 173.5 280.5 174.4 280.7 174.5 281.5 175.2 281.9 175.5 282.5 175.7 283.5 176.2 284.5 176.4 285.5 176.4 286.5 176.4 287.5 176.4 288.5 176.4 289.5 175.5 289.5 175.5 289.7 175.5 290.5 176.1 291.5 176.3 292.5 176.3 292.9 176.5 293.5 176.7 294.5 177.1 295.2 177.5 295.5 177.7 296.5 178.4 296.6 178.5 297.5 179.1 298.0 179.5 298.5 179.9 299.3 180.5 299.5 180.6 300.5 181.4 300.7 181.5 301.5 182.0 302.2 182.5 302.5 182.7 303.5 183.3 303.8 183.5 304.5 184.0 305.3 184.5 305.5 184.6 306.5 185.4 306.7 185.5 307.5 186.3 308.5 186.3 309.5 186.2 310.5 185.9 310.9 185.5 311.5 185.4 312.5 185.4 313.5 185.4 314.5 185.3 315.5 185.2 316.5 184.9 316.9 184.5 317.5 184.4 318.5 184.4 319.5 184.4 320.5 184.3 321.5 184.2 322.5 184.0 323.0 183.5 323.5 183.4 324.5 182.7 324.6 182.5 324.8 181.5 325.1 180.5 325.5 179.5 325.5 179.4 325.8 178.5 326.4 177.5 326.5 177.3 327.1 176.5 327.5 176.1 328.0 175.5 328.5 174.9 328.8 174.5 329.5 173.7 329.7 173.5 330.5 172.5 330.5 172.4 331.1 171.5 331.5 171.0 331.8 170.5 332.5 169.5 332.5 169.5 333.4 168.5 333.5 168.3 334.3 167.5 334.5 167.2 335.2 166.5 335.5 166.2 336.2 165.5 336.5 165.1 337.1 164.5 337.5 164.1 338.1 163.5 338.5 163.4 338.6 163.5 339.5 164.4 339.6 164.5 340.5 165.4 340.6 165.5 341.5 166.4 341.6 166.5 342.5 167.4 342.6 167.5 343.5 168.4 343.6 168.5 344.5 169.4 344.6 169.5 345.5 170.4 345.6 170.5 346.5 171.3 346.9 171.5 347.5 171.8 348.5 172.2 349.5 172.3 350.5 172.3 351.5 172.3 352.5 172.3 353.5 172.0 354.5 171.5 354.7 171.5 355.5 171.4 356.5 171.2 357.2 170.5 357.5 170.4 358.5 170.2 359.2 169.5 359.5 169.4 360.5 169.3 361.3 168.5 361.5 168.4 362.5 168.4 362.6 168.5 363.5 169.4 363.6 169.5 363.8 170.5 364.5 171.2 365.5 171.4 366.5 171.4 367.5 171.4 368.5 171.4 369.5 171.3 370.5 171.0 371.0 170.5 371.5 170.4 372.5 170.4 373.5 170.4 374.5 170.4 375.5 170.3 376.5 170.2 377.5 169.5 377.5 169.5 378.5 169.4 379.5 168.9 379.6 168.5 379.8 167.5 380.1 166.5 380.4 165.5 380.5 165.1 380.7 164.5 381.0 163.5 381.5 162.5 381.5 162.5 381.9 161.5 382.3 160.5 382.5 160.0 382.7 159.5 383.1 158.5 383.5 157.5 383.5 157.5 383.9 156.5 384.3 155.5 384.5 155.0 384.7 154.5 385.3 153.5 385.5 153.0 385.8 152.5 386.3 151.5 386.5 151.1 386.8 150.5 387.3 149.5 387.5 149.1 387.8 148.5 388.3 147.5 388.5 147.1 388.8 146.5 389.3 145.5 389.5 145.1 389.8 144.5 390.3 143.5 390.5 143.1 390.8 142.5 391.3 141.5 391.5 141.1 391.8 140.5 392.3 139.5 392.5 139.1 393.5 138.5 393.5 137.5 393.5 136.5 393.5 135.5 393.5 135.5 393.7 135.5 394.5 136.3 394.6 136.5 395.5 137.4 395.5 137.5 395.5 138.5 396.2 139.5 396.3 140.5 396.5 141.5 396.5 141.8 396.7 142.5 397.1 143.5 397.3 144.5 397.4 145.5 397.4 146.5 397.5 147.5 397.5 147.5 398.2 148.5 398.3 149.5 398.4 150.5 398.4 151.5 398.5 152.5 398.5 152.6 399.1 153.5 399.3 154.5 399.4 155.5 399.5 156.3 399.6 156.5 400.1 157.5 400.3 158.5 400.5 159.5 400.5 159.7 400.8 160.5 401.1 161.5 401.4 162.5 401.5 163.3 401.6 163.5 401.9 164.5 402.2 165.5 402.4 166.5 402.5 166.8 402.7 167.5 403.1 168.5 403.3 169.5 403.5 170.2 403.6 170.5 404.0 171.5 404.3 172.5 404.5 173.5 404.5 173.6 404.9 174.5 405.2 175.5 405.4 176.5 405.5 177.0 405.7 177.5 406.1 178.5 406.4 179.5 406.5 180.5 406.5 180.5 407.0 181.5 407.4 182.5 407.5 182.8 408.0 183.5 408.4 184.5 408.5 184.8 409.0 185.5 409.4 186.5 409.5 186.8 410.0 187.5 410.4 188.5 410.5 188.7 411.1 189.5 411.5 190.1 411.9 190.5 412.5 191.2 412.8 191.5 413.5 192.2 413.8 192.5 414.5 193.2 414.8 193.5 415.5 194.2 416.5 194.4 416.8 194.5 417.5 195.2 418.5 195.4 419.5 195.4 419.6 195.5 420.5 196.4 420.6 196.5 421.5 197.4 421.6 197.5 422.5 198.2 422.8 198.5 423.5 199.2 423.8 199.5 424.5 200.3 424.6 200.5 425.2 201.5 425.5 201.9 425.9 202.5 426.5 203.4 426.6 203.5 427.2 204.5 427.5 205.0 427.8 205.5 428.5 206.4 428.5 206.5 429.2 207.5 429.5 207.9 430.0 208.5 M149.5 200.7 150.5 200.6 150.8 200.5 151.5 200.4 152.5 200.2 153.5 199.9 154.5 199.5 154.5 199.5 155.5 199.1 156.5 198.6 156.7 198.5 157.5 198.1 158.5 197.5 158.6 197.5 159.5 197.1 M31.9 208.5 31.9 207.5 32.1 206.5 32.3 205.5 32.5 205.0 32.8 204.5 33.5 203.7 33.6 203.5 34.5 202.5 34.5 202.5 35.4 201.5 35.5 201.3 36.2 200.5 36.5 200.2 37.1 199.5 37.5 199.0 37.9 198.5 38.5 197.8 38.7 197.5 39.5 196.6 39.6 196.5 40.5 195.5 40.5 195.4 41.3 194.5 41.5 194.2 42.1 193.5 42.5 193.0 43.0 192.5 43.5 191.9 43.9 191.5 44.5 190.9 44.9 190.5 45.5 189.9 45.9 189.5 46.5 188.9 46.9 188.5 47.5 187.9 47.9 187.5 48.5 186.9 48.9 186.5 49.5 185.9 49.8 185.5 50.5 184.8 50.8 184.5 51.5 183.8 51.8 183.5 52.5 182.8 52.8 182.5 53.4 181.5 53.5 181.3 53.8 180.5 54.4 179.5 54.5 178.5 54.5 178.4 55.3 177.5 55.4 176.5 55.5 175.5 55.5 175.4 56.4 174.5 56.4 173.5 56.5 173.4 57.4 172.5 57.5 172.4 58.5 171.7 58.7 171.5 59.5 171.4 60.5 171.3 61.3 170.5 61.5 170.4 62.5 170.4 63.4 169.5 63.5 169.4 64.4 168.5 64.5 167.8 64.8 167.5 65.4 166.5 65.5 165.5 65.5 165.4 66.4 164.5 66.4 163.5 66.5 163.3 67.3 162.5 67.4 161.5 67.5 160.7 67.7 160.5 68.4 159.5 68.5 158.5 68.5 158.5 69.4 157.5 69.5 156.5 69.5 156.5 70.4 155.5 70.5 154.5 70.5 154.4 71.4 153.5 71.5 153.4 72.4 152.5 72.5 152.3 73.3 151.5 73.5 151.3 73.8 151.5 74.5 152.2 75.5 152.4 76.5 152.2 77.2 151.5 77.5 151.4 78.5 151.4 M204.3 208.5 204.5 208.4 205.5 207.7 205.7 207.5 206.5 207.3 207.3 206.5 207.5 206.4 208.4 205.5 208.5 205.4 209.5 204.5 209.5 204.5 210.5 203.5 210.5 203.5 211.5 202.5 211.5 202.5 212.5 201.5 212.5 201.5 213.5 200.5 213.5 200.5 214.5 199.5 214.5 199.5 215.5 198.5 215.5 198.5 216.5 197.5 216.5 197.4 217.1 196.5 217.5 196.0 217.9 195.5 218.5 194.6 218.6 194.5 219.4 193.5 219.5 193.4 220.1 192.5 220.5 192.0 221.3 191.5 221.5 191.2 222.2 190.5 222.5 190.0 223.5 190.3 224.5 190.4 225.2 190.5 225.5 190.5 226.5 190.7 227.5 191.1 228.5 191.5 228.5 191.5 229.5 192.5 229.5 192.5 230.5 193.5 230.5 193.5 231.5 194.3 232.5 194.4 232.9 194.5 233.5 195.1 234.5 195.3 235.3 195.5 235.5 195.7 236.5 196.3 237.5 196.4 237.9 196.5 238.5 197.1 239.5 197.3 240.2 197.5 240.5 197.5 241.5 197.6 242.5 197.6 M258.6 208.5 259.5 207.5 259.5 207.5 260.4 206.5 260.5 206.4 261.3 205.5 261.5 205.0 261.7 204.5 262.1 203.5 262.2 202.5 262.3 201.5 261.5 200.5 261.2 200.5 260.5 200.4 259.5 200.3 258.5 200.2 257.5 200.1 256.5 200.0 255.5 199.9 254.5 199.7 M440.1 208.5 440.5 208.3 440.9 207.5 441.4 206.5 441.5 206.4 441.9 205.5 442.3 204.5 442.5 204.1 442.8 203.5 443.2 202.5 443.5 201.8 443.6 201.5 444.1 200.5 444.5 199.7 444.7 199.5 445.5 198.7 445.7 198.5 446.5 197.6 446.6 197.5 447.5 196.6 447.6 196.5 448.5 195.6 448.6 195.5 449.5 194.6 450.1 194.5 450.5 194.2 451.5 193.7 452.5 193.6 453.5 193.6 454.5 193.6 455.5 193.6 456.5 193.6 457.5 193.9 458.5 194.2 459.4 194.5 459.5 194.5 460.5 194.9 461.5 195.2 462.4 195.5 462.5 195.5 463.5 196.3 463.7 196.5 464.5 197.3 464.7 197.5 465.5 198.3 465.7 198.5 466.5 199.3 466.7 199.5 467.5 200.3 467.8 200.5 468.5 201.2 468.8 201.5 469.5 202.1 470.0 202.5 470.5 202.9 471.2 203.5 471.5 203.7 472.5 204.5 472.5 204.5 473.5 205.4 473.6 205.5 474.5 206.5 474.6 206.5 475.5 207.5 475.5 207.5 476.5 208.3 476.7 208.5 M492.5 208.5 492.9 207.5 493.2 206.5 493.5 206.0 493.7 205.5 494.2 204.5 494.5 203.9 494.8 203.5 495.5 202.6 495.6 202.5 496.5 201.7 496.8 201.5 497.5 200.8 498.0 200.5 498.5 200.0 499.3 199.5 499.5 199.3 500.5 198.7 501.5 198.5 501.7 198.5 502.5 198.2 503.5 197.8 504.4 197.5 504.4 196.5 504.5 195.5 504.5 194.5 504.5 193.5 504.5 192.5 504.5 191.5 504.5 191.5 M40.3 208.5 39.7 207.5 39.5 206.8 39.4 206.5 39.5 206.4 40.3 205.5 40.5 205.3 41.2 204.5 41.5 204.2 42.0 203.5 42.5 203.0 43.0 202.5 43.5 202.1 44.5 201.6 44.6 201.5 45.5 200.9 46.2 200.5 46.5 200.3 47.5 199.7 47.9 199.5 48.5 199.1 49.5 198.5 49.6 198.5 50.5 197.9 51.3 197.5 51.5 197.4 52.5 196.5 52.5 196.5 53.4 195.5 53.5 195.4 54.4 194.5 54.5 193.5 54.5 193.4 55.4 192.5 55.4 191.5 55.5 191.3 56.3 190.5 56.4 189.5 56.5 189.4 57.5 189.4 58.5 189.2 59.5 189.3 60.5 189.4 61.5 189.5 61.6 189.5 62.5 190.2 63.5 190.3 64.5 190.4 65.5 190.5 65.6 190.5 66.5 191.2 67.5 191.3 68.5 191.4 68.8 191.5 69.5 192.2 70.5 192.4 70.6 192.5 71.5 193.3 71.9 193.5 72.5 194.1 73.5 194.4 73.6 194.5 74.5 195.5 74.5 195.5 75.2 196.5 75.5 196.8 76.1 197.5 76.5 198.1 76.8 198.5 77.5 199.4 77.6 199.5 77.6 200.5 77.9 201.5 78.1 202.5 78.3 203.5 78.5 204.5 78.5 204.6 M102.4 208.5 101.6 207.5 101.5 207.3 101.3 206.5 100.9 205.5 100.6 204.5 100.5 204.0 100.3 203.5 100.4 202.5 100.5 202.2 100.8 201.5 101.5 200.7 101.6 200.5 102.5 199.8 103.5 199.6 104.5 199.6 105.5 199.6 105.7 199.5 106.0 198.5 105.9 197.5 105.9 196.5 105.9 195.5 105.8 194.5 105.8 193.5 105.8 192.5 105.7 191.5 105.7 190.5 105.6 189.5 105.6 188.5 105.5 187.9 105.5 187.5 105.5 187.1 105.6 186.5 105.7 185.5 105.7 184.5 105.8 183.5 105.9 182.5 106.4 181.5 106.4 180.5 106.4 179.5 106.5 178.5 106.5 177.5 106.5 176.5 106.5 175.5 106.5 174.5 106.5 173.5 106.5 172.5 106.5 171.5 106.5 170.5 106.5 169.5 106.5 168.5 106.5 168.3 107.3 167.5 107.4 166.5 107.5 165.5 107.5 164.5 107.5 164.4 108.4 163.5 108.5 163.2 108.7 163.5 109.5 164.3 109.6 164.5 110.5 165.4 110.6 165.5 110.8 166.5 111.5 167.2 111.5 167.5 111.7 168.5 112.5 169.3 112.5 169.5 112.7 170.5 113.5 171.3 113.5 171.5 113.6 172.5 114.5 173.4 114.5 173.5 114.6 174.5 115.5 175.4 115.5 175.5 115.6 176.5 115.8 177.5 116.5 178.2 116.5 178.5 116.6 179.5 117.5 180.1 117.7 180.5 118.0 181.5 118.4 182.5 118.5 182.7 118.9 183.5 119.2 184.5 119.5 185.4 119.5 185.5 120.1 186.5 120.4 187.5 120.5 187.8 120.9 188.5 121.3 189.5 121.5 190.5 121.5 190.6 122.0 191.5 122.3 192.5 122.5 193.3 122.6 193.5 123.1 194.5 123.4 195.5 123.5 196.2 123.6 196.5 123.9 197.5 124.5 198.4 125.5 198.5 126.5 198.5 127.5 198.5 127.6 198.5 128.5 199.3 129.5 199.4 130.5 199.4 130.9 199.5 131.5 200.1 131.6 200.5 132.5 201.4 132.6 201.5 133.5 202.4 133.6 202.5 134.5 203.4 134.6 203.5 135.5 204.4 135.6 204.5 136.5 205.4 136.6 205.5 137.5 206.4 137.6 206.5 138.5 207.4 138.6 207.5 139.5 208.4 139.6 208.5 M131.3 208.5 131.5 208.0 131.7 207.5 132.1 206.5 132.5 205.6 132.6 205.5 132.7 204.5 133.1 203.5 132.5 203.0 131.6 203.5 131.5 203.6 130.5 204.0 129.6 204.5 129.5 204.6 128.5 205.0 127.6 205.5 127.5 205.5 126.5 206.0 126.4 206.5 126.2 207.5 126.0 208.5 M212.9 208.5 213.5 208.0 214.0 207.5 214.5 207.1 215.1 206.5 215.5 206.2 216.2 205.5 216.5 205.3 217.3 204.5 217.5 204.4 218.4 203.5 218.5 203.4 219.5 202.6 219.6 202.5 220.5 201.8 221.2 201.5 221.5 201.4 222.5 201.0 223.5 200.7 224.2 200.5 224.5 200.4 225.5 200.1 226.5 200.3 227.5 200.5 227.5 200.5 228.5 201.2 228.9 201.5 229.5 201.9 230.2 202.5 230.5 202.7 231.5 203.5 231.5 203.5 232.5 204.3 232.8 204.5 233.5 205.1 234.1 205.5 234.5 205.8 235.5 206.5 235.5 206.5 236.5 207.3 236.8 207.5 237.5 208.1 238.1 208.5 M265.5 208.5 266.0 207.5 266.2 206.5 266.4 205.5 266.5 205.0 266.7 204.5 267.0 203.5 267.3 202.5 267.5 201.6 267.6 201.5 268.2 200.5 268.5 199.9 268.7 199.5 269.3 198.5 269.5 198.2 269.9 197.5 270.5 196.5 270.5 196.5 271.1 195.5 271.5 194.8 271.7 194.5 272.3 193.5 272.5 193.1 272.9 192.5 273.5 191.5 273.5 191.5 274.1 190.5 274.5 189.9 275.3 189.5 275.5 188.5 275.5 188.5 276.4 187.5 276.5 187.4 277.4 186.5 277.5 185.9 278.5 186.3 279.5 186.4 279.7 186.5 280.5 187.3 281.5 187.4 281.7 187.5 282.5 188.3 283.5 188.4 284.5 188.4 284.9 188.5 285.5 189.1 286.5 189.3 287.5 189.4 288.5 189.4 288.6 189.5 289.5 190.4 289.6 190.5 289.8 191.5 290.5 192.2 290.7 192.5 291.5 193.3 291.6 193.5 292.5 194.4 292.6 194.5 293.5 195.3 293.7 195.5 294.5 196.4 294.6 196.5 295.1 197.5 295.4 198.5 295.5 199.4 295.5 199.5 295.8 200.5 296.0 201.5 296.2 202.5 296.4 203.5 296.4 204.5 296.5 205.3 296.5 205.5 296.7 206.5 296.9 207.5 297.1 208.5 M322.3 208.5 322.5 207.5 322.5 207.4 323.0 206.5 323.3 205.5 323.5 204.5 323.5 204.4 324.0 203.5 324.3 202.5 324.5 201.5 324.5 201.4 325.0 200.5 325.3 199.5 325.5 198.8 325.6 198.5 326.1 197.5 326.4 196.5 326.5 196.2 326.8 195.5 327.2 194.5 327.5 193.7 327.6 193.5 328.0 192.5 328.4 191.5 328.5 191.2 328.8 190.5 329.2 189.5 329.5 188.8 329.6 188.5 330.1 187.5 330.5 186.8 330.7 186.5 331.4 185.5 331.5 185.3 332.1 184.5 332.5 183.8 333.1 183.5 333.4 182.5 333.5 182.4 334.4 181.5 334.5 181.4 335.5 181.3 336.3 180.5 336.5 180.4 337.5 180.2 338.5 180.2 338.8 180.5 339.5 181.2 339.8 181.5 340.5 181.7 341.3 182.5 341.5 182.7 342.3 183.5 342.5 183.7 343.1 184.5 343.5 185.3 343.7 185.5 344.4 186.5 344.5 186.7 345.3 187.5 345.5 187.9 346.5 188.3 347.5 188.4 347.8 188.5 348.5 189.2 349.5 189.3 350.5 189.4 350.8 189.5 351.5 190.2 352.5 190.4 353.5 190.4 353.8 190.5 354.5 191.2 355.5 191.2 356.5 190.6 356.6 190.5 357.5 190.4 358.5 190.3 358.9 190.5 359.5 191.1 359.6 191.5 360.5 192.4 360.5 192.5 360.7 193.5 361.5 194.3 361.6 194.5 361.7 195.5 362.5 196.3 362.6 196.5 363.4 197.5 363.5 197.6 363.9 198.5 364.5 199.3 364.6 199.5 365.1 200.5 365.5 201.1 365.7 201.5 366.4 202.5 366.5 202.6 367.2 203.5 367.5 204.0 368.0 203.5 368.5 203.5 369.5 203.4 370.5 203.4 371.5 203.4 372.5 203.4 373.5 203.3 374.5 203.0 375.0 202.5 375.5 202.5 376.5 202.4 377.5 202.4 378.1 201.5 378.3 200.5 378.5 199.5 378.5 199.1 378.6 198.5 378.6 197.5 378.8 196.5 378.9 195.5 379.0 194.5 379.1 193.5 379.3 192.5 379.4 191.5 379.5 191.0 379.6 190.5 379.8 189.5 380.0 188.5 380.2 187.5 380.4 186.5 380.5 186.0 380.6 185.5 380.8 184.5 381.0 183.5 381.2 182.5 381.4 181.5 381.5 181.0 381.6 180.5 381.8 179.5 382.0 178.5 382.2 177.5 382.4 176.5 382.5 176.1 382.6 175.5 382.8 174.5 383.0 173.5 383.2 172.5 383.4 171.5 383.5 171.3 383.7 170.5 384.1 169.5 384.4 168.5 384.5 168.2 384.7 167.5 385.1 166.5 385.4 165.5 385.5 165.3 385.7 164.5 386.1 163.5 386.4 162.5 386.5 162.3 386.8 161.5 387.2 160.5 387.4 159.5 387.5 159.4 387.9 158.5 388.5 157.5 388.5 157.3 389.3 156.5 389.4 155.5 389.5 154.5 389.5 154.4 390.4 153.5 390.5 152.5 390.5 152.3 391.3 151.5 391.5 150.5 391.5 149.5 391.5 149.4 392.4 148.5 392.5 147.5 392.5 147.2 393.2 146.5 393.5 145.5 393.5 144.5 393.5 144.4 394.4 143.5 394.5 142.5 394.5 141.5 394.5 141.4 394.5 141.5 395.5 142.5 395.5 142.5 395.5 143.5 396.5 144.5 396.5 144.5 396.5 145.5 396.5 146.5 396.5 147.5 396.5 148.5 397.5 149.5 397.5 149.5 397.5 150.5 397.5 151.5 397.5 152.5 397.5 153.5 397.5 154.5 398.5 155.5 398.5 155.5 398.5 156.5 398.5 157.5 398.6 158.5 398.9 159.5 399.5 160.4 399.5 160.5 399.6 161.5 399.6 162.5 399.8 163.5 400.1 164.5 400.5 165.3 400.5 165.5 400.6 166.5 400.7 167.5 401.0 168.5 401.3 169.5 401.5 170.1 401.6 170.5 401.7 171.5 401.8 172.5 402.1 173.5 402.5 174.4 402.5 174.5 402.6 175.5 402.8 176.5 403.0 177.5 403.4 178.5 403.5 178.9 403.6 179.5 403.7 180.5 403.9 181.5 404.2 182.5 404.5 183.3 404.5 183.5 404.7 184.5 404.9 185.5 405.1 186.5 405.3 187.5 405.4 188.5 405.5 189.0 405.6 189.5 405.7 190.5 405.9 191.5 406.0 192.5 406.2 193.5 406.3 194.5 406.4 195.5 406.5 196.0 406.6 196.5 406.8 197.5 407.2 198.5 407.5 199.3 407.6 199.5 408.2 200.5 408.5 201.3 408.6 201.5 409.2 202.5 409.5 203.3 409.6 203.5 410.2 204.5 410.5 205.4 410.6 205.5 411.4 206.5 411.5 206.6 412.4 207.5 412.5 207.6 413.5 208.4 414.5 208.4 414.8 208.5 M377.4 208.5 377.5 207.7 377.5 207.5 377.6 206.5 377.6 205.5 377.5 204.7 376.5 204.6 375.5 204.6 374.5 204.8 373.7 205.5 373.5 205.5 372.5 205.5 371.5 205.6 370.5 205.6 369.5 205.6 368.5 205.7 368.1 206.5 368.4 207.5 368.5 207.8 368.6 208.5 M447.3 208.5 447.5 208.4 448.5 207.7 448.7 207.5 449.5 207.1 450.2 206.5 450.5 206.3 451.5 205.6 451.6 205.5 452.5 204.9 453.5 204.9 454.5 205.0 455.5 205.4 456.5 205.5 456.7 205.5 457.5 205.8 458.5 206.1 459.0 206.5 459.5 207.0 459.7 207.5 460.5 208.4 460.6 208.5 M497.5 208.5 497.5 208.4 498.3 207.5 498.5 206.5 498.5 206.4 499.4 205.5 499.5 205.3 500.3 204.5 500.5 204.4 501.5 204.1 502.2 203.5 502.5 203.5 503.5 203.4 504.5 202.5 504.5 201.5 504.5 201.5 M47.3 208.5 47.3 207.5 47.4 206.5 47.5 206.4 48.5 206.3 49.3 205.5 49.5 205.4 50.5 205.2 51.3 204.5 51.5 204.4 52.5 204.1 53.3 203.5 53.5 203.4 54.5 203.0 55.3 202.5 55.5 202.4 56.5 202.1 57.4 201.5 57.5 201.5 57.6 201.5 58.5 202.2 59.0 202.5 59.5 202.9 60.4 203.5 60.5 203.7 60.9 204.5 61.1 205.5 61.2 206.5 61.3 207.5 61.0 208.5 M109.9 208.5 109.9 207.5 110.0 206.5 110.0 205.5 110.1 204.5 110.2 203.5 110.3 202.5 110.0 201.5 110.5 200.5 110.5 200.5 111.5 199.5 111.5 199.4 112.1 198.5 112.3 197.5 112.4 196.5 112.5 196.0 112.6 195.5 113.1 194.5 113.4 193.5 113.4 192.5 113.5 191.5 113.5 191.3 114.3 190.5 114.4 189.5 114.4 188.5 114.4 187.5 114.5 187.5 115.5 187.4 116.5 186.9 117.5 187.5 117.5 187.5 118.5 188.5 118.5 188.5 118.6 189.5 118.6 190.5 118.8 191.5 119.5 192.3 119.5 192.5 119.5 193.5 119.5 194.5 119.6 195.5 119.6 196.5 119.6 197.5 119.7 198.5 119.7 199.5 119.7 200.5 119.8 201.5 119.6 202.5 119.6 203.5 119.7 204.5 119.9 205.5 120.0 206.5 120.0 207.5 119.9 208.5 M223.9 208.5 223.5 207.6 223.5 207.5 223.5 207.5 224.4 206.5 224.5 206.3 225.4 205.5 225.5 205.4 225.6 205.5 226.5 206.3 226.6 206.5 227.4 207.5 227.5 208.5 M273.6 208.5 273.5 208.3 272.5 207.6 272.5 207.5 272.5 207.5 273.2 206.5 273.4 205.5 273.5 205.4 274.1 204.5 274.5 203.5 274.5 203.5 275.2 202.5 275.5 202.0 275.9 201.5 276.5 200.9 276.9 200.5 277.5 199.9 278.3 199.5 278.5 199.3 279.3 198.5 279.5 198.3 280.5 198.4 280.6 198.5 281.5 198.9 282.5 199.4 282.9 199.5 283.5 200.0 284.3 200.5 284.5 200.7 285.3 201.5 285.5 201.7 286.5 202.5 286.5 202.5 287.4 203.5 287.5 203.6 288.1 204.5 288.5 205.1 288.7 205.5 289.5 206.4 289.6 206.5 289.5 207.1 289.2 207.5 288.7 208.5 M331.2 208.5 330.5 207.9 330.4 207.5 330.5 207.3 331.1 206.5 331.3 205.5 331.4 204.5 331.5 204.2 331.7 203.5 332.1 202.5 332.3 201.5 332.5 200.9 332.6 200.5 333.0 199.5 333.3 198.5 333.5 197.5 333.5 197.5 334.4 196.5 334.4 195.5 334.5 195.4 335.4 194.5 335.5 194.4 336.4 193.5 336.5 193.4 337.4 192.5 337.5 192.4 338.5 192.4 338.6 192.5 339.5 193.4 339.6 193.5 340.5 194.4 340.6 194.5 341.5 195.1 341.9 195.5 342.5 196.2 342.7 196.5 343.4 197.5 343.5 197.6 344.0 198.5 344.5 199.2 344.7 199.5 345.5 200.5 345.5 200.5 346.0 201.5 346.5 202.2 346.7 202.5 347.1 203.5 347.5 204.1 347.6 204.5 348.3 205.5 348.5 206.1 348.5 206.5 348.5 206.6 347.5 207.4 347.4 207.5 346.9 208.5 M382.4 208.5 382.0 207.5 382.1 206.5 382.2 205.5 382.1 204.5 382.2 203.5 382.3 202.5 382.4 201.5 382.5 200.5 382.5 200.1 382.6 199.5 382.8 198.5 382.9 197.5 383.1 196.5 383.2 195.5 383.3 194.5 383.3 193.5 383.4 192.5 383.5 191.5 383.5 191.5 383.8 190.5 384.1 189.5 384.3 188.5 384.4 187.5 384.5 187.0 384.6 186.5 384.9 185.5 385.2 184.5 385.3 183.5 385.5 182.5 385.5 182.3 385.8 181.5 386.0 180.5 386.2 179.5 386.4 178.5 386.5 177.8 387.2 177.5 387.4 176.5 387.5 175.5 387.5 174.5 387.5 174.4 388.4 173.5 388.4 172.5 388.5 171.5 388.5 171.3 389.3 170.5 389.4 169.5 389.5 168.5 389.5 167.5 389.5 167.5 390.5 167.2 391.2 166.5 391.5 166.4 392.4 165.5 392.5 165.4 392.6 165.5 393.5 166.4 393.6 166.5 394.2 167.5 394.5 167.8 394.6 168.5 395.5 169.4 395.5 169.5 395.6 170.5 395.7 171.5 396.5 172.3 396.5 172.5 396.5 173.5 396.6 174.5 396.7 175.5 397.5 176.3 397.5 176.5 397.5 177.5 397.9 178.5 398.3 179.5 398.5 180.2 398.6 180.5 398.8 181.5 399.0 182.5 399.2 183.5 399.4 184.5 399.5 185.1 399.6 185.5 399.8 186.5 400.0 187.5 400.2 188.5 400.3 189.5 400.5 190.5 400.5 190.6 400.7 191.5 400.9 192.5 401.1 193.5 401.3 194.5 401.4 195.5 401.5 196.0 401.6 196.5 401.8 197.5 402.0 198.5 402.2 199.5 402.4 200.5 402.5 201.4 402.5 201.5 402.8 202.5 403.0 203.5 403.2 204.5 403.3 205.5 403.5 206.5 403.5 206.7 403.6 207.5 403.5 208.5 M392.4 186.5 392.5 186.3 393.5 186.4 393.6 186.5 394.5 187.4 395.5 187.5 395.5 187.5 395.5 188.5 395.6 189.5 395.6 190.5 396.5 191.4 396.5 191.5 396.5 192.5 396.5 193.5 396.6 194.5 396.6 195.5 397.5 196.4 397.5 196.5 397.5 197.5 397.5 198.5 397.5 199.5 397.6 200.5 397.6 201.5 397.6 202.5 397.6 203.5 397.8 204.5 398.5 205.3 398.5 205.5 398.5 206.5 398.5 206.7 398.4 206.5 397.5 205.7 397.2 205.5 396.5 204.8 396.0 204.5 395.5 204.0 394.5 203.6 393.5 204.4 393.4 204.5 392.5 205.2 392.1 205.5 391.5 205.9 390.8 206.5 390.5 206.5 390.5 206.5 390.4 205.5 390.4 204.5 390.4 203.5 390.4 202.5 390.4 201.5 390.4 200.5 390.4 199.5 390.4 198.5 390.4 197.5 390.5 196.5 390.5 195.5 390.5 194.6 390.6 194.5 391.2 193.5 391.4 192.5 391.4 191.5 391.4 190.5 391.5 190.2 392.2 189.5 392.4 188.5 392.4 187.5 392.4 186.5" fill="none" stroke="#000" stroke-width="0.6" stroke-opacity="0.7"/>
<path d="M234.5 367.2 234.6 367.5 234.9 368.5 235.2 369.5 235.5 370.5 235.5 370.6 236.1 371.5 236.5 372.3 236.6 372.5 237.1 373.5 237.5 374.2 237.6 374.5 237.9 375.5 238.2 376.5 238.5 377.5 238.5 377.6 239.5 377.8 239.6 377.5 239.8 376.5 240.1 375.5 240.3 374.5 240.4 373.5 240.5 372.8 240.5 372.5 240.8 371.5 240.9 370.5 241.0 369.5 241.1 368.5 241.3 367.5 241.4 366.5 241.5 365.5 241.5 365.4 241.5 364.5 241.6 363.5 241.7 362.5 241.8 361.5 241.8 360.5 241.8 359.5 241.8 358.5 241.7 357.5 241.6 356.5 241.6 355.5 241.5 354.5 241.5 353.9 241.5 353.5 241.4 352.5 241.3 351.5 241.2 350.5 241.2 349.5 241.1 348.5 241.0 347.5 240.9 346.5 240.9 345.5 240.8 344.5 240.7 343.5 240.6 342.5 240.6 341.5 240.5 340.6 240.5 340.5 240.4 339.5 240.3 338.5 240.3 337.5 240.2 336.5 240.1 335.5 240.0 334.5 240.0 333.5 239.9 332.5 239.8 331.5 239.7 330.5 239.7 329.5 239.6 328.5 239.5 327.5 239.5 327.3 239.5 327.5 239.3 328.5 239.2 329.5 239.0 330.5 238.9 331.5 238.5 332.5 238.5 332.5 238.5 333.5 238.4 334.5 238.3 335.5 238.2 336.5 238.2 337.5 238.1 338.5 238.0 339.5 237.8 340.5 237.7 341.5 237.7 342.5 237.6 343.5 237.5 343.8 237.4 344.5 237.2 345.5 236.8 346.5 236.6 347.5 236.5 347.7 236.3 348.5 235.9 349.5 235.7 350.5 235.5 350.8 235.2 351.5 234.7 352.5 234.5 352.9 M235.5 316.9 235.6 317.5 235.7 318.5 235.9 319.5 235.9 320.5 235.6 321.5 235.5 321.9 M350.5 317.3 351.5 317.2 352.5 317.2 353.5 317.2 354.5 317.2 355.3 316.5 355.5 316.3 356.0 315.5 356.3 314.5 356.3 313.5 356.4 312.5 356.4 311.5 356.5 310.5 356.5 310.5 356.6 309.5 356.6 308.5 356.7 307.5 356.7 306.5 356.8 305.5 356.8 304.5 356.9 303.5 356.9 302.5 357.0 301.5 357.1 300.5 357.1 299.5 357.1 298.5 357.1 297.5 357.1 296.5 357.1 295.5 357.1 294.5 357.1 293.5 357.1 292.5 356.9 291.5 356.5 290.5 356.5 290.3 356.4 289.5 355.8 288.5 355.5 287.6 355.3 287.5 354.5 287.1 353.5 287.5 353.4 287.5 352.5 287.8 351.5 288.2 350.5 288.3 M66.5 374.6 66.5 374.5 66.3 373.5 66.2 372.5 66.1 371.5 65.9 370.5 65.8 369.5 65.6 368.5 65.5 367.7 65.5 367.5 65.3 366.5 65.1 365.5 64.9 364.5 64.7 363.5 64.5 362.5 64.5 362.4 64.0 361.5 63.5 361.0 M364.5 396.3 363.5 395.5 363.5 395.5 362.5 394.8 361.7 395.5 361.5 395.7 361.3 396.5 361.0 397.5 360.7 398.5 360.5 399.5 360.6 400.5 360.7 401.5 360.7 402.5 360.8 403.5 360.9 404.5 361.0 405.5 361.0 406.5 361.1 407.5 361.2 408.5 361.2 409.5 361.2 410.5 361.4 411.5 361.5 412.5 361.5 412.8 362.5 412.9 362.6 412.5 362.7 411.5 362.8 410.5 362.8 409.5 362.9 408.5 362.9 407.5 363.0 406.5 363.2 405.5 363.5 404.6 363.6 404.5 364.5 403.8 M233.3 404.7 233.4 405.5 233.5 406.5 233.5 406.5 233.6 407.5 233.8 408.5 233.9 409.5 233.9 410.5 234.0 411.5 234.0 412.5 234.0 413.5 234.1 414.5 234.1 415.5 234.2 416.5 234.4 417.5 234.5 417.8 235.1 418.5 235.5 419.1 236.5 419.1 237.5 419.1 238.5 419.0 239.5 419.1 240.5 419.2 241.5 419.3 242.1 419.5 242.5 419.6 M55.2 419.8 55.5 419.7 56.1 420.5 56.1 421.5 56.1 422.5 56.1 423.5 56.1 424.5 56.0 425.5 56.0 426.5 55.9 427.5 55.9 428.5 55.8 429.5 55.8 430.5 55.7 431.5 55.6 432.5 55.6 433.5 55.5 434.1 55.5 434.5 55.4 435.5 55.3 436.5 55.3 437.5 55.2 438.5 55.1 439.5 55.1 440.5 55.1 441.5 55.0 442.5 55.0 443.5 54.9 444.5 54.9 445.5 54.8 446.5 54.7 447.5 54.7 448.5 54.6 449.5 54.5 450.5 54.5 451.2 54.5 451.5 54.4 452.5 54.3 453.5 54.2 454.5 54.2 455.5 54.0 456.5 53.9 457.5 53.8 458.5 53.6 459.5 53.5 460.3 53.5 460.5 53.3 461.5 53.1 462.5 52.8 463.5 52.6 464.5 52.5 464.7 52.2 465.5 51.8 466.5 51.5 467.0 51.2 467.5 50.5 468.5 50.5 468.6 49.5 469.3 49.2 469.5 48.5 469.9 47.5 470.5 47.5 470.5 46.5 471.1 45.7 471.5 45.5 471.6 44.5 472.0 43.5 472.2 42.5 472.3 41.6 472.5 41.5 472.5 40.5 472.8 39.7 473.5 39.5 473.6 38.7 474.5 38.5 474.7 37.7 475.5 37.5 475.8 37.1 476.5 M31.5 426.3 32.5 425.8 33.3 425.5 33.5 425.4 34.5 424.9 35.0 424.5 35.5 424.1 36.3 423.5 M253.5 431.5 253.5 431.5 254.5 432.2 255.1 432.5 255.5 432.7 256.5 433.2 256.9 433.5 257.5 434.3 257.9 434.5 258.5 434.7 259.2 434.5 259.5 434.4 260.5 433.9 261.5 433.6 262.0 433.5 262.5 433.4 263.5 433.3 264.5 433.2 265.1 433.1 M78.5 436.4 77.5 435.9 77.1 435.5 76.5 434.9 76.2 434.5 75.7 433.5 75.5 433.1 75.2 432.5 74.6 431.5 74.5 431.3 74.3 430.5 74.1 429.5 73.7 428.5 73.5 428.1 73.3 427.5 73.1 426.5 72.9 425.5 72.6 424.5 72.5 424.0 72.3 423.5 71.9 422.5 71.5 421.5 71.5 421.4 70.5 420.6 70.5 420.5 70.0 419.5 69.6 418.5 69.5 418.2 69.4 417.5 69.1 416.5 68.9 415.5 68.7 414.5 68.5 413.5 68.5 413.4 68.4 412.5 68.3 411.5 68.2 410.5 68.1 409.5 68.0 408.5 67.9 407.5 67.8 406.5 67.7 405.5 67.6 404.5 67.5 403.5 67.5 403.2 67.5 402.5 67.4 401.5 67.3 400.5 67.3 399.5 67.2 398.5 67.2 397.5 67.2 396.5 67.1 395.5 67.1 394.5 67.0 393.5 67.0 392.5 66.9 391.5 66.9 390.5 66.9 389.5 66.8 388.5 66.8 387.5 66.7 386.5 66.7 385.5 66.9 384.5 67.0 383.5 67.0 383.0 M111.5 439.4 111.5 439.5 111.1 440.5 110.8 441.5 110.6 442.5 110.5 443.2 110.5 443.5 110.4 444.5 110.4 445.5 110.3 446.5 110.3 447.5 110.2 448.5 110.2 449.5 110.1 450.5 110.1 451.5 110.1 452.5 110.1 453.5 110.1 454.5 110.1 455.5 110.1 456.5 110.1 457.5 110.1 458.5 110.1 459.5 110.3 460.5 110.5 461.1 110.7 461.5 111.1 462.5 111.5 463.2 111.8 463.5 112.2 464.5 112.5 465.1 112.7 465.5 112.9 466.5 113.1 467.5 113.3 468.5 113.4 469.5 113.5 469.7 113.7 469.5 113.8 468.5 114.1 467.5 114.2 466.5 114.5 465.5 114.5 465.4 114.5 464.5 114.6 463.5 114.7 462.5 114.8 461.5 114.9 460.5 115.0 459.5 114.9 458.5 115.0 457.5 114.9 456.5 115.0 455.5 114.9 454.5 114.8 453.5 114.7 452.5 114.7 451.5 114.6 450.5 114.5 449.7 114.5 449.5 114.3 448.5 114.1 447.5 114.0 446.5 113.8 445.5 113.6 444.5 113.5 443.7 113.3 443.5 112.8 442.5 112.5 442.1 112.1 441.5 111.9 440.5 111.5 439.5 111.5 439.4 M64.3 450.5 64.5 450.3 65.5 450.4 65.6 450.5 66.0 451.5 66.5 452.2 66.7 452.5 67.1 453.5 67.5 454.2 67.6 454.5 68.1 455.5 68.5 456.5 68.5 456.5 68.8 457.5 68.8 458.5 68.9 459.5 69.0 460.5 69.0 461.5 69.0 462.5 68.9 463.5 68.9 464.5 68.8 465.5 68.8 466.5 68.7 467.5 68.5 468.2 68.3 468.5 67.6 469.5 67.5 469.7 67.3 469.5 66.5 468.6 65.5 469.5 65.5 469.5 65.0 470.5 64.5 471.5 64.5 471.6 63.5 472.0 62.8 471.5 62.5 471.2 61.5 471.1 61.1 471.5 60.5 471.9 59.7 471.5 59.5 471.4 59.0 470.5 58.5 469.5 58.5 469.5 58.2 468.5 58.1 467.5 57.9 466.5 57.8 465.5 57.7 464.5 57.6 463.5 57.5 462.7 57.5 462.5 57.4 461.5 57.4 460.5 57.5 460.4 58.0 459.5 58.4 458.5 58.5 458.2 58.8 457.5 59.5 456.6 59.6 456.5 60.2 455.5 60.5 455.1 60.8 454.5 61.5 453.7 61.7 453.5 62.5 452.7 62.6 452.5 63.3 451.5 63.5 451.2 64.3 450.5 M83.5 465.1 83.7 464.5 84.0 463.5 84.4 462.5 84.5 462.1 84.7 461.5 84.9 460.5 85.0 459.5 85.1 458.5 85.2 457.5 85.5 456.7 85.5 456.5 85.7 455.5 85.8 454.5 85.8 453.5 85.9 452.5 86.0 451.5 86.2 450.5 86.2 449.5 86.1 448.5 86.1 447.5 86.0 446.5 86.0 445.5 86.0 444.5 85.9 443.5 85.9 442.5 85.8 441.5 85.8 440.5 85.7 439.5 85.7 438.5 85.6 437.5 85.5 436.5 85.5 436.2 85.4 436.5 85.1 437.5 84.7 438.5 84.5 439.0 83.8 439.5 83.5 439.8 M336.7 476.5 336.6 475.5 336.5 475.1 336.4 474.5 336.3 473.5 336.1 472.5 335.8 471.5 335.5 470.9 335.2 470.5 334.8 469.5 334.5 469.1 333.5 469.1 333.2 469.5 332.8 470.5 332.5 471.0 332.2 471.5 331.8 472.5 331.6 473.5 331.5 473.7 331.3 474.5 331.1 475.5 330.9 476.5 M396.2 476.5 396.2 475.5 396.2 474.5 396.1 473.5 396.1 472.5 396.1 471.5 396.0 470.5 396.0 469.5 396.0 468.5 395.9 467.5 395.9 466.5 395.9 465.5 395.8 464.5 395.8 463.5 395.7 462.5 395.7 461.5 395.7 460.5 395.6 459.5 395.6 458.5 395.5 457.5 395.5 456.5 395.5 456.5 395.4 455.5 395.3 454.5 395.2 453.5 395.0 452.5 394.9 451.5 394.7 450.5 394.6 449.5 394.5 449.0 394.0 448.5 393.5 448.0 392.9 447.5 392.5 447.1 391.9 446.5 391.5 446.1 391.1 446.5 390.5 447.1 390.4 447.5 390.0 448.5 389.7 449.5 389.5 450.4 389.5 450.5 389.3 451.5 389.0 452.5 388.8 453.5 388.6 454.5 388.5 455.2 388.5 455.5 388.4 456.5 388.2 457.5 388.1 458.5 388.0 459.5 387.9 460.5 387.8 461.5 387.7 462.5 387.6 463.5 387.5 464.4 387.5 464.5 387.4 465.5 387.3 466.5 387.2 467.5 387.1 468.5 387.0 469.5 387.0 470.5 387.0 471.5 386.9 472.5 386.9 473.5 386.9 474.5 386.9 475.5 386.9 476.5 M350.5 324.4 351.5 323.9 352.1 323.5 352.5 323.2 353.5 322.6 353.6 322.5 354.5 322.1 355.3 321.5 355.5 321.4 356.2 320.5 356.5 320.1 357.0 319.5 357.5 318.5 357.5 318.5 358.0 317.5 358.5 316.5 358.5 316.4 358.9 315.5 359.1 314.5 359.2 313.5 359.2 312.5 359.3 311.5 359.4 310.5 359.5 309.5 359.5 309.1 359.6 308.5 359.7 307.5 359.8 306.5 359.9 305.5 360.0 304.5 360.1 303.5 360.2 302.5 360.3 301.5 360.4 300.5 360.5 299.5 360.5 298.5 360.4 297.5 360.3 296.5 360.3 295.5 360.3 294.5 360.2 293.5 360.1 292.5 360.1 291.5 360.0 290.5 359.9 289.5 359.9 288.5 359.8 287.5 359.7 286.5 359.6 285.5 359.5 285.0 359.4 284.5 359.3 283.5 358.9 282.5 358.6 281.5 M296.5 327.5 296.5 327.5 296.6 328.5 296.7 329.5 296.9 330.5 297.2 331.5 297.3 332.5 297.5 332.8 M65.5 344.5 65.4 345.5 65.1 346.5 64.6 347.5 64.5 347.8 64.1 348.5 63.6 349.5 63.5 349.6 M364.5 387.9 364.0 387.5 363.5 387.2 362.5 386.5 362.5 386.5 361.5 386.1 360.5 386.1 359.7 386.5 359.5 387.4 359.5 387.5 358.5 387.9 357.5 387.7 356.5 387.6 355.5 387.5 354.5 388.3 354.4 388.5 353.8 389.5 353.9 390.5 354.3 391.5 354.5 392.1 354.8 392.5 355.5 393.2 356.5 393.3 356.7 393.5 356.5 393.8 356.2 394.5 356.5 394.8 356.9 395.5 357.2 396.5 357.3 397.5 357.5 397.9 357.8 398.5 357.7 399.5 357.8 400.5 358.1 401.5 358.3 402.5 358.5 403.1 358.6 403.5 358.7 404.5 358.9 405.5 359.1 406.5 359.2 407.5 359.4 408.5 359.5 409.2 359.5 409.5 359.6 410.5 359.6 411.5 359.6 412.5 359.6 413.5 359.7 414.5 359.7 415.5 359.8 416.5 359.8 417.5 359.9 418.5 359.9 419.5 360.0 420.5 360.1 421.5 360.3 422.5 360.4 423.5 360.5 424.0 360.6 424.5 360.7 425.5 360.9 426.5 361.0 427.5 361.3 428.5 361.5 429.5 361.5 429.7 362.5 429.5 362.5 429.5 362.7 428.5 362.9 427.5 363.1 426.5 363.3 425.5 363.4 424.5 363.5 424.0 363.7 423.5 363.9 422.5 364.1 421.5 364.3 420.5 364.5 419.5 M78.5 401.0 77.7 400.5 77.5 400.4 76.5 400.1 75.5 400.1 74.5 400.2 74.3 399.5 73.8 398.5 73.5 397.5 73.5 397.5 73.3 396.5 73.1 395.5 73.0 394.5 72.8 393.5 72.7 392.5 72.6 391.5 72.5 390.9 72.4 390.5 72.2 389.5 72.1 388.5 71.9 387.5 71.8 386.5 71.5 386.0 71.0 385.5 M232.4 415.6 232.5 416.5 232.5 416.7 232.7 417.5 233.1 418.5 233.4 419.5 233.5 419.7 233.8 420.5 234.2 421.5 234.5 422.2 234.8 422.5 235.5 423.2 236.5 423.2 237.5 423.3 238.5 423.4 238.8 423.5 239.5 423.6 240.5 423.9 241.5 424.2 242.1 424.5 242.5 424.7 M52.8 427.2 52.8 427.5 52.6 428.5 52.5 429.3 52.5 429.5 52.2 430.5 52.2 431.5 52.1 432.5 51.9 433.5 51.9 434.5 51.7 435.5 51.6 436.5 51.5 437.5 51.5 438.5 51.5 439.0 51.5 439.5 51.4 440.5 51.3 441.5 51.2 442.5 51.1 443.5 51.0 444.5 50.9 445.5 50.8 446.5 50.7 447.5 50.6 448.5 50.5 449.5 50.5 449.7 50.3 450.5 49.9 451.5 49.6 452.5 49.5 452.7 48.9 453.5 48.5 454.5 48.5 454.5 47.9 455.5 47.8 456.5 47.5 457.0 47.2 457.5 46.5 458.2 46.2 458.5 45.5 459.3 44.8 459.5 44.5 459.6 43.9 459.5 43.5 459.4 42.5 459.1 41.5 458.8 40.5 458.5 39.5 459.0 39.3 459.5 38.7 460.5 38.5 460.9 38.1 461.5 37.5 462.5 37.5 462.5 36.5 463.5 36.5 463.5 35.5 463.8 34.5 464.1 33.7 464.5 33.5 464.6 32.5 465.1 31.7 465.5 31.5 465.6 M302.5 432.3 302.4 432.5 302.1 433.5 301.8 434.5 301.7 435.5 301.5 436.2 301.4 436.5 301.3 437.5 301.5 438.4 301.5 438.5 301.7 439.5 301.9 440.5 302.3 441.5 302.5 442.3 302.7 441.5 303.0 440.5 303.2 439.5 303.4 438.5 303.5 438.2 303.7 437.5 303.7 436.5 303.5 435.9 303.4 435.5 303.2 434.5 302.9 433.5 302.6 432.5 302.5 432.3 M31.5 433.3 32.3 432.5 32.5 432.3 33.2 431.5 33.5 431.0 33.7 430.5 34.5 429.8 34.9 429.5 35.5 429.1 36.5 428.5 36.6 428.5 37.5 427.9 37.8 427.5 38.2 427.2 M103.5 438.3 103.7 438.5 103.7 439.5 103.8 440.5 103.8 441.5 103.8 442.5 103.8 443.5 103.9 444.5 103.9 445.5 104.0 446.5 104.0 447.5 104.1 448.5 104.1 449.5 104.1 450.5 104.2 451.5 104.2 452.5 104.3 453.5 104.3 454.5 104.4 455.5 104.5 456.5 104.5 457.4 104.5 457.5 104.6 458.5 104.6 459.5 104.7 460.5 104.7 461.5 104.8 462.5 104.9 463.5 104.9 464.5 105.0 465.5 105.0 466.5 105.1 467.5 105.2 468.5 105.3 469.5 105.3 470.5 105.4 471.5 105.5 472.4 105.5 472.5 105.6 473.5 105.7 474.5 105.8 475.5 105.9 476.5 M253.5 437.6 254.5 438.3 254.8 438.5 255.5 438.9 256.5 439.5 256.5 439.5 257.5 440.0 258.5 440.3 259.4 440.5 259.5 440.5 260.5 440.9 261.2 441.5 261.5 441.9 262.5 442.3 263.5 441.6 263.7 441.5 264.5 441.0 265.2 440.5 265.5 440.4 266.0 439.5 266.5 438.9 266.7 438.5 267.0 437.5 267.3 436.5 267.5 435.9 267.6 435.6 M383.0 440.5 382.8 441.5 382.7 442.5 382.6 443.5 382.5 444.3 382.5 444.5 382.4 445.5 382.3 446.5 382.2 447.5 382.0 448.5 381.9 449.5 381.8 450.5 381.7 451.5 381.7 452.5 381.6 453.5 381.5 454.1 381.5 454.5 381.4 455.5 381.3 456.5 381.2 457.5 381.1 458.5 381.0 459.5 381.0 460.5 381.0 461.5 380.9 462.5 380.9 463.5 380.9 464.5 380.8 465.5 380.8 466.5 380.7 467.5 380.7 468.5 380.7 469.5 380.7 470.5 380.7 471.5 380.6 472.5 380.6 473.5 380.6 474.5 380.6 475.5 380.5 476.5 M87.2 476.5 87.3 475.5 87.3 474.5 87.4 473.5 87.5 472.7 87.5 472.5 87.5 471.5 87.6 470.5 87.7 469.5 87.7 468.5 87.7 467.5 87.8 466.5 87.9 465.5 87.9 464.5 87.9 463.5 87.9 462.5 88.0 461.5 88.0 460.5 88.0 459.5 88.1 458.5 88.1 457.5 88.1 456.5 88.2 455.5 88.2 454.5 88.2 453.5 88.2 452.5 88.3 451.5 88.3 450.5 88.3 449.5 88.3 448.5 88.3 447.5 88.3 446.5 88.3 445.5 88.3 444.5 88.3 443.5 88.3 442.5 88.3 441.5 88.3 440.5 88.3 439.5 88.3 438.5 88.3 437.5 88.5 437.2 89.5 437.2 90.4 437.4 M116.6 476.5 116.7 475.5 117.0 474.5 117.3 473.5 117.5 472.5 117.5 472.2 117.5 471.5 117.6 470.5 117.8 469.5 117.8 468.5 117.9 467.5 118.0 466.5 118.1 465.5 118.1 464.5 118.1 463.5 118.2 462.5 118.3 461.5 118.3 460.5 118.3 459.5 118.3 458.5 118.3 457.5 118.3 456.5 118.3 455.5 118.3 454.5 118.2 453.5 118.2 452.5 118.2 451.5 118.2 450.5 118.2 449.5 118.1 448.5 118.1 447.5 118.1 446.5 118.1 445.5 118.1 444.5 118.0 443.5 118.0 442.5 118.0 441.5 118.0 440.5 117.9 439.5 117.9 438.5 117.8 437.5 117.8 436.5 117.8 435.5 117.7 434.5 117.6 433.5 117.6 432.5 117.5 431.5 117.5 431.1 117.5 430.5 M286.1 476.5 286.1 475.5 286.2 474.5 286.2 473.5 286.2 472.5 286.2 471.5 286.2 470.5 286.2 469.5 286.0 468.5 285.5 467.5 285.5 467.4 284.5 466.5 284.5 466.5 284.4 466.5 283.5 467.1 282.6 467.5 282.5 467.5 281.5 467.8 280.5 468.0 279.5 468.3 279.1 468.5 278.5 469.2 278.3 469.5 277.7 470.5 277.5 470.9 277.2 471.5 276.9 472.5 276.6 473.5 276.5 473.8 276.4 474.5 276.2 475.5 276.0 476.5 M340.7 476.5 340.6 475.5 340.5 474.5 340.5 474.4 340.4 473.5 340.4 472.5 340.2 471.5 340.1 470.5 340.0 469.5 339.9 468.5 339.8 467.5 339.7 466.5 339.6 465.5 339.5 465.1 339.3 464.5 339.0 463.5 338.7 462.5 338.5 462.2 337.9 461.5 337.5 461.1 336.5 461.0 335.5 460.8 334.5 460.7 333.5 460.9 332.5 461.3 332.2 461.5 331.5 462.2 331.1 462.5 330.5 463.1 329.9 463.5 329.5 463.8 328.5 464.3 328.0 464.5 327.5 464.9 326.9 465.5 326.5 466.1 326.2 466.5 325.6 467.5 325.5 467.6 325.1 468.5 324.6 469.5 324.5 469.6 324.1 470.5 323.7 471.5 323.5 472.1 323.3 472.5 323.0 473.5 322.6 474.5 322.5 474.7 322.3 475.5 322.1 476.5 M398.1 476.5 398.1 475.5 398.1 474.5 398.0 473.5 398.0 472.5 398.0 471.5 398.0 470.5 397.9 469.5 397.9 468.5 397.9 467.5 397.9 466.5 397.9 465.5 397.8 464.5 397.8 463.5 397.8 462.5 397.8 461.5 397.8 460.5 397.7 459.5 397.7 458.5 397.7 457.5 397.7 456.5 397.6 455.5 397.6 454.5 397.6 453.5 397.6 452.5 397.5 451.5 397.5 451.1 397.5 450.5 397.4 449.5 397.4 448.5 397.4 447.5 397.3 446.5 397.3 445.5 397.3 444.5 397.2 443.5 397.2 442.5 397.1 441.5 397.1 440.5 397.1 439.9 M350.5 330.9 351.2 330.5 351.5 330.4 352.5 329.7 352.8 329.5 353.5 328.9 354.1 328.5 354.5 328.1 355.2 327.5 355.5 327.2 356.3 326.5 356.5 326.4 357.5 325.5 357.5 325.5 358.5 324.5 358.5 324.5 359.5 323.6 359.6 323.5 360.5 322.5 360.5 322.5 361.3 321.5 361.5 321.1 362.2 320.5 362.5 320.1 363.1 320.5 363.5 320.7 M296.5 345.0 296.7 344.5 297.0 343.5 297.3 342.5 297.5 341.7 297.6 341.5 297.8 340.5 298.1 339.5 298.5 338.9 299.5 338.7 300.5 338.7 301.5 339.3 301.6 339.5 301.8 340.5 302.1 341.5 302.3 342.5 302.5 343.1 303.5 342.7 M363.5 365.0 362.5 365.1 361.5 364.9 360.5 364.6 360.2 364.5 359.5 364.3 358.9 364.5 358.5 364.6 357.5 365.4 357.4 365.5 356.5 366.1 355.9 366.5 355.5 366.7 354.5 367.3 354.0 367.5 353.5 367.8 352.7 368.5 352.5 368.6 351.5 369.4 351.4 369.5 350.5 370.3 350.1 370.5 349.5 370.9 M409.5 369.7 410.5 369.7 410.6 369.5 410.7 368.5 410.9 367.5 411.0 366.5 411.2 365.5 411.3 364.5 411.4 363.5 411.5 363.2 411.5 362.5 411.6 361.5 411.7 360.5 411.8 359.5 411.9 358.5 412.0 357.5 412.1 356.5 412.4 355.5 412.5 355.3 M78.5 372.3 77.5 371.5 77.5 371.5 76.7 370.5 76.5 370.3 76.0 369.5 75.5 368.5 75.5 368.5 75.0 367.5 74.5 366.5 74.5 366.5 74.3 365.5 74.2 364.5 74.1 363.5 73.9 362.5 73.8 361.5 73.6 360.5 73.5 359.5 73.5 359.4 73.4 358.5 73.3 357.5 73.2 356.5 73.1 355.5 73.0 354.5 72.9 353.5 72.8 352.5 72.7 351.5 72.6 350.5 72.5 349.8 M348.5 392.8 349.2 393.5 349.5 393.7 350.4 394.5 350.5 394.5 350.8 395.5 351.2 396.5 351.5 397.0 351.7 397.5 351.9 398.5 352.4 399.5 352.5 399.7 352.8 400.5 353.2 401.5 353.5 402.2 353.6 402.5 354.2 403.5 354.5 404.1 354.6 404.5 355.0 405.5 355.4 406.5 355.5 406.8 355.7 407.5 355.9 408.5 356.2 409.5 356.3 410.5 356.4 411.5 356.4 412.5 356.4 413.5 356.4 414.5 356.4 415.5 356.5 416.5 356.5 417.5 356.5 418.5 356.5 419.5 356.5 419.7 356.5 420.5 356.6 421.5 356.6 422.5 356.6 423.5 356.7 424.5 356.7 425.5 356.8 426.5 356.8 427.5 356.9 428.5 356.9 429.5 357.0 430.5 357.0 431.5 357.0 432.5 357.0 433.5 357.1 434.5 357.1 435.5 357.2 436.5 357.2 437.5 357.2 438.5 357.3 439.5 357.4 440.5 357.4 441.5 357.4 442.5 357.4 443.5 357.4 444.5 357.4 445.5 357.5 446.5 357.5 447.1 357.5 447.5 357.5 448.5 357.5 449.5 357.6 450.5 357.6 451.5 357.6 452.5 357.6 453.5 357.7 454.5 357.7 455.5 357.7 456.5 357.8 457.5 357.8 458.5 357.8 459.5 357.8 460.5 357.7 461.5 357.6 462.5 357.6 463.5 357.6 464.5 357.5 465.3 357.5 465.5 357.4 466.5 357.2 467.5 356.7 468.5 356.5 468.9 356.3 469.5 356.0 470.5 355.5 471.3 355.0 471.5 354.5 471.8 353.5 471.6 352.9 471.5 352.5 471.4 351.5 471.2 350.5 470.9 349.5 470.7 348.8 470.5 348.5 470.4 347.5 470.0 346.5 469.6 346.4 469.5 345.8 468.5 345.5 467.9 345.4 467.5 345.1 466.5 344.9 465.5 344.6 464.5 344.5 463.6 344.5 463.5 344.2 462.5 344.2 461.5 344.0 460.5 343.9 459.5 343.9 458.5 343.9 457.5 343.8 456.5 343.8 455.5 343.8 454.5 343.8 453.5 343.7 452.5 343.7 451.5 343.7 450.5 343.6 449.5 343.5 448.7 343.5 448.5 343.4 447.5 343.3 446.5 343.2 445.5 343.1 444.5 343.0 443.5 342.9 442.5 342.7 441.5 342.6 440.5 342.5 440.0 342.4 439.5 342.1 438.5 341.8 437.5 341.5 436.5 341.5 436.3 340.5 435.5 340.5 435.5 M230.8 417.2 230.9 417.5 231.3 418.5 231.5 419.0 231.7 419.5 232.0 420.5 232.3 421.5 232.5 422.1 232.6 422.5 233.2 423.5 233.5 424.2 233.6 424.5 234.3 425.5 234.5 425.8 235.5 426.5 235.5 426.5 236.5 426.7 237.5 427.3 237.7 427.5 238.2 428.5 238.5 429.0 239.0 429.5 239.5 429.9 240.5 430.4 240.6 430.5 241.5 431.2 241.7 431.5 242.3 432.5 242.5 432.9 M126.5 444.4 126.2 444.5 125.9 445.5 125.8 446.5 125.8 447.5 125.8 448.5 125.8 449.5 125.7 450.5 125.7 451.5 125.7 452.5 125.7 453.5 125.6 454.5 125.6 455.5 125.6 456.5 125.5 457.5 125.5 458.5 125.5 459.0 125.5 459.5 125.4 460.5 125.4 461.5 125.3 462.5 125.3 463.5 125.3 464.5 125.2 465.5 125.2 466.5 125.1 467.5 125.1 468.5 125.1 469.5 125.0 470.5 125.0 471.5 125.0 472.5 124.9 473.5 124.9 474.5 124.9 475.5 124.9 476.5 M323.5 443.5 323.5 443.5 322.5 443.8 321.8 444.5 321.5 444.8 321.1 445.5 320.5 446.2 320.2 446.5 319.5 447.5 319.5 447.5 318.5 448.4 317.9 448.5 317.5 448.6 317.2 448.5 316.5 448.3 315.5 447.9 314.5 447.7 313.5 447.5 312.7 447.5 312.5 447.5 311.5 447.5 310.5 447.5 310.5 447.5 309.5 447.8 308.5 448.4 308.4 448.5 307.5 449.1 307.0 448.5 306.5 448.0 306.3 447.5 306.1 446.5 305.9 445.5 305.7 444.5 305.6 443.5 305.5 443.0 305.4 442.5 305.3 441.5 305.3 440.5 305.5 439.5 305.4 438.5 305.5 438.2 305.6 437.5 305.6 436.5 305.5 436.1 305.4 435.5 305.3 434.5 305.1 433.5 304.9 432.5 304.7 431.5 304.5 430.7 304.4 430.5 304.1 429.5 303.5 428.7 303.4 428.5 302.9 427.5 302.5 427.2 302.1 427.5 301.5 427.8 300.5 428.5 300.5 428.5 300.1 429.5 299.9 430.5 299.8 431.5 299.6 432.5 299.5 433.5 299.5 433.5 299.3 434.5 299.2 435.5 299.0 436.5 298.8 437.5 298.6 438.5 298.5 439.1 298.4 439.5 298.2 440.5 297.9 441.5 297.7 442.5 297.5 443.2 297.4 443.5 297.1 444.5 296.8 445.5 296.5 446.3 295.5 446.3 294.5 446.3 294.4 446.5 293.8 447.5 293.5 447.9 293.2 448.5 292.7 449.5 292.5 449.8 291.7 450.5 291.5 450.7 290.7 451.5 290.5 451.6 289.6 452.5 289.5 452.6 288.8 453.5 288.5 453.8 287.5 453.9 287.2 453.5 286.7 452.5 286.5 452.2 286.1 451.5 285.9 450.5 285.5 449.5 285.5 449.3 285.3 448.5 285.0 447.5 284.8 446.5 284.6 445.5 284.5 444.6 284.5 444.5 284.2 443.5 283.8 442.5 283.5 441.5 283.5 441.4 283.2 440.5 282.9 439.5 282.7 438.5 282.5 437.8 281.5 437.8 281.3 438.5 281.0 439.5 280.7 440.5 280.5 441.5 280.5 441.6 280.3 442.5 280.1 443.5 279.9 444.5 279.6 445.5 279.5 445.9 279.2 446.5 278.8 447.5 278.5 448.0 277.5 448.2 277.0 447.5 276.5 446.9 276.2 446.5 275.5 445.7 275.4 445.5 274.6 444.5 274.5 444.4 273.8 443.5 273.5 443.1 273.1 442.5 272.5 441.7 272.4 441.5 271.9 440.5 271.5 439.8 271.3 439.5 270.9 438.5 270.5 437.5 270.5 437.5 270.3 436.5 M367.2 444.5 367.5 444.1 368.5 444.3 368.6 444.5 369.1 445.5 369.4 446.5 369.5 446.7 369.9 447.5 370.1 448.5 370.4 449.5 370.5 449.9 371.0 450.5 371.5 451.4 371.8 450.5 372.2 449.5 372.5 449.0 372.9 448.5 373.4 447.5 373.5 447.4 374.3 446.5 374.5 446.3 374.7 446.5 375.5 447.5 375.5 447.5 375.8 448.5 376.0 449.5 376.0 450.5 376.0 451.5 376.0 452.5 376.0 453.5 376.0 454.5 376.0 455.5 376.0 456.5 376.0 457.5 376.0 458.5 375.9 459.5 375.9 460.5 375.9 461.5 375.9 462.5 375.9 463.5 375.9 464.5 375.9 465.5 375.6 466.5 375.5 467.2 375.4 467.5 374.7 468.5 374.5 468.9 373.9 468.5 373.5 468.2 372.5 467.5 372.4 467.5 371.5 466.6 371.5 466.5 371.0 465.5 370.5 464.5 370.5 464.4 370.3 463.5 370.0 462.5 369.8 461.5 369.5 460.5 369.5 460.3 369.3 459.5 369.1 458.5 368.8 457.5 368.5 457.0 368.1 456.5 367.5 455.5 367.5 455.5 366.9 454.5 366.6 453.5 366.5 453.3 366.2 452.5 366.0 451.5 365.7 450.5 365.7 449.5 366.0 448.5 366.0 447.5 366.4 446.5 366.5 445.9 366.6 445.5 367.2 444.5 M253.5 444.8 254.5 445.3 254.7 445.5 255.5 446.2 255.9 446.5 256.4 447.5 256.5 447.6 257.1 448.5 257.4 449.5 257.5 449.8 257.8 450.5 258.1 451.5 258.5 452.4 258.5 452.5 259.4 453.5 259.5 454.3 259.5 454.5 260.0 455.5 260.3 456.5 260.5 457.5 260.5 457.5 260.9 458.5 261.0 459.5 261.1 460.5 261.2 461.5 261.3 462.5 261.4 463.5 261.4 464.5 261.5 465.5 261.5 466.5 261.5 466.9 261.6 467.5 261.6 468.5 261.7 469.5 261.8 470.5 261.9 471.5 261.9 472.5 262.0 473.5 262.1 474.5 262.2 475.5 262.2 476.5 M98.5 455.5 98.5 455.4 98.8 455.5 99.5 456.1 99.5 456.5 99.7 457.5 99.8 458.5 99.9 459.5 100.0 460.5 100.1 461.5 100.1 462.5 100.2 463.5 100.2 464.5 100.2 465.5 100.3 466.5 100.3 467.5 100.4 468.5 100.4 469.5 100.2 470.5 99.9 471.5 99.8 472.5 99.5 472.9 98.5 472.8 98.3 472.5 98.1 471.5 97.9 470.5 97.8 469.5 97.8 468.5 97.7 467.5 97.7 466.5 97.7 465.5 97.7 464.5 97.7 463.5 97.8 462.5 97.8 461.5 97.9 460.5 98.0 459.5 98.1 458.5 98.2 457.5 98.4 456.5 98.5 455.5 M121.7 476.5 121.8 475.5 121.8 474.5 121.8 473.5 121.8 472.5 121.9 471.5 121.9 470.5 121.9 469.5 121.9 468.5 121.9 467.5 122.0 466.5 122.0 465.5 122.0 464.5 122.0 463.5 122.0 462.5 122.1 461.5 122.1 460.5 122.1 459.5 122.1 458.5 122.1 457.5 122.1 456.5 122.1 455.5 122.1 454.5 122.1 453.5 122.1 452.5 122.1 451.5 122.1 450.5 122.1 449.5 122.1 448.5 122.1 447.5 122.1 446.5 122.1 445.5 122.1 444.5 122.1 443.5 122.1 442.5 122.1 441.5 122.1 440.5 122.1 439.5 122.1 438.5 122.0 437.5 122.0 436.5 122.0 435.5 121.9 434.5 121.9 433.5 121.9 432.5 121.8 431.5 121.8 430.5 121.8 429.5 121.7 428.5 121.6 427.5 121.5 426.8 121.5 426.5 121.4 425.5 121.3 424.5 121.2 423.5 121.1 422.5 121.0 421.5 120.9 420.5 120.8 419.5 120.7 418.5 120.6 417.5 120.5 416.5 120.5 416.5 120.4 415.5 120.4 414.5 120.3 413.5 120.2 412.5 120.2 411.5 120.1 410.5 120.1 409.5 120.1 408.5 120.0 407.5 120.0 406.5 119.9 405.5 119.9 404.5 119.8 403.5 119.8 402.5 119.8 401.5 119.7 400.5 119.7 400.3 M127.7 476.5 127.7 475.5 127.7 474.5 127.6 473.5 127.6 472.5 127.6 471.5 127.5 470.5 127.5 469.6 127.5 469.5 127.5 468.5 127.4 467.5 127.4 466.5 127.4 465.5 127.4 464.5 127.3 463.5 127.2 462.5 127.2 461.5 127.1 460.5 127.1 459.5 127.1 458.5 127.0 457.5 127.0 456.5 127.5 455.5 127.5 455.0 M235.1 476.5 234.9 475.5 234.6 474.5 234.5 474.1 234.4 473.5 234.1 472.5 233.9 471.5 233.7 470.5 233.5 470.0 233.3 469.5 232.9 468.5 232.6 467.5 232.5 467.4 232.0 466.5 231.5 465.5 231.5 465.5 230.7 464.5 230.5 464.3 229.5 463.8 228.7 463.5 228.5 463.4 227.5 463.0 226.5 462.7 225.9 462.5 225.5 462.3 224.5 462.0 223.5 461.6 222.5 462.0 222.1 462.5 221.5 463.1 221.2 463.5 220.5 464.2 220.2 464.5 219.5 465.2 219.2 465.5 218.5 466.2 218.3 466.5 217.5 467.4 217.4 467.5 216.9 468.5 216.5 469.1 216.3 469.5 215.9 470.5 215.5 471.4 215.4 471.5 214.8 472.5 214.5 473.0 213.7 473.5 213.5 473.6 212.5 474.4 212.4 474.5 211.5 475.4 211.5 475.5 211.4 476.5 M400.5 476.5 400.5 475.5 400.5 474.5 400.4 473.5 400.4 472.5 400.4 471.5 400.4 470.5 400.3 469.5 400.3 468.5 400.3 467.5 400.3 466.5 400.2 465.5 400.2 464.5 400.2 463.5 400.2 462.5 400.1 461.5 400.1 460.5 400.1 459.5 400.1 458.5 400.1 457.5 400.0 456.5 400.0 455.5 400.0 454.5 400.0 453.5 399.9 452.5 399.9 451.5 399.9 450.5 399.9 449.5 399.9 448.5 399.9 447.5 399.9 446.5 399.9 445.5 399.9 444.5 399.9 443.5 399.9 442.5 399.9 441.5 399.9 440.5 399.9 439.5 399.9 438.5 399.9 437.5 399.9 436.5 399.9 435.5 399.9 434.5 399.9 433.5 400.0 432.5 400.0 432.0 M426.5 476.5 426.4 475.5 426.1 474.5 425.8 473.5 425.5 472.5 425.5 472.3 425.1 471.5 424.7 470.5 424.5 470.1 423.9 469.5 423.5 469.1 422.8 468.5 422.5 468.1 422.0 467.5 421.5 466.9 421.2 466.5 420.5 465.7 419.5 465.5 418.5 466.4 417.5 465.6 417.5 465.5 417.1 464.5 416.6 463.5 416.5 463.4 416.1 462.5 415.5 461.5 415.5 461.4 414.5 460.5 413.5 460.5 412.5 460.5 411.5 460.5 410.8 461.5 410.5 462.0 410.3 462.5 410.1 463.5 409.8 464.5 409.6 465.5 409.5 466.2 409.4 466.5 409.3 467.5 409.2 468.5 409.0 469.5 408.9 470.5 408.8 471.5 408.6 472.5 408.5 473.5 408.5 473.6 408.4 474.5 408.3 475.5 408.2 476.5 M448.8 476.5 448.5 476.1 447.6 475.5 447.5 475.5 446.5 475.1 445.5 474.7 444.8 474.5 444.5 474.4 444.2 474.5 443.5 474.7 442.8 475.5 442.5 476.5 M349.5 340.5 349.6 340.5 350.5 340.2 351.1 339.5 351.5 339.1 352.0 338.5 352.5 337.7 352.6 337.5 353.5 336.8 353.9 336.5 354.5 336.0 355.5 335.6 356.5 335.6 357.5 335.7 358.5 335.7 359.5 336.2 359.8 336.5 360.5 337.1 360.9 337.5 361.5 338.2 361.8 338.5 362.5 339.2 362.8 339.5 363.5 340.2 M363.5 349.2 363.0 349.5 362.5 349.8 361.5 350.4 361.3 350.5 360.5 351.0 359.5 351.5 359.5 351.5 358.5 352.4 358.4 352.5 357.8 353.5 357.5 354.5 357.5 354.5 356.9 355.5 356.5 356.1 356.2 356.5 355.5 357.4 355.4 357.5 354.5 358.0 353.5 357.9 352.5 357.8 351.5 357.6 350.5 357.5 349.5 357.5 M296.5 359.5 297.4 358.5 297.5 358.2 297.8 357.5 298.4 356.5 298.5 356.3 299.0 355.5 299.4 354.5 299.5 354.1 300.5 354.3 300.6 354.5 300.9 355.5 301.4 356.5 301.5 356.7 301.9 357.5 302.4 358.5 302.5 358.6 303.5 358.6 M409.5 378.4 410.5 377.8 410.9 377.5 411.5 377.0 412.0 376.5 412.3 375.5 412.5 375.2 412.9 374.5 413.0 373.5 413.3 372.5 413.3 371.5 413.5 370.9 413.6 370.5 413.6 369.5 413.7 368.5 413.7 367.5 413.7 366.5 413.7 365.5 413.8 364.5 413.9 363.5 414.0 362.5 414.5 361.5 414.5 361.5 M124.5 400.1 124.4 399.5 124.3 398.5 124.1 397.5 124.0 396.5 123.9 395.5 123.7 394.5 123.6 393.5 123.5 393.1 123.4 392.5 123.1 391.5 122.9 390.5 122.7 389.5 122.5 388.8 122.4 388.5 122.0 387.5 121.6 386.5 121.5 386.3 121.1 385.5 120.7 384.5 120.5 383.8 M470.5 414.4 470.2 413.5 470.0 412.5 469.8 411.5 469.5 410.7 469.2 411.5 469.1 412.5 468.7 413.5 468.5 414.1 468.4 414.5 468.3 415.5 468.3 416.5 468.2 417.5 468.1 418.5 468.0 419.5 468.0 420.5 468.0 421.5 468.0 422.5 468.0 423.5 468.0 424.5 468.0 425.5 468.0 426.5 468.0 427.5 468.0 428.5 468.0 429.5 468.0 430.5 468.0 431.5 468.0 432.5 468.0 433.5 468.0 434.5 468.0 435.5 468.0 436.5 468.0 437.5 468.0 438.5 468.0 439.5 468.0 440.5 468.5 441.5 468.5 441.5 469.5 441.8 469.7 441.5 470.2 440.5 470.5 439.5 M345.5 415.4 345.8 415.5 346.5 415.8 347.0 416.5 347.3 417.5 347.5 417.8 347.9 418.5 348.0 419.5 348.4 420.5 348.5 421.5 348.5 421.6 348.8 422.5 348.8 423.5 349.1 424.5 349.1 425.5 348.8 426.5 348.8 427.5 348.5 428.2 348.4 428.5 348.3 429.5 347.9 430.5 347.6 431.5 347.5 431.7 347.1 432.5 346.5 433.5 346.5 433.5 346.5 433.5 345.8 432.5 345.5 432.1 345.4 431.5 345.2 430.5 344.9 429.5 344.7 428.5 344.5 427.5 344.5 427.5 344.5 426.5 344.5 426.2 344.6 425.5 344.7 424.5 344.9 423.5 344.9 422.5 344.6 421.5 344.7 421.3 M228.4 419.6 228.5 419.8 228.9 420.5 229.2 421.5 229.5 421.8 230.2 422.5 230.5 422.9 230.8 423.5 231.3 424.5 231.5 424.8 231.8 425.5 231.9 426.5 232.5 427.5 232.5 427.5 232.6 428.5 232.8 429.5 233.0 430.5 233.2 431.5 233.3 432.5 233.5 433.4 233.5 433.5 233.7 434.5 233.9 435.5 234.1 436.5 234.4 437.5 234.5 438.0 234.6 438.5 235.0 439.5 235.0 440.5 234.8 441.5 234.5 442.5 234.5 442.7 234.3 443.5 234.1 444.5 233.9 445.5 233.5 446.3 233.3 446.5 232.5 447.5 232.5 447.6 232.0 448.5 231.5 449.0 230.8 449.5 230.5 449.6 229.5 450.1 228.7 450.5 228.5 450.6 227.5 451.0 226.5 451.4 226.0 451.5 225.5 451.6 224.5 451.7 223.5 451.7 222.5 452.3 222.3 452.5 221.5 453.5 221.5 453.6 220.7 454.5 220.5 454.8 219.9 455.5 219.5 456.1 219.1 456.5 218.5 457.2 218.2 457.5 217.5 458.1 217.1 458.5 216.5 459.1 216.1 459.5 215.5 460.1 214.5 460.2 213.7 459.5 213.5 459.1 213.2 458.5 212.5 457.6 212.4 457.5 212.1 456.5 211.7 455.5 211.5 454.7 211.4 454.5 211.2 453.5 211.0 452.5 210.8 451.5 210.6 450.5 210.5 450.1 210.4 449.5 210.3 448.5 210.1 447.5 210.0 446.5 209.9 445.5 209.8 444.5 210.0 443.5 210.0 442.5 210.1 441.5 210.2 440.5 210.3 439.5 210.4 438.5 210.5 437.6 210.5 437.5 210.7 436.5 210.8 435.5 211.0 434.5 211.1 433.5 211.3 432.5 211.5 431.5 211.5 431.3 211.7 430.5 M311.9 426.9 311.7 427.5 311.6 428.5 311.5 429.0 311.4 429.5 311.2 430.5 311.0 431.5 310.7 432.5 310.5 433.4 310.3 433.5 309.5 434.0 309.2 433.5 308.9 432.5 308.5 431.6 308.4 431.5 308.2 430.5 307.8 429.5 307.6 428.5 307.5 428.3 307.4 427.5 307.2 426.5 306.5 425.7 306.2 425.5 305.5 425.0 304.7 424.5 304.5 424.4 303.5 423.7 303.2 423.5 302.5 423.1 301.6 422.5 301.5 422.4 301.2 421.5 300.7 420.5 300.5 419.9 300.0 419.5 299.5 419.0 299.1 419.5 298.6 420.5 298.5 420.7 298.1 421.5 297.6 422.5 297.5 422.8 297.3 423.5 296.9 424.5 296.6 425.5 296.5 425.8 295.5 425.8 294.5 425.8 294.1 426.5 293.5 427.4 293.5 427.5 293.4 428.5 293.2 429.5 292.9 430.5 292.8 431.5 292.7 432.5 292.6 433.5 292.5 434.4 292.5 434.5 292.4 435.5 292.2 436.5 292.2 437.5 292.1 438.5 292.1 439.5 291.9 440.5 291.5 441.5 291.5 441.6 290.9 442.5 290.5 442.9 289.5 443.2 288.8 443.5 288.5 444.1 288.3 443.5 288.0 442.5 287.7 441.5 287.5 440.5 287.5 440.5 287.4 439.5 287.3 438.5 287.2 437.5 287.1 436.5 287.0 435.5 287.0 434.5 286.9 433.5 286.8 432.5 286.7 431.5 286.7 430.5 286.7 429.5 286.7 428.5 286.6 427.5 286.6 426.5 286.7 425.5 286.7 424.5 M253.5 450.3 253.7 450.5 254.5 451.0 254.8 451.5 255.2 452.5 255.3 453.5 255.5 454.4 255.5 454.5 255.8 455.5 256.1 456.5 256.5 457.3 256.7 457.5 257.1 458.5 257.5 459.0 257.8 459.5 258.2 460.5 258.5 461.0 258.7 461.5 258.8 462.5 258.8 463.5 258.9 464.5 258.9 465.5 258.9 466.5 258.9 467.5 258.9 468.5 258.9 469.5 258.9 470.5 258.9 471.5 258.9 472.5 259.0 473.5 259.0 474.5 259.0 475.5 259.0 476.5 M504.5 461.7 503.5 461.7 502.5 461.6 501.5 462.0 500.5 462.5 500.5 462.5 499.5 463.0 499.2 463.5 498.7 464.5 498.5 465.3 498.5 465.5 498.3 466.5 498.3 467.5 498.1 468.5 498.1 469.5 498.0 470.5 497.7 471.5 497.5 472.2 497.4 472.5 497.0 473.5 496.6 474.5 496.5 474.6 495.6 475.5 495.5 475.7 495.1 476.5 M207.0 466.0 207.0 466.5 206.8 467.5 206.7 468.5 206.5 468.9 206.0 469.5 205.5 470.0 204.5 470.4 204.1 470.5 203.5 470.7 202.5 471.0 201.5 471.5 201.4 471.5 200.5 471.8 199.5 472.1 198.5 472.2 197.5 472.3 196.5 472.4 195.5 472.5 195.3 472.5 194.5 472.6 193.5 472.7 192.5 472.8 191.5 472.9 190.5 473.0 189.5 473.2 188.5 473.4 188.1 473.5 187.5 473.6 186.5 473.9 185.5 474.1 184.5 474.4 184.1 474.5 183.5 474.6 182.5 474.8 181.5 474.9 180.5 475.0 179.5 475.2 179.0 475.5 178.6 476.5 M160.5 469.7 160.5 469.5 160.0 468.5 159.6 467.5 159.5 467.2 158.7 466.5 158.5 466.4 158.2 466.5 157.5 466.9 156.5 467.4 156.2 467.5 155.5 467.9 154.8 468.5 154.5 468.7 153.6 469.5 153.5 469.5 152.5 469.9 151.5 469.7 151.2 469.5 150.5 469.1 149.5 468.7 148.5 468.9 M136.5 476.5 136.5 475.5 136.0 474.5 135.5 474.0 135.1 473.5 134.8 472.5 134.5 471.9 134.2 471.5 133.7 470.5 133.5 470.3 132.5 470.3 131.5 470.4 130.7 470.5 130.5 470.5 130.5 470.5 130.4 469.5 130.2 468.5 130.1 467.5 130.0 466.5 129.9 465.5 129.7 464.5 129.5 463.9 129.4 463.5 129.3 462.5 129.1 461.5 129.0 460.5 128.9 459.5 M461.7 476.5 461.5 475.8 461.4 475.5 460.5 474.8 460.2 474.5 459.5 473.9 459.1 473.5 458.7 472.5 458.5 471.7 458.4 471.5 458.0 470.5 457.5 469.7 457.2 469.5 456.5 469.0 455.7 468.5 455.5 468.4 454.5 467.7 454.2 467.5 453.5 467.0 453.0 466.5 452.5 466.0 452.1 465.5 451.5 464.8 451.3 464.5 450.5 463.7 450.4 463.5 449.9 462.5 449.5 461.6 449.4 461.5 448.6 460.5 448.5 460.4 447.5 460.4 446.5 460.4 445.5 460.4 444.5 460.4 444.5 460.5 443.9 461.5 443.5 462.0 443.2 462.5 442.8 463.5 442.5 464.4 442.4 464.5 441.9 465.5 441.5 466.0 441.1 466.5 440.5 467.2 440.2 467.5 439.5 468.4 439.1 468.5 438.5 468.6 438.2 468.5 437.5 468.2 436.5 467.8 435.7 467.5 435.5 467.4 434.5 466.8 434.1 466.5 433.5 466.0 433.1 465.5 432.5 464.8 432.2 464.5 431.5 463.8 431.2 463.5 430.5 462.7 430.3 462.5 429.5 461.7 429.4 461.5 428.8 460.5 428.5 460.0 428.3 459.5 427.9 458.5 427.5 457.6 427.5 457.5 427.3 456.5 427.1 455.5 426.8 454.5 426.5 453.5 426.5 453.5 426.4 452.5 426.3 451.5 426.1 450.5 426.0 449.5 425.9 448.5 425.9 447.5 425.8 446.5 425.8 445.5 425.7 444.5 425.6 443.5 425.5 442.5 425.5 441.8 425.5 441.5 425.3 440.5 425.2 439.5 425.0 438.5 424.9 437.5 424.7 436.5 424.6 435.5 424.5 435.1 424.1 434.5 423.8 433.5 423.5 433.0 423.2 432.5 422.7 431.5 422.5 430.9 422.3 430.5 422.1 429.5 421.9 428.5 421.7 427.5 421.5 426.8 421.4 426.5 421.2 425.5 421.0 424.5 420.8 423.5 420.5 422.5 420.5 422.4 420.5 422.5 420.3 423.5 420.0 424.5 419.8 425.5 419.6 426.5 419.5 427.1 419.5 427.5 419.3 428.5 419.2 429.5 419.1 430.5 418.9 431.5 418.6 432.5 418.5 433.1 417.5 432.7 417.4 432.5 417.2 431.5 417.0 430.5 416.9 429.5 416.7 428.5 416.6 427.5 416.5 426.9 416.4 426.5 416.4 425.5 416.2 424.5 416.1 423.5 416.0 422.5 415.9 421.5 415.8 420.5 415.7 419.5 415.6 418.5 415.5 418.0 415.4 417.5 415.1 416.5 415.0 415.5 414.7 414.5 414.7 413.5 414.5 412.8 414.4 412.5 414.4 411.5 414.1 410.5 414.2 409.5 414.0 408.5 414.0 407.5 413.9 406.5 414.0 405.5 413.8 404.5 413.7 403.5 413.6 402.5 413.5 401.6 413.5 401.5 413.4 400.5 413.3 399.5 413.1 398.5 413.0 397.5 412.9 396.5 412.8 395.5 412.7 394.5 412.5 393.7 412.4 393.5 412.3 392.5 412.0 391.5 411.8 390.5 411.5 389.5 411.5 389.3 411.1 389.5 410.5 389.8 410.3 390.5 410.2 391.5 410.0 392.5 410.0 393.5 409.8 394.5 409.8 395.5 409.7 396.5 409.7 397.5 409.6 398.5 409.6 399.5 409.6 400.5 409.5 401.5 409.5 401.8 409.5 402.5 409.4 403.5 409.3 404.5 409.3 405.5 409.4 406.5 409.4 407.5 409.5 408.1 409.5 408.5 409.6 409.5 409.7 410.5 409.7 411.5 409.9 412.5 409.9 413.5 410.1 414.5 410.2 415.5 410.3 416.5 410.5 417.4 410.6 417.5 410.8 418.5 411.3 419.5 411.2 420.5 411.0 421.5 410.8 422.5 410.5 423.5 410.5 423.7 410.3 424.5 410.2 425.5 410.0 426.5 409.8 427.5 409.6 428.5 409.5 429.1 409.4 429.5 409.3 430.5 409.0 431.5 408.7 432.5 408.5 433.4 408.5 433.5 408.2 434.5 407.9 435.5 407.7 436.5 407.5 437.0 407.3 436.5 407.1 435.5 406.7 434.5 406.5 433.5 406.5 433.3 406.4 432.5 406.3 431.5 406.2 430.5 406.2 429.5 406.2 428.5 406.1 427.5 406.1 426.5 406.0 425.5 405.9 424.5 405.9 423.5 405.8 422.5 405.8 421.5 405.8 420.5 405.7 419.5 405.7 418.5 405.6 417.5 405.5 416.5 405.5 415.9 405.4 415.5 405.3 414.5 405.1 413.5 405.0 412.5 404.8 411.5 404.7 410.5 404.5 409.6 M296.5 369.0 297.5 369.0 298.5 368.9 299.5 368.6 300.5 368.6 301.5 368.9 302.5 368.9 303.5 369.5 M470.5 373.2 470.5 373.5 470.5 374.5 470.4 375.5 470.4 376.5 470.3 377.5 470.3 378.5 470.3 379.5 470.2 380.5 470.1 381.5 470.0 382.5 469.9 383.5 469.8 384.5 469.6 385.5 469.5 386.5 469.5 386.8 469.3 387.5 469.0 388.5 468.8 389.5 468.5 390.5 468.5 390.5 468.2 391.5 468.1 392.5 467.8 393.5 467.6 394.5 467.5 395.2 467.4 395.5 467.2 396.5 467.1 397.5 467.1 398.5 467.0 399.5 466.8 400.5 466.7 401.5 466.6 402.5 466.5 403.5 466.5 404.1 466.5 404.5 466.4 405.5 466.4 406.5 466.3 407.5 466.3 408.5 466.3 409.5 466.2 410.5 466.2 411.5 466.2 412.5 466.1 413.5 466.0 414.5 466.0 415.5 466.0 416.5 466.0 417.5 466.0 418.5 466.0 419.5 465.9 420.5 465.9 421.5 465.9 422.5 465.9 423.5 465.9 424.5 465.9 425.5 465.9 426.5 465.9 427.5 465.9 428.5 465.9 429.5 465.9 430.5 465.9 431.5 465.9 432.5 465.9 433.5 465.9 434.5 465.9 435.5 465.9 436.5 465.9 437.5 465.9 438.5 465.9 439.5 465.9 440.5 466.0 441.5 466.4 442.5 466.5 443.2 466.5 443.5 466.5 444.5 466.8 445.5 467.5 446.2 467.8 446.5 468.5 447.2 468.9 447.5 469.5 448.4 469.5 448.5 469.9 449.5 470.0 450.5 470.1 451.5 470.1 452.5 470.1 453.5 470.2 454.5 470.3 455.5 470.3 456.5 470.3 457.5 470.4 458.5 470.5 459.4 470.5 459.5 470.7 460.5 471.1 461.5 471.5 462.5 471.5 462.6 471.5 462.5 472.0 461.5 472.5 460.6 472.5 460.5 472.6 459.5 473.0 458.5 473.4 457.5 473.5 457.3 473.8 456.5 473.8 455.5 474.0 454.5 474.4 453.5 474.5 452.8 474.6 452.5 474.6 451.5 474.7 450.5 475.0 449.5 475.1 448.5 475.3 447.5 475.3 446.5 M304.0 384.0 304.0 384.5 304.0 385.5 304.1 386.5 304.1 387.5 304.1 388.5 304.1 389.5 304.2 390.5 304.2 391.5 304.3 392.5 304.3 393.5 304.5 393.8 M419.5 387.5 419.5 387.5 419.0 388.5 418.9 389.5 418.8 390.5 418.7 391.5 418.6 392.5 418.5 393.2 418.3 393.5 417.8 394.5 417.5 395.0 417.4 394.5 417.3 393.5 417.2 392.5 417.0 391.5 416.8 390.5 416.7 389.5 416.7 388.5 416.6 387.5 416.6 386.5 416.5 385.6 416.5 385.5 416.5 384.5 416.5 383.5 416.5 382.5 416.5 381.5 416.5 380.5 416.5 379.5 416.5 379.5 M406.5 391.0 406.6 391.5 406.7 392.5 406.8 393.5 406.9 394.5 407.0 395.5 406.9 396.5 407.0 397.5 406.9 398.5 407.1 399.5 406.8 400.5 406.5 401.4 406.4 400.5 406.4 399.5 406.4 398.5 406.3 397.5 406.3 396.5 406.2 395.5 406.2 394.5 406.3 393.7 M305.3 402.3 305.3 402.5 305.3 403.5 305.3 404.5 305.3 405.5 304.7 406.5 304.5 406.6 303.5 407.1 303.3 407.5 303.2 408.5 303.2 409.5 303.2 410.5 303.2 411.5 303.2 412.5 303.2 413.5 303.2 414.5 303.2 415.5 303.2 416.5 303.2 417.5 303.2 418.5 303.5 419.1 303.6 419.5 303.8 420.5 303.5 420.6 303.3 420.5 302.5 420.1 302.3 419.5 302.3 418.5 302.2 417.5 302.2 416.5 302.1 415.5 302.0 414.5 302.0 413.5 301.9 412.5 301.5 412.0 300.9 411.5 300.5 411.2 299.5 410.8 298.5 410.9 297.5 411.0 296.5 411.5 295.5 411.5 294.5 411.5 294.4 411.5 293.5 411.8 293.2 411.5 293.0 410.5 293.0 409.5 293.0 408.5 293.0 407.5 293.0 406.5 293.0 405.5 293.2 404.5 293.2 403.5 293.3 402.5 293.4 401.5 293.4 400.5 293.2 399.5 293.2 398.5 293.2 397.5 293.2 396.5 293.2 395.5 293.2 394.5 293.2 393.5 293.2 392.5 293.2 391.5 293.2 390.5 293.2 389.5 293.2 388.5 293.2 387.5 293.2 386.5 293.2 385.5 293.3 384.7 M223.2 426.8 223.4 427.5 223.5 427.7 223.8 428.5 224.1 429.5 224.5 430.3 224.6 430.5 225.4 431.5 225.5 431.7 226.1 432.5 226.5 432.8 226.9 433.5 227.5 434.3 227.6 434.5 228.1 435.5 228.5 436.1 228.7 436.5 229.3 437.5 229.5 437.8 230.0 438.5 230.5 439.2 230.6 439.5 230.5 439.8 230.0 440.5 229.5 440.7 228.5 441.2 227.9 441.5 227.5 441.7 226.5 442.1 226.1 442.5 225.5 442.9 224.7 443.5 224.8 444.5 224.5 444.9 224.0 445.5 223.5 445.8 222.5 446.2 221.5 446.4 221.3 446.5 221.1 447.5 220.5 448.0 220.1 448.5 220.1 449.5 219.5 450.5 219.5 450.5 218.5 451.1 217.5 451.0 216.5 451.1 215.5 451.1 215.3 450.5 215.3 449.5 215.2 448.5 215.2 447.5 215.2 446.5 215.2 445.5 215.2 444.5 215.2 443.5 215.2 442.5 215.3 441.5 215.3 440.5 215.3 439.5 215.3 438.5 215.3 437.5 215.3 436.5 215.3 435.5 215.3 434.5 215.3 433.5 215.3 432.5 M481.5 435.5 481.1 436.5 480.8 437.5 480.5 438.2 480.4 438.5 480.3 439.5 480.0 440.5 480.0 441.5 479.8 442.5 479.8 443.5 479.6 444.5 479.6 445.5 479.8 446.5 479.8 447.5 480.0 448.5 480.0 449.5 480.3 450.5 480.4 451.5 480.5 451.8 480.8 452.5 481.1 453.5 481.5 454.5 482.1 454.5 482.5 454.5 482.5 454.5 483.1 453.5 483.3 452.5 483.5 452.2 483.8 451.5 483.9 450.5 484.2 449.5 484.3 448.5 484.5 447.5 484.5 447.3 484.5 446.5 484.7 445.5 484.8 444.5 484.7 443.5 484.5 442.5 484.5 442.1 484.4 441.5 484.3 440.5 484.1 439.5 483.8 438.5 483.6 437.5 483.5 437.3 483.0 436.5 482.5 435.6 481.5 435.5 M141.5 451.1 141.4 451.5 141.3 452.5 141.2 453.5 141.1 454.5 141.0 455.5 140.9 456.5 140.8 457.5 140.7 458.5 140.6 459.5 140.6 460.5 140.5 461.0 140.4 461.5 140.4 462.5 140.3 463.5 140.2 464.5 140.1 465.5 139.5 466.3 138.5 466.3 137.9 465.5 137.5 464.8 137.3 464.5 137.2 463.5 136.5 462.6 136.4 462.5 136.2 461.5 135.5 461.0 134.7 460.5 134.5 460.2 133.5 459.6 132.5 459.5 132.2 459.5 M504.5 454.1 503.5 454.1 502.5 454.3 501.5 454.4 500.9 454.5 500.5 454.6 499.5 454.8 498.5 455.4 498.4 455.5 497.6 456.5 497.5 457.0 497.4 457.5 496.9 458.5 496.9 459.5 496.5 460.5 496.5 461.5 496.5 461.6 496.3 462.5 496.3 463.5 496.1 464.5 496.1 465.5 496.0 466.5 496.0 467.5 496.0 468.5 496.0 469.5 495.8 470.5 495.5 471.0 495.0 471.5 494.5 472.2 494.2 472.5 493.5 473.0 492.9 473.5 492.5 474.2 492.3 474.5 492.0 475.5 491.6 476.5 M160.5 459.7 159.5 459.7 159.3 459.5 159.0 458.5 158.5 457.6 158.5 457.5 158.3 456.5 157.8 455.5 157.5 454.5 157.5 454.4 157.2 453.5 156.8 452.5 156.5 451.7 156.4 451.5 156.0 450.5 155.5 449.5 155.2 449.5 154.5 449.4 154.5 449.5 154.0 450.5 153.6 451.5 153.5 451.8 153.3 452.5 153.1 453.5 152.8 454.5 152.6 455.5 152.5 455.9 151.5 455.7 151.5 455.5 151.4 454.5 151.2 453.5 151.1 452.5 150.9 451.5 150.7 450.5 150.5 449.5 150.5 449.4 150.3 448.5 150.1 447.5 149.8 446.5 149.5 445.5 149.5 445.5 148.6 444.5 M174.7 469.7 174.5 469.7 173.5 469.7 172.8 470.5 172.5 470.7 171.8 471.5 171.5 471.8 171.0 471.5 170.9 470.5 170.7 469.5 170.6 468.5 170.5 468.1 M464.1 476.5 464.1 475.5 463.9 474.5 463.5 473.9 463.2 473.5 462.5 472.5 462.5 472.5 462.0 471.5 461.5 471.1 461.1 470.5 460.8 469.5 460.7 468.5 460.5 468.1 460.2 467.5 459.9 466.5 459.9 465.5 459.5 464.7 459.4 464.5 458.5 463.6 458.3 463.5 457.5 462.8 456.9 462.5 456.5 462.3 455.5 461.7 455.1 461.5 454.5 461.2 453.8 460.5 453.5 460.2 453.1 459.5 452.5 458.5 452.5 458.5 452.2 457.5 452.1 456.5 451.9 455.5 451.8 454.5 451.6 453.5 451.5 452.9 451.4 452.5 451.1 451.5 450.9 450.5 450.5 449.7 450.4 449.5 450.0 448.5 449.5 447.9 448.8 447.5 448.5 447.4 448.2 447.5 447.5 447.8 446.5 448.2 445.9 448.5 445.5 448.6 444.5 448.9 443.6 449.5 443.5 449.6 443.0 450.5 442.5 451.3 442.3 451.5 442.2 452.5 441.7 453.5 441.5 454.5 441.5 454.6 441.2 455.5 441.1 456.5 441.0 457.5 440.8 458.5 440.7 459.5 440.5 460.3 440.4 460.5 439.8 461.5 439.5 462.0 438.5 462.4 437.5 461.7 437.2 461.5 436.5 461.0 435.9 460.5 435.5 460.1 434.9 459.5 434.5 458.9 434.1 458.5 433.5 458.0 433.0 457.5 432.5 457.0 432.0 456.5 431.5 456.0 431.0 455.5 430.5 455.0 430.0 454.5 429.5 453.8 429.4 453.5 428.8 452.5 428.5 451.7 428.5 451.5 428.2 450.5 428.0 449.5 428.0 448.5 428.0 447.5 428.0 446.5 428.0 445.5 428.0 444.5 427.9 443.5 427.9 442.5 427.9 441.5 427.9 440.5 427.9 439.5 427.8 438.5 427.8 437.5 427.8 436.5 427.8 435.5 427.7 434.5 427.6 433.6" fill="none" stroke="#000" stroke-width="0.6" stroke-opacity="0.7"/>
<rect x="30.5" y="9.6" width="474.3" height="202.5" fill="none" stroke="#7a7a7a" stroke-width="0.9"/>
<path d="M30.5 195.90h4.5M504.8 195.90h-4.5" stroke="#7a7a7a" stroke-width="0.8"/>
<text x="26.2" y="198.80" class="t">1</text>
<path d="M30.5 164.85h4.5M504.8 164.85h-4.5" stroke="#7a7a7a" stroke-width="0.8"/>
<text x="26.2" y="167.75" class="t">2</text>
<path d="M30.5 133.80h4.5M504.8 133.80h-4.5" stroke="#7a7a7a" stroke-width="0.8"/>
<text x="26.2" y="136.70" class="t">3</text>
<path d="M30.5 102.75h4.5M504.8 102.75h-4.5" stroke="#7a7a7a" stroke-width="0.8"/>
<text x="26.2" y="105.65" class="t">4</text>
<path d="M30.5 71.70h4.5M504.8 71.70h-4.5" stroke="#7a7a7a" stroke-width="0.8"/>
<text x="26.2" y="74.60" class="t">5</text>
<path d="M30.5 40.65h4.5M504.8 40.65h-4.5" stroke="#7a7a7a" stroke-width="0.8"/>
<text x="26.2" y="43.55" class="t">6</text>
<path d="M30.5 9.60h4.5M504.8 9.60h-4.5" stroke="#7a7a7a" stroke-width="0.8"/>
<text x="26.2" y="12.50" class="t">7</text>
<path d="M66.40 212.1v-4M66.40 9.6v4" stroke="#7a7a7a" stroke-width="0.8"/>
<text x="66.40" y="223.4" class="t">06/14-00</text>
<path d="M123.60 212.1v-4M123.60 9.6v4" stroke="#7a7a7a" stroke-width="0.8"/>
<text x="123.60" y="223.4" class="t">06/15-00</text>
<path d="M180.80 212.1v-4M180.80 9.6v4" stroke="#7a7a7a" stroke-width="0.8"/>
<text x="180.80" y="223.4" class="t">06/16-00</text>
<path d="M238.00 212.1v-4M238.00 9.6v4" stroke="#7a7a7a" stroke-width="0.8"/>
<text x="238.00" y="223.4" class="t">06/17-00</text>
<path d="M295.20 212.1v-4M295.20 9.6v4" stroke="#7a7a7a" stroke-width="0.8"/>
<text x="295.20" y="223.4" class="t">06/18-00</text>
<path d="M352.40 212.1v-4M352.40 9.6v4" stroke="#7a7a7a" stroke-width="0.8"/>
<text x="352.40" y="223.4" class="t">06/19-00</text>
<path d="M409.60 212.1v-4M409.60 9.6v4" stroke="#7a7a7a" stroke-width="0.8"/>
<text x="409.60" y="223.4" class="t">06/20-00</text>
<path d="M466.80 212.1v-4M466.80 9.6v4" stroke="#7a7a7a" stroke-width="0.8"/>
<text x="466.80" y="223.4" class="t">06/21-00</text>
<text x="267.7" y="234.8" class="t" style="font-size:8.6px">LT (Month/Day-Hour)</text>
<text transform="translate(20.0 110.6) rotate(-90)" class="t" style="font-size:8.4px">Altitude a.m.s.l. (km)</text>
<text x="5.5" y="37.0" class="s">(a)</text>
<rect x="30.5" y="280.6" width="474.3" height="202.5" fill="none" stroke="#7a7a7a" stroke-width="0.9"/>
<path d="M30.5 466.90h4.5M504.8 466.90h-4.5" stroke="#7a7a7a" stroke-width="0.8"/>
<text x="26.2" y="469.80" class="t">1</text>
<path d="M30.5 435.85h4.5M504.8 435.85h-4.5" stroke="#7a7a7a" stroke-width="0.8"/>
<text x="26.2" y="438.75" class="t">2</text>
<path d="M30.5 404.80h4.5M504.8 404.80h-4.5" stroke="#7a7a7a" stroke-width="0.8"/>
<text x="26.2" y="407.70" class="t">3</text>
<path d="M30.5 373.75h4.5M504.8 373.75h-4.5" stroke="#7a7a7a" stroke-width="0.8"/>
<text x="26.2" y="376.65" class="t">4</text>
<path d="M30.5 342.70h4.5M504.8 342.70h-4.5" stroke="#7a7a7a" stroke-width="0.8"/>
<text x="26.2" y="345.60" class="t">5</text>
<path d="M30.5 311.65h4.5M504.8 311.65h-4.5" stroke="#7a7a7a" stroke-width="0.8"/>
<text x="26.2" y="314.55" class="t">6</text>
<path d="M30.5 280.60h4.5M504.8 280.60h-4.5" stroke="#7a7a7a" stroke-width="0.8"/>
<text x="26.2" y="283.50" class="t">7</text>
<path d="M66.40 483.1v-4M66.40 280.6v4" stroke="#7a7a7a" stroke-width="0.8"/>
<text x="66.40" y="494.4" class="t">06/14-00</text>
<path d="M123.60 483.1v-4M123.60 280.6v4" stroke="#7a7a7a" stroke-width="0.8"/>
<text x="123.60" y="494.4" class="t">06/15-00</text>
<path d="M180.80 483.1v-4M180.80 280.6v4" stroke="#7a7a7a" stroke-width="0.8"/>
<text x="180.80" y="494.4" class="t">06/16-00</text>
<path d="M238.00 483.1v-4M238.00 280.6v4" stroke="#7a7a7a" stroke-width="0.8"/>
<text x="238.00" y="494.4" class="t">06/17-00</text>
<path d="M295.20 483.1v-4M295.20 280.6v4" stroke="#7a7a7a" stroke-width="0.8"/>
<text x="295.20" y="494.4" class="t">06/18-00</text>
<path d="M352.40 483.1v-4M352.40 280.6v4" stroke="#7a7a7a" stroke-width="0.8"/>
<text x="352.40" y="494.4" class="t">06/19-00</text>
<path d="M409.60 483.1v-4M409.60 280.6v4" stroke="#7a7a7a" stroke-width="0.8"/>
<text x="409.60" y="494.4" class="t">06/20-00</text>
<path d="M466.80 483.1v-4M466.80 280.6v4" stroke="#7a7a7a" stroke-width="0.8"/>
<text x="466.80" y="494.4" class="t">06/21-00</text>
<text x="267.7" y="505.8" class="t" style="font-size:8.6px">LT (Month/Day-Hour)</text>
<text transform="translate(20.0 381.6) rotate(-90)" class="t" style="font-size:8.4px">Altitude a.m.s.l. (km)</text>
<text x="5.5" y="308.0" class="s">(b)</text>
<defs><linearGradient id="g245"><stop offset="0.0000" stop-color="#00008c"/><stop offset="0.0312" stop-color="#0000ad"/><stop offset="0.0625" stop-color="#0000ce"/><stop offset="0.0938" stop-color="#0004e7"/><stop offset="0.1250" stop-color="#000afe"/><stop offset="0.1562" stop-color="#0025ff"/><stop offset="0.1875" stop-color="#0045ff"/><stop offset="0.2188" stop-color="#0068ff"/><stop offset="0.2500" stop-color="#0082ff"/><stop offset="0.2812" stop-color="#009cff"/><stop offset="0.3125" stop-color="#00b8ff"/><stop offset="0.3438" stop-color="#00d5ff"/><stop offset="0.3750" stop-color="#00eef7"/><stop offset="0.4062" stop-color="#00fee2"/><stop offset="0.4375" stop-color="#00fbb2"/><stop offset="0.4688" stop-color="#06f480"/><stop offset="0.5000" stop-color="#21f050"/><stop offset="0.5312" stop-color="#57f126"/><stop offset="0.5625" stop-color="#a7f810"/><stop offset="0.5938" stop-color="#dbfa05"/><stop offset="0.6250" stop-color="#f8f400"/><stop offset="0.6562" stop-color="#ffe200"/><stop offset="0.6875" stop-color="#ffc400"/><stop offset="0.7188" stop-color="#ffa600"/><stop offset="0.7500" stop-color="#ff8a00"/><stop offset="0.7812" stop-color="#ff6d00"/><stop offset="0.8125" stop-color="#ff4a00"/><stop offset="0.8438" stop-color="#fd2700"/><stop offset="0.8750" stop-color="#f80900"/><stop offset="0.9062" stop-color="#e50400"/><stop offset="0.9375" stop-color="#cc0000"/><stop offset="0.9688" stop-color="#a60000"/><stop offset="1.0000" stop-color="#800000"/></linearGradient></defs>
<rect x="30.3" y="245.3" width="474.6" height="5.3" fill="url(#g245)" stroke="#555" stroke-width="0.5"/>
<path d="M30.30 245.3V250.6" stroke="#333" stroke-width="0.6" stroke-opacity="0.6"/>
<path d="M98.10 245.3V250.6" stroke="#333" stroke-width="0.6" stroke-opacity="0.6"/>
<path d="M165.90 245.3V250.6" stroke="#333" stroke-width="0.6" stroke-opacity="0.6"/>
<path d="M233.70 245.3V250.6" stroke="#333" stroke-width="0.6" stroke-opacity="0.6"/>
<path d="M301.50 245.3V250.6" stroke="#333" stroke-width="0.6" stroke-opacity="0.6"/>
<path d="M369.30 245.3V250.6" stroke="#333" stroke-width="0.6" stroke-opacity="0.6"/>
<path d="M437.10 245.3V250.6" stroke="#333" stroke-width="0.6" stroke-opacity="0.6"/>
<path d="M504.90 245.3V250.6" stroke="#333" stroke-width="0.6" stroke-opacity="0.6"/>
<text x="30.30" y="261.7" class="t">-5</text>
<text x="98.10" y="261.7" class="t">0</text>
<text x="165.90" y="261.7" class="t">5</text>
<text x="233.70" y="261.7" class="t">10</text>
<text x="301.50" y="261.7" class="t">15</text>
<text x="369.30" y="261.7" class="t">20</text>
<text x="437.10" y="261.7" class="t">25</text>
<text x="504.90" y="261.7" class="t">30</text>
<text x="267.7" y="272.0" class="t" style="font-size:7.9px">Temperature (°C)</text>
<defs><linearGradient id="g516"><stop offset="0.0000" stop-color="#faf000"/><stop offset="0.0294" stop-color="#fae800"/><stop offset="0.0588" stop-color="#fae100"/><stop offset="0.0882" stop-color="#fad405"/><stop offset="0.1176" stop-color="#fac80a"/><stop offset="0.1471" stop-color="#fabc13"/><stop offset="0.1765" stop-color="#f9b21a"/><stop offset="0.2059" stop-color="#f6ad1d"/><stop offset="0.2353" stop-color="#dcb614"/><stop offset="0.2647" stop-color="#bbc114"/><stop offset="0.2941" stop-color="#a0c51e"/><stop offset="0.3235" stop-color="#80c830"/><stop offset="0.3529" stop-color="#46c855"/><stop offset="0.3824" stop-color="#15c771"/><stop offset="0.4118" stop-color="#00c382"/><stop offset="0.4412" stop-color="#00c08c"/><stop offset="0.4706" stop-color="#00be96"/><stop offset="0.5000" stop-color="#00bcaa"/><stop offset="0.5294" stop-color="#00b9be"/><stop offset="0.5588" stop-color="#00b2cd"/><stop offset="0.5882" stop-color="#00aadc"/><stop offset="0.6176" stop-color="#009fe3"/><stop offset="0.6471" stop-color="#0094eb"/><stop offset="0.6765" stop-color="#0586f0"/><stop offset="0.7059" stop-color="#0a78f5"/><stop offset="0.7353" stop-color="#0f6ef5"/><stop offset="0.7647" stop-color="#1464f5"/><stop offset="0.7941" stop-color="#1e5af2"/><stop offset="0.8235" stop-color="#2850f0"/><stop offset="0.8529" stop-color="#3047ea"/><stop offset="0.8824" stop-color="#373ee4"/><stop offset="0.9118" stop-color="#3d36d9"/><stop offset="0.9412" stop-color="#422fca"/><stop offset="0.9706" stop-color="#4328b8"/><stop offset="1.0000" stop-color="#4420a5"/></linearGradient></defs>
<rect x="30.3" y="516.2" width="474.6" height="5.2" fill="url(#g516)" stroke="#555" stroke-width="0.5"/>
<path d="M30.30 516.2V521.4" stroke="#333" stroke-width="0.6" stroke-opacity="0.6"/>
<path d="M86.14 516.2V521.4" stroke="#333" stroke-width="0.6" stroke-opacity="0.6"/>
<path d="M141.97 516.2V521.4" stroke="#333" stroke-width="0.6" stroke-opacity="0.6"/>
<path d="M197.81 516.2V521.4" stroke="#333" stroke-width="0.6" stroke-opacity="0.6"/>
<path d="M253.64 516.2V521.4" stroke="#333" stroke-width="0.6" stroke-opacity="0.6"/>
<path d="M309.48 516.2V521.4" stroke="#333" stroke-width="0.6" stroke-opacity="0.6"/>
<path d="M365.31 516.2V521.4" stroke="#333" stroke-width="0.6" stroke-opacity="0.6"/>
<path d="M421.15 516.2V521.4" stroke="#333" stroke-width="0.6" stroke-opacity="0.6"/>
<path d="M476.98 516.2V521.4" stroke="#333" stroke-width="0.6" stroke-opacity="0.6"/>
<text x="30.30" y="532.5" class="t">10</text>
<text x="86.14" y="532.5" class="t">20</text>
<text x="141.97" y="532.5" class="t">30</text>
<text x="197.81" y="532.5" class="t">40</text>
<text x="253.64" y="532.5" class="t">50</text>
<text x="309.48" y="532.5" class="t">60</text>
<text x="365.31" y="532.5" class="t">70</text>
<text x="421.15" y="532.5" class="t">80</text>
<text x="476.98" y="532.5" class="t">90</text>
<text x="267.7" y="542.0" class="t" style="font-size:7.9px">RH (%)</text>
</svg></div></body></html>
